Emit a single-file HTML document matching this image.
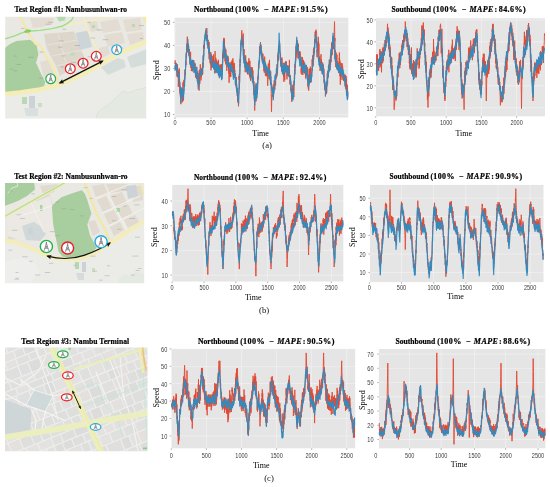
<!DOCTYPE html>
<html lang="en"><head><meta charset="utf-8"><title>Test regions speed prediction</title>
<style>
html,body{margin:0;padding:0;background:#fff;}
body{width:550px;height:487px;overflow:hidden;position:relative;}
svg{position:absolute;left:0;top:0;display:block;}
.tk{font-family:"Liberation Sans",sans-serif;font-size:6.8px;fill:#3a3a3a;}
.tt{font-family:"Liberation Serif",serif;font-weight:bold;font-size:9px;fill:#000;stroke:#000;stroke-width:0.22px;}
.tm{letter-spacing:0.45px;font-size:8.6px;}
.mt{font-family:"Liberation Serif",serif;font-weight:bold;}
.mi{font-family:"Liberation Serif",serif;font-weight:bold;font-style:italic;}
.al{font-family:"Liberation Serif",serif;font-size:8px;fill:#000;}
.cap{font-family:"Liberation Serif",serif;font-size:8.7px;fill:#111;}
</style></head>
<body>
<svg width="550" height="487" viewBox="0 0 550 487">
<defs>
<clipPath id="c1"><rect x="5.2" y="16.8" width="141" height="101.6"/></clipPath>
<clipPath id="c2"><rect x="5" y="183" width="139.2" height="100.2"/></clipPath>
<clipPath id="c3"><rect x="5" y="347.6" width="142.6" height="103.6"/></clipPath>
<filter id="bl" x="-5%" y="-5%" width="110%" height="110%"><feGaussianBlur stdDeviation="0.45"/></filter>
<g id="tower" fill="none" stroke="#7d7d7d" stroke-width="0.62" stroke-linecap="round" stroke-linejoin="round">
<path d="M0,-3.7 L-0.45,-1.3 L-2,3.5 M0,-3.7 L0.45,-1.3 L2,3.5 M-0.75,-0.2 L0.75,-0.2 M-1.25,1.5 L1.25,1.5 M-0.75,-0.2 L1.25,1.5 M0.75,-0.2 L-1.25,1.5 M0,-3.7 L0,-1.6"/>
</g>
<marker id="ah" viewBox="0 0 10 10" refX="8.5" refY="5" markerUnits="userSpaceOnUse" markerWidth="5.2" markerHeight="4.6" orient="auto-start-reverse"><path d="M0,0.8 L10,5 L0,9.2 L2.2,5 Z" fill="#111"/></marker>
<marker id="ah3" viewBox="0 0 10 10" refX="8.5" refY="5" markerUnits="userSpaceOnUse" markerWidth="4" markerHeight="3.4" orient="auto-start-reverse"><path d="M0,0.8 L10,5 L0,9.2 L2.2,5 Z" fill="#111"/></marker>
<marker id="ah1" viewBox="0 0 10 10" refX="7.6" refY="5" markerUnits="userSpaceOnUse" markerWidth="6" markerHeight="5" orient="auto-start-reverse"><path d="M0,0.6 L10,5 L0,9.4 L1.6,5 Z" fill="#111"/></marker>
</defs>
<text class="tt" x="70.8" y="12.2" text-anchor="middle" textLength="112.5" lengthAdjust="spacingAndGlyphs">Test Region #1: Nambusunhwan-ro</text>
<g clip-path="url(#c1)"><g filter="url(#bl)">
<rect x="0" y="12" width="152" height="112" fill="#EAE8E3"/>
<polygon points="3,94.2 20,92.5 40,89.5 58.5,85 72,79.5 84,73.8 96,66.8 107,59.8 122,52 140,44.5 150,40 150,122 0,122" fill="#EBECE8" />
<polygon points="96,122 98,112 106,106 114,100 118,96 123,91 128,93 136,90 150,86 150,122" fill="#E4E9E2" />
<polyline points="96,118 98,112 106,106 114,100 118,96 123,91 128,93 136,90 148,87" fill="none" stroke="#D6DFD3" stroke-width="0.7" stroke-linecap="round" stroke-linejoin="round" />
<polygon points="44,34 74,31.5 77,40 82,52 86,60 76,66 66,72 60,76 56,66 50,55 46,46" fill="#DDD6CA" />
<polyline points="47,45 78,40" fill="none" stroke="#E9E5DE" stroke-width="0.8" stroke-linecap="round" stroke-linejoin="round" />
<polyline points="52,56 82,50" fill="none" stroke="#E9E5DE" stroke-width="0.8" stroke-linecap="round" stroke-linejoin="round" />
<polyline points="57,66 86,58" fill="none" stroke="#E9E5DE" stroke-width="0.8" stroke-linecap="round" stroke-linejoin="round" />
<polyline points="58,34 68,70" fill="none" stroke="#E9E5DE" stroke-width="0.8" stroke-linecap="round" stroke-linejoin="round" />
<polygon points="30,18 54,18 52,24 42,27 33,28" fill="#E2DCD2" />
<polygon points="100,22 118,19 121,30 103,33" fill="#E2DCD2" />
<polygon points="104,35 122,32 125,43 108,47" fill="#E2DCD2" />
<polygon points="123,20 140,18 142,30 126,32" fill="#E2DCD2" />
<polygon points="127,34 143,32 144,40 130,45" fill="#E2DCD2" />
<polygon points="99,48 108,46 110,54 101,58" fill="#E2DCD2" />
<polygon points="40,62 48,60 54,74 50,80 44,78" fill="#E2DCD2" />
<polygon points="88,22 97,21 99,30 91,32" fill="#E2DCD2" />
<polygon points="75.5,33 88,30.5 92,47 80,50" fill="#CDD5D8" />
<polygon points="101,67 118,58 124,60 126,67 108,75" fill="#D5DDDB" />
<polygon points="127,57 147,49 147,64 131,68" fill="#D5DDDB" />
<polygon points="3,49.5 10,44 16.4,41 30,39.7 36.5,44.5 38.4,54.5 36,62.7 40.9,73.6 45.2,82 43.6,88 28,91.3 3,94" fill="#A8CE9F" />
<polygon points="56,16 66,16 64.5,20.5 59,21.5" fill="#B5D9AC" />
<polygon points="92,25 95,25 95,28 92,28" fill="#B5DDAC" />
<polygon points="132,24 135,24 135,27 132,27" fill="#B5DDAC" />
<polygon points="70,53 74,52 75,55 71,56" fill="#BDDCB5" />
<polygon points="22,97 27,97 27,104 22,104" fill="#B9D9B4" />
<polygon points="29,96 35,96 35,108 29,108" fill="#CBD3D6" />
<polygon points="24,108 38,108 38,116 26,116" fill="#D9DEDF" />
<polygon points="38,103 42,103 42,107 38,107" fill="#C5DFC0" />
<polyline points="66,25 83.6,22 100,18.6 112,16" fill="none" stroke="#F4EEBC" stroke-width="1.7" stroke-linecap="round" stroke-linejoin="round" />
<polyline points="83,16 88,31 94.3,44 96.7,47.5 100,60" fill="none" stroke="#F4EEBC" stroke-width="1.5" stroke-linecap="round" stroke-linejoin="round" />
<polyline points="19,15 27.5,31.2 35.5,44 40.2,45.5 46,56.6 53.3,66.8 57.6,80 58.5,85" fill="none" stroke="#F3EAA6" stroke-width="2.0" stroke-linecap="round" stroke-linejoin="round" />
<polyline points="3,94.2 20,92.5 40,89.5 58.5,85 72,79.5 84,73.8 96,66.8 107,59.8 122,52 140,44.5 150,40" fill="none" stroke="#F4EDB6" stroke-width="4.4" stroke-linecap="round" stroke-linejoin="round" />
<polygon points="143,16 147,16 147,23 144,22.5" fill="#F3EAA6" />
<polyline points="3,39.6 14,36.2 22,32.8 27.5,31.2 40,30.4 52,28.6 61.8,26.3 67,23.6 71.6,20.3 74,15" fill="none" stroke="#9BE084" stroke-width="1.4" stroke-linecap="round" stroke-linejoin="round" />
<ellipse cx="27.6" cy="31.2" rx="3.4" ry="1.4" fill="#7ED068" transform="rotate(-12 27.6 31.2)"/>
<circle cx="26.8" cy="29.6" r="0.9" fill="#E8B84B"/><circle cx="28.6" cy="32.8" r="0.8" fill="#E8B84B"/>
<rect x="39.4" y="51.6" width="4.1" height="1" fill="#8f8f8a" opacity="0.4"/>
<rect x="87.7" y="56.3" width="3.2" height="1" fill="#8f8f8a" opacity="0.4"/>
<rect x="9.7" y="68.6" width="3.8" height="1" fill="#8f8f8a" opacity="0.4"/>
<rect x="38.9" y="77.7" width="4.4" height="1" fill="#8f8f8a" opacity="0.4"/>
<rect x="118.4" y="47.6" width="4.9" height="1" fill="#8f8f8a" opacity="0.4"/>
<rect x="27.9" y="56.8" width="5.6" height="1" fill="#8f8f8a" opacity="0.4"/>
<rect x="77.1" y="63.0" width="5.0" height="1" fill="#8f8f8a" opacity="0.4"/>
<rect x="16.5" y="64.0" width="4.8" height="1" fill="#8f8f8a" opacity="0.4"/>
<rect x="47.8" y="21.8" width="5.6" height="1" fill="#8f8f8a" opacity="0.4"/>
<rect x="70.4" y="61.7" width="5.6" height="1" fill="#8f8f8a" opacity="0.4"/>
<rect x="60.1" y="66.5" width="4.3" height="1" fill="#8f8f8a" opacity="0.4"/>
<rect x="20.9" y="27.9" width="3.7" height="1" fill="#8f8f8a" opacity="0.4"/>
<rect x="90.7" y="37.5" width="4.5" height="1" fill="#8f8f8a" opacity="0.4"/>
<rect x="58.9" y="40.4" width="4.8" height="1" fill="#8f8f8a" opacity="0.4"/>
<rect x="96.6" y="29.5" width="5.6" height="1" fill="#8f8f8a" opacity="0.4"/>
<rect x="83.1" y="61.4" width="3.6" height="1" fill="#8f8f8a" opacity="0.4"/>
<rect x="45.6" y="23.7" width="5.6" height="1" fill="#8f8f8a" opacity="0.4"/>
<rect x="138.7" y="25.1" width="5.4" height="1" fill="#8f8f8a" opacity="0.4"/>
<rect x="62.2" y="28.7" width="3.9" height="1" fill="#8f8f8a" opacity="0.4"/>
<rect x="13.8" y="55.6" width="3.1" height="1" fill="#8f8f8a" opacity="0.4"/>
<rect x="102.8" y="39.2" width="5.6" height="1" fill="#8f8f8a" opacity="0.4"/>
<rect x="139.8" y="38.0" width="3.2" height="1" fill="#8f8f8a" opacity="0.4"/>
<rect x="87.2" y="21.8" width="3.6" height="1" fill="#8f8f8a" opacity="0.4"/>
<rect x="61.8" y="55.4" width="3.5" height="1" fill="#8f8f8a" opacity="0.4"/>
<rect x="13.6" y="70.3" width="3.9" height="1" fill="#8f8f8a" opacity="0.4"/>
<rect x="57.9" y="46.7" width="4.6" height="1" fill="#8f8f8a" opacity="0.4"/>
<rect x="93.0" y="54.5" width="4.7" height="1" fill="#8f8f8a" opacity="0.4"/>
<rect x="74.9" y="45.0" width="5.2" height="1" fill="#8f8f8a" opacity="0.4"/>
</g>
<line x1="59.8" y1="82.9" x2="102.6" y2="61.1" stroke="#111" stroke-width="1.3" marker-start="url(#ah1)" marker-end="url(#ah1)"/>
<ellipse cx="50.7" cy="78.8" rx="4.9" ry="4.9" fill="#fff" stroke="#22B14C" stroke-width="1.25"/><use href="#tower" transform="translate(50.7,78.89999999999999) scale(0.98,0.98)"/>
<ellipse cx="70.3" cy="68.7" rx="4.9" ry="4.9" fill="#fff" stroke="#ED1C24" stroke-width="1.25"/><use href="#tower" transform="translate(70.3,68.8) scale(0.98,0.98)"/>
<ellipse cx="83.1" cy="63.2" rx="4.9" ry="4.9" fill="#fff" stroke="#ED1C24" stroke-width="1.25"/><use href="#tower" transform="translate(83.1,63.300000000000004) scale(0.98,0.98)"/>
<ellipse cx="96.3" cy="56.3" rx="4.9" ry="4.9" fill="#fff" stroke="#ED1C24" stroke-width="1.25"/><use href="#tower" transform="translate(96.3,56.4) scale(0.98,0.98)"/>
<ellipse cx="116.7" cy="49.7" rx="4.9" ry="4.9" fill="#fff" stroke="#27A9E1" stroke-width="1.25"/><use href="#tower" transform="translate(116.7,49.800000000000004) scale(0.98,0.98)"/>
</g>
<text class="tt" x="70.9" y="178.8" text-anchor="middle" textLength="113.4" lengthAdjust="spacingAndGlyphs">Test Region #2: Nambusunhwan-ro</text>
<g clip-path="url(#c2)"><g filter="url(#bl)">
<rect x="0" y="178" width="150" height="110" fill="#EAE8E3"/>
<polygon points="2,239.6 14,242.2 27.3,246.6 46.4,255.6 58,258.6 68.2,259.7 80,258.5 90,255.2 100,250.2 109,244.2 128.2,231.4 146,220.6 150,290 0,290" fill="#EBECE8" />
<polygon points="118,290 119,278 124,274 130,276 136,272 146,274 146,290" fill="#E4E9E2" />
<polygon points="5,262 20,258 34,262 40,272 30,283 5,283" fill="#EEEFEC" />
<polygon points="92,186 104,184 108,194 96,197" fill="#E0DAD0" />
<polygon points="106,184 128,184 130,190 110,193" fill="#E0DAD0" />
<polygon points="97,200 106,196 112,208 103,212" fill="#E0DAD0" />
<polygon points="110,196 122,192 127,203 116,208" fill="#E0DAD0" />
<polygon points="104,214 114,210 119,220 109,225" fill="#E0DAD0" />
<polygon points="117,209 128,204 133,214 122,219" fill="#E0DAD0" />
<polygon points="110,227 120,222 124,230 114,236" fill="#E0DAD0" />
<polygon points="124,220 135,215 139,222 128,228" fill="#E0DAD0" />
<polygon points="131,186 142,186 143,200 133,202" fill="#E0DAD0" />
<polygon points="88,222 95,220 100,232 93,236" fill="#E0DAD0" />
<polygon points="40,186 58,184 54,192 44,196" fill="#E0DAD0" />
<polygon points="36,200 50,194 52,204 40,210" fill="#E0DAD0" />
<polygon points="8,222 20,218 24,226 10,232" fill="#E0DAD0" />
<polygon points="8,234 20,232 22,238 8,240" fill="#E0DAD0" />
<polygon points="42,212 52,210 53,226 46,232" fill="#E0DAD0" />
<polygon points="126,186 136,185 138,196 128,199" fill="#CBD3D6" />
<polygon points="8,214 30,204 50,196 52,206 54,226 56,240 44,244 20,240 8,236" fill="#ECE8E3" />
<polygon points="22,226 34,222 40,226 46,234 40,241 26,240" fill="#D0D8DA" />
<polygon points="28,228 32,227 33,234 29,235" fill="#CBD3D6" />
<polygon points="72.3,193.2 81.8,190.3 85,194 87.3,200 91.4,213.6 87.3,224.5 90,235.5 96.8,247.7 90,254 81.8,257.5 68,259.7 62,256 58.6,251.8 55.9,238.2 53.2,224.5 51.8,205.5 61.4,197.3" fill="#A8CE9F" />
<polygon points="3,181 34,181 35,189.5 27,196 18,201 10,204 3,206.5" fill="#A8CE9F" />
<polyline points="8,193 12,188 18,186 17,183" fill="none" stroke="#D9E8D3" stroke-width="1.0" stroke-linecap="round" stroke-linejoin="round" />
<polygon points="116,208 120,208 120,212 116,212" fill="#A9D59F" />
<polygon points="40,205 42.5,205 42.5,211 40,211" fill="#A9D59F" />
<polygon points="75,262 79,262 79,269 75,269" fill="#B5D9AE" />
<polygon points="82,262 86,262 86,272 82,272" fill="#CBD3D6" />
<polygon points="92,268 95,268 95,272 92,272" fill="#C5DFC0" />
<polygon points="76,273 84,273 84,280 78,280" fill="#D6DCDD" />
<polyline points="96,198 130,184" fill="none" stroke="#F6F4EF" stroke-width="0.9" stroke-linecap="round" stroke-linejoin="round" />
<polyline points="102,213 140,196" fill="none" stroke="#F6F4EF" stroke-width="0.9" stroke-linecap="round" stroke-linejoin="round" />
<polyline points="108,226 144,208" fill="none" stroke="#F6F4EF" stroke-width="0.9" stroke-linecap="round" stroke-linejoin="round" />
<polyline points="108,194 128,232" fill="none" stroke="#F6F4EF" stroke-width="0.9" stroke-linecap="round" stroke-linejoin="round" />
<polyline points="20,216 52,206" fill="none" stroke="#F6F4EF" stroke-width="0.9" stroke-linecap="round" stroke-linejoin="round" />
<polyline points="30,200 44,232" fill="none" stroke="#F6F4EF" stroke-width="0.9" stroke-linecap="round" stroke-linejoin="round" />
<polyline points="84,181 90.5,197.7 97.3,215.5 102.7,225 106,232 109.6,239.5" fill="none" stroke="#F3E89E" stroke-width="2.0" stroke-linecap="round" stroke-linejoin="round" />
<polyline points="139.5,184 141.5,189 145,196" fill="none" stroke="#F3E89E" stroke-width="1.6" stroke-linecap="round" stroke-linejoin="round" />
<polyline points="2,239.6 14,242.2 27.3,246.6 46.4,255.6 58,258.6 68.2,259.7 80,258.5 90,255.2 100,250.2 109,244.2 128.2,231.4 146,220.6" fill="none" stroke="#F4EDB8" stroke-width="3.8" stroke-linecap="round" stroke-linejoin="round" />
<polyline points="3,217.3 20,207.8 40,196.6 55,188.3 66,182" fill="none" stroke="#F4ECB2" stroke-width="2.6" stroke-linecap="round" stroke-linejoin="round" />
<polyline points="3,217.3 20,207.8 40,196.6 55,188.3 66,182" fill="none" stroke="#A9E092" stroke-width="1.1" stroke-linecap="round" stroke-linejoin="round" />
<rect x="90.2" y="255.7" width="5.4" height="0.9" fill="#9a9a96" opacity="0.45"/>
<rect x="132.4" y="255.6" width="5.8" height="0.9" fill="#9a9a96" opacity="0.45"/>
<rect x="11.8" y="229.8" width="5.8" height="0.9" fill="#9a9a96" opacity="0.45"/>
<rect x="93.7" y="270.7" width="3.3" height="0.9" fill="#9a9a96" opacity="0.45"/>
<rect x="69.9" y="209.2" width="4.6" height="0.9" fill="#9a9a96" opacity="0.45"/>
<rect x="83.8" y="187.2" width="3.7" height="0.9" fill="#9a9a96" opacity="0.45"/>
<rect x="44.9" y="272.1" width="5.3" height="0.9" fill="#9a9a96" opacity="0.45"/>
<rect x="29.1" y="260.9" width="3.4" height="0.9" fill="#9a9a96" opacity="0.45"/>
<rect x="89.5" y="197.9" width="3.0" height="0.9" fill="#9a9a96" opacity="0.45"/>
<rect x="123.0" y="205.7" width="3.6" height="0.9" fill="#9a9a96" opacity="0.45"/>
<rect x="137.7" y="268.0" width="3.9" height="0.9" fill="#9a9a96" opacity="0.45"/>
<rect x="134.9" y="236.7" width="5.0" height="0.9" fill="#9a9a96" opacity="0.45"/>
<rect x="35.0" y="274.5" width="5.1" height="0.9" fill="#9a9a96" opacity="0.45"/>
<rect x="135.6" y="270.0" width="3.9" height="0.9" fill="#9a9a96" opacity="0.45"/>
<rect x="55.7" y="201.6" width="3.4" height="0.9" fill="#9a9a96" opacity="0.45"/>
<rect x="16.6" y="214.3" width="4.8" height="0.9" fill="#9a9a96" opacity="0.45"/>
<rect x="8.4" y="249.7" width="4.0" height="0.9" fill="#9a9a96" opacity="0.45"/>
<rect x="48.9" y="262.9" width="4.4" height="0.9" fill="#9a9a96" opacity="0.45"/>
<rect x="49.7" y="231.2" width="5.1" height="0.9" fill="#9a9a96" opacity="0.45"/>
<rect x="15.5" y="277.7" width="3.1" height="0.9" fill="#9a9a96" opacity="0.45"/>
<rect x="107.0" y="265.4" width="3.1" height="0.9" fill="#9a9a96" opacity="0.45"/>
<rect x="112.0" y="220.4" width="4.7" height="0.9" fill="#9a9a96" opacity="0.45"/>
<rect x="9.2" y="190.4" width="3.5" height="0.9" fill="#9a9a96" opacity="0.45"/>
<rect x="134.1" y="204.5" width="5.3" height="0.9" fill="#9a9a96" opacity="0.45"/>
<rect x="130.7" y="274.6" width="4.0" height="0.9" fill="#9a9a96" opacity="0.45"/>
<rect x="54.8" y="235.3" width="5.3" height="0.9" fill="#9a9a96" opacity="0.45"/>
<rect x="22.3" y="256.3" width="5.4" height="0.9" fill="#9a9a96" opacity="0.45"/>
<rect x="121.5" y="189.4" width="5.8" height="0.9" fill="#9a9a96" opacity="0.45"/>
<rect x="20.0" y="218.0" width="4.8" height="0.9" fill="#9a9a96" opacity="0.45"/>
<rect x="129.2" y="218.0" width="5.8" height="0.9" fill="#9a9a96" opacity="0.45"/>
<rect x="80.0" y="215.4" width="4.0" height="0.9" fill="#9a9a96" opacity="0.45"/>
<rect x="31.4" y="193.4" width="3.4" height="0.9" fill="#9a9a96" opacity="0.45"/>
<rect x="99.0" y="279.7" width="3.5" height="0.9" fill="#9a9a96" opacity="0.45"/>
<rect x="14.4" y="278.7" width="4.6" height="0.9" fill="#9a9a96" opacity="0.45"/>
<rect x="61.6" y="208.3" width="4.8" height="0.9" fill="#9a9a96" opacity="0.45"/>
<rect x="117.1" y="228.8" width="4.3" height="0.9" fill="#9a9a96" opacity="0.45"/>
<rect x="15.4" y="272.1" width="3.1" height="0.9" fill="#9a9a96" opacity="0.45"/>
<rect x="73.2" y="264.8" width="3.4" height="0.9" fill="#9a9a96" opacity="0.45"/>
<rect x="104.6" y="275.3" width="4.9" height="0.9" fill="#9a9a96" opacity="0.45"/>
<rect x="112.0" y="196.0" width="4.3" height="0.9" fill="#9a9a96" opacity="0.45"/>
</g>
<path d="M47.4,256.1 C58,258.9 72,259.4 84,255.4 C94,252 104,246.8 110,243" fill="none" stroke="#111" stroke-width="1.2" marker-start="url(#ah1)" marker-end="url(#ah1)"/>
<ellipse cx="46.4" cy="246.5" rx="6.1" ry="6.1" fill="#fff" stroke="#22B14C" stroke-width="1.4"/><use href="#tower" transform="translate(46.4,246.6) scale(1.15,1.15)"/>
<ellipse cx="67.6" cy="248.0" rx="6.0" ry="6.0" fill="#fff" stroke="#ED1C24" stroke-width="1.4"/><use href="#tower" transform="translate(67.6,248.1) scale(1.15,1.15)"/>
<ellipse cx="101.1" cy="241.8" rx="6.1" ry="6.1" fill="#fff" stroke="#27A9E1" stroke-width="1.4"/><use href="#tower" transform="translate(101.1,241.9) scale(1.15,1.15)"/>
</g>
<text class="tt" x="75.2" y="343.8" text-anchor="middle" textLength="107.9" lengthAdjust="spacingAndGlyphs">Test Region #3: Nambu Terminal</text>
<g clip-path="url(#c3)"><g filter="url(#bl)">
<rect x="0" y="343" width="152" height="112" fill="#EEEEED"/>
<g transform="rotate(-22 76 400)">
<rect x="-40.0" y="300.0" width="11.4" height="8.2" fill="#DCDCDB"/>
<rect x="-27.5" y="300.0" width="10.5" height="8.2" fill="#E4E0DD"/>
<rect x="-15.9" y="300.0" width="8.4" height="8.2" fill="#E4E0DD"/>
<rect x="-6.4" y="300.0" width="10.7" height="8.2" fill="#E4E0DD"/>
<rect x="5.4" y="300.0" width="13.2" height="8.2" fill="#E0E0DF"/>
<rect x="19.8" y="300.0" width="10.5" height="8.2" fill="#DEDEDD"/>
<rect x="31.3" y="300.0" width="7.6" height="8.2" fill="#DFDFDF"/>
<rect x="40.1" y="300.0" width="12.0" height="8.2" fill="#E4E0DD"/>
<rect x="53.1" y="300.0" width="14.8" height="8.2" fill="#DCDCDB"/>
<rect x="69.0" y="300.0" width="12.1" height="8.2" fill="#E4E0DD"/>
<rect x="82.2" y="300.0" width="12.1" height="8.2" fill="#E4E0DD"/>
<rect x="95.4" y="300.0" width="7.0" height="8.2" fill="#E4E0DD"/>
<rect x="103.5" y="300.0" width="7.4" height="8.2" fill="#E0E0DF"/>
<rect x="112.1" y="300.0" width="8.4" height="8.2" fill="#DEDEDD"/>
<rect x="121.6" y="300.0" width="11.7" height="8.2" fill="#DCDCDB"/>
<rect x="134.4" y="300.0" width="9.5" height="8.2" fill="#E4E0DD"/>
<rect x="145.0" y="300.0" width="13.6" height="8.2" fill="#E4E0DD"/>
<rect x="159.7" y="300.0" width="8.8" height="8.2" fill="#E3E2E0"/>
<rect x="169.6" y="300.0" width="10.9" height="8.2" fill="#DFDFDF"/>
<rect x="181.6" y="300.0" width="7.6" height="8.2" fill="#DFDFDF"/>
<rect x="190.3" y="300.0" width="9.1" height="8.2" fill="#E4E0DD"/>
<rect x="-40.0" y="309.3" width="13.6" height="10.9" fill="#DFDFDF"/>
<rect x="-25.3" y="309.3" width="8.9" height="10.9" fill="#DEDEDD"/>
<rect x="-15.2" y="309.3" width="11.0" height="10.9" fill="#E0E0DF"/>
<rect x="-3.1" y="309.3" width="7.5" height="10.9" fill="#E0E0DF"/>
<rect x="5.4" y="309.3" width="10.1" height="10.9" fill="#E3E2E0"/>
<rect x="16.6" y="309.3" width="10.0" height="10.9" fill="#E0E0DF"/>
<rect x="27.7" y="309.3" width="13.7" height="10.9" fill="#E0E0DF"/>
<rect x="42.5" y="309.3" width="8.6" height="10.9" fill="#E0E0DF"/>
<rect x="52.2" y="309.3" width="10.7" height="10.9" fill="#DFDFDF"/>
<rect x="64.0" y="309.3" width="10.1" height="10.9" fill="#E0E0DF"/>
<rect x="75.1" y="309.3" width="11.4" height="10.9" fill="#DEDEDD"/>
<rect x="87.7" y="309.3" width="13.1" height="10.9" fill="#E3E2E0"/>
<rect x="101.9" y="309.3" width="9.6" height="10.9" fill="#E3E2E0"/>
<rect x="112.6" y="309.3" width="9.6" height="10.9" fill="#DCDCDB"/>
<rect x="123.3" y="309.3" width="13.0" height="10.9" fill="#E0E0DF"/>
<rect x="137.3" y="309.3" width="8.0" height="10.9" fill="#DFDFDF"/>
<rect x="146.4" y="309.3" width="7.7" height="10.9" fill="#E0E0DF"/>
<rect x="155.2" y="309.3" width="10.6" height="10.9" fill="#DCDCDB"/>
<rect x="166.9" y="309.3" width="8.3" height="10.9" fill="#E4E0DD"/>
<rect x="176.3" y="309.3" width="8.4" height="10.9" fill="#E4E0DD"/>
<rect x="185.9" y="309.3" width="8.4" height="10.9" fill="#DFDFDF"/>
<rect x="195.4" y="309.3" width="13.1" height="10.9" fill="#DCDCDB"/>
<rect x="-40.0" y="321.2" width="7.8" height="9.1" fill="#DCDCDB"/>
<rect x="-31.1" y="321.2" width="14.8" height="9.1" fill="#E0E0DF"/>
<rect x="-15.1" y="321.2" width="9.1" height="9.1" fill="#E4E0DD"/>
<rect x="-5.0" y="321.2" width="9.3" height="9.1" fill="#E0E0DF"/>
<rect x="5.4" y="321.2" width="8.6" height="9.1" fill="#DCDCDB"/>
<rect x="15.1" y="321.2" width="14.9" height="9.1" fill="#E4E0DD"/>
<rect x="31.1" y="321.2" width="12.0" height="9.1" fill="#E0E0DF"/>
<rect x="44.2" y="321.2" width="7.2" height="9.1" fill="#DEDEDD"/>
<rect x="52.6" y="321.2" width="8.6" height="9.1" fill="#E3E2E0"/>
<rect x="62.3" y="321.2" width="7.0" height="9.1" fill="#E4E0DD"/>
<rect x="70.4" y="321.2" width="9.5" height="9.1" fill="#E3E2E0"/>
<rect x="81.0" y="321.2" width="10.0" height="9.1" fill="#E0E0DF"/>
<rect x="92.1" y="321.2" width="7.6" height="9.1" fill="#E4E0DD"/>
<rect x="100.8" y="321.2" width="12.0" height="9.1" fill="#E0E0DF"/>
<rect x="113.9" y="321.2" width="11.7" height="9.1" fill="#E3E2E0"/>
<rect x="126.7" y="321.2" width="11.9" height="9.1" fill="#DEDEDD"/>
<rect x="139.7" y="321.2" width="14.6" height="9.1" fill="#DCDCDB"/>
<rect x="155.3" y="321.2" width="13.6" height="9.1" fill="#DEDEDD"/>
<rect x="170.0" y="321.2" width="13.8" height="9.1" fill="#DEDEDD"/>
<rect x="184.9" y="321.2" width="11.9" height="9.1" fill="#E3E2E0"/>
<rect x="198.0" y="321.2" width="14.2" height="9.1" fill="#E4E0DD"/>
<rect x="-40.0" y="331.5" width="8.4" height="7.1" fill="#DFDFDF"/>
<rect x="-30.5" y="331.5" width="11.9" height="7.1" fill="#E4E0DD"/>
<rect x="-17.4" y="331.5" width="8.5" height="7.1" fill="#DCDCDB"/>
<rect x="-7.9" y="331.5" width="14.0" height="7.1" fill="#E4E0DD"/>
<rect x="7.2" y="331.5" width="7.5" height="7.1" fill="#E0E0DF"/>
<rect x="15.8" y="331.5" width="7.7" height="7.1" fill="#E0E0DF"/>
<rect x="24.6" y="331.5" width="11.0" height="7.1" fill="#E3E2E0"/>
<rect x="36.7" y="331.5" width="8.8" height="7.1" fill="#DFDFDF"/>
<rect x="46.6" y="331.5" width="10.0" height="7.1" fill="#DCDCDB"/>
<rect x="57.8" y="331.5" width="13.5" height="7.1" fill="#E4E0DD"/>
<rect x="72.4" y="331.5" width="10.8" height="7.1" fill="#E4E0DD"/>
<rect x="84.3" y="331.5" width="8.3" height="7.1" fill="#DFDFDF"/>
<rect x="93.7" y="331.5" width="14.7" height="7.1" fill="#DEDEDD"/>
<rect x="109.5" y="331.5" width="8.7" height="7.1" fill="#E4E0DD"/>
<rect x="119.3" y="331.5" width="12.1" height="7.1" fill="#E4E0DD"/>
<rect x="132.6" y="331.5" width="11.8" height="7.1" fill="#E3E2E0"/>
<rect x="145.5" y="331.5" width="8.6" height="7.1" fill="#DEDEDD"/>
<rect x="155.2" y="331.5" width="12.9" height="7.1" fill="#E0E0DF"/>
<rect x="169.2" y="331.5" width="9.1" height="7.1" fill="#DCDCDB"/>
<rect x="179.3" y="331.5" width="8.9" height="7.1" fill="#E0E0DF"/>
<rect x="189.3" y="331.5" width="8.3" height="7.1" fill="#E3E2E0"/>
<rect x="198.7" y="331.5" width="11.1" height="7.1" fill="#DEDEDD"/>
<rect x="-40.0" y="339.7" width="8.0" height="6.4" fill="#DCDCDB"/>
<rect x="-30.9" y="339.7" width="14.7" height="6.4" fill="#DFDFDF"/>
<rect x="-15.0" y="339.7" width="12.8" height="6.4" fill="#E4E0DD"/>
<rect x="-1.2" y="339.7" width="11.6" height="6.4" fill="#DEDEDD"/>
<rect x="11.5" y="339.7" width="11.6" height="6.4" fill="#E0E0DF"/>
<rect x="24.2" y="339.7" width="10.7" height="6.4" fill="#E3E2E0"/>
<rect x="36.0" y="339.7" width="12.5" height="6.4" fill="#E0E0DF"/>
<rect x="49.6" y="339.7" width="7.1" height="6.4" fill="#DFDFDF"/>
<rect x="57.8" y="339.7" width="7.5" height="6.4" fill="#E0E0DF"/>
<rect x="66.4" y="339.7" width="12.7" height="6.4" fill="#E3E2E0"/>
<rect x="80.2" y="339.7" width="8.0" height="6.4" fill="#E0E0DF"/>
<rect x="89.3" y="339.7" width="7.5" height="6.4" fill="#E4E0DD"/>
<rect x="97.9" y="339.7" width="9.8" height="6.4" fill="#E0E0DF"/>
<rect x="108.9" y="339.7" width="14.1" height="6.4" fill="#DFDFDF"/>
<rect x="124.1" y="339.7" width="12.8" height="6.4" fill="#DEDEDD"/>
<rect x="138.0" y="339.7" width="13.2" height="6.4" fill="#E3E2E0"/>
<rect x="152.3" y="339.7" width="9.7" height="6.4" fill="#DFDFDF"/>
<rect x="163.1" y="339.7" width="10.7" height="6.4" fill="#E0E0DF"/>
<rect x="174.9" y="339.7" width="13.9" height="6.4" fill="#DCDCDB"/>
<rect x="189.9" y="339.7" width="14.5" height="6.4" fill="#E0E0DF"/>
<rect x="-40.0" y="347.2" width="11.5" height="10.2" fill="#E4E0DD"/>
<rect x="-27.4" y="347.2" width="12.2" height="10.2" fill="#DCDCDB"/>
<rect x="-14.1" y="347.2" width="11.6" height="10.2" fill="#E4E0DD"/>
<rect x="-1.5" y="347.2" width="7.5" height="10.2" fill="#E0E0DF"/>
<rect x="7.1" y="347.2" width="12.0" height="10.2" fill="#E3E2E0"/>
<rect x="20.2" y="347.2" width="13.9" height="10.2" fill="#DFDFDF"/>
<rect x="35.3" y="347.2" width="9.5" height="10.2" fill="#DFDFDF"/>
<rect x="45.9" y="347.2" width="12.5" height="10.2" fill="#DCDCDB"/>
<rect x="59.5" y="347.2" width="10.4" height="10.2" fill="#E4E0DD"/>
<rect x="71.0" y="347.2" width="7.6" height="10.2" fill="#E4E0DD"/>
<rect x="79.7" y="347.2" width="7.1" height="10.2" fill="#E4E0DD"/>
<rect x="87.9" y="347.2" width="7.6" height="10.2" fill="#E0E0DF"/>
<rect x="96.6" y="347.2" width="8.7" height="10.2" fill="#DFDFDF"/>
<rect x="106.4" y="347.2" width="7.8" height="10.2" fill="#E4E0DD"/>
<rect x="115.3" y="347.2" width="12.2" height="10.2" fill="#DCDCDB"/>
<rect x="128.6" y="347.2" width="8.9" height="10.2" fill="#E0E0DF"/>
<rect x="138.7" y="347.2" width="9.8" height="10.2" fill="#DEDEDD"/>
<rect x="149.6" y="347.2" width="12.3" height="10.2" fill="#DEDEDD"/>
<rect x="163.0" y="347.2" width="11.0" height="10.2" fill="#E3E2E0"/>
<rect x="175.2" y="347.2" width="12.2" height="10.2" fill="#DCDCDB"/>
<rect x="188.5" y="347.2" width="10.9" height="10.2" fill="#DEDEDD"/>
<rect x="-40.0" y="358.5" width="12.2" height="7.5" fill="#DEDEDD"/>
<rect x="-26.7" y="358.5" width="12.0" height="7.5" fill="#DEDEDD"/>
<rect x="-13.6" y="358.5" width="13.9" height="7.5" fill="#DCDCDB"/>
<rect x="1.4" y="358.5" width="8.7" height="7.5" fill="#E3E2E0"/>
<rect x="11.2" y="358.5" width="8.6" height="7.5" fill="#DEDEDD"/>
<rect x="20.9" y="358.5" width="10.9" height="7.5" fill="#E0E0DF"/>
<rect x="32.9" y="358.5" width="12.6" height="7.5" fill="#E3E2E0"/>
<rect x="46.5" y="358.5" width="13.5" height="7.5" fill="#E0E0DF"/>
<rect x="61.1" y="358.5" width="10.5" height="7.5" fill="#E3E2E0"/>
<rect x="72.7" y="358.5" width="14.3" height="7.5" fill="#DCDCDB"/>
<rect x="88.1" y="358.5" width="10.0" height="7.5" fill="#E4E0DD"/>
<rect x="99.2" y="358.5" width="10.9" height="7.5" fill="#E3E2E0"/>
<rect x="111.1" y="358.5" width="12.6" height="7.5" fill="#E4E0DD"/>
<rect x="124.9" y="358.5" width="10.5" height="7.5" fill="#E0E0DF"/>
<rect x="136.5" y="358.5" width="13.5" height="7.5" fill="#E3E2E0"/>
<rect x="151.1" y="358.5" width="13.9" height="7.5" fill="#E0E0DF"/>
<rect x="166.1" y="358.5" width="12.3" height="7.5" fill="#E3E2E0"/>
<rect x="179.5" y="358.5" width="11.5" height="7.5" fill="#E3E2E0"/>
<rect x="192.1" y="358.5" width="12.1" height="7.5" fill="#E4E0DD"/>
<rect x="-40.0" y="367.1" width="8.0" height="6.0" fill="#DCDCDB"/>
<rect x="-30.9" y="367.1" width="8.4" height="6.0" fill="#E3E2E0"/>
<rect x="-21.4" y="367.1" width="8.8" height="6.0" fill="#DEDEDD"/>
<rect x="-11.5" y="367.1" width="13.3" height="6.0" fill="#DFDFDF"/>
<rect x="2.9" y="367.1" width="7.8" height="6.0" fill="#E0E0DF"/>
<rect x="11.8" y="367.1" width="11.9" height="6.0" fill="#DFDFDF"/>
<rect x="24.8" y="367.1" width="12.0" height="6.0" fill="#E3E2E0"/>
<rect x="38.0" y="367.1" width="14.6" height="6.0" fill="#DFDFDF"/>
<rect x="53.6" y="367.1" width="8.5" height="6.0" fill="#DCDCDB"/>
<rect x="63.2" y="367.1" width="8.9" height="6.0" fill="#DFDFDF"/>
<rect x="73.3" y="367.1" width="7.0" height="6.0" fill="#DCDCDB"/>
<rect x="81.3" y="367.1" width="11.2" height="6.0" fill="#E0E0DF"/>
<rect x="93.6" y="367.1" width="8.3" height="6.0" fill="#E3E2E0"/>
<rect x="103.1" y="367.1" width="13.1" height="6.0" fill="#E4E0DD"/>
<rect x="117.3" y="367.1" width="12.5" height="6.0" fill="#E4E0DD"/>
<rect x="130.9" y="367.1" width="10.9" height="6.0" fill="#DEDEDD"/>
<rect x="142.9" y="367.1" width="10.0" height="6.0" fill="#DFDFDF"/>
<rect x="154.0" y="367.1" width="14.1" height="6.0" fill="#E0E0DF"/>
<rect x="169.3" y="367.1" width="10.2" height="6.0" fill="#DFDFDF"/>
<rect x="180.6" y="367.1" width="10.0" height="6.0" fill="#DCDCDB"/>
<rect x="191.7" y="367.1" width="10.5" height="6.0" fill="#DFDFDF"/>
<rect x="-40.0" y="374.2" width="7.0" height="10.3" fill="#E4E0DD"/>
<rect x="-31.9" y="374.2" width="11.5" height="10.3" fill="#E4E0DD"/>
<rect x="-19.4" y="374.2" width="13.3" height="10.3" fill="#E3E2E0"/>
<rect x="-5.0" y="374.2" width="10.6" height="10.3" fill="#DFDFDF"/>
<rect x="6.7" y="374.2" width="14.8" height="10.3" fill="#E0E0DF"/>
<rect x="22.5" y="374.2" width="12.7" height="10.3" fill="#DFDFDF"/>
<rect x="36.3" y="374.2" width="14.3" height="10.3" fill="#E0E0DF"/>
<rect x="51.7" y="374.2" width="8.6" height="10.3" fill="#DCDCDB"/>
<rect x="61.4" y="374.2" width="14.7" height="10.3" fill="#E3E2E0"/>
<rect x="77.3" y="374.2" width="11.2" height="10.3" fill="#E3E2E0"/>
<rect x="89.6" y="374.2" width="9.0" height="10.3" fill="#DFDFDF"/>
<rect x="99.7" y="374.2" width="13.7" height="10.3" fill="#E3E2E0"/>
<rect x="114.5" y="374.2" width="10.9" height="10.3" fill="#E0E0DF"/>
<rect x="126.5" y="374.2" width="10.4" height="10.3" fill="#E4E0DD"/>
<rect x="138.1" y="374.2" width="10.3" height="10.3" fill="#E3E2E0"/>
<rect x="149.4" y="374.2" width="10.8" height="10.3" fill="#E0E0DF"/>
<rect x="161.3" y="374.2" width="8.6" height="10.3" fill="#E0E0DF"/>
<rect x="171.1" y="374.2" width="10.3" height="10.3" fill="#E0E0DF"/>
<rect x="182.5" y="374.2" width="8.3" height="10.3" fill="#E3E2E0"/>
<rect x="191.9" y="374.2" width="12.4" height="10.3" fill="#DEDEDD"/>
<rect x="-40.0" y="385.7" width="14.9" height="8.3" fill="#DFDFDF"/>
<rect x="-24.0" y="385.7" width="11.0" height="8.3" fill="#DFDFDF"/>
<rect x="-11.9" y="385.7" width="12.4" height="8.3" fill="#DCDCDB"/>
<rect x="1.7" y="385.7" width="11.5" height="8.3" fill="#DFDFDF"/>
<rect x="14.3" y="385.7" width="7.6" height="8.3" fill="#DEDEDD"/>
<rect x="23.0" y="385.7" width="10.4" height="8.3" fill="#E4E0DD"/>
<rect x="34.5" y="385.7" width="9.2" height="8.3" fill="#DFDFDF"/>
<rect x="44.8" y="385.7" width="11.4" height="8.3" fill="#DEDEDD"/>
<rect x="57.3" y="385.7" width="11.1" height="8.3" fill="#E4E0DD"/>
<rect x="69.5" y="385.7" width="9.0" height="8.3" fill="#DFDFDF"/>
<rect x="79.5" y="385.7" width="9.9" height="8.3" fill="#E4E0DD"/>
<rect x="90.6" y="385.7" width="8.6" height="8.3" fill="#DEDEDD"/>
<rect x="100.3" y="385.7" width="14.6" height="8.3" fill="#E4E0DD"/>
<rect x="116.0" y="385.7" width="9.1" height="8.3" fill="#DCDCDB"/>
<rect x="126.2" y="385.7" width="8.5" height="8.3" fill="#E4E0DD"/>
<rect x="135.8" y="385.7" width="7.8" height="8.3" fill="#E0E0DF"/>
<rect x="144.7" y="385.7" width="11.7" height="8.3" fill="#E0E0DF"/>
<rect x="157.6" y="385.7" width="11.2" height="8.3" fill="#E0E0DF"/>
<rect x="169.9" y="385.7" width="11.0" height="8.3" fill="#DCDCDB"/>
<rect x="182.0" y="385.7" width="11.3" height="8.3" fill="#E4E0DD"/>
<rect x="194.3" y="385.7" width="7.9" height="8.3" fill="#E0E0DF"/>
<rect x="-40.0" y="395.0" width="7.4" height="9.4" fill="#E4E0DD"/>
<rect x="-31.5" y="395.0" width="10.6" height="9.4" fill="#DCDCDB"/>
<rect x="-19.8" y="395.0" width="9.1" height="9.4" fill="#DCDCDB"/>
<rect x="-9.6" y="395.0" width="10.8" height="9.4" fill="#E3E2E0"/>
<rect x="2.3" y="395.0" width="10.4" height="9.4" fill="#DCDCDB"/>
<rect x="13.8" y="395.0" width="11.1" height="9.4" fill="#E0E0DF"/>
<rect x="26.0" y="395.0" width="8.4" height="9.4" fill="#E4E0DD"/>
<rect x="35.5" y="395.0" width="7.1" height="9.4" fill="#E3E2E0"/>
<rect x="43.7" y="395.0" width="7.9" height="9.4" fill="#E0E0DF"/>
<rect x="52.8" y="395.0" width="7.2" height="9.4" fill="#DEDEDD"/>
<rect x="61.1" y="395.0" width="8.7" height="9.4" fill="#DFDFDF"/>
<rect x="70.9" y="395.0" width="9.2" height="9.4" fill="#DFDFDF"/>
<rect x="81.1" y="395.0" width="9.7" height="9.4" fill="#E4E0DD"/>
<rect x="92.0" y="395.0" width="10.9" height="9.4" fill="#DCDCDB"/>
<rect x="104.0" y="395.0" width="12.7" height="9.4" fill="#E0E0DF"/>
<rect x="117.8" y="395.0" width="13.7" height="9.4" fill="#E4E0DD"/>
<rect x="132.6" y="395.0" width="8.9" height="9.4" fill="#DEDEDD"/>
<rect x="142.6" y="395.0" width="12.5" height="9.4" fill="#DCDCDB"/>
<rect x="156.3" y="395.0" width="7.1" height="9.4" fill="#DFDFDF"/>
<rect x="164.4" y="395.0" width="10.2" height="9.4" fill="#E4E0DD"/>
<rect x="175.7" y="395.0" width="11.8" height="9.4" fill="#E4E0DD"/>
<rect x="188.7" y="395.0" width="8.5" height="9.4" fill="#DFDFDF"/>
<rect x="198.3" y="395.0" width="11.2" height="9.4" fill="#DEDEDD"/>
<rect x="-40.0" y="405.5" width="13.7" height="8.5" fill="#E4E0DD"/>
<rect x="-25.2" y="405.5" width="11.6" height="8.5" fill="#DEDEDD"/>
<rect x="-12.5" y="405.5" width="8.8" height="8.5" fill="#DFDFDF"/>
<rect x="-2.6" y="405.5" width="11.9" height="8.5" fill="#E3E2E0"/>
<rect x="10.4" y="405.5" width="14.1" height="8.5" fill="#E3E2E0"/>
<rect x="25.6" y="405.5" width="11.7" height="8.5" fill="#DEDEDD"/>
<rect x="38.4" y="405.5" width="8.6" height="8.5" fill="#DEDEDD"/>
<rect x="48.2" y="405.5" width="14.0" height="8.5" fill="#DEDEDD"/>
<rect x="63.3" y="405.5" width="14.0" height="8.5" fill="#DEDEDD"/>
<rect x="78.4" y="405.5" width="12.7" height="8.5" fill="#E3E2E0"/>
<rect x="92.2" y="405.5" width="10.0" height="8.5" fill="#DCDCDB"/>
<rect x="103.3" y="405.5" width="13.6" height="8.5" fill="#DCDCDB"/>
<rect x="118.0" y="405.5" width="11.2" height="8.5" fill="#DFDFDF"/>
<rect x="130.3" y="405.5" width="7.9" height="8.5" fill="#DCDCDB"/>
<rect x="139.3" y="405.5" width="11.9" height="8.5" fill="#E0E0DF"/>
<rect x="152.3" y="405.5" width="7.7" height="8.5" fill="#E4E0DD"/>
<rect x="161.1" y="405.5" width="12.4" height="8.5" fill="#E3E2E0"/>
<rect x="174.6" y="405.5" width="7.8" height="8.5" fill="#E4E0DD"/>
<rect x="183.5" y="405.5" width="12.0" height="8.5" fill="#E3E2E0"/>
<rect x="196.6" y="405.5" width="10.9" height="8.5" fill="#DFDFDF"/>
<rect x="-40.0" y="415.1" width="13.3" height="10.1" fill="#DCDCDB"/>
<rect x="-25.6" y="415.1" width="7.7" height="10.1" fill="#E0E0DF"/>
<rect x="-16.7" y="415.1" width="13.0" height="10.1" fill="#E4E0DD"/>
<rect x="-2.6" y="415.1" width="11.0" height="10.1" fill="#E4E0DD"/>
<rect x="9.5" y="415.1" width="10.8" height="10.1" fill="#DEDEDD"/>
<rect x="21.3" y="415.1" width="8.4" height="10.1" fill="#DEDEDD"/>
<rect x="30.8" y="415.1" width="8.3" height="10.1" fill="#DEDEDD"/>
<rect x="40.2" y="415.1" width="14.8" height="10.1" fill="#DFDFDF"/>
<rect x="56.1" y="415.1" width="7.7" height="10.1" fill="#E0E0DF"/>
<rect x="64.9" y="415.1" width="8.0" height="10.1" fill="#DFDFDF"/>
<rect x="74.0" y="415.1" width="10.6" height="10.1" fill="#E0E0DF"/>
<rect x="85.6" y="415.1" width="9.5" height="10.1" fill="#DCDCDB"/>
<rect x="96.3" y="415.1" width="10.3" height="10.1" fill="#E3E2E0"/>
<rect x="107.7" y="415.1" width="10.3" height="10.1" fill="#E4E0DD"/>
<rect x="119.1" y="415.1" width="9.9" height="10.1" fill="#DFDFDF"/>
<rect x="130.1" y="415.1" width="12.5" height="10.1" fill="#DEDEDD"/>
<rect x="143.7" y="415.1" width="8.4" height="10.1" fill="#DCDCDB"/>
<rect x="153.2" y="415.1" width="9.8" height="10.1" fill="#E3E2E0"/>
<rect x="164.0" y="415.1" width="10.1" height="10.1" fill="#DEDEDD"/>
<rect x="175.3" y="415.1" width="11.7" height="10.1" fill="#E0E0DF"/>
<rect x="188.1" y="415.1" width="11.0" height="10.1" fill="#E0E0DF"/>
<rect x="-40.0" y="426.3" width="7.6" height="7.5" fill="#DFDFDF"/>
<rect x="-31.3" y="426.3" width="13.9" height="7.5" fill="#DFDFDF"/>
<rect x="-16.3" y="426.3" width="14.4" height="7.5" fill="#E4E0DD"/>
<rect x="-0.8" y="426.3" width="11.7" height="7.5" fill="#E4E0DD"/>
<rect x="12.0" y="426.3" width="11.6" height="7.5" fill="#E3E2E0"/>
<rect x="24.7" y="426.3" width="13.3" height="7.5" fill="#E3E2E0"/>
<rect x="39.1" y="426.3" width="9.1" height="7.5" fill="#E0E0DF"/>
<rect x="49.3" y="426.3" width="12.9" height="7.5" fill="#DEDEDD"/>
<rect x="63.3" y="426.3" width="13.4" height="7.5" fill="#DCDCDB"/>
<rect x="77.8" y="426.3" width="8.0" height="7.5" fill="#E3E2E0"/>
<rect x="86.9" y="426.3" width="13.9" height="7.5" fill="#DFDFDF"/>
<rect x="101.9" y="426.3" width="9.9" height="7.5" fill="#DCDCDB"/>
<rect x="112.9" y="426.3" width="13.0" height="7.5" fill="#DCDCDB"/>
<rect x="127.0" y="426.3" width="8.6" height="7.5" fill="#DEDEDD"/>
<rect x="136.7" y="426.3" width="7.5" height="7.5" fill="#E3E2E0"/>
<rect x="145.2" y="426.3" width="9.3" height="7.5" fill="#E0E0DF"/>
<rect x="155.6" y="426.3" width="7.0" height="7.5" fill="#E3E2E0"/>
<rect x="163.7" y="426.3" width="14.8" height="7.5" fill="#E4E0DD"/>
<rect x="179.6" y="426.3" width="7.3" height="7.5" fill="#E3E2E0"/>
<rect x="188.0" y="426.3" width="14.5" height="7.5" fill="#DFDFDF"/>
<rect x="-40.0" y="434.9" width="8.6" height="7.4" fill="#DCDCDB"/>
<rect x="-30.3" y="434.9" width="11.5" height="7.4" fill="#E4E0DD"/>
<rect x="-17.7" y="434.9" width="7.5" height="7.4" fill="#E4E0DD"/>
<rect x="-9.1" y="434.9" width="14.9" height="7.4" fill="#DFDFDF"/>
<rect x="6.9" y="434.9" width="8.6" height="7.4" fill="#E0E0DF"/>
<rect x="16.6" y="434.9" width="13.0" height="7.4" fill="#E4E0DD"/>
<rect x="30.7" y="434.9" width="7.1" height="7.4" fill="#E4E0DD"/>
<rect x="38.9" y="434.9" width="7.8" height="7.4" fill="#DEDEDD"/>
<rect x="47.7" y="434.9" width="9.0" height="7.4" fill="#DCDCDB"/>
<rect x="57.8" y="434.9" width="10.9" height="7.4" fill="#DEDEDD"/>
<rect x="69.8" y="434.9" width="12.1" height="7.4" fill="#E0E0DF"/>
<rect x="83.0" y="434.9" width="7.7" height="7.4" fill="#E3E2E0"/>
<rect x="91.8" y="434.9" width="9.1" height="7.4" fill="#E3E2E0"/>
<rect x="102.0" y="434.9" width="11.3" height="7.4" fill="#E4E0DD"/>
<rect x="114.4" y="434.9" width="10.2" height="7.4" fill="#E4E0DD"/>
<rect x="125.7" y="434.9" width="11.4" height="7.4" fill="#E0E0DF"/>
<rect x="138.3" y="434.9" width="12.0" height="7.4" fill="#DFDFDF"/>
<rect x="151.4" y="434.9" width="7.5" height="7.4" fill="#E4E0DD"/>
<rect x="160.0" y="434.9" width="12.2" height="7.4" fill="#E0E0DF"/>
<rect x="173.3" y="434.9" width="10.0" height="7.4" fill="#DEDEDD"/>
<rect x="184.4" y="434.9" width="10.0" height="7.4" fill="#DEDEDD"/>
<rect x="195.5" y="434.9" width="13.7" height="7.4" fill="#E4E0DD"/>
<rect x="-40.0" y="443.4" width="7.4" height="9.0" fill="#DCDCDB"/>
<rect x="-31.5" y="443.4" width="10.3" height="9.0" fill="#E4E0DD"/>
<rect x="-20.2" y="443.4" width="10.1" height="9.0" fill="#E3E2E0"/>
<rect x="-9.0" y="443.4" width="9.8" height="9.0" fill="#E3E2E0"/>
<rect x="1.9" y="443.4" width="10.8" height="9.0" fill="#E3E2E0"/>
<rect x="13.8" y="443.4" width="11.4" height="9.0" fill="#E3E2E0"/>
<rect x="26.3" y="443.4" width="12.2" height="9.0" fill="#DFDFDF"/>
<rect x="39.6" y="443.4" width="9.3" height="9.0" fill="#E0E0DF"/>
<rect x="50.0" y="443.4" width="13.1" height="9.0" fill="#E4E0DD"/>
<rect x="64.2" y="443.4" width="7.2" height="9.0" fill="#DEDEDD"/>
<rect x="72.5" y="443.4" width="10.2" height="9.0" fill="#DFDFDF"/>
<rect x="83.8" y="443.4" width="10.0" height="9.0" fill="#E3E2E0"/>
<rect x="94.9" y="443.4" width="12.9" height="9.0" fill="#E0E0DF"/>
<rect x="108.9" y="443.4" width="11.6" height="9.0" fill="#DFDFDF"/>
<rect x="121.5" y="443.4" width="14.5" height="9.0" fill="#E0E0DF"/>
<rect x="137.1" y="443.4" width="13.3" height="9.0" fill="#DEDEDD"/>
<rect x="151.5" y="443.4" width="10.3" height="9.0" fill="#DCDCDB"/>
<rect x="162.9" y="443.4" width="8.9" height="9.0" fill="#DEDEDD"/>
<rect x="172.9" y="443.4" width="7.3" height="9.0" fill="#E0E0DF"/>
<rect x="181.3" y="443.4" width="14.4" height="9.0" fill="#DFDFDF"/>
<rect x="196.8" y="443.4" width="14.2" height="9.0" fill="#DEDEDD"/>
<rect x="-40.0" y="453.4" width="13.4" height="10.8" fill="#E4E0DD"/>
<rect x="-25.5" y="453.4" width="12.6" height="10.8" fill="#E0E0DF"/>
<rect x="-11.8" y="453.4" width="11.9" height="10.8" fill="#DCDCDB"/>
<rect x="1.2" y="453.4" width="7.8" height="10.8" fill="#E0E0DF"/>
<rect x="10.1" y="453.4" width="9.8" height="10.8" fill="#DEDEDD"/>
<rect x="21.0" y="453.4" width="7.9" height="10.8" fill="#DCDCDB"/>
<rect x="30.0" y="453.4" width="8.0" height="10.8" fill="#DCDCDB"/>
<rect x="39.1" y="453.4" width="10.5" height="10.8" fill="#E3E2E0"/>
<rect x="50.7" y="453.4" width="12.0" height="10.8" fill="#DFDFDF"/>
<rect x="63.9" y="453.4" width="10.3" height="10.8" fill="#DFDFDF"/>
<rect x="75.2" y="453.4" width="11.1" height="10.8" fill="#DEDEDD"/>
<rect x="87.5" y="453.4" width="14.5" height="10.8" fill="#DFDFDF"/>
<rect x="103.1" y="453.4" width="7.9" height="10.8" fill="#DCDCDB"/>
<rect x="112.1" y="453.4" width="7.8" height="10.8" fill="#E3E2E0"/>
<rect x="121.0" y="453.4" width="13.2" height="10.8" fill="#E4E0DD"/>
<rect x="135.3" y="453.4" width="13.7" height="10.8" fill="#E3E2E0"/>
<rect x="150.1" y="453.4" width="9.1" height="10.8" fill="#DFDFDF"/>
<rect x="160.2" y="453.4" width="12.7" height="10.8" fill="#DFDFDF"/>
<rect x="174.0" y="453.4" width="11.6" height="10.8" fill="#DFDFDF"/>
<rect x="186.8" y="453.4" width="9.1" height="10.8" fill="#DEDEDD"/>
<rect x="197.0" y="453.4" width="8.4" height="10.8" fill="#DEDEDD"/>
<rect x="-40.0" y="465.3" width="12.1" height="8.4" fill="#DEDEDD"/>
<rect x="-26.8" y="465.3" width="13.9" height="8.4" fill="#E0E0DF"/>
<rect x="-11.7" y="465.3" width="11.9" height="8.4" fill="#E0E0DF"/>
<rect x="1.3" y="465.3" width="9.1" height="8.4" fill="#DCDCDB"/>
<rect x="11.4" y="465.3" width="7.1" height="8.4" fill="#E0E0DF"/>
<rect x="19.7" y="465.3" width="7.7" height="8.4" fill="#E4E0DD"/>
<rect x="28.5" y="465.3" width="9.1" height="8.4" fill="#E0E0DF"/>
<rect x="38.7" y="465.3" width="14.2" height="8.4" fill="#DEDEDD"/>
<rect x="54.0" y="465.3" width="11.3" height="8.4" fill="#DFDFDF"/>
<rect x="66.4" y="465.3" width="14.8" height="8.4" fill="#DCDCDB"/>
<rect x="82.3" y="465.3" width="10.7" height="8.4" fill="#DEDEDD"/>
<rect x="94.1" y="465.3" width="9.6" height="8.4" fill="#DCDCDB"/>
<rect x="104.8" y="465.3" width="12.9" height="8.4" fill="#E0E0DF"/>
<rect x="118.8" y="465.3" width="13.3" height="8.4" fill="#DCDCDB"/>
<rect x="133.2" y="465.3" width="13.4" height="8.4" fill="#E4E0DD"/>
<rect x="147.7" y="465.3" width="13.6" height="8.4" fill="#DEDEDD"/>
<rect x="162.4" y="465.3" width="10.5" height="8.4" fill="#DFDFDF"/>
<rect x="173.9" y="465.3" width="9.0" height="8.4" fill="#DEDEDD"/>
<rect x="184.0" y="465.3" width="9.9" height="8.4" fill="#DFDFDF"/>
<rect x="194.9" y="465.3" width="13.6" height="8.4" fill="#E4E0DD"/>
<rect x="-40.0" y="474.8" width="11.3" height="7.5" fill="#DFDFDF"/>
<rect x="-27.6" y="474.8" width="13.5" height="7.5" fill="#DEDEDD"/>
<rect x="-13.0" y="474.8" width="10.3" height="7.5" fill="#E3E2E0"/>
<rect x="-1.6" y="474.8" width="11.5" height="7.5" fill="#DCDCDB"/>
<rect x="11.1" y="474.8" width="13.9" height="7.5" fill="#E0E0DF"/>
<rect x="26.1" y="474.8" width="11.2" height="7.5" fill="#DCDCDB"/>
<rect x="38.4" y="474.8" width="11.4" height="7.5" fill="#DCDCDB"/>
<rect x="50.9" y="474.8" width="13.4" height="7.5" fill="#DCDCDB"/>
<rect x="65.5" y="474.8" width="9.3" height="7.5" fill="#E0E0DF"/>
<rect x="75.8" y="474.8" width="7.5" height="7.5" fill="#DEDEDD"/>
<rect x="84.5" y="474.8" width="14.2" height="7.5" fill="#E4E0DD"/>
<rect x="99.7" y="474.8" width="7.6" height="7.5" fill="#E3E2E0"/>
<rect x="108.4" y="474.8" width="10.9" height="7.5" fill="#DFDFDF"/>
<rect x="120.3" y="474.8" width="9.5" height="7.5" fill="#DEDEDD"/>
<rect x="131.0" y="474.8" width="8.7" height="7.5" fill="#DFDFDF"/>
<rect x="140.7" y="474.8" width="12.7" height="7.5" fill="#E3E2E0"/>
<rect x="154.5" y="474.8" width="14.2" height="7.5" fill="#E3E2E0"/>
<rect x="169.8" y="474.8" width="12.6" height="7.5" fill="#E4E0DD"/>
<rect x="183.5" y="474.8" width="11.7" height="7.5" fill="#DFDFDF"/>
<rect x="196.2" y="474.8" width="14.2" height="7.5" fill="#DCDCDB"/>
<rect x="-40.0" y="483.5" width="14.8" height="8.6" fill="#DCDCDB"/>
<rect x="-24.1" y="483.5" width="9.4" height="8.6" fill="#DCDCDB"/>
<rect x="-13.5" y="483.5" width="14.6" height="8.6" fill="#DFDFDF"/>
<rect x="2.2" y="483.5" width="14.1" height="8.6" fill="#DEDEDD"/>
<rect x="17.4" y="483.5" width="7.6" height="8.6" fill="#E3E2E0"/>
<rect x="26.1" y="483.5" width="7.1" height="8.6" fill="#DFDFDF"/>
<rect x="34.2" y="483.5" width="10.1" height="8.6" fill="#DCDCDB"/>
<rect x="45.4" y="483.5" width="13.3" height="8.6" fill="#DFDFDF"/>
<rect x="59.8" y="483.5" width="11.4" height="8.6" fill="#DCDCDB"/>
<rect x="72.3" y="483.5" width="11.2" height="8.6" fill="#E4E0DD"/>
<rect x="84.6" y="483.5" width="11.4" height="8.6" fill="#DEDEDD"/>
<rect x="97.1" y="483.5" width="7.6" height="8.6" fill="#DCDCDB"/>
<rect x="105.8" y="483.5" width="13.9" height="8.6" fill="#E3E2E0"/>
<rect x="120.9" y="483.5" width="13.4" height="8.6" fill="#DEDEDD"/>
<rect x="135.4" y="483.5" width="11.0" height="8.6" fill="#E4E0DD"/>
<rect x="147.5" y="483.5" width="8.2" height="8.6" fill="#E3E2E0"/>
<rect x="156.8" y="483.5" width="14.6" height="8.6" fill="#DFDFDF"/>
<rect x="172.5" y="483.5" width="13.6" height="8.6" fill="#DCDCDB"/>
<rect x="187.2" y="483.5" width="7.4" height="8.6" fill="#E4E0DD"/>
<rect x="195.7" y="483.5" width="9.3" height="8.6" fill="#E4E0DD"/>
<rect x="-40.0" y="493.1" width="7.6" height="6.3" fill="#DFDFDF"/>
<rect x="-31.3" y="493.1" width="7.7" height="6.3" fill="#E3E2E0"/>
<rect x="-22.5" y="493.1" width="7.6" height="6.3" fill="#DFDFDF"/>
<rect x="-13.8" y="493.1" width="12.1" height="6.3" fill="#E0E0DF"/>
<rect x="-0.6" y="493.1" width="12.9" height="6.3" fill="#DFDFDF"/>
<rect x="13.4" y="493.1" width="10.3" height="6.3" fill="#DFDFDF"/>
<rect x="24.7" y="493.1" width="8.7" height="6.3" fill="#E4E0DD"/>
<rect x="34.5" y="493.1" width="9.6" height="6.3" fill="#DCDCDB"/>
<rect x="45.2" y="493.1" width="10.1" height="6.3" fill="#E3E2E0"/>
<rect x="56.4" y="493.1" width="13.4" height="6.3" fill="#E3E2E0"/>
<rect x="70.8" y="493.1" width="12.3" height="6.3" fill="#DCDCDB"/>
<rect x="84.2" y="493.1" width="10.8" height="6.3" fill="#DFDFDF"/>
<rect x="96.1" y="493.1" width="7.5" height="6.3" fill="#E4E0DD"/>
<rect x="104.7" y="493.1" width="14.2" height="6.3" fill="#DCDCDB"/>
<rect x="120.0" y="493.1" width="13.0" height="6.3" fill="#DFDFDF"/>
<rect x="134.1" y="493.1" width="9.7" height="6.3" fill="#E0E0DF"/>
<rect x="144.9" y="493.1" width="13.3" height="6.3" fill="#E0E0DF"/>
<rect x="159.3" y="493.1" width="14.0" height="6.3" fill="#E4E0DD"/>
<rect x="174.4" y="493.1" width="12.0" height="6.3" fill="#E4E0DD"/>
<rect x="187.5" y="493.1" width="9.8" height="6.3" fill="#E0E0DF"/>
<rect x="198.4" y="493.1" width="13.3" height="6.3" fill="#DCDCDB"/>
</g>
<polyline points="5,378 20,385 38,372 46,356" fill="none" stroke="#F4F3F1" stroke-width="1.1" stroke-linecap="round" stroke-linejoin="round" />
<polyline points="36,348 44,372 52,394 58,420" fill="none" stroke="#F4F3F1" stroke-width="1.1" stroke-linecap="round" stroke-linejoin="round" />
<polyline points="110,360 122,392 132,420 138,451" fill="none" stroke="#F4F3F1" stroke-width="1.1" stroke-linecap="round" stroke-linejoin="round" />
<polyline points="96,372 108,402" fill="none" stroke="#F4F3F1" stroke-width="1.1" stroke-linecap="round" stroke-linejoin="round" />
<polyline points="5,408 30,414" fill="none" stroke="#F4F3F1" stroke-width="1.1" stroke-linecap="round" stroke-linejoin="round" />
<polyline points="120,356 124,400" fill="none" stroke="#F4F3F1" stroke-width="1.1" stroke-linecap="round" stroke-linejoin="round" />
<polygon points="3,399 31.5,409.6 30.5,429.5 20.5,432 3,435" fill="#CED6D7" />
<polygon points="34,390.1 53,396 45,411.8 26,405.3" fill="#D0D9D9" />
<polyline points="34,390.1 53,396 45,411.8 26,405.3 34,390.1" fill="none" stroke="#F1F3F2" stroke-width="0.9" stroke-linecap="round" stroke-linejoin="round" />
<polyline points="3,392.8 26,405.3 45,411.8 65,420.6" fill="none" stroke="#F4F4F3" stroke-width="1.2" stroke-linecap="round" stroke-linejoin="round" />
<polyline points="34,390.1 21,380" fill="none" stroke="#F4F4F3" stroke-width="1.2" stroke-linecap="round" stroke-linejoin="round" />
<polyline points="53,396 66,393.5" fill="none" stroke="#F4F4F3" stroke-width="1.2" stroke-linecap="round" stroke-linejoin="round" />
<polyline points="45,411.8 42,429" fill="none" stroke="#F4F4F3" stroke-width="1.2" stroke-linecap="round" stroke-linejoin="round" />
<polyline points="31.5,409.6 36,420 35,432" fill="none" stroke="#F4F4F3" stroke-width="1.2" stroke-linecap="round" stroke-linejoin="round" />
<polyline points="76.9,389.4 96.7,383.3 102.8,399.7 83,405.8" fill="none" stroke="#BDE7DA" stroke-width="0.8" stroke-linecap="round" stroke-linejoin="round" />
<polyline points="102.8,399.7 120,394 148,382" fill="none" stroke="#BDE7DA" stroke-width="0.8" stroke-linecap="round" stroke-linejoin="round" />
<polyline points="104,404 118,420 122,436" fill="none" stroke="#BDE7DA" stroke-width="0.8" stroke-linecap="round" stroke-linejoin="round" />
<polyline points="100,348 104,358 108,366" fill="none" stroke="#BDE7DA" stroke-width="0.8" stroke-linecap="round" stroke-linejoin="round" />
<polyline points="143,372 146,420 147.5,450" fill="none" stroke="#BDE7DA" stroke-width="0.8" stroke-linecap="round" stroke-linejoin="round" />
<polyline points="62,368 56,372" fill="none" stroke="#BDE7DA" stroke-width="0.8" stroke-linecap="round" stroke-linejoin="round" />
<polyline points="75,368.8 90,364.7 110,359 130,353.2 139,350.4 147,347.6" fill="none" stroke="#E8EEBC" stroke-width="2.4" stroke-linecap="round" stroke-linejoin="round" />
<polyline points="3,437.6 30,433.5 60,428.5 88,423.6 110,419.5 130,416 149,412.6" fill="none" stroke="#EBEEBE" stroke-width="6.0" stroke-linecap="round" stroke-linejoin="round" />
<polyline points="50.5,345 57,358 63.5,372 72,390 81.5,410 90,428 97,443 102,454" fill="none" stroke="#EBEEBE" stroke-width="6.0" stroke-linecap="round" stroke-linejoin="round" />
<polyline points="51.8,345 58.3,358 64.8,372 73.3,390 82.8,410 91.3,428 98.3,443 103.3,454" fill="none" stroke="#F4E58C" stroke-width="0.7" stroke-linecap="round" stroke-linejoin="round" />
<polyline points="142.5,345 143.5,356 146,370" fill="none" stroke="#F0C46C" stroke-width="1.6" stroke-linecap="round" stroke-linejoin="round" />
<polyline points="139.5,349 140.5,358 143,372" fill="none" stroke="#EEF0A8" stroke-width="2.0" stroke-linecap="round" stroke-linejoin="round" />
<circle cx="69.5" cy="348.6" r="1.6" fill="#A5D49A"/>
<rect x="143" y="447.5" width="4" height="1.6" fill="#8BC98A"/>
</g>
<line x1="72.5" y1="390.9" x2="80.6" y2="408.6" stroke="#111" stroke-width="0.95" marker-start="url(#ah3)" marker-end="url(#ah3)"/>
<ellipse cx="62.8" cy="354.3" rx="5.3" ry="3.4" fill="#fff" stroke="#22B14C" stroke-width="1.25"/><use href="#tower" transform="translate(62.8,354.40000000000003) scale(0.9,0.62)"/>
<ellipse cx="53.9" cy="365" rx="5.3" ry="3.4" fill="#fff" stroke="#22B14C" stroke-width="1.25"/><use href="#tower" transform="translate(53.9,365.1) scale(0.9,0.62)"/>
<ellipse cx="67.9" cy="375.4" rx="5.3" ry="3.5" fill="#fff" stroke="#ED1C24" stroke-width="1.25"/><use href="#tower" transform="translate(67.9,375.5) scale(0.9,0.62)"/>
<ellipse cx="66.8" cy="397.3" rx="5.3" ry="3.5" fill="#fff" stroke="#ED1C24" stroke-width="1.25"/><use href="#tower" transform="translate(66.8,397.40000000000003) scale(0.9,0.62)"/>
<ellipse cx="95.6" cy="427" rx="5.3" ry="3.3" fill="#fff" stroke="#27A9E1" stroke-width="1.25"/><use href="#tower" transform="translate(95.6,427.1) scale(0.9,0.62)"/>
</g>
<g id="plot1a"><rect x="174.5" y="17.7" width="173.8" height="99.8" fill="#E5E5E5"/>
<line x1="174.5" x2="348.3" y1="22.4" y2="22.4" stroke="#fff" stroke-width="0.5" opacity="0.7"/>
<line x1="174.5" x2="348.3" y1="45.4" y2="45.4" stroke="#fff" stroke-width="0.5" opacity="0.7"/>
<line x1="174.5" x2="348.3" y1="68.4" y2="68.4" stroke="#fff" stroke-width="0.5" opacity="0.7"/>
<line x1="174.5" x2="348.3" y1="91.4" y2="91.4" stroke="#fff" stroke-width="0.5" opacity="0.7"/>
<line x1="174.5" x2="348.3" y1="114.5" y2="114.5" stroke="#fff" stroke-width="0.5" opacity="0.7"/>
<line x1="175" x2="175" y1="17.7" y2="117.5" stroke="#fff" stroke-width="0.5" opacity="0.7"/>
<line x1="211" x2="211" y1="17.7" y2="117.5" stroke="#fff" stroke-width="0.5" opacity="0.7"/>
<line x1="247.1" x2="247.1" y1="17.7" y2="117.5" stroke="#fff" stroke-width="0.5" opacity="0.7"/>
<line x1="283.3" x2="283.3" y1="17.7" y2="117.5" stroke="#fff" stroke-width="0.5" opacity="0.7"/>
<line x1="319.5" x2="319.5" y1="17.7" y2="117.5" stroke="#fff" stroke-width="0.5" opacity="0.7"/>
<polyline points="174.9,63.0 175.0,63.9 175.1,63.6 175.2,60.4 175.3,61.6 175.5,68.9 175.6,66.9 175.7,66.0 175.8,64.1 175.9,63.4 176.0,68.1 176.1,67.9 176.2,63.3 176.3,67.0 176.4,63.6 176.6,69.3 176.7,66.8 176.8,73.5 176.9,76.5 177.0,65.4 177.1,72.5 177.2,69.4 177.3,70.5 177.4,64.2 177.5,66.8 177.7,72.4 177.8,73.4 177.9,77.3 178.0,73.6 178.1,74.9 178.2,76.3 178.3,86.8 178.4,84.0 178.5,83.4 178.6,79.9 178.8,85.3 178.9,75.7 179.0,69.9 179.1,83.2 179.2,68.3 179.3,80.6 179.4,84.9 179.5,88.0 179.6,83.0 179.7,85.6 179.9,89.9 180.0,92.5 180.1,86.0 180.2,94.4 180.3,88.9 180.4,97.0 180.5,96.8 180.6,99.4 180.7,103.1 180.8,104.2 181.0,102.9 181.1,99.2 181.2,98.6 181.3,92.9 181.4,95.6 181.5,92.3 181.6,95.1 181.7,98.1 181.8,92.2 181.9,98.6 182.1,95.4 182.2,102.4 182.3,93.9 182.4,97.8 182.5,93.8 182.6,96.1 182.7,101.3 182.8,94.5 182.9,82.4 183.0,92.0 183.2,89.2 183.3,89.4 183.4,100.6 183.5,90.1 183.6,89.9 183.7,91.4 183.8,83.0 183.9,79.8 184.0,85.9 184.1,81.2 184.3,81.3 184.4,84.9 184.5,77.3 184.6,81.9 184.7,76.5 184.8,77.6 184.9,75.3 185.0,69.5 185.1,74.3 185.2,75.4 185.4,74.6 185.5,68.1 185.6,66.8 185.7,65.7 185.8,61.5 185.9,63.1 186.0,65.1 186.1,61.3 186.2,53.8 186.3,53.9 186.5,57.8 186.6,47.6 186.7,50.1 186.8,47.7 186.9,45.8 187.0,43.4 187.1,50.7 187.2,40.6 187.3,36.7 187.4,51.8 187.6,38.8 187.7,43.6 187.8,48.0 187.9,48.3 188.0,45.4 188.1,52.5 188.2,49.3 188.3,43.6 188.4,51.5 188.5,44.4 188.7,54.5 188.8,49.9 188.9,50.4 189.0,55.9 189.1,55.3 189.2,54.9 189.3,56.4 189.4,55.0 189.5,49.1 189.6,56.7 189.8,51.5 189.9,56.3 190.0,59.5 190.1,61.4 190.2,64.2 190.3,60.2 190.4,63.0 190.5,56.6 190.6,52.0 190.7,55.7 190.9,67.9 191.0,62.8 191.1,63.4 191.2,62.7 191.3,70.7 191.4,71.1 191.5,65.8 191.6,62.0 191.7,65.2 191.8,62.3 192.0,66.3 192.1,66.7 192.2,62.1 192.3,61.8 192.4,70.9 192.5,61.4 192.6,69.0 192.7,66.2 192.8,67.0 192.9,61.8 193.1,61.6 193.2,69.8 193.3,68.7 193.4,67.4 193.5,60.1 193.6,65.8 193.7,62.7 193.8,60.2 193.9,63.2 194.0,72.8 194.2,63.2 194.3,69.1 194.4,69.8 194.5,66.9 194.6,68.6 194.7,66.0 194.8,67.7 194.9,70.8 195.0,66.5 195.1,66.2 195.3,63.5 195.4,72.8 195.5,70.5 195.6,77.5 195.7,71.4 195.8,74.4 195.9,70.7 196.0,71.3 196.1,69.1 196.2,75.9 196.4,78.5 196.5,70.4 196.6,79.0 196.7,66.9 196.8,74.0 196.9,75.9 197.0,72.3 197.1,74.7 197.2,76.6 197.3,71.6 197.5,74.2 197.6,72.5 197.7,76.6 197.8,80.8 197.9,76.3 198.0,78.4 198.1,73.0 198.2,84.2 198.3,77.9 198.4,86.7 198.6,80.6 198.7,76.6 198.8,85.8 198.9,82.2 199.0,81.4 199.1,90.6 199.2,70.4 199.3,76.9 199.4,82.9 199.5,83.0 199.7,74.8 199.8,83.7 199.9,79.9 200.0,69.4 200.1,72.5 200.2,68.8 200.3,64.3 200.4,73.0 200.5,73.5 200.6,75.5 200.8,73.9 200.9,78.1 201.0,80.4 201.1,73.2 201.2,73.7 201.3,73.0 201.4,77.4 201.5,76.6 201.6,75.4 201.7,67.8 201.9,72.4 202.0,75.0 202.1,72.2 202.2,74.6 202.3,73.0 202.4,72.9 202.5,68.9 202.6,71.2 202.7,74.2 202.8,64.6 203.0,62.1 203.1,68.1 203.2,55.5 203.3,58.5 203.4,54.5 203.5,54.9 203.6,56.3 203.7,45.1 203.8,45.4 203.9,48.1 204.1,48.3 204.2,44.9 204.3,48.8 204.4,44.4 204.5,41.5 204.6,40.6 204.7,41.1 204.8,41.5 204.9,39.8 205.0,37.2 205.2,34.9 205.3,36.8 205.4,33.9 205.5,36.1 205.6,34.1 205.7,31.5 205.8,32.9 205.9,30.3 206.0,33.3 206.1,34.4 206.3,33.6 206.4,39.7 206.5,41.1 206.6,31.0 206.7,35.5 206.8,28.1 206.9,41.0 207.0,37.2 207.1,35.2 207.2,35.9 207.4,35.1 207.5,43.7 207.6,43.8 207.7,43.0 207.8,42.2 207.9,45.4 208.0,41.4 208.1,48.8 208.2,39.9 208.3,46.2 208.5,45.5 208.6,42.0 208.7,42.9 208.8,42.0 208.9,53.7 209.0,42.4 209.1,59.2 209.2,50.6 209.3,54.0 209.4,55.5 209.6,56.7 209.7,54.8 209.8,54.1 209.9,54.1 210.0,59.4 210.1,62.9 210.2,59.0 210.3,58.1 210.4,64.4 210.5,59.1 210.7,59.3 210.8,52.0 210.9,61.6 211.0,70.3 211.1,54.0 211.2,58.0 211.3,60.5 211.4,55.6 211.5,65.9 211.6,59.6 211.8,67.9 211.9,63.3 212.0,61.5 212.1,62.2 212.2,55.8 212.3,65.2 212.4,63.8 212.5,61.3 212.6,62.5 212.7,61.4 212.9,59.7 213.0,65.5 213.1,63.6 213.2,65.6 213.3,56.4 213.4,63.0 213.5,58.2 213.6,55.6 213.7,54.3 213.8,61.4 214.0,63.3 214.1,65.5 214.2,64.5 214.3,61.1 214.4,65.2 214.5,73.3 214.6,69.0 214.7,63.9 214.8,68.2 214.9,64.7 215.1,51.1 215.2,63.7 215.3,63.4 215.4,66.8 215.5,64.1 215.6,63.7 215.7,60.8 215.8,57.8 215.9,63.7 216.0,62.8 216.2,64.2 216.3,62.7 216.4,59.7 216.5,68.3 216.6,65.1 216.7,66.2 216.8,69.1 216.9,68.2 217.0,73.1 217.1,63.0 217.3,68.7 217.4,63.7 217.5,69.1 217.6,61.5 217.7,68.2 217.8,62.0 217.9,70.1 218.0,64.9 218.1,70.5 218.2,69.5 218.4,59.8 218.5,71.0 218.6,70.8 218.7,66.2 218.8,65.6 218.9,66.5 219.0,69.2 219.1,72.2 219.2,68.7 219.3,78.2 219.5,75.0 219.6,70.6 219.7,64.8 219.8,69.9 219.9,70.5 220.0,74.3 220.1,64.7 220.2,66.9 220.3,76.3 220.4,68.2 220.6,69.3 220.7,74.7 220.8,73.9 220.9,66.7 221.0,70.4 221.1,64.3 221.2,64.0 221.3,66.9 221.4,71.1 221.5,66.0 221.7,67.9 221.8,66.7 221.9,65.9 222.0,68.0 222.1,66.7 222.2,65.9 222.3,63.8 222.4,65.4 222.5,63.1 222.6,54.0 222.8,58.9 222.9,59.0 223.0,54.8 223.1,55.1 223.2,52.9 223.3,49.3 223.4,57.8 223.5,45.5 223.6,50.7 223.7,45.1 223.9,37.9 224.0,46.8 224.1,38.4 224.2,43.8 224.3,40.8 224.4,39.9 224.5,47.6 224.6,45.7 224.7,57.1 224.8,51.1 225.0,47.5 225.1,61.1 225.2,52.0 225.3,61.8 225.4,51.7 225.5,58.6 225.6,64.4 225.7,60.3 225.8,54.6 225.9,49.4 226.1,57.8 226.2,56.2 226.3,63.1 226.4,60.4 226.5,57.5 226.6,62.6 226.7,61.6 226.8,70.8 226.9,61.1 227.0,62.8 227.2,55.5 227.3,66.9 227.4,63.4 227.5,65.5 227.6,60.1 227.7,62.3 227.8,59.5 227.9,59.6 228.0,56.1 228.1,65.0 228.3,58.0 228.4,62.5 228.5,71.1 228.6,66.9 228.7,65.0 228.8,63.9 228.9,73.6 229.0,68.7 229.1,82.8 229.2,73.7 229.4,71.3 229.5,76.6 229.6,75.8 229.7,69.0 229.8,77.2 229.9,70.9 230.0,69.6 230.1,74.7 230.2,62.2 230.3,76.4 230.5,68.7 230.6,65.4 230.7,70.8 230.8,76.9 230.9,70.8 231.0,69.4 231.1,72.0 231.2,64.9 231.3,65.8 231.4,67.1 231.6,61.5 231.7,70.8 231.8,65.5 231.9,68.5 232.0,68.9 232.1,67.2 232.2,59.9 232.3,67.9 232.4,67.8 232.5,67.3 232.7,60.9 232.8,67.4 232.9,58.3 233.0,69.4 233.1,65.6 233.2,68.8 233.3,65.7 233.4,78.0 233.5,69.4 233.6,65.3 233.8,72.2 233.9,64.2 234.0,62.8 234.1,74.2 234.2,63.4 234.3,65.5 234.4,73.6 234.5,66.8 234.6,67.8 234.7,71.6 234.9,70.5 235.0,72.0 235.1,76.2 235.2,73.7 235.3,77.6 235.4,77.9 235.5,85.7 235.6,77.1 235.7,82.5 235.8,84.2 236.0,77.2 236.1,83.1 236.2,84.9 236.3,77.3 236.4,88.6 236.5,82.3 236.6,83.0 236.7,83.9 236.8,86.3 236.9,90.8 237.1,88.9 237.2,95.8 237.3,90.7 237.4,88.9 237.5,97.2 237.6,101.0 237.7,92.7 237.8,96.8 237.9,101.0 238.0,102.8 238.2,99.2 238.3,98.1 238.4,103.6 238.5,106.4 238.6,103.4 238.7,96.4 238.8,93.8 238.9,86.9 239.0,76.0 239.1,79.8 239.3,74.0 239.4,74.2 239.5,82.5 239.6,73.1 239.7,74.3 239.8,72.2 239.9,64.6 240.0,65.7 240.1,59.1 240.2,62.2 240.4,60.9 240.5,62.4 240.6,58.7 240.7,57.5 240.8,50.6 240.9,48.7 241.0,43.6 241.1,40.7 241.2,45.2 241.3,40.0 241.5,36.5 241.6,34.8 241.7,31.7 241.8,30.3 241.9,32.0 242.0,35.2 242.1,34.8 242.2,36.1 242.3,36.6 242.4,36.0 242.6,44.6 242.7,39.3 242.8,41.6 242.9,44.6 243.0,42.1 243.1,43.3 243.2,33.5 243.3,44.1 243.4,43.4 243.5,52.3 243.7,53.2 243.8,52.8 243.9,54.5 244.0,50.6 244.1,51.0 244.2,49.3 244.3,53.3 244.4,60.4 244.5,64.2 244.6,57.8 244.8,60.8 244.9,56.5 245.0,57.2 245.1,67.6 245.2,72.2 245.3,63.7 245.4,67.1 245.5,63.2 245.6,69.3 245.7,55.3 245.9,66.2 246.0,63.2 246.1,65.0 246.2,66.8 246.3,61.0 246.4,63.4 246.5,63.1 246.6,66.0 246.7,63.1 246.8,64.3 247.0,66.7 247.1,64.0 247.2,62.4 247.3,65.8 247.4,68.3 247.5,74.1 247.6,69.9 247.7,62.7 247.8,68.8 247.9,69.3 248.1,74.6 248.2,69.4 248.3,66.7 248.4,63.8 248.5,68.6 248.6,65.8 248.7,61.8 248.8,69.2 248.9,58.2 249.0,64.0 249.2,62.5 249.3,63.5 249.4,61.3 249.5,76.7 249.6,67.2 249.7,67.0 249.8,75.3 249.9,60.7 250.0,70.4 250.1,75.6 250.3,79.0 250.4,74.1 250.5,80.7 250.6,71.3 250.7,71.2 250.8,66.9 250.9,71.2 251.0,70.8 251.1,71.7 251.2,76.4 251.4,75.2 251.5,73.1 251.6,74.7 251.7,67.0 251.8,73.5 251.9,76.8 252.0,68.8 252.1,72.9 252.2,71.2 252.3,71.1 252.5,67.6 252.6,70.1 252.7,76.5 252.8,73.3 252.9,70.7 253.0,83.2 253.1,79.5 253.2,77.5 253.3,83.1 253.4,85.4 253.6,81.5 253.7,84.8 253.8,95.1 253.9,85.7 254.0,81.5 254.1,83.7 254.2,87.7 254.3,92.5 254.4,93.5 254.5,93.1 254.7,110.5 254.8,93.4 254.9,92.3 255.0,95.7 255.1,95.5 255.2,95.7 255.3,92.1 255.4,92.7 255.5,94.4 255.6,85.1 255.8,101.6 255.9,88.7 256.0,101.0 256.1,94.2 256.2,91.2 256.3,89.6 256.4,86.3 256.5,91.0 256.6,90.0 256.7,86.6 256.9,85.6 257.0,83.6 257.1,88.6 257.2,82.9 257.3,94.0 257.4,86.5 257.5,86.0 257.6,89.2 257.7,84.6 257.8,77.8 258.0,76.4 258.1,78.3 258.2,79.4 258.3,77.9 258.4,70.3 258.5,67.9 258.6,65.5 258.7,69.4 258.8,66.9 258.9,67.8 259.1,66.0 259.2,61.8 259.3,57.9 259.4,58.3 259.5,49.2 259.6,57.0 259.7,46.5 259.8,52.0 259.9,52.2 260.0,53.8 260.2,46.6 260.3,47.5 260.4,46.8 260.5,42.1 260.6,51.1 260.7,47.1 260.8,46.5 260.9,49.9 261.0,44.7 261.1,50.5 261.3,56.0 261.4,56.2 261.5,56.7 261.6,50.9 261.7,51.8 261.8,54.4 261.9,55.8 262.0,59.4 262.1,55.0 262.2,54.2 262.4,62.1 262.5,54.3 262.6,55.1 262.7,53.4 262.8,61.3 262.9,54.4 263.0,62.0 263.1,63.0 263.2,58.5 263.3,59.5 263.5,65.0 263.6,62.9 263.7,65.3 263.8,62.4 263.9,58.9 264.0,71.1 264.1,63.8 264.2,66.2 264.3,72.6 264.4,60.5 264.6,64.1 264.7,56.6 264.8,64.6 264.9,63.3 265.0,69.7 265.1,66.9 265.2,65.7 265.3,65.5 265.4,75.8 265.5,67.3 265.7,68.0 265.8,74.1 265.9,71.6 266.0,72.2 266.1,76.2 266.2,74.2 266.3,71.2 266.4,72.4 266.5,69.8 266.6,72.7 266.8,67.1 266.9,76.4 267.0,74.4 267.1,75.7 267.2,74.6 267.3,75.2 267.4,72.9 267.5,73.5 267.6,73.8 267.7,85.8 267.9,77.3 268.0,72.2 268.1,70.3 268.2,73.4 268.3,63.6 268.4,72.1 268.5,71.7 268.6,68.6 268.7,67.0 268.8,72.2 269.0,75.1 269.1,79.0 269.2,67.1 269.3,61.3 269.4,66.0 269.5,59.8 269.6,65.0 269.7,72.8 269.8,79.4 269.9,79.0 270.1,74.4 270.2,80.6 270.3,74.3 270.4,71.4 270.5,79.4 270.6,77.4 270.7,71.5 270.8,76.4 270.9,77.0 271.0,83.5 271.2,93.4 271.3,99.0 271.4,107.8 271.5,111.8 271.6,107.5 271.7,101.4 271.8,95.3 271.9,95.5 272.0,94.7 272.1,93.6 272.3,90.6 272.4,96.3 272.5,97.0 272.6,87.5 272.7,90.7 272.8,91.1 272.9,96.7 273.0,90.4 273.1,89.3 273.2,84.6 273.4,90.9 273.5,99.2 273.6,93.3 273.7,93.0 273.8,89.4 273.9,86.7 274.0,85.8 274.1,86.5 274.2,80.4 274.3,85.0 274.5,82.9 274.6,88.3 274.7,87.7 274.8,89.7 274.9,88.6 275.0,83.4 275.1,81.3 275.2,85.8 275.3,84.8 275.4,80.7 275.6,85.1 275.7,80.8 275.8,75.2 275.9,79.3 276.0,74.9 276.1,77.5 276.2,76.1 276.3,76.2 276.4,75.0 276.5,72.4 276.7,74.9 276.8,73.0 276.9,68.1 277.0,76.3 277.1,64.4 277.2,71.1 277.3,64.0 277.4,70.3 277.5,74.0 277.6,68.3 277.8,58.1 277.9,58.2 278.0,55.1 278.1,61.1 278.2,52.6 278.3,60.6 278.4,53.9 278.5,46.0 278.6,48.8 278.7,51.5 278.9,53.1 279.0,51.7 279.1,47.5 279.2,48.5 279.3,44.1 279.4,51.6 279.5,48.2 279.6,47.4 279.7,43.3 279.8,46.3 280.0,51.6 280.1,52.8 280.2,52.9 280.3,55.2 280.4,58.3 280.5,53.5 280.6,56.2 280.7,64.5 280.8,62.0 280.9,58.1 281.1,66.9 281.2,62.0 281.3,60.6 281.4,62.0 281.5,71.4 281.6,62.3 281.7,58.8 281.8,64.3 281.9,57.4 282.0,65.8 282.2,71.5 282.3,66.2 282.4,67.9 282.5,65.4 282.6,65.0 282.7,66.4 282.8,65.2 282.9,68.3 283.0,64.3 283.1,62.8 283.3,71.7 283.4,72.1 283.5,76.7 283.6,72.0 283.7,73.1 283.8,67.8 283.9,81.9 284.0,75.1 284.1,75.3 284.2,75.9 284.4,76.4 284.5,74.0 284.6,67.0 284.7,78.7 284.8,80.4 284.9,70.3 285.0,71.2 285.1,66.9 285.2,71.6 285.3,65.8 285.5,61.8 285.6,65.5 285.7,66.3 285.8,69.2 285.9,61.5 286.0,65.6 286.1,71.6 286.2,61.4 286.3,70.5 286.4,70.2 286.6,71.9 286.7,66.2 286.8,75.8 286.9,77.8 287.0,79.3 287.1,73.7 287.2,74.7 287.3,70.8 287.4,70.4 287.5,75.7 287.7,69.4 287.8,65.0 287.9,71.6 288.0,70.5 288.1,71.7 288.2,69.1 288.3,75.8 288.4,70.8 288.5,74.5 288.6,76.5 288.8,69.9 288.9,70.6 289.0,72.6 289.1,71.4 289.2,68.0 289.3,72.4 289.4,59.9 289.5,69.8 289.6,76.7 289.7,75.1 289.9,76.2 290.0,84.6 290.1,79.7 290.2,80.7 290.3,82.4 290.4,75.4 290.5,80.0 290.6,85.1 290.7,88.7 290.8,90.6 291.0,88.2 291.1,88.9 291.2,91.0 291.3,93.1 291.4,89.5 291.5,93.3 291.6,97.3 291.7,96.9 291.8,101.9 291.9,96.8 292.1,91.2 292.2,94.2 292.3,98.9 292.4,96.8 292.5,88.4 292.6,91.1 292.7,89.7 292.8,85.1 292.9,87.6 293.0,88.3 293.2,88.3 293.3,84.2 293.4,90.9 293.5,94.2 293.6,97.6 293.7,87.1 293.8,97.0 293.9,87.9 294.0,80.7 294.1,83.2 294.3,83.5 294.4,79.1 294.5,70.8 294.6,78.9 294.7,69.4 294.8,74.5 294.9,64.2 295.0,67.7 295.1,68.2 295.2,66.8 295.4,58.7 295.5,59.0 295.6,57.3 295.7,60.7 295.8,60.0 295.9,56.7 296.0,46.4 296.1,57.3 296.2,53.4 296.3,44.9 296.5,46.0 296.6,53.9 296.7,50.6 296.8,48.1 296.9,44.6 297.0,41.9 297.1,40.1 297.2,41.8 297.3,46.6 297.4,46.7 297.6,42.6 297.7,44.3 297.8,44.6 297.9,58.4 298.0,44.2 298.1,49.2 298.2,54.1 298.3,43.7 298.4,55.2 298.5,58.0 298.7,50.9 298.8,54.9 298.9,56.3 299.0,53.9 299.1,54.7 299.2,54.6 299.3,52.5 299.4,58.3 299.5,51.2 299.6,52.9 299.8,54.9 299.9,53.2 300.0,57.5 300.1,51.6 300.2,53.9 300.3,61.5 300.4,59.1 300.5,65.1 300.6,64.3 300.7,60.1 300.9,57.8 301.0,66.3 301.1,67.4 301.2,73.8 301.3,67.9 301.4,71.6 301.5,69.9 301.6,63.8 301.7,67.3 301.8,66.6 302.0,74.8 302.1,64.1 302.2,57.2 302.3,62.9 302.4,69.0 302.5,57.3 302.6,65.2 302.7,69.5 302.8,73.1 302.9,74.9 303.1,63.3 303.2,63.0 303.3,69.6 303.4,68.4 303.5,59.9 303.6,65.8 303.7,65.8 303.8,67.9 303.9,61.8 304.0,61.5 304.2,68.9 304.3,64.9 304.4,67.4 304.5,64.2 304.6,73.3 304.7,66.4 304.8,73.4 304.9,71.3 305.0,68.1 305.1,64.5 305.3,73.0 305.4,72.9 305.5,76.7 305.6,78.5 305.7,69.3 305.8,77.8 305.9,67.7 306.0,69.7 306.1,65.3 306.2,70.4 306.4,69.7 306.5,66.2 306.6,70.1 306.7,66.5 306.8,68.1 306.9,69.9 307.0,71.9 307.1,75.9 307.2,69.3 307.3,74.0 307.5,67.4 307.6,68.1 307.7,76.7 307.8,69.0 307.9,86.5 308.0,77.3 308.1,75.4 308.2,79.1 308.3,88.7 308.4,78.3 308.6,82.0 308.7,90.6 308.8,77.2 308.9,74.4 309.0,77.6 309.1,79.8 309.2,76.8 309.3,77.5 309.4,68.7 309.5,81.7 309.7,70.8 309.8,68.5 309.9,74.2 310.0,83.0 310.1,71.3 310.2,76.9 310.3,74.5 310.4,66.7 310.5,73.4 310.6,73.8 310.8,75.9 310.9,74.7 311.0,77.7 311.1,72.3 311.2,82.3 311.3,80.0 311.4,77.2 311.5,74.1 311.6,73.1 311.7,71.0 311.9,69.3 312.0,68.0 312.1,70.8 312.2,59.2 312.3,66.8 312.4,59.8 312.5,66.4 312.6,66.9 312.7,55.5 312.8,56.5 313.0,56.6 313.1,66.1 313.2,55.0 313.3,58.5 313.4,50.3 313.5,51.7 313.6,53.0 313.7,59.4 313.8,50.3 313.9,47.6 314.1,49.8 314.2,48.2 314.3,52.9 314.4,48.4 314.5,41.4 314.6,43.8 314.7,39.2 314.8,41.9 314.9,40.5 315.0,35.2 315.2,31.6 315.3,36.5 315.4,32.8 315.5,32.0 315.6,31.4 315.7,32.9 315.8,31.6 315.9,32.6 316.0,29.7 316.1,31.0 316.3,32.3 316.4,33.4 316.5,32.5 316.6,33.2 316.7,42.8 316.8,41.2 316.9,48.6 317.0,57.1 317.1,49.3 317.2,52.3 317.4,48.1 317.5,46.9 317.6,43.2 317.7,48.1 317.8,49.8 317.9,46.4 318.0,47.4 318.1,42.5 318.2,49.2 318.3,36.8 318.5,45.5 318.6,41.3 318.7,56.3 318.8,52.5 318.9,43.6 319.0,58.1 319.1,58.6 319.2,57.0 319.3,62.0 319.4,65.7 319.6,64.9 319.7,61.2 319.8,56.2 319.9,63.3 320.0,61.8 320.1,71.0 320.2,62.8 320.3,64.5 320.4,61.5 320.5,66.8 320.7,69.2 320.8,65.7 320.9,65.2 321.0,54.2 321.1,62.1 321.2,62.5 321.3,63.1 321.4,59.0 321.5,63.6 321.6,65.4 321.8,68.5 321.9,67.3 322.0,68.5 322.1,71.9 322.2,62.4 322.3,62.1 322.4,69.2 322.5,67.3 322.6,67.0 322.7,68.8 322.9,74.7 323.0,67.4 323.1,66.8 323.2,64.6 323.3,66.2 323.4,71.3 323.5,66.2 323.6,70.4 323.7,77.2 323.8,68.6 324.0,69.2 324.1,74.9 324.2,83.0 324.3,79.1 324.4,83.6 324.5,83.0 324.6,83.1 324.7,90.2 324.8,83.7 324.9,82.4 325.1,83.8 325.2,88.5 325.3,84.9 325.4,96.5 325.5,94.1 325.6,90.3 325.7,91.4 325.8,85.8 325.9,92.8 326.0,93.1 326.2,88.1 326.3,93.7 326.4,85.9 326.5,93.5 326.6,83.5 326.7,92.8 326.8,89.7 326.9,83.3 327.0,83.3 327.1,80.1 327.3,73.2 327.4,81.5 327.5,71.3 327.6,84.3 327.7,77.4 327.8,77.9 327.9,76.7 328.0,75.7 328.1,75.7 328.2,73.0 328.4,66.0 328.5,65.5 328.6,65.1 328.7,67.2 328.8,68.8 328.9,67.6 329.0,64.1 329.1,61.3 329.2,60.7 329.3,59.5 329.5,62.7 329.6,67.1 329.7,67.9 329.8,64.1 329.9,69.9 330.0,62.2 330.1,60.8 330.2,63.8 330.3,64.0 330.4,62.5 330.6,64.7 330.7,58.9 330.8,58.3 330.9,51.5 331.0,52.9 331.1,62.1 331.2,50.3 331.3,51.3 331.4,51.4 331.5,42.5 331.7,55.6 331.8,54.2 331.9,47.0 332.0,51.0 332.1,55.0 332.2,45.0 332.3,48.0 332.4,42.8 332.5,48.4 332.6,36.9 332.8,41.2 332.9,39.1 333.0,40.1 333.1,49.2 333.2,48.4 333.3,42.3 333.4,45.3 333.5,41.2 333.6,41.6 333.7,48.8 333.9,46.8 334.0,46.1 334.1,37.9 334.2,32.4 334.3,29.5 334.4,25.5 334.5,21.6 334.6,25.6 334.7,30.5 334.8,41.4 335.0,38.1 335.1,57.0 335.2,59.1 335.3,61.6 335.4,50.5 335.5,59.4 335.6,60.7 335.7,66.8 335.8,67.2 335.9,63.0 336.1,64.3 336.2,52.6 336.3,57.1 336.4,59.4 336.5,59.8 336.6,68.5 336.7,58.8 336.8,57.4 336.9,56.9 337.0,54.7 337.2,63.1 337.3,64.3 337.4,63.2 337.5,67.2 337.6,66.4 337.7,64.5 337.8,61.1 337.9,63.5 338.0,68.7 338.1,68.2 338.3,69.3 338.4,62.9 338.5,67.8 338.6,72.7 338.7,64.1 338.8,72.9 338.9,69.3 339.0,61.5 339.1,58.4 339.2,59.3 339.4,52.5 339.5,56.5 339.6,63.4 339.7,59.3 339.8,65.0 339.9,76.2 340.0,61.6 340.1,61.9 340.2,70.9 340.3,84.6 340.5,71.5 340.6,77.3 340.7,68.1 340.8,76.0 340.9,72.6 341.0,68.1 341.1,68.6 341.2,67.8 341.3,63.1 341.4,69.6 341.6,68.9 341.7,69.8 341.8,66.7 341.9,70.0 342.0,79.8 342.1,74.7 342.2,63.3 342.3,67.2 342.4,68.4 342.5,67.2 342.7,66.6 342.8,68.2 342.9,68.3 343.0,70.3 343.1,71.9 343.2,77.9 343.3,75.9 343.4,80.3 343.5,73.5 343.6,80.1 343.8,81.1 343.9,74.5 344.0,76.7 344.1,77.3 344.2,76.7 344.3,76.8 344.4,79.8 344.5,75.8 344.6,80.0 344.7,79.2 344.9,75.3 345.0,86.4 345.1,81.2 345.2,79.9 345.3,74.8 345.4,81.3 345.5,76.3 345.6,82.1 345.7,84.0 345.8,88.8 346.0,85.8 346.1,76.0 346.2,86.9 346.3,78.5 346.4,90.4 346.5,88.9 346.6,85.2 346.7,90.4 346.8,91.3 346.9,95.6 347.1,89.5 347.2,89.4 347.3,85.5 347.4,84.7 347.5,90.8 347.6,89.3 347.7,97.6 347.8,92.5" fill="none" stroke="#E24A33" stroke-width="0.9" stroke-linejoin="round"/>
<polyline points="174.9,65.5 175.0,68.9 175.1,70.3 175.2,69.3 175.3,65.5 175.5,69.1 175.6,66.7 175.7,67.0 175.8,67.4 175.9,67.5 176.0,69.7 176.1,63.4 176.2,65.5 176.3,69.8 176.4,64.5 176.6,68.8 176.7,66.8 176.8,68.7 176.9,69.8 177.0,66.0 177.1,67.5 177.2,67.4 177.3,69.9 177.4,69.5 177.5,74.6 177.7,70.4 177.8,76.3 177.9,71.1 178.0,74.5 178.1,73.8 178.2,74.7 178.3,72.3 178.4,75.3 178.5,76.1 178.6,75.5 178.8,77.0 178.9,73.4 179.0,75.7 179.1,75.2 179.2,74.2 179.3,80.0 179.4,77.8 179.5,79.1 179.6,84.4 179.7,81.3 179.9,82.3 180.0,85.8 180.1,87.5 180.2,91.0 180.3,88.2 180.4,96.2 180.5,94.1 180.6,93.5 180.7,96.8 180.8,102.7 181.0,100.3 181.1,100.1 181.2,94.0 181.3,94.4 181.4,91.7 181.5,88.4 181.6,90.8 181.7,94.3 181.8,93.6 181.9,87.6 182.1,93.1 182.2,89.4 182.3,91.5 182.4,93.6 182.5,92.4 182.6,91.2 182.7,94.8 182.8,93.7 182.9,92.1 183.0,96.5 183.2,94.6 183.3,97.0 183.4,94.5 183.5,99.1 183.6,93.1 183.7,93.2 183.8,89.6 183.9,94.0 184.0,90.9 184.1,90.9 184.3,84.4 184.4,86.7 184.5,85.1 184.6,86.0 184.7,77.9 184.8,79.8 184.9,79.8 185.0,72.5 185.1,74.0 185.2,70.1 185.4,69.6 185.5,69.0 185.6,69.2 185.7,64.2 185.8,60.0 185.9,60.4 186.0,56.7 186.1,56.8 186.2,52.7 186.3,55.2 186.5,52.2 186.6,52.5 186.7,53.1 186.8,49.8 186.9,49.3 187.0,50.5 187.1,47.5 187.2,46.9 187.3,45.5 187.4,44.7 187.6,46.9 187.7,48.1 187.8,39.6 187.9,46.6 188.0,45.5 188.1,48.3 188.2,46.6 188.3,46.3 188.4,48.3 188.5,47.4 188.7,46.0 188.8,49.7 188.9,52.1 189.0,51.2 189.1,53.3 189.2,49.9 189.3,56.3 189.4,55.7 189.5,57.5 189.6,59.2 189.8,56.9 189.9,64.3 190.0,61.8 190.1,62.3 190.2,59.9 190.3,57.8 190.4,61.5 190.5,60.0 190.6,62.8 190.7,62.4 190.9,64.9 191.0,63.4 191.1,63.5 191.2,66.4 191.3,62.7 191.4,61.2 191.5,61.7 191.6,65.8 191.7,63.4 191.8,62.3 192.0,59.9 192.1,61.6 192.2,66.3 192.3,67.9 192.4,68.4 192.5,63.6 192.6,66.2 192.7,67.8 192.8,60.7 192.9,71.2 193.1,63.1 193.2,62.2 193.3,67.3 193.4,67.1 193.5,69.0 193.6,68.3 193.7,66.5 193.8,65.7 193.9,64.8 194.0,68.6 194.2,62.8 194.3,66.6 194.4,68.7 194.5,65.6 194.6,71.5 194.7,72.3 194.8,69.7 194.9,69.4 195.0,72.1 195.1,72.2 195.3,70.5 195.4,75.1 195.5,73.3 195.6,71.7 195.7,73.7 195.8,73.8 195.9,67.6 196.0,75.7 196.1,68.0 196.2,71.6 196.4,68.6 196.5,73.3 196.6,73.8 196.7,73.9 196.8,67.4 196.9,76.5 197.0,75.6 197.1,71.8 197.2,80.9 197.3,78.1 197.5,76.6 197.6,81.0 197.7,80.0 197.8,83.1 197.9,83.7 198.0,83.4 198.1,83.9 198.2,89.1 198.3,86.8 198.4,84.1 198.6,83.2 198.7,82.1 198.8,85.9 198.9,81.2 199.0,79.3 199.1,81.3 199.2,76.1 199.3,74.2 199.4,75.7 199.5,75.3 199.7,74.4 199.8,73.4 199.9,74.9 200.0,73.1 200.1,71.8 200.2,75.3 200.3,72.0 200.4,71.5 200.5,73.2 200.6,73.1 200.8,70.5 200.9,70.8 201.0,69.1 201.1,69.3 201.2,72.5 201.3,70.6 201.4,69.7 201.5,70.3 201.6,75.2 201.7,71.1 201.9,72.8 202.0,71.3 202.1,69.7 202.2,72.5 202.3,71.4 202.4,72.3 202.5,71.1 202.6,66.4 202.7,66.6 202.8,65.4 203.0,63.7 203.1,59.3 203.2,57.9 203.3,60.8 203.4,60.6 203.5,55.3 203.6,60.4 203.7,57.0 203.8,52.6 203.9,55.9 204.1,44.8 204.2,43.4 204.3,40.4 204.4,44.4 204.5,39.5 204.6,40.3 204.7,38.3 204.8,36.6 204.9,38.4 205.0,35.2 205.2,38.7 205.3,33.0 205.4,32.4 205.5,35.3 205.6,31.5 205.7,36.2 205.8,34.6 205.9,28.8 206.0,33.3 206.1,34.4 206.3,39.1 206.4,34.2 206.5,34.9 206.6,36.5 206.7,35.8 206.8,35.3 206.9,38.6 207.0,36.8 207.1,37.4 207.2,44.4 207.4,41.9 207.5,38.9 207.6,39.8 207.7,42.6 207.8,41.4 207.9,41.3 208.0,47.7 208.1,44.7 208.2,44.0 208.3,47.2 208.5,46.7 208.6,47.6 208.7,51.7 208.8,48.7 208.9,47.8 209.0,47.2 209.1,52.6 209.2,50.6 209.3,51.3 209.4,48.2 209.6,51.7 209.7,54.3 209.8,55.4 209.9,55.5 210.0,55.4 210.1,59.6 210.2,58.4 210.3,54.2 210.4,56.4 210.5,58.5 210.7,59.5 210.8,55.8 210.9,55.1 211.0,59.4 211.1,59.7 211.2,59.6 211.3,60.3 211.4,59.7 211.5,57.9 211.6,63.3 211.8,64.2 211.9,66.1 212.0,63.2 212.1,63.5 212.2,63.7 212.3,64.6 212.4,61.1 212.5,64.9 212.6,64.6 212.7,67.1 212.9,67.2 213.0,66.2 213.1,66.1 213.2,63.5 213.3,67.5 213.4,66.5 213.5,66.0 213.6,68.7 213.7,68.5 213.8,64.7 214.0,68.8 214.1,66.7 214.2,64.8 214.3,62.2 214.4,62.9 214.5,67.1 214.6,61.0 214.7,68.8 214.8,67.0 214.9,66.5 215.1,70.9 215.2,67.3 215.3,63.3 215.4,64.3 215.5,64.5 215.6,64.6 215.7,72.7 215.8,67.1 215.9,66.5 216.0,69.0 216.2,70.0 216.3,66.9 216.4,65.8 216.5,63.8 216.6,70.0 216.7,68.3 216.8,71.3 216.9,68.9 217.0,65.2 217.1,67.4 217.3,72.6 217.4,68.2 217.5,69.4 217.6,64.0 217.7,67.3 217.8,72.6 217.9,65.7 218.0,72.7 218.1,69.1 218.2,69.9 218.4,75.2 218.5,69.6 218.6,74.0 218.7,69.7 218.8,71.8 218.9,73.8 219.0,74.1 219.1,70.3 219.2,65.9 219.3,76.2 219.5,71.6 219.6,77.3 219.7,72.7 219.8,72.5 219.9,72.5 220.0,71.6 220.1,76.2 220.2,67.4 220.3,68.9 220.4,69.5 220.6,70.9 220.7,70.6 220.8,72.0 220.9,74.5 221.0,69.9 221.1,71.0 221.2,72.8 221.3,75.7 221.4,70.9 221.5,79.7 221.7,75.5 221.8,75.3 221.9,78.1 222.0,77.6 222.1,78.3 222.2,78.9 222.3,77.0 222.4,73.1 222.5,67.3 222.6,64.2 222.8,61.7 222.9,52.3 223.0,53.3 223.1,51.9 223.2,49.5 223.3,43.8 223.4,41.1 223.5,42.3 223.6,46.7 223.7,48.3 223.9,43.7 224.0,42.9 224.1,47.4 224.2,49.0 224.3,49.8 224.4,49.5 224.5,55.6 224.6,50.5 224.7,57.1 224.8,49.1 225.0,55.0 225.1,54.6 225.2,56.1 225.3,53.8 225.4,55.5 225.5,55.0 225.6,58.2 225.7,57.4 225.8,58.0 225.9,55.4 226.1,56.5 226.2,54.0 226.3,58.7 226.4,56.2 226.5,61.9 226.6,60.3 226.7,63.2 226.8,61.5 226.9,62.2 227.0,62.6 227.2,60.3 227.3,64.8 227.4,59.5 227.5,63.6 227.6,57.4 227.7,61.5 227.8,65.6 227.9,65.4 228.0,61.2 228.1,66.0 228.3,67.3 228.4,67.7 228.5,65.0 228.6,64.5 228.7,66.2 228.8,66.4 228.9,67.1 229.0,65.8 229.1,64.2 229.2,67.2 229.4,63.0 229.5,64.7 229.6,65.3 229.7,66.7 229.8,67.0 229.9,70.6 230.0,67.6 230.1,69.3 230.2,65.9 230.3,64.2 230.5,65.4 230.6,65.1 230.7,70.7 230.8,69.3 230.9,69.1 231.0,67.0 231.1,64.6 231.2,67.2 231.3,66.4 231.4,66.6 231.6,68.9 231.7,71.6 231.8,71.2 231.9,67.2 232.0,68.1 232.1,68.5 232.2,66.4 232.3,71.1 232.4,70.3 232.5,71.2 232.7,73.1 232.8,70.5 232.9,70.9 233.0,75.3 233.1,75.2 233.2,73.3 233.3,70.9 233.4,79.2 233.5,74.9 233.6,76.8 233.8,73.3 233.9,76.8 234.0,76.2 234.1,74.9 234.2,76.9 234.3,70.7 234.4,77.3 234.5,73.2 234.6,73.1 234.7,73.8 234.9,75.4 235.0,76.4 235.1,75.9 235.2,78.5 235.3,84.0 235.4,80.0 235.5,78.4 235.6,82.1 235.7,82.4 235.8,79.6 236.0,84.5 236.1,79.1 236.2,83.5 236.3,87.8 236.4,81.5 236.5,84.8 236.6,85.9 236.7,91.6 236.8,87.6 236.9,89.9 237.1,92.3 237.2,92.9 237.3,93.0 237.4,90.6 237.5,88.4 237.6,94.8 237.7,93.9 237.8,96.7 237.9,94.2 238.0,97.1 238.2,100.9 238.3,96.1 238.4,100.4 238.5,100.0 238.6,103.8 238.7,98.7 238.8,94.7 238.9,92.0 239.0,93.5 239.1,91.2 239.3,87.7 239.4,88.4 239.5,81.9 239.6,83.0 239.7,81.1 239.8,72.2 239.9,71.5 240.0,69.0 240.1,58.7 240.2,57.1 240.4,52.7 240.5,53.3 240.6,53.3 240.7,43.6 240.8,46.3 240.9,50.5 241.0,43.6 241.1,44.0 241.2,41.8 241.3,39.8 241.5,41.5 241.6,39.4 241.7,37.6 241.8,36.7 241.9,40.8 242.0,39.8 242.1,39.0 242.2,39.5 242.3,42.5 242.4,44.6 242.6,41.4 242.7,47.3 242.8,43.9 242.9,44.1 243.0,49.4 243.1,52.3 243.2,55.6 243.3,52.3 243.4,54.9 243.5,59.9 243.7,58.3 243.8,62.9 243.9,61.6 244.0,57.4 244.1,58.7 244.2,62.0 244.3,55.6 244.4,62.3 244.5,61.1 244.6,59.2 244.8,67.2 244.9,60.5 245.0,60.6 245.1,62.8 245.2,63.0 245.3,65.5 245.4,65.4 245.5,59.6 245.6,68.0 245.7,67.4 245.9,68.9 246.0,68.3 246.1,63.9 246.2,69.9 246.3,68.0 246.4,66.8 246.5,69.1 246.6,71.4 246.7,67.5 246.8,67.1 247.0,71.3 247.1,72.8 247.2,68.2 247.3,69.8 247.4,69.4 247.5,71.2 247.6,68.2 247.7,63.7 247.8,65.5 247.9,69.8 248.1,70.1 248.2,70.6 248.3,66.6 248.4,65.2 248.5,68.6 248.6,67.2 248.7,67.1 248.8,65.9 248.9,68.8 249.0,67.0 249.2,68.5 249.3,74.0 249.4,70.0 249.5,72.3 249.6,70.2 249.7,70.8 249.8,69.4 249.9,73.5 250.0,69.3 250.1,70.4 250.3,70.2 250.4,68.3 250.5,72.7 250.6,69.0 250.7,69.1 250.8,74.1 250.9,75.7 251.0,71.9 251.1,76.0 251.2,75.9 251.4,72.7 251.5,71.7 251.6,77.4 251.7,76.0 251.8,78.5 251.9,73.7 252.0,79.7 252.1,78.5 252.2,78.7 252.3,81.8 252.5,77.5 252.6,77.6 252.7,77.0 252.8,76.0 252.9,79.2 253.0,76.2 253.1,78.4 253.2,77.4 253.3,83.4 253.4,83.9 253.6,88.6 253.7,86.2 253.8,88.2 253.9,89.9 254.0,90.5 254.1,98.6 254.2,89.8 254.3,99.5 254.4,100.5 254.5,98.5 254.7,101.6 254.8,105.1 254.9,100.9 255.0,95.3 255.1,96.8 255.2,99.1 255.3,92.1 255.4,95.0 255.5,88.8 255.6,89.6 255.8,86.5 255.9,83.6 256.0,85.9 256.1,84.2 256.2,91.7 256.3,85.9 256.4,92.5 256.5,91.1 256.6,95.0 256.7,98.4 256.9,97.7 257.0,97.6 257.1,96.1 257.2,94.1 257.3,92.6 257.4,88.4 257.5,89.9 257.6,82.4 257.7,80.9 257.8,83.7 258.0,78.7 258.1,78.1 258.2,75.6 258.3,73.5 258.4,74.9 258.5,68.6 258.6,63.7 258.7,65.6 258.8,64.8 258.9,61.9 259.1,60.4 259.2,63.5 259.3,60.8 259.4,62.9 259.5,59.3 259.6,55.4 259.7,55.7 259.8,53.7 259.9,51.5 260.0,51.2 260.2,44.0 260.3,46.7 260.4,50.1 260.5,44.0 260.6,48.9 260.7,48.3 260.8,45.9 260.9,48.4 261.0,53.3 261.1,49.6 261.3,52.4 261.4,54.0 261.5,51.5 261.6,57.6 261.7,57.5 261.8,57.8 261.9,57.5 262.0,56.5 262.1,57.1 262.2,60.9 262.4,55.3 262.5,62.9 262.6,62.6 262.7,62.7 262.8,61.8 262.9,59.8 263.0,59.6 263.1,62.2 263.2,63.6 263.3,64.9 263.5,63.1 263.6,63.9 263.7,60.6 263.8,64.4 263.9,65.2 264.0,67.8 264.1,66.2 264.2,64.0 264.3,62.2 264.4,67.6 264.6,62.3 264.7,65.5 264.8,66.5 264.9,66.2 265.0,61.7 265.1,62.6 265.2,67.2 265.3,67.7 265.4,73.1 265.5,64.7 265.7,63.7 265.8,65.6 265.9,66.4 266.0,68.3 266.1,69.5 266.2,69.3 266.3,68.5 266.4,66.9 266.5,69.4 266.6,66.0 266.8,70.1 266.9,66.8 267.0,67.8 267.1,71.8 267.2,71.9 267.3,73.4 267.4,68.7 267.5,73.3 267.6,73.9 267.7,71.7 267.9,68.6 268.0,70.5 268.1,72.0 268.2,70.9 268.3,70.2 268.4,71.8 268.5,74.7 268.6,74.5 268.7,69.9 268.8,68.7 269.0,76.4 269.1,76.1 269.2,73.1 269.3,70.8 269.4,77.6 269.5,73.1 269.6,72.3 269.7,73.0 269.8,73.6 269.9,70.4 270.1,72.5 270.2,76.3 270.3,77.8 270.4,75.0 270.5,84.4 270.6,82.3 270.7,81.4 270.8,82.9 270.9,76.5 271.0,82.1 271.2,82.2 271.3,83.3 271.4,83.7 271.5,86.8 271.6,89.0 271.7,89.0 271.8,87.1 271.9,90.8 272.0,89.1 272.1,90.6 272.3,91.6 272.4,90.9 272.5,92.1 272.6,92.9 272.7,93.6 272.8,88.1 272.9,94.6 273.0,93.6 273.1,99.9 273.2,97.6 273.4,94.2 273.5,95.5 273.6,94.5 273.7,94.0 273.8,87.4 273.9,91.7 274.0,88.7 274.1,92.5 274.2,89.4 274.3,85.6 274.5,84.3 274.6,83.2 274.7,81.1 274.8,77.8 274.9,76.1 275.0,80.7 275.1,75.2 275.2,78.7 275.3,79.4 275.4,79.3 275.6,76.7 275.7,78.2 275.8,76.0 275.9,73.9 276.0,77.6 276.1,75.6 276.2,75.8 276.3,72.3 276.4,68.3 276.5,70.7 276.7,69.5 276.8,72.9 276.9,69.0 277.0,72.9 277.1,70.2 277.2,69.5 277.3,69.2 277.4,68.4 277.5,65.2 277.6,68.5 277.8,58.7 277.9,58.7 278.0,58.0 278.1,59.3 278.2,53.3 278.3,57.3 278.4,48.9 278.5,54.9 278.6,48.5 278.7,46.6 278.9,42.7 279.0,39.8 279.1,33.0 279.2,33.7 279.3,39.7 279.4,40.8 279.5,41.7 279.6,43.6 279.7,45.2 279.8,48.3 280.0,53.0 280.1,51.7 280.2,55.4 280.3,59.4 280.4,57.6 280.5,61.0 280.6,60.4 280.7,62.8 280.8,62.3 280.9,65.8 281.1,62.4 281.2,61.3 281.3,65.7 281.4,65.0 281.5,69.3 281.6,67.2 281.7,66.1 281.8,65.2 281.9,67.9 282.0,66.6 282.2,67.2 282.3,66.4 282.4,73.8 282.5,65.0 282.6,67.2 282.7,69.1 282.8,70.3 282.9,68.7 283.0,69.5 283.1,69.0 283.3,74.4 283.4,69.0 283.5,70.5 283.6,66.9 283.7,69.2 283.8,64.4 283.9,68.3 284.0,63.1 284.1,64.2 284.2,64.7 284.4,66.4 284.5,64.9 284.6,63.4 284.7,65.5 284.8,70.6 284.9,72.8 285.0,72.7 285.1,70.1 285.2,70.2 285.3,68.9 285.5,67.5 285.6,68.1 285.7,69.5 285.8,70.6 285.9,68.9 286.0,65.9 286.1,67.6 286.2,63.4 286.3,71.0 286.4,69.4 286.6,72.0 286.7,72.3 286.8,69.7 286.9,71.5 287.0,70.0 287.1,66.8 287.2,71.4 287.3,71.3 287.4,71.0 287.5,74.5 287.7,68.6 287.8,67.2 287.9,71.9 288.0,72.1 288.1,70.6 288.2,67.5 288.3,68.9 288.4,67.5 288.5,67.5 288.6,66.4 288.8,72.0 288.9,68.7 289.0,68.3 289.1,73.2 289.2,72.0 289.3,72.9 289.4,76.9 289.5,75.5 289.6,76.0 289.7,76.7 289.9,76.6 290.0,78.0 290.1,77.9 290.2,75.8 290.3,76.6 290.4,83.1 290.5,79.1 290.6,79.1 290.7,80.9 290.8,81.0 291.0,81.9 291.1,83.0 291.2,84.5 291.3,86.4 291.4,92.9 291.5,90.4 291.6,93.1 291.7,94.4 291.8,91.2 291.9,98.6 292.1,97.2 292.2,92.2 292.3,99.6 292.4,98.5 292.5,98.6 292.6,98.2 292.7,98.4 292.8,99.2 292.9,96.6 293.0,100.0 293.2,97.9 293.3,97.4 293.4,93.8 293.5,91.0 293.6,88.9 293.7,87.3 293.8,87.2 293.9,85.8 294.0,83.7 294.1,81.8 294.3,84.8 294.4,77.7 294.5,75.6 294.6,73.3 294.7,74.0 294.8,73.0 294.9,69.3 295.0,69.8 295.1,68.2 295.2,62.7 295.4,62.2 295.5,61.3 295.6,63.0 295.7,58.0 295.8,54.4 295.9,53.6 296.0,52.0 296.1,49.6 296.2,47.6 296.3,44.3 296.5,42.3 296.6,40.1 296.7,38.1 296.8,37.2 296.9,40.6 297.0,43.1 297.1,42.1 297.2,43.5 297.3,47.1 297.4,50.1 297.6,50.4 297.7,47.7 297.8,48.3 297.9,49.7 298.0,50.0 298.1,51.0 298.2,46.5 298.3,53.8 298.4,53.1 298.5,50.7 298.7,53.8 298.8,52.6 298.9,55.2 299.0,59.3 299.1,54.6 299.2,57.4 299.3,58.3 299.4,60.2 299.5,61.9 299.6,61.1 299.8,65.9 299.9,60.5 300.0,64.6 300.1,62.5 300.2,65.5 300.3,63.1 300.4,62.4 300.5,62.3 300.6,61.7 300.7,60.0 300.9,60.3 301.0,56.8 301.1,61.0 301.2,60.6 301.3,62.4 301.4,61.3 301.5,66.0 301.6,64.2 301.7,65.3 301.8,67.7 302.0,63.7 302.1,66.1 302.2,63.4 302.3,64.6 302.4,65.2 302.5,70.5 302.6,66.0 302.7,69.6 302.8,69.1 302.9,71.7 303.1,68.6 303.2,65.1 303.3,65.9 303.4,72.3 303.5,70.6 303.6,72.0 303.7,72.0 303.8,69.3 303.9,68.4 304.0,71.0 304.2,66.4 304.3,68.0 304.4,67.9 304.5,69.8 304.6,63.6 304.7,63.1 304.8,69.5 304.9,68.5 305.0,67.6 305.1,67.6 305.3,69.6 305.4,66.7 305.5,68.6 305.6,73.3 305.7,73.5 305.8,75.1 305.9,72.7 306.0,74.5 306.1,69.2 306.2,68.8 306.4,65.4 306.5,69.5 306.6,69.3 306.7,74.6 306.8,74.4 306.9,70.0 307.0,70.0 307.1,77.4 307.2,79.3 307.3,73.5 307.5,76.9 307.6,79.2 307.7,77.3 307.8,82.1 307.9,80.6 308.0,80.9 308.1,80.5 308.2,78.9 308.3,83.4 308.4,83.4 308.6,87.3 308.7,81.0 308.8,83.0 308.9,83.8 309.0,84.7 309.1,81.5 309.2,84.9 309.3,81.7 309.4,81.8 309.5,81.1 309.7,82.4 309.8,75.1 309.9,76.8 310.0,78.7 310.1,76.4 310.2,77.6 310.3,73.7 310.4,82.3 310.5,78.7 310.6,79.3 310.8,76.2 310.9,80.5 311.0,80.1 311.1,77.5 311.2,78.7 311.3,75.1 311.4,77.9 311.5,76.2 311.6,77.4 311.7,74.8 311.9,76.8 312.0,72.5 312.1,71.3 312.2,69.5 312.3,68.9 312.4,66.1 312.5,66.7 312.6,64.9 312.7,66.8 312.8,64.2 313.0,63.7 313.1,60.8 313.2,62.2 313.3,59.4 313.4,58.6 313.5,55.6 313.6,56.5 313.7,54.0 313.8,52.3 313.9,51.6 314.1,54.9 314.2,50.1 314.3,53.1 314.4,47.1 314.5,47.6 314.6,44.6 314.7,45.9 314.8,48.0 314.9,47.0 315.0,40.9 315.2,42.8 315.3,41.2 315.4,37.9 315.5,36.3 315.6,34.6 315.7,36.1 315.8,34.1 315.9,37.3 316.0,39.0 316.1,37.8 316.3,37.5 316.4,42.7 316.5,40.5 316.6,38.9 316.7,42.7 316.8,44.4 316.9,43.2 317.0,46.3 317.1,46.5 317.2,47.5 317.4,46.6 317.5,46.8 317.6,50.9 317.7,50.5 317.8,52.8 317.9,55.0 318.0,55.8 318.1,57.1 318.2,57.7 318.3,58.7 318.5,58.0 318.6,61.4 318.7,60.4 318.8,58.6 318.9,61.7 319.0,64.8 319.1,59.4 319.2,62.4 319.3,64.4 319.4,59.4 319.6,62.2 319.7,61.5 319.8,61.8 319.9,66.4 320.0,65.0 320.1,62.6 320.2,61.2 320.3,64.9 320.4,64.1 320.5,67.3 320.7,64.4 320.8,66.5 320.9,69.2 321.0,68.9 321.1,66.3 321.2,66.3 321.3,64.7 321.4,69.9 321.5,66.6 321.6,67.4 321.8,66.4 321.9,68.8 322.0,73.5 322.1,68.9 322.2,68.8 322.3,67.5 322.4,68.9 322.5,68.7 322.6,73.2 322.7,69.9 322.9,66.8 323.0,63.8 323.1,69.4 323.2,69.0 323.3,67.7 323.4,71.9 323.5,71.5 323.6,75.7 323.7,76.3 323.8,75.0 324.0,78.2 324.1,81.7 324.2,79.8 324.3,79.0 324.4,79.4 324.5,85.4 324.6,84.1 324.7,80.3 324.8,85.2 324.9,87.5 325.1,88.1 325.2,86.7 325.3,88.7 325.4,87.3 325.5,91.1 325.6,92.5 325.7,94.4 325.8,92.1 325.9,90.0 326.0,93.6 326.2,90.8 326.3,85.7 326.4,82.5 326.5,81.8 326.6,85.3 326.7,85.4 326.8,83.9 326.9,84.5 327.0,86.2 327.1,83.3 327.3,80.8 327.4,80.2 327.5,75.4 327.6,78.2 327.7,75.8 327.8,78.1 327.9,72.4 328.0,74.1 328.1,70.5 328.2,72.9 328.4,76.8 328.5,71.3 328.6,71.3 328.7,69.4 328.8,71.4 328.9,67.8 329.0,67.4 329.1,64.3 329.2,71.9 329.3,64.5 329.5,64.1 329.6,62.3 329.7,64.2 329.8,63.8 329.9,60.3 330.0,70.1 330.1,62.7 330.2,62.2 330.3,63.2 330.4,55.9 330.6,58.0 330.7,54.7 330.8,55.1 330.9,55.4 331.0,49.1 331.1,52.2 331.2,53.5 331.3,50.1 331.4,52.7 331.5,50.6 331.7,52.7 331.8,47.8 331.9,48.9 332.0,47.9 332.1,46.1 332.2,49.4 332.3,44.2 332.4,42.1 332.5,42.8 332.6,44.4 332.8,35.8 332.9,39.2 333.0,33.2 333.1,34.1 333.2,38.0 333.3,40.1 333.4,35.5 333.5,40.5 333.6,40.8 333.7,45.8 333.9,38.5 334.0,43.9 334.1,42.9 334.2,43.9 334.3,47.8 334.4,47.5 334.5,51.0 334.6,50.5 334.7,49.7 334.8,58.6 335.0,54.1 335.1,51.8 335.2,55.6 335.3,57.2 335.4,56.8 335.5,57.5 335.6,61.6 335.7,58.9 335.8,59.6 335.9,59.5 336.1,60.0 336.2,59.7 336.3,62.6 336.4,65.9 336.5,63.0 336.6,63.2 336.7,62.5 336.8,63.4 336.9,61.3 337.0,69.2 337.2,65.4 337.3,64.1 337.4,67.4 337.5,67.2 337.6,70.0 337.7,68.6 337.8,65.8 337.9,67.7 338.0,66.6 338.1,67.2 338.3,64.5 338.4,71.3 338.5,69.6 338.6,69.1 338.7,70.3 338.8,71.1 338.9,68.2 339.0,69.8 339.1,72.8 339.2,72.9 339.4,66.4 339.5,69.2 339.6,68.3 339.7,64.8 339.8,68.8 339.9,72.1 340.0,72.5 340.1,71.9 340.2,69.5 340.3,72.2 340.5,70.5 340.6,73.4 340.7,72.3 340.8,67.8 340.9,72.0 341.0,67.8 341.1,69.4 341.2,71.3 341.3,70.5 341.4,69.6 341.6,70.6 341.7,76.1 341.8,70.8 341.9,72.6 342.0,69.5 342.1,72.3 342.2,70.6 342.3,72.8 342.4,68.8 342.5,72.9 342.7,71.7 342.8,71.9 342.9,73.2 343.0,75.3 343.1,71.3 343.2,70.3 343.3,74.8 343.4,76.5 343.5,72.4 343.6,78.0 343.8,73.6 343.9,76.2 344.0,76.6 344.1,77.1 344.2,79.8 344.3,74.8 344.4,75.8 344.5,77.8 344.6,80.0 344.7,77.6 344.9,82.5 345.0,78.7 345.1,79.9 345.2,80.6 345.3,84.0 345.4,85.3 345.5,77.9 345.6,84.8 345.7,82.4 345.8,87.8 346.0,88.7 346.1,88.1 346.2,88.5 346.3,89.4 346.4,92.3 346.5,89.3 346.6,95.0 346.7,94.2 346.8,90.7 346.9,90.9 347.1,98.4 347.2,95.5 347.3,94.8 347.4,99.7 347.5,98.8 347.6,99.1 347.7,94.2 347.8,91.6" fill="none" stroke="#348ABD" stroke-width="1.15" stroke-linejoin="round"/>
<line x1="172.9" x2="174.5" y1="22.4" y2="22.4" stroke="#666" stroke-width="0.5"/>
<text class="tk" transform="translate(170.3,25.2) scale(0.82,1)" text-anchor="end">50</text>
<line x1="172.9" x2="174.5" y1="45.4" y2="45.4" stroke="#666" stroke-width="0.5"/>
<text class="tk" transform="translate(170.3,48.2) scale(0.82,1)" text-anchor="end">40</text>
<line x1="172.9" x2="174.5" y1="68.4" y2="68.4" stroke="#666" stroke-width="0.5"/>
<text class="tk" transform="translate(170.3,71.2) scale(0.82,1)" text-anchor="end">30</text>
<line x1="172.9" x2="174.5" y1="91.4" y2="91.4" stroke="#666" stroke-width="0.5"/>
<text class="tk" transform="translate(170.3,94.2) scale(0.82,1)" text-anchor="end">20</text>
<line x1="172.9" x2="174.5" y1="114.5" y2="114.5" stroke="#666" stroke-width="0.5"/>
<text class="tk" transform="translate(170.3,117.3) scale(0.82,1)" text-anchor="end">10</text>
<line x1="175" x2="175" y1="117.5" y2="119.1" stroke="#666" stroke-width="0.5"/>
<text class="tk" transform="translate(175.0,125.1) scale(0.82,1)" text-anchor="middle">0</text>
<line x1="211" x2="211" y1="117.5" y2="119.1" stroke="#666" stroke-width="0.5"/>
<text class="tk" transform="translate(211.0,125.1) scale(0.82,1)" text-anchor="middle">500</text>
<line x1="247.1" x2="247.1" y1="117.5" y2="119.1" stroke="#666" stroke-width="0.5"/>
<text class="tk" transform="translate(247.1,125.1) scale(0.82,1)" text-anchor="middle">1000</text>
<line x1="283.3" x2="283.3" y1="117.5" y2="119.1" stroke="#666" stroke-width="0.5"/>
<text class="tk" transform="translate(283.3,125.1) scale(0.82,1)" text-anchor="middle">1500</text>
<line x1="319.5" x2="319.5" y1="117.5" y2="119.1" stroke="#666" stroke-width="0.5"/>
<text class="tk" transform="translate(319.5,125.1) scale(0.82,1)" text-anchor="middle">2000</text>
<text class="tt" x="194.0" y="11.6" textLength="43.8" lengthAdjust="spacingAndGlyphs">Northbound (</text>
<text class="tt tm" x="238.0" y="11.6" textLength="90.0" lengthAdjust="spacingAndGlyphs">100%<tspan dx="4.8">−</tspan><tspan dx="2.6" class="mi">MAPE</tspan><tspan dx="0.6">:</tspan><tspan dx="1.3">91.5%)</tspan></text>
<text class="al" transform="translate(159.3,70.1) rotate(-90)" text-anchor="middle">Speed</text>
<text class="al" x="260.6" y="135.8" text-anchor="middle">Time</text></g>
<g id="plot1b"><rect x="376.0" y="18.2" width="169.0" height="98.1" fill="#E5E5E5"/>
<line x1="376.0" x2="545.0" y1="19.9" y2="19.9" stroke="#fff" stroke-width="0.5" opacity="0.7"/>
<line x1="376.0" x2="545.0" y1="41.8" y2="41.8" stroke="#fff" stroke-width="0.5" opacity="0.7"/>
<line x1="376.0" x2="545.0" y1="63.8" y2="63.8" stroke="#fff" stroke-width="0.5" opacity="0.7"/>
<line x1="376.0" x2="545.0" y1="85.8" y2="85.8" stroke="#fff" stroke-width="0.5" opacity="0.7"/>
<line x1="376.0" x2="545.0" y1="107.8" y2="107.8" stroke="#fff" stroke-width="0.5" opacity="0.7"/>
<line x1="375.7" x2="375.7" y1="18.2" y2="116.3" stroke="#fff" stroke-width="0.5" opacity="0.7"/>
<line x1="411" x2="411" y1="18.2" y2="116.3" stroke="#fff" stroke-width="0.5" opacity="0.7"/>
<line x1="446.2" x2="446.2" y1="18.2" y2="116.3" stroke="#fff" stroke-width="0.5" opacity="0.7"/>
<line x1="481.4" x2="481.4" y1="18.2" y2="116.3" stroke="#fff" stroke-width="0.5" opacity="0.7"/>
<line x1="516.6" x2="516.6" y1="18.2" y2="116.3" stroke="#fff" stroke-width="0.5" opacity="0.7"/>
<polyline points="376.4,71.2 376.5,67.0 376.6,54.3 376.7,59.0 376.8,68.7 377.0,67.7 377.1,60.2 377.2,56.3 377.3,68.2 377.4,67.4 377.5,54.6 377.6,60.4 377.7,64.4 377.8,66.0 377.9,61.9 378.1,62.5 378.2,70.6 378.3,66.8 378.4,66.0 378.5,63.9 378.6,70.9 378.7,65.6 378.8,67.8 378.9,67.7 379.0,66.7 379.2,67.3 379.3,65.2 379.4,60.0 379.5,60.0 379.6,64.9 379.7,59.0 379.8,57.6 379.9,49.0 380.0,55.4 380.1,51.4 380.3,59.5 380.4,56.0 380.5,56.0 380.6,64.9 380.7,60.0 380.8,56.7 380.9,67.3 381.0,61.7 381.1,51.3 381.2,66.0 381.4,60.7 381.5,72.3 381.6,68.1 381.7,55.8 381.8,62.7 381.9,53.4 382.0,60.0 382.1,53.8 382.2,57.8 382.3,58.4 382.5,63.0 382.6,55.6 382.7,63.3 382.8,47.5 382.9,51.5 383.0,57.6 383.1,57.1 383.2,48.7 383.3,61.1 383.4,54.9 383.6,49.6 383.7,49.3 383.8,53.6 383.9,52.1 384.0,46.8 384.1,49.7 384.2,52.7 384.3,43.8 384.4,48.7 384.5,46.4 384.7,47.1 384.8,49.7 384.9,40.1 385.0,41.1 385.1,44.6 385.2,49.2 385.3,50.6 385.4,45.5 385.5,43.9 385.6,43.3 385.8,40.9 385.9,47.5 386.0,45.7 386.1,45.1 386.2,42.1 386.3,44.0 386.4,38.2 386.5,40.4 386.6,37.6 386.7,41.8 386.9,43.0 387.0,33.5 387.1,32.2 387.2,35.9 387.3,29.0 387.4,26.8 387.5,23.8 387.6,26.1 387.7,29.2 387.8,36.2 388.0,38.6 388.1,27.7 388.2,41.6 388.3,35.3 388.4,31.8 388.5,43.7 388.6,35.6 388.7,49.1 388.8,33.6 388.9,40.4 389.1,48.4 389.2,45.4 389.3,51.5 389.4,47.3 389.5,53.2 389.6,56.9 389.7,44.4 389.8,44.8 389.9,52.7 390.0,48.0 390.2,47.2 390.3,56.3 390.4,52.0 390.5,54.6 390.6,57.1 390.7,59.1 390.8,56.8 390.9,63.1 391.0,59.2 391.1,68.7 391.3,60.3 391.4,56.9 391.5,62.8 391.6,63.0 391.7,64.0 391.8,57.9 391.9,72.0 392.0,72.1 392.1,65.2 392.2,71.4 392.4,73.1 392.5,74.3 392.6,90.0 392.7,82.5 392.8,81.6 392.9,81.7 393.0,75.9 393.1,80.0 393.2,81.7 393.3,86.4 393.5,86.4 393.6,90.0 393.7,89.1 393.8,91.6 393.9,91.3 394.0,104.4 394.1,108.4 394.2,109.7 394.3,107.5 394.4,103.5 394.6,104.5 394.7,102.0 394.8,96.2 394.9,95.1 395.0,93.7 395.1,94.4 395.2,92.5 395.3,93.5 395.4,92.2 395.5,95.3 395.7,96.6 395.8,99.8 395.9,100.6 396.0,100.6 396.1,97.9 396.2,99.2 396.3,98.4 396.4,94.1 396.5,94.3 396.6,87.6 396.8,96.3 396.9,82.2 397.0,83.0 397.1,85.9 397.2,84.2 397.3,82.6 397.4,73.9 397.5,76.3 397.6,71.5 397.7,72.5 397.9,73.0 398.0,77.2 398.1,77.2 398.2,74.8 398.3,70.2 398.4,69.7 398.5,61.7 398.6,68.5 398.7,66.1 398.8,59.4 399.0,60.3 399.1,58.7 399.2,53.2 399.3,60.9 399.4,56.7 399.5,53.6 399.6,56.4 399.7,64.0 399.8,68.1 399.9,55.0 400.1,53.5 400.2,51.9 400.3,62.6 400.4,65.1 400.5,61.2 400.6,57.3 400.7,54.3 400.8,56.2 400.9,54.3 401.0,54.1 401.2,53.9 401.3,54.3 401.4,55.0 401.5,52.4 401.6,47.9 401.7,46.4 401.8,46.6 401.9,44.9 402.0,45.7 402.1,52.7 402.3,43.1 402.4,51.4 402.5,40.4 402.6,45.9 402.7,40.1 402.8,43.4 402.9,44.8 403.0,44.6 403.1,46.6 403.2,47.6 403.4,41.4 403.5,41.4 403.6,44.4 403.7,36.7 403.8,34.9 403.9,40.4 404.0,39.9 404.1,40.7 404.2,33.4 404.3,37.4 404.5,32.1 404.6,39.1 404.7,41.7 404.8,30.2 404.9,37.7 405.0,34.0 405.1,31.1 405.2,23.9 405.3,21.6 405.4,23.0 405.6,28.5 405.7,29.7 405.8,36.5 405.9,38.7 406.0,34.1 406.1,32.9 406.2,38.9 406.3,40.5 406.4,37.7 406.5,33.1 406.7,37.9 406.8,40.7 406.9,34.6 407.0,47.0 407.1,34.6 407.2,34.6 407.3,34.0 407.4,33.1 407.5,42.5 407.6,45.5 407.8,37.9 407.9,42.5 408.0,45.8 408.1,49.9 408.2,44.6 408.3,47.2 408.4,54.9 408.5,46.6 408.6,52.1 408.7,53.1 408.9,47.0 409.0,54.6 409.1,45.1 409.2,55.1 409.3,63.3 409.4,62.1 409.5,63.7 409.6,55.9 409.7,62.1 409.8,68.5 410.0,60.8 410.1,62.3 410.2,60.1 410.3,69.5 410.4,59.8 410.5,67.7 410.6,57.9 410.7,66.2 410.8,54.0 410.9,64.9 411.1,56.8 411.2,70.2 411.3,58.0 411.4,47.5 411.5,59.8 411.6,59.2 411.7,74.1 411.8,68.7 411.9,67.1 412.0,64.3 412.2,69.1 412.3,63.5 412.4,68.1 412.5,67.3 412.6,73.7 412.7,70.0 412.8,69.2 412.9,69.2 413.0,75.1 413.1,68.9 413.3,73.8 413.4,72.4 413.5,60.0 413.6,73.3 413.7,71.0 413.8,66.8 413.9,71.4 414.0,66.1 414.1,69.6 414.2,71.4 414.4,67.7 414.5,61.4 414.6,66.9 414.7,69.2 414.8,75.3 414.9,70.6 415.0,72.0 415.1,65.2 415.2,69.5 415.3,62.5 415.5,73.2 415.6,70.8 415.7,72.0 415.8,68.2 415.9,77.2 416.0,63.3 416.1,77.4 416.2,71.6 416.3,72.8 416.4,75.8 416.6,63.4 416.7,67.9 416.8,59.9 416.9,60.5 417.0,59.7 417.1,64.9 417.2,48.4 417.3,54.5 417.4,55.9 417.5,54.0 417.7,58.5 417.8,54.6 417.9,57.7 418.0,53.4 418.1,51.4 418.2,54.7 418.3,59.3 418.4,55.7 418.5,59.0 418.6,56.0 418.8,55.3 418.9,58.5 419.0,68.7 419.1,62.7 419.2,64.5 419.3,56.4 419.4,52.5 419.5,66.4 419.6,56.2 419.7,57.1 419.9,58.2 420.0,54.1 420.1,49.3 420.2,52.5 420.3,53.6 420.4,51.0 420.5,55.0 420.6,47.9 420.7,46.2 420.8,49.6 421.0,45.4 421.1,46.5 421.2,50.9 421.3,37.9 421.4,44.0 421.5,44.7 421.6,42.8 421.7,36.8 421.8,25.5 421.9,36.6 422.1,37.2 422.2,36.6 422.3,44.8 422.4,38.6 422.5,31.5 422.6,28.8 422.7,30.2 422.8,29.2 422.9,25.5 423.0,30.8 423.2,27.9 423.3,22.5 423.4,32.5 423.5,30.4 423.6,33.0 423.7,33.7 423.8,30.5 423.9,32.5 424.0,34.6 424.1,35.8 424.3,29.5 424.4,42.5 424.5,40.9 424.6,44.1 424.7,45.9 424.8,43.2 424.9,48.4 425.0,51.0 425.1,53.2 425.2,52.1 425.4,65.5 425.5,57.8 425.6,63.1 425.7,55.0 425.8,65.4 425.9,64.4 426.0,72.7 426.1,66.4 426.2,64.4 426.3,61.7 426.5,77.2 426.6,83.7 426.7,81.0 426.8,80.1 426.9,82.0 427.0,86.7 427.1,85.7 427.2,85.7 427.3,91.5 427.4,99.7 427.6,89.4 427.7,96.5 427.8,101.7 427.9,104.6 428.0,107.5 428.1,103.2 428.2,99.3 428.3,98.9 428.4,92.1 428.5,78.4 428.7,96.5 428.8,95.8 428.9,96.0 429.0,85.2 429.1,77.2 429.2,87.0 429.3,83.8 429.4,71.8 429.5,76.7 429.6,75.1 429.8,74.3 429.9,78.2 430.0,69.2 430.1,76.8 430.2,75.0 430.3,74.8 430.4,73.7 430.5,72.5 430.6,76.4 430.7,73.0 430.9,67.1 431.0,77.7 431.1,71.4 431.2,70.9 431.3,71.6 431.4,58.7 431.5,73.2 431.6,66.2 431.7,58.3 431.8,57.0 432.0,63.0 432.1,63.6 432.2,61.2 432.3,62.5 432.4,61.9 432.5,52.2 432.6,54.9 432.7,55.0 432.8,60.6 432.9,58.5 433.1,64.0 433.2,57.6 433.3,51.1 433.4,53.1 433.5,39.1 433.6,52.0 433.7,47.3 433.8,58.6 433.9,63.5 434.0,53.0 434.2,51.1 434.3,59.7 434.4,55.7 434.5,55.6 434.6,58.2 434.7,58.0 434.8,58.6 434.9,62.8 435.0,61.3 435.1,56.5 435.3,59.1 435.4,58.5 435.5,59.3 435.6,55.7 435.7,60.2 435.8,57.5 435.9,60.8 436.0,59.4 436.1,52.0 436.2,53.8 436.4,55.3 436.5,48.4 436.6,53.3 436.7,46.7 436.8,50.6 436.9,56.4 437.0,51.7 437.1,49.6 437.2,53.4 437.3,51.4 437.5,53.6 437.6,45.6 437.7,47.9 437.8,46.5 437.9,56.0 438.0,44.9 438.1,49.2 438.2,37.8 438.3,39.5 438.4,36.9 438.6,45.4 438.7,41.4 438.8,39.8 438.9,38.7 439.0,30.2 439.1,33.1 439.2,36.9 439.3,29.7 439.4,41.0 439.5,36.8 439.7,40.3 439.8,33.8 439.9,35.3 440.0,39.7 440.1,31.2 440.2,26.1 440.3,26.6 440.4,24.9 440.5,23.8 440.6,24.5 440.8,27.2 440.9,32.2 441.0,32.2 441.1,36.8 441.2,53.4 441.3,39.6 441.4,43.7 441.5,49.4 441.6,45.9 441.7,52.6 441.9,28.9 442.0,49.4 442.1,52.7 442.2,57.0 442.3,57.4 442.4,48.5 442.5,61.1 442.6,63.4 442.7,59.4 442.8,75.6 443.0,78.1 443.1,65.7 443.2,71.3 443.3,72.0 443.4,84.4 443.5,84.6 443.6,82.8 443.7,86.9 443.8,86.3 443.9,93.1 444.1,82.4 444.2,83.3 444.3,85.2 444.4,87.5 444.5,92.5 444.6,99.1 444.7,97.2 444.8,100.3 444.9,101.0 445.0,100.1 445.2,99.5 445.3,99.1 445.4,93.9 445.5,84.0 445.6,82.6 445.7,76.4 445.8,87.0 445.9,78.2 446.0,80.8 446.1,72.3 446.3,66.9 446.4,68.8 446.5,62.8 446.6,68.6 446.7,63.2 446.8,69.8 446.9,66.8 447.0,62.2 447.1,60.6 447.2,65.1 447.4,60.7 447.5,69.6 447.6,59.3 447.7,63.8 447.8,60.7 447.9,69.2 448.0,63.6 448.1,65.6 448.2,54.7 448.3,65.1 448.5,59.2 448.6,59.7 448.7,61.0 448.8,49.8 448.9,72.3 449.0,66.1 449.1,58.0 449.2,55.9 449.3,58.6 449.4,58.2 449.6,65.1 449.7,64.0 449.8,59.6 449.9,55.7 450.0,53.4 450.1,55.9 450.2,53.5 450.3,54.7 450.4,58.7 450.5,57.3 450.7,51.8 450.8,52.3 450.9,59.8 451.0,57.8 451.1,53.3 451.2,63.2 451.3,53.6 451.4,50.2 451.5,53.9 451.6,56.8 451.8,51.3 451.9,52.5 452.0,46.6 452.1,55.1 452.2,44.6 452.3,49.7 452.4,39.6 452.5,52.8 452.6,53.5 452.7,48.9 452.9,48.3 453.0,59.2 453.1,51.2 453.2,55.0 453.3,49.7 453.4,56.5 453.5,58.3 453.6,59.1 453.7,51.8 453.8,54.7 454.0,48.1 454.1,58.4 454.2,57.3 454.3,55.7 454.4,48.7 454.5,54.2 454.6,49.8 454.7,46.8 454.8,57.8 454.9,54.8 455.1,51.1 455.2,46.4 455.3,61.0 455.4,57.8 455.5,52.6 455.6,51.0 455.7,48.9 455.8,48.3 455.9,43.4 456.0,44.6 456.2,38.7 456.3,49.9 456.4,45.3 456.5,36.5 456.6,31.1 456.7,38.1 456.8,36.2 456.9,39.8 457.0,34.2 457.1,26.3 457.3,29.9 457.4,39.4 457.5,30.6 457.6,33.5 457.7,34.6 457.8,29.3 457.9,31.5 458.0,42.4 458.1,37.8 458.2,36.9 458.4,41.9 458.5,42.5 458.6,41.2 458.7,38.7 458.8,42.1 458.9,43.8 459.0,49.9 459.1,39.4 459.2,44.0 459.3,35.1 459.5,30.8 459.6,46.3 459.7,36.7 459.8,44.9 459.9,43.4 460.0,47.7 460.1,49.4 460.2,51.5 460.3,52.2 460.4,65.8 460.6,64.9 460.7,63.8 460.8,74.5 460.9,77.1 461.0,72.4 461.1,62.2 461.2,78.8 461.3,79.0 461.4,89.6 461.5,88.0 461.7,94.3 461.8,81.8 461.9,79.3 462.0,95.4 462.1,98.5 462.2,97.6 462.3,96.7 462.4,82.9 462.5,93.8 462.6,83.7 462.8,92.9 462.9,93.9 463.0,86.6 463.1,89.3 463.2,87.8 463.3,84.8 463.4,87.4 463.5,89.0 463.6,91.9 463.7,98.3 463.9,103.0 464.0,106.9 464.1,109.7 464.2,105.5 464.3,99.7 464.4,92.2 464.5,91.5 464.6,76.1 464.7,70.8 464.8,80.3 465.0,84.8 465.1,77.1 465.2,73.7 465.3,67.7 465.4,79.0 465.5,68.8 465.6,73.9 465.7,71.9 465.8,68.2 465.9,61.9 466.1,64.9 466.2,62.5 466.3,67.5 466.4,71.1 466.5,70.9 466.6,64.9 466.7,63.1 466.8,71.1 466.9,61.6 467.0,60.3 467.2,61.1 467.3,63.1 467.4,67.1 467.5,67.7 467.6,66.9 467.7,64.8 467.8,62.9 467.9,63.1 468.0,64.9 468.1,65.3 468.3,56.6 468.4,54.5 468.5,59.5 468.6,47.7 468.7,57.1 468.8,56.4 468.9,50.9 469.0,61.9 469.1,50.0 469.2,56.4 469.4,48.5 469.5,55.2 469.6,53.8 469.7,48.6 469.8,52.5 469.9,49.7 470.0,46.5 470.1,47.3 470.2,52.6 470.3,49.6 470.5,49.6 470.6,53.0 470.7,40.5 470.8,45.8 470.9,53.9 471.0,52.3 471.1,51.0 471.2,49.6 471.3,54.0 471.4,50.1 471.6,52.1 471.7,50.2 471.8,54.5 471.9,51.1 472.0,51.2 472.1,55.6 472.2,53.1 472.3,50.3 472.4,60.2 472.5,47.5 472.7,48.0 472.8,47.2 472.9,44.0 473.0,45.0 473.1,45.0 473.2,46.1 473.3,38.8 473.4,50.2 473.5,50.2 473.6,41.6 473.8,44.5 473.9,48.0 474.0,43.0 474.1,41.1 474.2,51.9 474.3,41.7 474.4,53.2 474.5,38.3 474.6,46.3 474.7,38.3 474.9,39.6 475.0,41.5 475.1,46.3 475.2,39.5 475.3,40.1 475.4,42.4 475.5,36.1 475.6,37.2 475.7,46.0 475.8,35.2 476.0,31.7 476.1,39.0 476.2,30.1 476.3,36.0 476.4,36.0 476.5,32.9 476.6,30.1 476.7,36.2 476.8,29.2 476.9,42.8 477.1,35.8 477.2,46.5 477.3,44.4 477.4,50.6 477.5,45.0 477.6,52.8 477.7,51.0 477.8,52.2 477.9,53.5 478.0,59.3 478.2,63.6 478.3,65.0 478.4,67.1 478.5,62.2 478.6,75.6 478.7,73.9 478.8,80.2 478.9,73.4 479.0,74.2 479.1,84.7 479.3,72.4 479.4,82.7 479.5,79.8 479.6,79.5 479.7,85.2 479.8,83.7 479.9,89.8 480.0,80.4 480.1,85.5 480.2,79.3 480.4,85.1 480.5,86.5 480.6,92.6 480.7,85.4 480.8,89.3 480.9,84.2 481.0,86.5 481.1,84.2 481.2,84.6 481.3,94.6 481.5,86.0 481.6,88.0 481.7,81.1 481.8,85.2 481.9,71.2 482.0,71.4 482.1,71.3 482.2,72.9 482.3,67.5 482.4,67.8 482.6,62.6 482.7,59.9 482.8,63.6 482.9,64.1 483.0,58.9 483.1,57.5 483.2,70.5 483.3,53.8 483.4,58.7 483.5,58.2 483.7,66.1 483.8,59.5 483.9,64.0 484.0,61.3 484.1,69.3 484.2,53.7 484.3,66.9 484.4,67.7 484.5,66.0 484.6,65.7 484.8,65.0 484.9,70.1 485.0,68.0 485.1,67.7 485.2,61.7 485.3,67.9 485.4,61.2 485.5,67.3 485.6,64.3 485.7,70.0 485.9,75.5 486.0,80.9 486.1,91.8 486.2,95.7 486.3,101.0 486.4,96.2 486.5,87.8 486.6,84.8 486.7,82.1 486.8,68.9 487.0,75.5 487.1,69.3 487.2,77.4 487.3,71.9 487.4,63.8 487.5,71.3 487.6,63.1 487.7,60.3 487.8,70.1 487.9,71.6 488.1,70.2 488.2,71.2 488.3,68.7 488.4,64.7 488.5,74.1 488.6,67.7 488.7,73.9 488.8,71.6 488.9,60.5 489.0,70.4 489.2,61.3 489.3,67.9 489.4,58.1 489.5,56.2 489.6,53.9 489.7,59.0 489.8,45.9 489.9,58.2 490.0,46.9 490.1,47.4 490.3,41.9 490.4,49.4 490.5,55.9 490.6,47.9 490.7,50.5 490.8,44.3 490.9,39.0 491.0,50.8 491.1,48.1 491.2,43.0 491.4,45.2 491.5,51.8 491.6,37.8 491.7,45.5 491.8,46.6 491.9,39.4 492.0,38.4 492.1,41.1 492.2,29.3 492.3,31.9 492.5,24.6 492.6,28.1 492.7,25.3 492.8,23.8 492.9,25.6 493.0,27.0 493.1,24.3 493.2,29.9 493.3,39.5 493.4,33.5 493.6,30.4 493.7,38.3 493.8,40.9 493.9,34.6 494.0,38.5 494.1,35.2 494.2,36.3 494.3,35.0 494.4,37.6 494.5,39.5 494.7,40.2 494.8,42.5 494.9,49.7 495.0,54.1 495.1,38.8 495.2,39.8 495.3,44.9 495.4,55.0 495.5,43.0 495.6,47.8 495.8,63.7 495.9,59.0 496.0,62.8 496.1,54.9 496.2,68.1 496.3,64.7 496.4,66.1 496.5,68.7 496.6,68.9 496.7,69.4 496.9,58.5 497.0,66.3 497.1,61.9 497.2,64.4 497.3,71.7 497.4,70.3 497.5,67.3 497.6,77.4 497.7,72.7 497.8,67.0 498.0,81.1 498.1,81.1 498.2,84.1 498.3,84.3 498.4,77.7 498.5,78.9 498.6,76.8 498.7,75.1 498.8,85.0 498.9,82.8 499.1,80.6 499.2,78.6 499.3,78.9 499.4,78.1 499.5,84.9 499.6,87.1 499.7,83.7 499.8,82.0 499.9,92.6 500.0,94.0 500.2,96.4 500.3,102.5 500.4,105.3 500.5,101.7 500.6,98.4 500.7,95.3 500.8,99.3 500.9,91.6 501.0,92.0 501.1,94.0 501.3,97.0 501.4,97.2 501.5,101.7 501.6,100.5 501.7,102.2 501.8,97.9 501.9,96.3 502.0,100.6 502.1,102.2 502.2,94.6 502.4,94.0 502.5,94.8 502.6,95.4 502.7,85.9 502.8,91.9 502.9,87.8 503.0,95.5 503.1,99.3 503.2,92.6 503.3,85.9 503.5,93.3 503.6,84.6 503.7,82.3 503.8,77.7 503.9,93.9 504.0,87.5 504.1,85.3 504.2,81.1 504.3,78.3 504.4,77.0 504.6,77.9 504.7,83.8 504.8,71.8 504.9,78.6 505.0,70.5 505.1,66.4 505.2,71.2 505.3,68.6 505.4,61.2 505.5,76.7 505.7,75.9 505.8,64.3 505.9,63.8 506.0,62.8 506.1,71.8 506.2,63.4 506.3,61.4 506.4,63.3 506.5,57.9 506.6,56.1 506.8,56.0 506.9,65.9 507.0,70.0 507.1,61.0 507.2,54.7 507.3,53.5 507.4,58.8 507.5,60.7 507.6,60.4 507.7,51.5 507.9,52.9 508.0,51.0 508.1,50.3 508.2,50.3 508.3,45.8 508.4,51.7 508.5,47.3 508.6,45.6 508.7,40.2 508.8,41.2 509.0,50.9 509.1,32.2 509.2,37.7 509.3,34.5 509.4,42.7 509.5,44.9 509.6,33.9 509.7,40.3 509.8,27.5 509.9,34.1 510.1,27.6 510.2,29.6 510.3,24.6 510.4,29.1 510.5,26.0 510.6,24.9 510.7,26.0 510.8,26.2 510.9,22.9 511.0,28.1 511.2,29.9 511.3,25.5 511.4,25.9 511.5,27.4 511.6,29.1 511.7,24.9 511.8,33.9 511.9,36.4 512.0,28.7 512.1,39.9 512.3,38.0 512.4,41.4 512.5,39.0 512.6,38.0 512.7,44.8 512.8,46.3 512.9,32.8 513.0,39.3 513.1,36.2 513.2,43.9 513.4,38.5 513.5,38.4 513.6,57.0 513.7,57.2 513.8,59.9 513.9,47.5 514.0,45.7 514.1,50.3 514.2,45.9 514.3,54.1 514.5,52.8 514.6,52.4 514.7,40.6 514.8,57.4 514.9,52.0 515.0,59.8 515.1,55.2 515.2,51.1 515.3,63.7 515.4,61.3 515.6,61.0 515.7,57.6 515.8,65.0 515.9,58.0 516.0,65.2 516.1,59.4 516.2,67.5 516.3,72.3 516.4,65.6 516.5,65.1 516.7,67.7 516.8,75.6 516.9,70.5 517.0,66.4 517.1,67.9 517.2,66.9 517.3,72.4 517.4,70.0 517.5,76.2 517.6,68.5 517.8,67.5 517.9,82.8 518.0,81.4 518.1,76.2 518.2,77.0 518.3,84.7 518.4,76.5 518.5,83.3 518.6,80.8 518.7,84.1 518.9,70.6 519.0,82.2 519.1,71.6 519.2,73.9 519.3,71.2 519.4,72.0 519.5,70.0 519.6,69.0 519.7,61.3 519.8,69.4 520.0,64.7 520.1,68.4 520.2,63.1 520.3,61.5 520.4,62.7 520.5,64.7 520.6,59.9 520.7,65.5 520.8,73.7 520.9,75.4 521.1,78.0 521.2,89.9 521.3,92.7 521.4,103.2 521.5,108.6 521.6,103.8 521.7,94.7 521.8,87.1 521.9,73.9 522.0,72.3 522.2,79.2 522.3,67.4 522.4,72.7 522.5,64.0 522.6,67.7 522.7,65.3 522.8,60.5 522.9,69.4 523.0,56.9 523.1,66.4 523.3,52.2 523.4,50.9 523.5,51.1 523.6,47.8 523.7,47.8 523.8,51.2 523.9,45.7 524.0,44.1 524.1,42.3 524.2,42.5 524.4,31.8 524.5,44.4 524.6,35.0 524.7,38.2 524.8,44.9 524.9,38.5 525.0,45.7 525.1,43.8 525.2,42.0 525.3,41.1 525.5,54.8 525.6,40.2 525.7,46.8 525.8,44.5 525.9,46.8 526.0,45.9 526.1,36.0 526.2,42.8 526.3,43.6 526.4,48.8 526.6,30.1 526.7,36.8 526.8,32.4 526.9,34.9 527.0,37.3 527.1,44.8 527.2,39.1 527.3,40.7 527.4,32.2 527.5,35.7 527.7,30.6 527.8,36.9 527.9,34.2 528.0,28.4 528.1,26.3 528.2,24.9 528.3,25.1 528.4,26.2 528.5,28.8 528.6,23.0 528.8,29.9 528.9,32.4 529.0,28.8 529.1,41.5 529.2,30.2 529.3,27.5 529.4,32.8 529.5,33.8 529.6,33.4 529.7,41.0 529.9,41.0 530.0,34.9 530.1,45.1 530.2,39.0 530.3,40.7 530.4,43.6 530.5,52.3 530.6,48.2 530.7,62.5 530.8,54.8 531.0,71.7 531.1,59.7 531.2,65.8 531.3,69.3 531.4,71.3 531.5,64.4 531.6,63.1 531.7,69.4 531.8,73.7 531.9,72.9 532.1,77.2 532.2,80.7 532.3,82.2 532.4,83.4 532.5,76.7 532.6,86.2 532.7,87.3 532.8,92.8 532.9,98.7 533.0,101.0 533.2,97.5 533.3,91.9 533.4,86.8 533.5,80.5 533.6,84.0 533.7,84.4 533.8,73.9 533.9,81.1 534.0,77.1 534.1,74.4 534.3,77.5 534.4,77.9 534.5,62.6 534.6,78.6 534.7,70.6 534.8,64.9 534.9,75.7 535.0,68.5 535.1,69.0 535.2,66.1 535.4,66.8 535.5,63.1 535.6,65.2 535.7,66.2 535.8,70.5 535.9,68.1 536.0,69.1 536.1,65.2 536.2,66.5 536.3,67.6 536.5,72.9 536.6,62.3 536.7,70.4 536.8,77.9 536.9,77.3 537.0,75.0 537.1,68.8 537.2,72.7 537.3,66.5 537.4,62.1 537.6,70.4 537.7,65.5 537.8,64.8 537.9,65.9 538.0,70.6 538.1,72.5 538.2,69.0 538.3,73.5 538.4,65.5 538.5,62.8 538.7,65.2 538.8,71.7 538.9,73.8 539.0,64.8 539.1,61.0 539.2,64.5 539.3,58.2 539.4,67.1 539.5,64.1 539.6,62.2 539.8,58.4 539.9,67.4 540.0,60.7 540.1,58.9 540.2,68.7 540.3,63.2 540.4,70.3 540.5,62.8 540.6,51.0 540.7,58.9 540.9,55.1 541.0,57.0 541.1,55.3 541.2,54.9 541.3,65.1 541.4,58.1 541.5,58.9 541.6,53.7 541.7,52.1 541.8,56.0 542.0,52.9 542.1,54.1 542.2,52.1 542.3,46.5 542.4,50.9 542.5,46.1 542.6,52.8 542.7,55.1 542.8,57.3 542.9,52.5 543.1,51.0 543.2,53.2 543.3,50.3 543.4,62.9 543.5,46.4 543.6,48.4 543.7,51.3 543.8,47.7 543.9,48.3 544.0,45.7 544.2,44.3 544.3,41.7 544.4,36.2 544.5,33.6 544.6,36.0" fill="none" stroke="#E24A33" stroke-width="0.9" stroke-linejoin="round"/>
<polyline points="376.4,72.6 376.5,69.5 376.6,74.9 376.7,74.5 376.8,71.7 377.0,73.3 377.1,75.0 377.2,72.6 377.3,70.6 377.4,69.1 377.5,64.3 377.6,67.6 377.7,61.3 377.8,63.2 377.9,62.6 378.1,59.6 378.2,63.0 378.3,67.1 378.4,62.8 378.5,60.2 378.6,62.3 378.7,63.6 378.8,62.3 378.9,62.0 379.0,58.8 379.2,62.5 379.3,62.5 379.4,65.0 379.5,65.0 379.6,62.6 379.7,57.4 379.8,57.2 379.9,57.4 380.0,59.4 380.1,56.9 380.3,61.8 380.4,58.8 380.5,59.3 380.6,59.5 380.7,60.0 380.8,55.2 380.9,63.6 381.0,61.2 381.1,60.2 381.2,56.0 381.4,52.3 381.5,53.1 381.6,52.4 381.7,58.4 381.8,59.0 381.9,60.1 382.0,61.3 382.1,58.2 382.2,58.7 382.3,57.2 382.5,57.2 382.6,54.6 382.7,57.9 382.8,56.7 382.9,55.0 383.0,53.5 383.1,55.7 383.2,56.6 383.3,53.9 383.4,53.8 383.6,51.4 383.7,52.3 383.8,52.6 383.9,52.2 384.0,51.3 384.1,53.5 384.2,55.3 384.3,50.1 384.4,55.0 384.5,50.6 384.7,49.9 384.8,45.3 384.9,44.9 385.0,51.0 385.1,45.7 385.2,48.5 385.3,46.0 385.4,46.2 385.5,48.0 385.6,44.7 385.8,36.7 385.9,39.5 386.0,44.5 386.1,45.5 386.2,40.4 386.3,37.6 386.4,35.0 386.5,38.1 386.6,32.5 386.7,33.5 386.9,36.7 387.0,36.2 387.1,35.2 387.2,37.4 387.3,31.8 387.4,31.1 387.5,32.4 387.6,34.0 387.7,32.3 387.8,36.7 388.0,31.4 388.1,36.6 388.2,35.9 388.3,39.9 388.4,39.4 388.5,39.5 388.6,44.0 388.7,40.1 388.8,45.2 388.9,39.6 389.1,40.7 389.2,44.5 389.3,37.2 389.4,39.8 389.5,45.4 389.6,48.6 389.7,50.4 389.8,50.1 389.9,49.2 390.0,55.9 390.2,57.0 390.3,55.0 390.4,58.7 390.5,62.9 390.6,60.3 390.7,58.6 390.8,61.5 390.9,63.1 391.0,65.4 391.1,68.0 391.3,65.7 391.4,67.6 391.5,72.8 391.6,72.4 391.7,74.9 391.8,69.1 391.9,71.5 392.0,77.3 392.1,74.5 392.2,79.1 392.4,78.0 392.5,78.2 392.6,83.6 392.7,81.1 392.8,79.9 392.9,81.6 393.0,82.4 393.1,78.6 393.2,80.7 393.3,80.9 393.5,80.4 393.6,87.5 393.7,89.5 393.8,90.0 393.9,85.4 394.0,90.9 394.1,93.5 394.2,90.9 394.3,94.9 394.4,91.1 394.6,91.6 394.7,92.7 394.8,92.3 394.9,92.7 395.0,96.6 395.1,91.7 395.2,92.8 395.3,92.8 395.4,98.2 395.5,90.9 395.7,93.9 395.8,97.5 395.9,91.6 396.0,92.6 396.1,93.6 396.2,91.2 396.3,96.8 396.4,91.3 396.5,93.0 396.6,89.9 396.8,85.4 396.9,85.9 397.0,80.4 397.1,81.7 397.2,73.8 397.3,73.7 397.4,75.8 397.5,66.3 397.6,71.6 397.7,68.6 397.9,67.1 398.0,65.2 398.1,69.8 398.2,62.0 398.3,68.1 398.4,67.4 398.5,65.8 398.6,66.4 398.7,68.9 398.8,65.8 399.0,62.5 399.1,64.6 399.2,61.1 399.3,61.2 399.4,61.7 399.5,62.5 399.6,63.4 399.7,59.8 399.8,58.8 399.9,60.4 400.1,58.9 400.2,54.9 400.3,57.2 400.4,55.8 400.5,60.2 400.6,61.5 400.7,59.1 400.8,56.6 400.9,59.9 401.0,54.0 401.2,55.3 401.3,52.2 401.4,51.2 401.5,49.8 401.6,52.7 401.7,51.4 401.8,53.3 401.9,50.0 402.0,54.8 402.1,51.1 402.3,55.0 402.4,54.6 402.5,50.3 402.6,49.3 402.7,50.0 402.8,49.7 402.9,46.4 403.0,50.1 403.1,45.7 403.2,42.8 403.4,48.2 403.5,47.3 403.6,48.0 403.7,46.0 403.8,43.7 403.9,41.9 404.0,41.5 404.1,38.7 404.2,35.3 404.3,35.4 404.5,35.8 404.6,30.1 404.7,34.0 404.8,32.5 404.9,34.0 405.0,30.8 405.1,33.0 405.2,31.5 405.3,34.5 405.4,31.9 405.6,32.0 405.7,31.7 405.8,27.0 405.9,28.6 406.0,33.6 406.1,31.9 406.2,31.9 406.3,32.8 406.4,29.7 406.5,30.2 406.7,31.6 406.8,30.5 406.9,38.3 407.0,36.2 407.1,35.8 407.2,36.5 407.3,37.1 407.4,35.0 407.5,41.5 407.6,45.9 407.8,43.7 407.9,41.9 408.0,42.3 408.1,44.8 408.2,45.8 408.3,44.7 408.4,47.2 408.5,44.8 408.6,49.9 408.7,48.5 408.9,46.8 409.0,48.9 409.1,51.1 409.2,53.3 409.3,51.8 409.4,53.1 409.5,57.7 409.6,49.6 409.7,50.6 409.8,55.9 410.0,54.6 410.1,58.3 410.2,55.1 410.3,60.8 410.4,63.2 410.5,64.1 410.6,59.3 410.7,60.6 410.8,63.5 410.9,66.9 411.1,60.3 411.2,60.6 411.3,65.5 411.4,63.5 411.5,62.8 411.6,68.4 411.7,62.7 411.8,64.7 411.9,70.2 412.0,67.7 412.2,72.3 412.3,68.0 412.4,72.1 412.5,71.5 412.6,75.9 412.7,72.6 412.8,71.6 412.9,71.5 413.0,75.1 413.1,71.7 413.3,74.1 413.4,79.4 413.5,76.9 413.6,76.4 413.7,74.1 413.8,76.9 413.9,72.6 414.0,73.3 414.1,73.6 414.2,78.3 414.4,75.1 414.5,71.7 414.6,72.3 414.7,73.9 414.8,74.7 414.9,66.5 415.0,71.4 415.1,69.3 415.2,64.4 415.3,65.0 415.5,66.3 415.6,63.0 415.7,63.7 415.8,61.0 415.9,59.5 416.0,69.1 416.1,64.1 416.2,64.6 416.3,64.5 416.4,66.2 416.6,64.4 416.7,58.7 416.8,60.1 416.9,59.6 417.0,60.8 417.1,56.6 417.2,58.4 417.3,58.1 417.4,60.4 417.5,51.6 417.7,58.0 417.8,57.7 417.9,58.0 418.0,56.7 418.1,54.9 418.2,57.4 418.3,56.3 418.4,53.7 418.5,52.5 418.6,57.0 418.8,53.5 418.9,57.5 419.0,58.2 419.1,55.6 419.2,55.3 419.3,54.0 419.4,55.4 419.5,54.4 419.6,51.0 419.7,51.7 419.9,49.7 420.0,48.4 420.1,51.5 420.2,50.7 420.3,49.6 420.4,48.1 420.5,53.8 420.6,49.0 420.7,48.9 420.8,49.1 421.0,49.6 421.1,43.1 421.2,47.5 421.3,45.6 421.4,42.1 421.5,41.2 421.6,42.1 421.7,46.3 421.8,41.8 421.9,43.5 422.1,42.0 422.2,37.0 422.3,38.5 422.4,39.9 422.5,36.1 422.6,39.9 422.7,34.2 422.8,33.3 422.9,34.8 423.0,36.5 423.2,33.6 423.3,35.3 423.4,28.9 423.5,32.7 423.6,38.9 423.7,32.0 423.8,39.6 423.9,38.6 424.0,41.6 424.1,44.4 424.3,44.4 424.4,50.6 424.5,50.8 424.6,54.3 424.7,53.9 424.8,53.2 424.9,57.3 425.0,54.9 425.1,57.0 425.2,64.7 425.4,64.9 425.5,64.1 425.6,67.8 425.7,65.8 425.8,70.2 425.9,67.9 426.0,70.1 426.1,73.8 426.2,78.1 426.3,74.9 426.5,80.5 426.6,79.9 426.7,76.5 426.8,77.8 426.9,81.3 427.0,86.2 427.1,85.8 427.2,90.3 427.3,88.6 427.4,91.5 427.6,89.5 427.7,88.0 427.8,94.0 427.9,91.4 428.0,90.2 428.1,90.6 428.2,88.9 428.3,89.5 428.4,89.5 428.5,88.4 428.7,89.9 428.8,80.9 428.9,83.8 429.0,88.7 429.1,81.3 429.2,78.8 429.3,77.8 429.4,76.7 429.5,76.9 429.6,79.9 429.8,71.8 429.9,72.0 430.0,75.7 430.1,71.6 430.2,72.5 430.3,69.0 430.4,70.4 430.5,65.8 430.6,69.6 430.7,66.2 430.9,64.7 431.0,64.6 431.1,67.3 431.2,65.5 431.3,64.7 431.4,66.4 431.5,62.4 431.6,67.1 431.7,67.8 431.8,67.1 432.0,64.5 432.1,65.0 432.2,59.6 432.3,61.2 432.4,61.6 432.5,62.3 432.6,64.0 432.7,60.7 432.8,60.0 432.9,63.9 433.1,61.2 433.2,59.3 433.3,57.3 433.4,57.6 433.5,60.3 433.6,61.2 433.7,56.9 433.8,61.0 433.9,61.5 434.0,60.1 434.2,61.1 434.3,64.6 434.4,59.6 434.5,58.0 434.6,59.5 434.7,57.6 434.8,58.1 434.9,59.0 435.0,59.1 435.1,57.5 435.3,59.7 435.4,57.2 435.5,59.4 435.6,56.1 435.7,57.2 435.8,55.1 435.9,54.6 436.0,53.5 436.1,53.3 436.2,53.0 436.4,54.9 436.5,52.5 436.6,52.7 436.7,48.6 436.8,50.8 436.9,54.0 437.0,51.0 437.1,46.3 437.2,49.7 437.3,49.4 437.5,46.5 437.6,43.4 437.7,44.8 437.8,42.7 437.9,47.1 438.0,46.4 438.1,44.0 438.2,43.8 438.3,36.4 438.4,41.2 438.6,41.7 438.7,39.8 438.8,38.3 438.9,36.7 439.0,39.5 439.1,37.3 439.2,39.4 439.3,36.6 439.4,35.2 439.5,33.7 439.7,32.8 439.8,34.0 439.9,35.0 440.0,35.0 440.1,31.4 440.2,29.8 440.3,34.5 440.4,32.7 440.5,32.0 440.6,29.7 440.8,33.9 440.9,34.9 441.0,33.5 441.1,35.7 441.2,33.9 441.3,37.9 441.4,34.2 441.5,38.5 441.6,46.0 441.7,43.8 441.9,47.7 442.0,47.9 442.1,49.6 442.2,52.7 442.3,54.9 442.4,61.2 442.5,61.0 442.6,65.3 442.7,74.4 442.8,70.7 443.0,70.5 443.1,75.4 443.2,76.7 443.3,75.7 443.4,74.8 443.5,77.9 443.6,79.3 443.7,81.2 443.8,83.5 443.9,85.3 444.1,83.8 444.2,89.5 444.3,90.8 444.4,88.3 444.5,93.3 444.6,93.7 444.7,96.2 444.8,94.0 444.9,95.9 445.0,93.2 445.2,89.6 445.3,90.9 445.4,86.2 445.5,86.3 445.6,80.4 445.7,77.0 445.8,75.2 445.9,70.5 446.0,71.0 446.1,74.0 446.3,76.0 446.4,73.4 446.5,72.8 446.6,72.8 446.7,74.6 446.8,70.3 446.9,71.2 447.0,69.1 447.1,61.8 447.2,67.8 447.4,66.7 447.5,66.7 447.6,63.2 447.7,61.7 447.8,61.7 447.9,63.9 448.0,63.2 448.1,64.9 448.2,59.8 448.3,64.8 448.5,66.5 448.6,60.3 448.7,62.0 448.8,58.1 448.9,54.5 449.0,57.6 449.1,60.5 449.2,60.3 449.3,59.5 449.4,61.9 449.6,61.8 449.7,64.6 449.8,56.9 449.9,57.6 450.0,57.9 450.1,58.5 450.2,57.9 450.3,63.6 450.4,57.0 450.5,59.4 450.7,54.2 450.8,55.6 450.9,58.9 451.0,58.7 451.1,53.3 451.2,61.9 451.3,57.7 451.4,54.6 451.5,57.8 451.6,54.6 451.8,53.4 451.9,56.8 452.0,58.0 452.1,58.0 452.2,52.0 452.3,53.8 452.4,54.4 452.5,57.1 452.6,57.5 452.7,53.1 452.9,50.7 453.0,55.7 453.1,53.2 453.2,55.4 453.3,57.3 453.4,56.7 453.5,52.7 453.6,52.1 453.7,50.6 453.8,54.5 454.0,55.5 454.1,50.7 454.2,51.4 454.3,51.0 454.4,51.2 454.5,49.3 454.6,50.0 454.7,54.9 454.8,53.4 454.9,50.7 455.1,52.3 455.2,47.1 455.3,49.5 455.4,45.1 455.5,44.6 455.6,47.7 455.7,42.5 455.8,43.5 455.9,41.3 456.0,41.1 456.2,43.7 456.3,43.5 456.4,38.6 456.5,46.7 456.6,43.8 456.7,37.3 456.8,39.9 456.9,39.0 457.0,36.2 457.1,33.9 457.3,37.0 457.4,35.9 457.5,40.0 457.6,37.1 457.7,33.8 457.8,33.4 457.9,34.9 458.0,36.9 458.1,31.8 458.2,34.8 458.4,37.7 458.5,31.4 458.6,38.1 458.7,35.2 458.8,36.8 458.9,37.3 459.0,39.7 459.1,39.9 459.2,39.7 459.3,45.8 459.5,35.2 459.6,40.0 459.7,38.3 459.8,41.0 459.9,40.0 460.0,41.7 460.1,42.7 460.2,44.5 460.3,52.1 460.4,50.7 460.6,58.0 460.7,62.7 460.8,70.8 460.9,68.8 461.0,73.8 461.1,80.5 461.2,81.1 461.3,79.6 461.4,86.6 461.5,86.2 461.7,85.3 461.8,86.5 461.9,88.0 462.0,87.7 462.1,90.4 462.2,90.4 462.3,89.4 462.4,88.8 462.5,96.4 462.6,91.9 462.8,97.2 462.9,93.6 463.0,86.2 463.1,93.7 463.2,89.2 463.3,85.4 463.4,89.7 463.5,88.3 463.6,89.9 463.7,92.8 463.9,92.3 464.0,88.8 464.1,87.8 464.2,86.8 464.3,85.0 464.4,83.0 464.5,84.4 464.6,83.9 464.7,80.3 464.8,81.0 465.0,81.2 465.1,77.3 465.2,81.5 465.3,80.6 465.4,77.4 465.5,73.8 465.6,70.8 465.7,68.6 465.8,75.3 465.9,74.0 466.1,71.0 466.2,67.7 466.3,69.0 466.4,70.5 466.5,68.6 466.6,65.4 466.7,74.3 466.8,67.1 466.9,62.1 467.0,65.7 467.2,65.6 467.3,66.6 467.4,65.4 467.5,61.6 467.6,64.7 467.7,62.7 467.8,64.1 467.9,63.9 468.0,65.7 468.1,64.2 468.3,62.2 468.4,68.6 468.5,61.8 468.6,60.9 468.7,61.9 468.8,62.1 468.9,63.0 469.0,56.7 469.1,58.1 469.2,59.8 469.4,58.1 469.5,57.7 469.6,53.6 469.7,53.1 469.8,54.3 469.9,56.0 470.0,58.2 470.1,59.8 470.2,53.2 470.3,56.8 470.5,56.9 470.6,55.6 470.7,55.2 470.8,54.0 470.9,55.1 471.0,50.2 471.1,57.7 471.2,54.4 471.3,57.1 471.4,51.3 471.6,48.7 471.7,56.0 471.8,46.1 471.9,47.8 472.0,51.7 472.1,53.9 472.2,48.8 472.3,50.0 472.4,51.2 472.5,53.3 472.7,49.9 472.8,53.8 472.9,54.9 473.0,51.7 473.1,51.5 473.2,56.2 473.3,49.9 473.4,48.3 473.5,51.3 473.6,50.5 473.8,45.5 473.9,44.5 474.0,49.7 474.1,48.5 474.2,48.3 474.3,47.6 474.4,41.5 474.5,40.0 474.6,46.1 474.7,45.8 474.9,42.8 475.0,43.9 475.1,39.1 475.2,38.7 475.3,40.6 475.4,41.5 475.5,41.0 475.6,39.1 475.7,41.0 475.8,41.3 476.0,40.3 476.1,37.0 476.2,41.0 476.3,33.2 476.4,35.8 476.5,38.9 476.6,39.0 476.7,37.0 476.8,34.2 476.9,33.6 477.1,36.9 477.2,40.2 477.3,43.0 477.4,43.5 477.5,47.1 477.6,50.8 477.7,51.9 477.8,57.3 477.9,59.0 478.0,61.6 478.2,59.3 478.3,61.1 478.4,59.1 478.5,64.4 478.6,64.1 478.7,68.3 478.8,71.3 478.9,71.9 479.0,77.7 479.1,74.5 479.3,76.4 479.4,76.8 479.5,79.2 479.6,85.1 479.7,80.5 479.8,88.1 479.9,88.2 480.0,87.8 480.1,87.1 480.2,89.9 480.4,89.1 480.5,94.1 480.6,90.9 480.7,92.2 480.8,95.5 480.9,89.9 481.0,97.7 481.1,91.7 481.2,92.8 481.3,90.2 481.5,82.6 481.6,84.7 481.7,83.5 481.8,78.4 481.9,76.6 482.0,74.1 482.1,75.7 482.2,69.3 482.3,67.7 482.4,69.5 482.6,69.8 482.7,68.0 482.8,71.5 482.9,70.6 483.0,63.4 483.1,69.2 483.2,66.4 483.3,67.0 483.4,66.5 483.5,61.5 483.7,62.5 483.8,67.0 483.9,65.1 484.0,72.1 484.1,64.7 484.2,68.1 484.3,64.9 484.4,72.3 484.5,71.3 484.6,65.2 484.8,69.6 484.9,71.2 485.0,75.2 485.1,66.0 485.2,70.9 485.3,75.0 485.4,72.8 485.5,71.5 485.6,69.9 485.7,72.7 485.9,72.1 486.0,69.5 486.1,72.7 486.2,69.6 486.3,71.1 486.4,71.5 486.5,71.8 486.6,69.4 486.7,66.2 486.8,66.8 487.0,65.4 487.1,68.5 487.2,64.5 487.3,69.6 487.4,65.5 487.5,67.7 487.6,64.7 487.7,66.6 487.8,62.5 487.9,68.1 488.1,64.6 488.2,64.9 488.3,63.8 488.4,59.1 488.5,63.5 488.6,57.7 488.7,59.8 488.8,59.6 488.9,60.2 489.0,56.5 489.2,55.5 489.3,56.4 489.4,53.6 489.5,53.5 489.6,52.5 489.7,55.3 489.8,53.6 489.9,51.6 490.0,52.5 490.1,53.5 490.3,50.8 490.4,49.8 490.5,49.6 490.6,51.6 490.7,45.9 490.8,48.7 490.9,48.9 491.0,44.6 491.1,44.3 491.2,41.1 491.4,42.1 491.5,42.0 491.6,44.2 491.7,42.3 491.8,40.0 491.9,40.7 492.0,38.3 492.1,42.5 492.2,35.0 492.3,39.1 492.5,31.3 492.6,32.0 492.7,36.8 492.8,31.7 492.9,36.2 493.0,33.1 493.1,34.7 493.2,27.7 493.3,33.0 493.4,32.9 493.6,38.0 493.7,35.0 493.8,36.7 493.9,36.8 494.0,35.0 494.1,40.8 494.2,39.6 494.3,43.1 494.4,41.5 494.5,43.4 494.7,43.1 494.8,44.7 494.9,47.3 495.0,46.2 495.1,49.9 495.2,46.9 495.3,49.4 495.4,55.1 495.5,51.1 495.6,49.9 495.8,57.7 495.9,56.0 496.0,53.7 496.1,53.7 496.2,58.2 496.3,55.2 496.4,55.1 496.5,60.6 496.6,61.1 496.7,62.6 496.9,61.2 497.0,65.2 497.1,63.0 497.2,65.5 497.3,68.1 497.4,69.1 497.5,71.9 497.6,72.4 497.7,70.1 497.8,72.4 498.0,75.9 498.1,77.3 498.2,76.0 498.3,74.5 498.4,76.7 498.5,79.6 498.6,80.4 498.7,76.7 498.8,77.1 498.9,79.1 499.1,78.4 499.2,82.1 499.3,81.9 499.4,84.9 499.5,86.7 499.6,89.5 499.7,89.8 499.8,88.4 499.9,86.8 500.0,90.0 500.2,86.8 500.3,86.1 500.4,88.8 500.5,86.2 500.6,93.9 500.7,92.3 500.8,93.8 500.9,91.4 501.0,93.5 501.1,93.7 501.3,94.0 501.4,95.7 501.5,96.6 501.6,94.7 501.7,96.5 501.8,100.0 501.9,96.6 502.0,92.6 502.1,93.8 502.2,95.8 502.4,96.3 502.5,98.3 502.6,95.7 502.7,99.5 502.8,95.8 502.9,96.5 503.0,92.7 503.1,88.3 503.2,92.8 503.3,93.3 503.5,92.9 503.6,91.2 503.7,91.4 503.8,87.6 503.9,84.8 504.0,87.3 504.1,87.4 504.2,85.6 504.3,85.8 504.4,83.8 504.6,81.3 504.7,80.3 504.8,79.1 504.9,76.3 505.0,70.5 505.1,74.1 505.2,74.8 505.3,71.9 505.4,72.9 505.5,66.8 505.7,58.0 505.8,62.2 505.9,57.2 506.0,57.6 506.1,56.4 506.2,55.5 506.3,58.1 506.4,57.6 506.5,51.5 506.6,55.0 506.8,53.3 506.9,58.1 507.0,58.0 507.1,53.8 507.2,56.3 507.3,55.6 507.4,54.3 507.5,54.7 507.6,50.9 507.7,50.4 507.9,49.0 508.0,49.5 508.1,48.0 508.2,43.2 508.3,47.0 508.4,48.1 508.5,42.0 508.6,43.2 508.7,37.2 508.8,42.4 509.0,41.7 509.1,41.5 509.2,41.1 509.3,36.0 509.4,34.5 509.5,35.4 509.6,32.5 509.7,35.0 509.8,29.5 509.9,32.5 510.1,30.3 510.2,26.9 510.3,30.6 510.4,28.0 510.5,28.4 510.6,28.3 510.7,22.6 510.8,30.0 510.9,29.3 511.0,30.5 511.2,28.6 511.3,32.4 511.4,30.9 511.5,28.0 511.6,31.9 511.7,33.6 511.8,31.3 511.9,32.3 512.0,34.0 512.1,36.1 512.3,35.0 512.4,34.3 512.5,37.5 512.6,37.5 512.7,38.3 512.8,41.5 512.9,38.8 513.0,37.7 513.1,41.9 513.2,39.3 513.4,44.4 513.5,42.4 513.6,45.4 513.7,44.7 513.8,45.0 513.9,42.6 514.0,48.4 514.1,52.9 514.2,49.5 514.3,53.1 514.5,54.6 514.6,48.8 514.7,51.4 514.8,53.2 514.9,57.4 515.0,59.6 515.1,56.5 515.2,61.5 515.3,61.9 515.4,60.4 515.6,66.0 515.7,67.4 515.8,62.8 515.9,66.9 516.0,64.9 516.1,68.5 516.2,68.5 516.3,65.3 516.4,66.7 516.5,70.9 516.7,67.5 516.8,70.5 516.9,64.7 517.0,65.0 517.1,71.4 517.2,71.7 517.3,71.2 517.4,71.1 517.5,73.7 517.6,71.6 517.8,75.6 517.9,78.8 518.0,77.4 518.1,74.9 518.2,75.0 518.3,78.5 518.4,74.9 518.5,82.4 518.6,79.5 518.7,79.5 518.9,80.0 519.0,78.1 519.1,81.4 519.2,76.1 519.3,74.2 519.4,78.2 519.5,72.9 519.6,76.9 519.7,75.5 519.8,71.3 520.0,71.8 520.1,68.0 520.2,67.0 520.3,70.9 520.4,67.3 520.5,67.6 520.6,65.7 520.7,68.1 520.8,67.9 520.9,68.2 521.1,68.3 521.2,71.8 521.3,68.9 521.4,71.2 521.5,72.5 521.6,70.6 521.7,74.2 521.8,74.2 521.9,74.7 522.0,75.7 522.2,77.4 522.3,76.5 522.4,75.1 522.5,73.3 522.6,68.6 522.7,71.0 522.8,67.3 522.9,67.5 523.0,62.5 523.1,63.3 523.3,60.0 523.4,57.3 523.5,56.2 523.6,55.4 523.7,48.7 523.8,52.5 523.9,46.8 524.0,51.8 524.1,49.4 524.2,48.6 524.4,50.6 524.5,55.1 524.6,57.3 524.7,51.5 524.8,55.1 524.9,52.0 525.0,55.1 525.1,50.8 525.2,51.4 525.3,47.7 525.5,51.5 525.6,50.7 525.7,51.2 525.8,51.5 525.9,47.3 526.0,49.1 526.1,44.0 526.2,45.5 526.3,43.8 526.4,48.0 526.6,47.5 526.7,47.2 526.8,45.6 526.9,49.2 527.0,45.6 527.1,41.2 527.2,46.1 527.3,45.1 527.4,41.6 527.5,32.4 527.7,33.3 527.8,35.1 527.9,32.1 528.0,29.4 528.1,32.0 528.2,28.7 528.3,30.7 528.4,30.7 528.5,32.8 528.6,26.4 528.8,31.6 528.9,28.7 529.0,34.8 529.1,36.3 529.2,37.1 529.3,38.0 529.4,37.9 529.5,41.7 529.6,43.4 529.7,45.2 529.9,45.5 530.0,46.7 530.1,44.9 530.2,44.6 530.3,50.8 530.4,57.7 530.5,54.9 530.6,55.4 530.7,52.7 530.8,61.0 531.0,60.6 531.1,64.1 531.2,68.9 531.3,71.4 531.4,76.1 531.5,76.9 531.6,77.5 531.7,78.9 531.8,77.2 531.9,81.3 532.1,86.0 532.2,80.5 532.3,86.5 532.4,91.9 532.5,92.9 532.6,91.8 532.7,93.5 532.8,96.3 532.9,95.3 533.0,97.3 533.2,97.1 533.3,89.2 533.4,85.2 533.5,86.0 533.6,82.0 533.7,76.8 533.8,70.8 533.9,76.5 534.0,73.2 534.1,67.3 534.3,69.4 534.4,67.5 534.5,68.3 534.6,71.6 534.7,68.4 534.8,67.1 534.9,68.1 535.0,66.9 535.1,67.6 535.2,66.4 535.4,64.8 535.5,70.1 535.6,68.0 535.7,67.3 535.8,69.9 535.9,65.7 536.0,64.1 536.1,64.5 536.2,62.5 536.3,61.8 536.5,61.4 536.6,64.8 536.7,59.7 536.8,62.6 536.9,62.4 537.0,66.2 537.1,61.5 537.2,64.9 537.3,65.6 537.4,65.7 537.6,67.2 537.7,60.1 537.8,64.2 537.9,62.9 538.0,62.3 538.1,65.0 538.2,59.8 538.3,59.9 538.4,63.3 538.5,57.0 538.7,64.8 538.8,58.8 538.9,64.9 539.0,59.7 539.1,63.3 539.2,62.4 539.3,62.0 539.4,61.2 539.5,59.7 539.6,61.1 539.8,60.7 539.9,55.4 540.0,52.7 540.1,63.1 540.2,52.7 540.3,58.5 540.4,57.1 540.5,57.2 540.6,56.7 540.7,63.4 540.9,60.7 541.0,55.7 541.1,59.4 541.2,59.2 541.3,63.1 541.4,59.2 541.5,54.3 541.6,62.8 541.7,63.8 541.8,63.8 542.0,62.0 542.1,54.1 542.2,55.1 542.3,56.1 542.4,57.4 542.5,55.5 542.6,56.4 542.7,52.9 542.8,53.6 542.9,54.9 543.1,55.3 543.2,51.8 543.3,59.5 543.4,52.2 543.5,51.7 543.6,53.2 543.7,50.5 543.8,53.6 543.9,52.9 544.0,52.7 544.2,48.6 544.3,48.0 544.4,49.8 544.5,49.8 544.6,50.2" fill="none" stroke="#348ABD" stroke-width="1.15" stroke-linejoin="round"/>
<line x1="374.4" x2="376.0" y1="19.9" y2="19.9" stroke="#666" stroke-width="0.5"/>
<text class="tk" transform="translate(372.8,22.7) scale(0.82,1)" text-anchor="end">50</text>
<line x1="374.4" x2="376.0" y1="41.8" y2="41.8" stroke="#666" stroke-width="0.5"/>
<text class="tk" transform="translate(372.8,44.6) scale(0.82,1)" text-anchor="end">40</text>
<line x1="374.4" x2="376.0" y1="63.8" y2="63.8" stroke="#666" stroke-width="0.5"/>
<text class="tk" transform="translate(372.8,66.6) scale(0.82,1)" text-anchor="end">30</text>
<line x1="374.4" x2="376.0" y1="85.8" y2="85.8" stroke="#666" stroke-width="0.5"/>
<text class="tk" transform="translate(372.8,88.6) scale(0.82,1)" text-anchor="end">20</text>
<line x1="374.4" x2="376.0" y1="107.8" y2="107.8" stroke="#666" stroke-width="0.5"/>
<text class="tk" transform="translate(372.8,110.6) scale(0.82,1)" text-anchor="end">10</text>
<line x1="375.7" x2="375.7" y1="116.3" y2="117.89999999999999" stroke="#666" stroke-width="0.5"/>
<text class="tk" transform="translate(375.7,125.2) scale(0.82,1)" text-anchor="middle">0</text>
<line x1="411" x2="411" y1="116.3" y2="117.89999999999999" stroke="#666" stroke-width="0.5"/>
<text class="tk" transform="translate(411.0,125.2) scale(0.82,1)" text-anchor="middle">500</text>
<line x1="446.2" x2="446.2" y1="116.3" y2="117.89999999999999" stroke="#666" stroke-width="0.5"/>
<text class="tk" transform="translate(446.2,125.2) scale(0.82,1)" text-anchor="middle">1000</text>
<line x1="481.4" x2="481.4" y1="116.3" y2="117.89999999999999" stroke="#666" stroke-width="0.5"/>
<text class="tk" transform="translate(481.4,125.2) scale(0.82,1)" text-anchor="middle">1500</text>
<line x1="516.6" x2="516.6" y1="116.3" y2="117.89999999999999" stroke="#666" stroke-width="0.5"/>
<text class="tk" transform="translate(516.6,125.2) scale(0.82,1)" text-anchor="middle">2000</text>
<text class="tt" x="391.5" y="12.0" textLength="44.0" lengthAdjust="spacingAndGlyphs">Southbound (</text>
<text class="tt tm" x="435.7" y="12.0" textLength="90.3" lengthAdjust="spacingAndGlyphs">100%<tspan dx="4.8">−</tspan><tspan dx="2.6" class="mi">MAPE</tspan><tspan dx="0.6">:</tspan><tspan dx="1.3">84.6%)</tspan></text>
<text class="al" transform="translate(364.3,69.1) rotate(-90)" text-anchor="middle">Speed</text>
<text class="al" x="463.8" y="135.5" text-anchor="middle">Time</text></g>
<g id="plot2a"><rect x="172" y="184.9" width="171.3" height="96.6" fill="#E5E5E5"/>
<line x1="172" x2="343.3" y1="201" y2="201" stroke="#fff" stroke-width="0.5" opacity="0.7"/>
<line x1="172" x2="343.3" y1="225.7" y2="225.7" stroke="#fff" stroke-width="0.5" opacity="0.7"/>
<line x1="172" x2="343.3" y1="250.4" y2="250.4" stroke="#fff" stroke-width="0.5" opacity="0.7"/>
<line x1="172" x2="343.3" y1="275.1" y2="275.1" stroke="#fff" stroke-width="0.5" opacity="0.7"/>
<line x1="172.1" x2="172.1" y1="184.9" y2="281.5" stroke="#fff" stroke-width="0.5" opacity="0.7"/>
<line x1="204.1" x2="204.1" y1="184.9" y2="281.5" stroke="#fff" stroke-width="0.5" opacity="0.7"/>
<line x1="235.9" x2="235.9" y1="184.9" y2="281.5" stroke="#fff" stroke-width="0.5" opacity="0.7"/>
<line x1="267.7" x2="267.7" y1="184.9" y2="281.5" stroke="#fff" stroke-width="0.5" opacity="0.7"/>
<line x1="299.5" x2="299.5" y1="184.9" y2="281.5" stroke="#fff" stroke-width="0.5" opacity="0.7"/>
<line x1="331.3" x2="331.3" y1="184.9" y2="281.5" stroke="#fff" stroke-width="0.5" opacity="0.7"/>
<polyline points="172.4,213.0 172.5,213.5 172.6,213.9 172.7,212.8 172.8,211.3 173.0,215.2 173.1,216.3 173.2,218.8 173.3,218.9 173.4,215.8 173.5,216.3 173.6,219.8 173.7,222.4 173.8,221.3 173.9,231.2 174.1,227.3 174.2,227.2 174.3,234.2 174.4,229.3 174.5,233.1 174.6,239.5 174.7,231.0 174.8,233.6 174.9,238.2 175.0,237.7 175.2,238.2 175.3,237.1 175.4,238.8 175.5,247.4 175.6,246.6 175.7,242.6 175.8,243.7 175.9,246.3 176.0,244.6 176.1,240.4 176.3,246.7 176.4,249.6 176.5,250.1 176.6,245.0 176.7,252.8 176.8,251.7 176.9,251.9 177.0,246.7 177.1,248.2 177.2,242.0 177.4,239.6 177.5,242.2 177.6,240.9 177.7,244.1 177.8,239.2 177.9,237.6 178.0,240.3 178.1,236.8 178.2,233.7 178.3,240.7 178.5,234.0 178.6,235.9 178.7,233.2 178.8,231.3 178.9,233.2 179.0,235.9 179.1,227.2 179.2,229.7 179.3,222.4 179.4,225.1 179.6,222.9 179.7,231.5 179.8,222.2 179.9,222.0 180.0,223.2 180.1,217.9 180.2,223.3 180.3,222.6 180.4,220.1 180.5,221.1 180.7,221.6 180.8,222.1 180.9,215.8 181.0,218.8 181.1,221.1 181.2,219.6 181.3,221.0 181.4,223.3 181.5,226.9 181.6,230.6 181.8,227.6 181.9,225.9 182.0,227.8 182.1,229.2 182.2,226.1 182.3,229.7 182.4,220.7 182.5,219.7 182.6,222.4 182.7,221.2 182.9,221.3 183.0,215.6 183.1,220.4 183.2,218.6 183.3,221.9 183.4,213.8 183.5,215.0 183.6,220.4 183.7,218.1 183.8,218.2 184.0,220.1 184.1,218.1 184.2,216.1 184.3,209.8 184.4,212.4 184.5,217.0 184.6,211.3 184.7,218.5 184.8,216.9 184.9,214.1 185.1,209.0 185.2,216.0 185.3,219.9 185.4,211.3 185.5,205.8 185.6,208.2 185.7,210.5 185.8,208.4 185.9,204.6 186.0,200.8 186.2,204.2 186.3,199.8 186.4,207.9 186.5,200.8 186.6,206.6 186.7,204.0 186.8,207.2 186.9,203.9 187.0,211.8 187.1,207.8 187.3,201.7 187.4,199.9 187.5,207.7 187.6,201.0 187.7,203.1 187.8,194.0 187.9,191.8 188.0,188.7 188.1,191.1 188.2,196.8 188.4,203.4 188.5,204.8 188.6,207.1 188.7,207.8 188.8,207.4 188.9,206.7 189.0,204.7 189.1,209.3 189.2,204.6 189.3,206.1 189.5,207.7 189.6,213.6 189.7,208.5 189.8,207.1 189.9,221.1 190.0,207.8 190.1,211.0 190.2,204.4 190.3,212.3 190.4,211.7 190.6,207.6 190.7,214.7 190.8,214.8 190.9,213.0 191.0,212.6 191.1,213.2 191.2,218.5 191.3,219.7 191.4,219.3 191.5,217.2 191.7,217.7 191.8,213.2 191.9,215.0 192.0,219.9 192.1,224.0 192.2,220.9 192.3,220.7 192.4,217.4 192.5,218.6 192.6,225.6 192.8,228.1 192.9,222.4 193.0,223.1 193.1,226.1 193.2,225.8 193.3,223.0 193.4,216.3 193.5,225.6 193.6,223.2 193.7,218.3 193.9,225.4 194.0,226.9 194.1,220.5 194.2,222.0 194.3,223.1 194.4,216.4 194.5,221.6 194.6,223.4 194.7,220.4 194.8,223.2 195.0,217.5 195.1,216.9 195.2,218.9 195.3,221.2 195.4,224.8 195.5,219.5 195.6,223.1 195.7,214.0 195.8,214.9 195.9,219.7 196.1,220.8 196.2,222.0 196.3,222.1 196.4,220.7 196.5,216.6 196.6,223.0 196.7,224.0 196.8,226.1 196.9,220.7 197.0,220.3 197.2,221.4 197.3,221.6 197.4,215.3 197.5,224.3 197.6,221.1 197.7,221.2 197.8,215.5 197.9,221.4 198.0,214.4 198.1,219.4 198.3,218.8 198.4,222.5 198.5,224.1 198.6,225.5 198.7,216.6 198.8,221.4 198.9,222.0 199.0,217.5 199.1,219.8 199.2,219.8 199.4,224.8 199.5,221.1 199.6,212.7 199.7,218.7 199.8,219.1 199.9,220.1 200.0,220.9 200.1,219.9 200.2,212.9 200.3,212.9 200.5,218.0 200.6,215.9 200.7,221.1 200.8,213.2 200.9,212.9 201.0,215.8 201.1,211.5 201.2,214.8 201.3,212.4 201.4,210.6 201.6,206.6 201.7,213.7 201.8,213.4 201.9,208.6 202.0,206.2 202.1,204.7 202.2,207.5 202.3,207.0 202.4,206.9 202.5,203.4 202.7,207.5 202.8,203.9 202.9,206.4 203.0,203.1 203.1,209.2 203.2,203.9 203.3,204.1 203.4,206.5 203.5,207.2 203.6,211.2 203.8,212.4 203.9,204.8 204.0,213.3 204.1,210.5 204.2,214.7 204.3,217.9 204.4,218.7 204.5,218.0 204.6,224.0 204.7,222.8 204.9,218.6 205.0,230.4 205.1,233.2 205.2,235.3 205.3,238.1 205.4,235.4 205.5,237.0 205.6,242.7 205.7,247.7 205.8,239.7 206.0,244.7 206.1,245.6 206.2,247.2 206.3,249.5 206.4,255.0 206.5,255.8 206.6,252.7 206.7,251.2 206.8,258.0 206.9,260.5 207.1,264.7 207.2,264.0 207.3,259.4 207.4,261.2 207.5,259.6 207.6,265.1 207.7,271.6 207.8,274.6 207.9,271.9 208.0,264.1 208.2,262.5 208.3,255.4 208.4,246.2 208.5,241.5 208.6,240.7 208.7,242.8 208.8,246.0 208.9,245.8 209.0,236.7 209.1,231.6 209.3,237.2 209.4,231.7 209.5,232.4 209.6,229.4 209.7,228.9 209.8,226.3 209.9,223.8 210.0,222.1 210.1,225.9 210.2,231.8 210.4,231.1 210.5,227.8 210.6,227.9 210.7,225.2 210.8,229.9 210.9,229.8 211.0,235.9 211.1,230.5 211.2,227.9 211.3,229.1 211.5,227.0 211.6,228.2 211.7,225.1 211.8,225.7 211.9,228.6 212.0,231.2 212.1,223.3 212.2,222.8 212.3,215.8 212.4,223.3 212.6,225.3 212.7,221.7 212.8,229.5 212.9,224.0 213.0,218.0 213.1,217.4 213.2,219.5 213.3,220.6 213.4,220.3 213.5,216.6 213.7,218.9 213.8,218.9 213.9,217.3 214.0,214.8 214.1,213.4 214.2,211.7 214.3,221.8 214.4,221.1 214.5,217.0 214.6,225.9 214.8,221.9 214.9,223.0 215.0,226.5 215.1,219.5 215.2,220.2 215.3,222.6 215.4,216.4 215.5,221.5 215.6,217.1 215.7,223.3 215.9,219.8 216.0,216.4 216.1,219.7 216.2,219.4 216.3,218.7 216.4,216.3 216.5,226.0 216.6,222.8 216.7,217.0 216.8,216.4 217.0,216.2 217.1,212.6 217.2,217.8 217.3,217.3 217.4,220.7 217.5,213.1 217.6,214.6 217.7,215.5 217.8,207.0 217.9,208.5 218.1,211.0 218.2,204.0 218.3,211.3 218.4,202.0 218.5,201.0 218.6,203.0 218.7,200.4 218.8,200.3 218.9,202.4 219.0,202.9 219.2,204.9 219.3,202.4 219.4,205.5 219.5,203.1 219.6,203.9 219.7,208.9 219.8,210.7 219.9,205.0 220.0,212.1 220.1,209.3 220.3,208.2 220.4,211.7 220.5,219.9 220.6,218.1 220.7,229.1 220.8,225.6 220.9,226.5 221.0,236.4 221.1,232.7 221.2,232.2 221.4,236.9 221.5,247.2 221.6,238.8 221.7,247.6 221.8,242.9 221.9,240.9 222.0,248.3 222.1,251.3 222.2,256.8 222.3,251.2 222.5,259.8 222.6,255.8 222.7,260.0 222.8,263.2 222.9,266.7 223.0,269.1 223.1,266.9 223.2,262.0 223.3,258.9 223.4,256.9 223.6,249.9 223.7,243.6 223.8,244.8 223.9,239.5 224.0,243.7 224.1,244.5 224.2,241.0 224.3,235.4 224.4,235.6 224.5,236.3 224.7,230.1 224.8,231.0 224.9,231.9 225.0,227.0 225.1,226.3 225.2,230.4 225.3,231.4 225.4,230.3 225.5,229.9 225.6,222.4 225.8,224.6 225.9,229.4 226.0,226.7 226.1,229.3 226.2,229.6 226.3,227.4 226.4,228.7 226.5,225.1 226.6,231.0 226.7,230.4 226.9,234.0 227.0,228.6 227.1,229.8 227.2,229.4 227.3,232.0 227.4,231.3 227.5,229.6 227.6,229.6 227.7,224.5 227.8,232.5 228.0,226.3 228.1,229.4 228.2,227.7 228.3,223.9 228.4,224.3 228.5,226.5 228.6,227.3 228.7,224.8 228.8,221.2 228.9,218.1 229.1,229.8 229.2,227.8 229.3,231.4 229.4,226.5 229.5,231.6 229.6,229.0 229.7,231.7 229.8,222.9 229.9,223.0 230.0,222.8 230.2,222.9 230.3,229.1 230.4,221.1 230.5,219.3 230.6,219.0 230.7,216.8 230.8,221.5 230.9,227.1 231.0,225.4 231.1,227.1 231.3,229.1 231.4,224.3 231.5,227.4 231.6,225.1 231.7,225.4 231.8,223.6 231.9,223.0 232.0,227.9 232.1,223.6 232.2,222.3 232.4,218.0 232.5,221.9 232.6,214.8 232.7,216.0 232.8,217.4 232.9,215.9 233.0,215.0 233.1,212.6 233.2,217.8 233.3,219.7 233.5,208.0 233.6,205.9 233.7,208.4 233.8,211.3 233.9,213.9 234.0,214.4 234.1,207.9 234.2,202.7 234.3,204.4 234.4,199.4 234.6,205.4 234.7,205.9 234.8,213.5 234.9,205.8 235.0,213.2 235.1,205.2 235.2,207.1 235.3,206.4 235.4,207.6 235.5,200.5 235.7,203.5 235.8,206.1 235.9,208.2 236.0,212.8 236.1,212.0 236.2,206.7 236.3,213.2 236.4,216.5 236.5,217.3 236.6,217.8 236.8,221.7 236.9,226.1 237.0,221.8 237.1,223.6 237.2,227.7 237.3,233.2 237.4,239.8 237.5,240.7 237.6,239.0 237.7,240.8 237.9,246.3 238.0,246.1 238.1,242.4 238.2,249.6 238.3,250.4 238.4,251.8 238.5,258.1 238.6,255.9 238.7,257.4 238.8,256.0 239.0,258.1 239.1,263.9 239.2,267.0 239.3,269.1 239.4,267.2 239.5,261.7 239.6,255.6 239.7,253.4 239.8,243.3 239.9,245.7 240.1,247.1 240.2,248.4 240.3,245.2 240.4,246.3 240.5,245.8 240.6,240.4 240.7,243.4 240.8,241.8 240.9,240.4 241.0,237.9 241.2,236.0 241.3,233.4 241.4,223.5 241.5,230.1 241.6,231.1 241.7,231.8 241.8,234.7 241.9,224.4 242.0,230.1 242.1,229.8 242.3,224.0 242.4,229.2 242.5,231.9 242.6,227.8 242.7,228.3 242.8,230.5 242.9,232.8 243.0,222.9 243.1,220.6 243.2,225.2 243.4,225.8 243.5,228.1 243.6,225.2 243.7,225.5 243.8,223.9 243.9,224.9 244.0,221.2 244.1,227.3 244.2,222.9 244.3,219.5 244.5,229.9 244.6,228.2 244.7,219.9 244.8,224.9 244.9,226.6 245.0,227.0 245.1,229.5 245.2,222.6 245.3,227.4 245.4,215.7 245.6,224.8 245.7,219.3 245.8,226.4 245.9,231.5 246.0,218.6 246.1,221.8 246.2,225.9 246.3,221.0 246.4,221.6 246.5,221.0 246.7,222.3 246.8,219.6 246.9,218.3 247.0,221.3 247.1,220.8 247.2,228.8 247.3,226.7 247.4,219.6 247.5,224.3 247.6,223.5 247.8,219.9 247.9,215.5 248.0,216.5 248.1,221.0 248.2,220.9 248.3,224.7 248.4,219.8 248.5,212.7 248.6,218.9 248.7,215.5 248.9,216.8 249.0,223.7 249.1,211.4 249.2,217.1 249.3,217.3 249.4,217.0 249.5,215.4 249.6,217.3 249.7,220.2 249.8,214.9 250.0,217.6 250.1,211.1 250.2,209.1 250.3,211.0 250.4,212.6 250.5,207.8 250.6,209.7 250.7,208.4 250.8,212.0 250.9,211.1 251.1,209.6 251.2,218.5 251.3,209.9 251.4,209.1 251.5,213.8 251.6,212.9 251.7,206.3 251.8,209.3 251.9,207.9 252.0,212.0 252.2,215.9 252.3,212.3 252.4,212.3 252.5,216.7 252.6,214.8 252.7,222.1 252.8,218.5 252.9,221.7 253.0,224.0 253.1,226.4 253.3,231.3 253.4,229.2 253.5,230.4 253.6,229.5 253.7,239.0 253.8,239.4 253.9,241.0 254.0,241.8 254.1,247.1 254.2,250.5 254.4,248.9 254.5,252.5 254.6,253.5 254.7,254.6 254.8,254.0 254.9,259.0 255.0,256.2 255.1,260.2 255.2,258.4 255.3,257.7 255.5,266.4 255.6,270.9 255.7,274.4 255.8,276.1 255.9,275.2 256.0,275.7 256.1,273.4 256.2,266.4 256.3,259.8 256.4,249.8 256.6,244.9 256.7,241.6 256.8,248.2 256.9,237.5 257.0,232.3 257.1,236.5 257.2,230.8 257.3,234.1 257.4,231.2 257.5,227.8 257.7,232.9 257.8,229.3 257.9,233.0 258.0,226.7 258.1,223.7 258.2,226.3 258.3,229.1 258.4,232.6 258.5,224.6 258.6,231.6 258.8,237.1 258.9,235.3 259.0,226.3 259.1,225.7 259.2,226.1 259.3,225.8 259.4,217.5 259.5,233.6 259.6,222.2 259.7,220.8 259.9,226.7 260.0,229.5 260.1,225.5 260.2,225.9 260.3,222.8 260.4,230.8 260.5,228.1 260.6,229.2 260.7,232.7 260.8,224.1 261.0,231.5 261.1,224.9 261.2,226.2 261.3,228.1 261.4,227.8 261.5,225.1 261.6,226.2 261.7,221.9 261.8,223.6 261.9,225.3 262.1,222.4 262.2,231.7 262.3,224.8 262.4,228.4 262.5,222.1 262.6,221.2 262.7,228.5 262.8,223.4 262.9,227.3 263.0,221.5 263.2,226.5 263.3,214.2 263.4,221.0 263.5,224.3 263.6,223.5 263.7,216.4 263.8,220.8 263.9,222.6 264.0,216.5 264.1,214.2 264.3,219.8 264.4,216.0 264.5,217.0 264.6,212.3 264.7,218.8 264.8,216.7 264.9,218.6 265.0,215.9 265.1,213.1 265.2,218.7 265.4,215.8 265.5,213.1 265.6,219.9 265.7,212.2 265.8,206.3 265.9,216.2 266.0,210.2 266.1,208.0 266.2,209.8 266.3,209.9 266.5,207.7 266.6,209.0 266.7,212.8 266.8,207.0 266.9,211.3 267.0,207.8 267.1,216.1 267.2,215.0 267.3,216.2 267.4,214.2 267.6,216.6 267.7,215.8 267.8,214.7 267.9,216.8 268.0,217.0 268.1,218.0 268.2,213.9 268.3,219.8 268.4,221.9 268.5,222.9 268.7,228.2 268.8,228.9 268.9,233.4 269.0,231.3 269.1,236.4 269.2,241.2 269.3,240.3 269.4,245.5 269.5,240.7 269.6,252.4 269.8,251.0 269.9,249.7 270.0,253.8 270.1,252.8 270.2,255.3 270.3,254.2 270.4,260.3 270.5,260.7 270.6,261.3 270.7,263.6 270.9,267.6 271.0,269.1 271.1,267.7 271.2,266.3 271.3,260.6 271.4,258.4 271.5,252.7 271.6,246.9 271.7,257.6 271.8,254.7 272.0,245.5 272.1,244.9 272.2,251.5 272.3,242.4 272.4,244.9 272.5,246.4 272.6,237.8 272.7,234.2 272.8,238.4 272.9,236.1 273.1,236.6 273.2,235.5 273.3,230.1 273.4,227.1 273.5,234.7 273.6,228.7 273.7,231.3 273.8,234.3 273.9,230.3 274.0,230.6 274.2,234.1 274.3,229.0 274.4,231.1 274.5,224.8 274.6,231.7 274.7,229.0 274.8,227.0 274.9,228.9 275.0,229.6 275.1,228.2 275.3,224.9 275.4,231.7 275.5,226.1 275.6,223.2 275.7,227.9 275.8,226.0 275.9,231.3 276.0,225.5 276.1,232.7 276.2,233.7 276.4,238.5 276.5,236.4 276.6,237.1 276.7,236.8 276.8,232.8 276.9,236.3 277.0,233.5 277.1,234.6 277.2,232.7 277.3,230.6 277.5,224.2 277.6,231.7 277.7,225.5 277.8,228.0 277.9,220.5 278.0,225.7 278.1,222.7 278.2,218.2 278.3,221.4 278.4,218.9 278.6,216.9 278.7,220.7 278.8,220.2 278.9,220.1 279.0,218.9 279.1,223.9 279.2,227.4 279.3,220.5 279.4,221.9 279.5,219.4 279.7,220.2 279.8,224.4 279.9,214.3 280.0,224.7 280.1,215.9 280.2,216.2 280.3,217.7 280.4,217.0 280.5,219.3 280.6,217.3 280.8,214.6 280.9,210.8 281.0,209.2 281.1,212.2 281.2,210.3 281.3,213.2 281.4,207.1 281.5,217.8 281.6,218.1 281.7,214.6 281.9,215.2 282.0,217.6 282.1,210.3 282.2,211.8 282.3,211.6 282.4,210.0 282.5,202.0 282.6,204.1 282.7,202.7 282.8,197.9 283.0,195.0 283.1,194.0 283.2,190.9 283.3,194.3 283.4,199.2 283.5,205.0 283.6,210.7 283.7,219.1 283.8,218.9 283.9,217.1 284.1,223.1 284.2,224.5 284.3,220.6 284.4,220.8 284.5,224.9 284.6,223.0 284.7,222.3 284.8,228.1 284.9,223.4 285.0,230.8 285.2,225.1 285.3,227.3 285.4,229.6 285.5,234.4 285.6,235.4 285.7,236.8 285.8,241.9 285.9,242.2 286.0,235.5 286.1,244.2 286.3,240.6 286.4,244.5 286.5,249.2 286.6,240.9 286.7,251.0 286.8,256.0 286.9,259.1 287.0,263.8 287.1,267.0 287.2,264.1 287.4,259.5 287.5,257.0 287.6,249.4 287.7,245.4 287.8,247.8 287.9,250.7 288.0,248.9 288.1,250.2 288.2,247.8 288.3,246.4 288.5,245.0 288.6,243.8 288.7,242.8 288.8,237.6 288.9,240.3 289.0,244.3 289.1,235.2 289.2,243.8 289.3,243.7 289.4,240.1 289.6,235.0 289.7,236.2 289.8,234.5 289.9,235.8 290.0,236.2 290.1,232.0 290.2,238.0 290.3,237.8 290.4,236.9 290.5,240.4 290.7,230.7 290.8,233.7 290.9,235.6 291.0,230.9 291.1,231.7 291.2,224.7 291.3,231.0 291.4,227.0 291.5,228.0 291.6,223.0 291.8,228.9 291.9,223.2 292.0,224.3 292.1,228.0 292.2,223.1 292.3,220.0 292.4,226.7 292.5,219.6 292.6,221.9 292.7,226.2 292.9,224.2 293.0,222.9 293.1,223.5 293.2,225.3 293.3,218.3 293.4,221.3 293.5,220.2 293.6,219.3 293.7,220.3 293.8,215.0 294.0,216.5 294.1,217.0 294.2,213.3 294.3,214.3 294.4,220.9 294.5,218.9 294.6,220.2 294.7,223.6 294.8,215.3 294.9,221.5 295.1,216.0 295.2,221.9 295.3,225.4 295.4,216.9 295.5,213.2 295.6,216.3 295.7,215.7 295.8,213.3 295.9,211.7 296.0,213.6 296.2,212.5 296.3,213.2 296.4,217.9 296.5,212.7 296.6,215.9 296.7,211.0 296.8,221.9 296.9,211.0 297.0,202.9 297.1,210.1 297.3,214.0 297.4,214.3 297.5,217.8 297.6,215.3 297.7,209.9 297.8,208.9 297.9,205.2 298.0,210.2 298.1,207.3 298.2,213.7 298.4,196.7 298.5,208.2 298.6,196.0 298.7,201.6 298.8,199.2 298.9,194.5 299.0,194.1 299.1,195.7 299.2,198.8 299.3,200.0 299.5,207.5 299.6,204.4 299.7,211.2 299.8,206.6 299.9,212.3 300.0,205.3 300.1,209.9 300.2,213.5 300.3,211.2 300.4,215.3 300.6,214.6 300.7,212.1 300.8,206.0 300.9,215.5 301.0,212.3 301.1,208.0 301.2,210.9 301.3,205.0 301.4,205.8 301.5,205.0 301.7,209.5 301.8,215.4 301.9,215.1 302.0,213.9 302.1,218.2 302.2,215.8 302.3,212.0 302.4,221.4 302.5,212.3 302.6,220.3 302.8,217.4 302.9,222.1 303.0,221.9 303.1,221.8 303.2,221.2 303.3,227.3 303.4,219.9 303.5,223.6 303.6,219.4 303.7,227.5 303.9,225.2 304.0,218.4 304.1,221.9 304.2,214.9 304.3,219.1 304.4,219.4 304.5,224.2 304.6,221.1 304.7,216.5 304.8,216.9 305.0,220.2 305.1,221.2 305.2,223.0 305.3,220.8 305.4,222.4 305.5,223.8 305.6,221.6 305.7,224.0 305.8,227.0 305.9,222.9 306.1,219.6 306.2,227.2 306.3,218.3 306.4,226.0 306.5,221.0 306.6,221.4 306.7,227.7 306.8,225.4 306.9,228.9 307.0,232.9 307.2,222.9 307.3,223.5 307.4,227.7 307.5,232.9 307.6,232.7 307.7,231.4 307.8,234.4 307.9,234.4 308.0,231.5 308.1,236.5 308.3,244.4 308.4,246.5 308.5,252.6 308.6,255.0 308.7,250.6 308.8,247.1 308.9,241.0 309.0,236.7 309.1,227.2 309.2,236.9 309.4,240.8 309.5,230.4 309.6,229.1 309.7,230.4 309.8,228.9 309.9,226.4 310.0,226.9 310.1,231.4 310.2,232.4 310.3,229.0 310.5,227.0 310.6,225.0 310.7,226.4 310.8,227.2 310.9,220.9 311.0,221.6 311.1,220.0 311.2,217.4 311.3,218.4 311.4,221.1 311.6,219.6 311.7,215.3 311.8,215.2 311.9,214.8 312.0,222.9 312.1,218.4 312.2,220.7 312.3,221.2 312.4,219.5 312.5,217.2 312.7,217.0 312.8,217.7 312.9,217.1 313.0,218.6 313.1,220.1 313.2,216.7 313.3,218.1 313.4,214.8 313.5,215.7 313.6,216.3 313.8,221.2 313.9,210.2 314.0,217.3 314.1,211.0 314.2,210.6 314.3,206.0 314.4,204.8 314.5,200.7 314.6,196.2 314.7,194.1 314.9,197.2 315.0,200.1 315.1,205.7 315.2,205.5 315.3,215.2 315.4,209.7 315.5,209.8 315.6,209.1 315.7,221.5 315.8,215.4 316.0,216.2 316.1,215.7 316.2,221.8 316.3,218.9 316.4,223.9 316.5,223.6 316.6,223.3 316.7,231.7 316.8,230.4 316.9,235.7 317.1,229.2 317.2,238.3 317.3,241.8 317.4,241.2 317.5,242.5 317.6,249.6 317.7,241.4 317.8,249.6 317.9,253.6 318.0,253.0 318.2,256.2 318.3,264.5 318.4,263.8 318.5,269.5 318.6,272.4 318.7,270.6 318.8,265.9 318.9,263.9 319.0,260.8 319.1,248.6 319.3,259.3 319.4,246.9 319.5,247.7 319.6,252.6 319.7,249.6 319.8,248.3 319.9,243.9 320.0,237.7 320.1,234.3 320.2,243.2 320.4,230.2 320.5,231.9 320.6,235.7 320.7,227.1 320.8,227.7 320.9,230.5 321.0,226.4 321.1,223.3 321.2,225.8 321.3,226.8 321.5,228.9 321.6,227.7 321.7,226.6 321.8,233.8 321.9,230.4 322.0,227.0 322.1,229.7 322.2,228.5 322.3,225.5 322.4,230.2 322.6,224.3 322.7,226.9 322.8,223.5 322.9,222.8 323.0,222.1 323.1,219.5 323.2,222.7 323.3,221.7 323.4,218.1 323.5,224.4 323.7,225.9 323.8,234.6 323.9,228.4 324.0,219.4 324.1,225.8 324.2,219.9 324.3,219.0 324.4,221.7 324.5,222.7 324.6,223.4 324.8,224.8 324.9,224.6 325.0,225.5 325.1,220.3 325.2,221.2 325.3,224.6 325.4,220.8 325.5,220.6 325.6,213.1 325.7,217.0 325.9,212.8 326.0,221.5 326.1,221.3 326.2,216.6 326.3,216.5 326.4,217.0 326.5,218.8 326.6,215.9 326.7,225.4 326.8,211.8 327.0,215.6 327.1,219.4 327.2,218.7 327.3,215.5 327.4,212.3 327.5,217.6 327.6,211.1 327.7,212.9 327.8,215.9 327.9,210.7 328.1,211.7 328.2,215.1 328.3,210.9 328.4,216.6 328.5,211.7 328.6,210.0 328.7,221.6 328.8,213.7 328.9,214.3 329.0,212.2 329.2,216.6 329.3,213.7 329.4,212.3 329.5,217.0 329.6,216.1 329.7,215.3 329.8,214.4 329.9,216.8 330.0,209.5 330.1,208.7 330.3,201.6 330.4,201.3 330.5,196.2 330.6,194.1 330.7,196.9 330.8,201.0 330.9,208.9 331.0,207.3 331.1,216.1 331.2,212.5 331.4,219.6 331.5,213.8 331.6,213.7 331.7,217.7 331.8,213.2 331.9,215.0 332.0,226.4 332.1,225.3 332.2,219.0 332.3,230.2 332.5,225.8 332.6,229.9 332.7,233.3 332.8,234.1 332.9,236.5 333.0,237.7 333.1,235.5 333.2,248.1 333.3,241.6 333.4,243.3 333.6,245.8 333.7,245.7 333.8,252.2 333.9,255.5 334.0,260.1 334.1,264.2 334.2,267.0 334.3,264.1 334.4,261.3 334.5,260.9 334.7,254.7 334.8,248.3 334.9,240.7 335.0,242.5 335.1,239.4 335.2,247.5 335.3,241.2 335.4,241.3 335.5,239.5 335.6,232.8 335.8,240.4 335.9,237.1 336.0,245.3 336.1,226.7 336.2,229.8 336.3,228.0 336.4,232.4 336.5,225.6 336.6,228.9 336.7,222.7 336.9,226.9 337.0,227.8 337.1,224.7 337.2,227.2 337.3,225.3 337.4,228.3 337.5,226.6 337.6,224.5 337.7,224.7 337.8,219.1 338.0,223.9 338.1,226.7 338.2,229.4 338.3,229.6 338.4,219.9 338.5,226.4 338.6,223.5 338.7,225.3 338.8,229.3 338.9,219.4 339.1,226.2 339.2,226.1 339.3,227.9 339.4,235.5 339.5,232.6 339.6,223.9 339.7,228.4 339.8,225.6 339.9,233.1 340.0,222.6 340.2,227.8 340.3,227.6 340.4,223.8 340.5,224.7 340.6,220.5 340.7,227.6 340.8,226.2 340.9,229.8 341.0,233.8 341.1,227.3 341.3,219.0 341.4,225.7 341.5,229.2 341.6,223.1 341.7,229.8 341.8,217.6 341.9,225.6 342.0,224.5 342.1,226.0 342.2,221.2 342.4,222.8 342.5,224.0 342.6,222.7 342.7,220.6 342.8,221.6 342.9,224.9" fill="none" stroke="#E24A33" stroke-width="0.9" stroke-linejoin="round"/>
<polyline points="172.4,212.6 172.5,215.3 172.6,213.9 172.7,211.8 172.8,213.1 173.0,215.7 173.1,214.6 173.2,216.4 173.3,211.9 173.4,218.1 173.5,218.4 173.6,214.2 173.7,216.7 173.8,217.9 173.9,219.8 174.1,223.5 174.2,223.7 174.3,224.8 174.4,228.8 174.5,231.4 174.6,230.0 174.7,232.1 174.8,230.7 174.9,235.6 175.0,238.6 175.2,238.1 175.3,239.1 175.4,237.2 175.5,242.0 175.6,241.5 175.7,248.3 175.8,251.2 175.9,252.7 176.0,252.6 176.1,254.6 176.3,254.6 176.4,255.1 176.5,253.2 176.6,251.2 176.7,245.5 176.8,248.7 176.9,247.2 177.0,243.8 177.1,243.6 177.2,242.7 177.4,236.8 177.5,239.7 177.6,236.4 177.7,234.7 177.8,236.2 177.9,234.0 178.0,233.7 178.1,232.1 178.2,231.8 178.3,230.5 178.5,230.9 178.6,230.3 178.7,229.6 178.8,233.4 178.9,232.3 179.0,232.4 179.1,234.2 179.2,232.1 179.3,230.4 179.4,228.7 179.6,231.2 179.7,230.7 179.8,231.7 179.9,229.6 180.0,230.0 180.1,227.1 180.2,231.6 180.3,227.9 180.4,229.6 180.5,230.2 180.7,229.3 180.8,229.3 180.9,228.6 181.0,223.9 181.1,225.8 181.2,226.7 181.3,225.9 181.4,221.5 181.5,224.5 181.6,223.1 181.8,221.4 181.9,220.8 182.0,222.9 182.1,224.6 182.2,222.6 182.3,220.4 182.4,221.9 182.5,222.7 182.6,220.5 182.7,220.1 182.9,221.6 183.0,217.6 183.1,221.9 183.2,219.1 183.3,221.1 183.4,221.9 183.5,220.6 183.6,218.9 183.7,218.7 183.8,220.1 184.0,216.1 184.1,216.4 184.2,218.9 184.3,219.3 184.4,217.5 184.5,216.7 184.6,217.6 184.7,215.2 184.8,218.5 184.9,216.7 185.1,216.6 185.2,211.7 185.3,212.6 185.4,212.3 185.5,210.7 185.6,211.6 185.7,213.8 185.8,210.3 185.9,210.6 186.0,212.8 186.2,210.4 186.3,210.9 186.4,209.9 186.5,209.0 186.6,208.8 186.7,209.0 186.8,207.3 186.9,208.1 187.0,207.0 187.1,206.3 187.3,208.8 187.4,207.0 187.5,202.9 187.6,205.2 187.7,207.8 187.8,208.0 187.9,202.4 188.0,205.6 188.1,206.1 188.2,202.7 188.4,207.9 188.5,210.9 188.6,206.9 188.7,207.9 188.8,211.0 188.9,209.2 189.0,209.7 189.1,210.8 189.2,209.8 189.3,213.3 189.5,211.7 189.6,215.0 189.7,216.7 189.8,218.9 189.9,215.3 190.0,217.3 190.1,217.5 190.2,214.6 190.3,217.8 190.4,217.8 190.6,219.1 190.7,221.4 190.8,219.3 190.9,220.6 191.0,221.2 191.1,222.4 191.2,223.5 191.3,225.8 191.4,220.9 191.5,223.4 191.7,219.6 191.8,220.2 191.9,222.5 192.0,219.1 192.1,221.8 192.2,223.8 192.3,221.5 192.4,221.7 192.5,223.5 192.6,222.7 192.8,224.1 192.9,222.6 193.0,226.3 193.1,225.9 193.2,225.2 193.3,222.0 193.4,224.6 193.5,225.9 193.6,227.1 193.7,225.6 193.9,227.3 194.0,227.5 194.1,226.4 194.2,227.7 194.3,225.9 194.4,224.9 194.5,226.3 194.6,228.1 194.7,226.8 194.8,226.2 195.0,226.5 195.1,225.9 195.2,224.9 195.3,221.0 195.4,219.6 195.5,221.0 195.6,225.5 195.7,224.1 195.8,220.1 195.9,223.4 196.1,220.0 196.2,221.9 196.3,223.5 196.4,221.5 196.5,222.5 196.6,222.5 196.7,218.6 196.8,221.3 196.9,222.0 197.0,221.6 197.2,219.6 197.3,224.0 197.4,222.2 197.5,220.6 197.6,220.4 197.7,221.6 197.8,223.5 197.9,220.6 198.0,222.1 198.1,221.1 198.3,220.6 198.4,220.9 198.5,220.0 198.6,218.2 198.7,217.2 198.8,220.5 198.9,221.5 199.0,220.4 199.1,218.1 199.2,218.9 199.4,219.2 199.5,218.0 199.6,218.8 199.7,219.5 199.8,220.9 199.9,217.7 200.0,220.3 200.1,219.5 200.2,220.7 200.3,220.3 200.5,218.1 200.6,216.6 200.7,216.7 200.8,216.8 200.9,217.1 201.0,217.6 201.1,214.5 201.2,214.5 201.3,213.7 201.4,211.8 201.6,212.2 201.7,211.1 201.8,210.2 201.9,207.0 202.0,208.4 202.1,205.6 202.2,205.0 202.3,205.7 202.4,205.0 202.5,203.5 202.7,202.7 202.8,203.9 202.9,204.3 203.0,207.7 203.1,203.8 203.2,203.5 203.3,208.4 203.4,201.7 203.5,204.9 203.6,208.3 203.8,208.9 203.9,212.7 204.0,215.7 204.1,218.5 204.2,217.9 204.3,220.1 204.4,221.7 204.5,223.5 204.6,226.1 204.7,228.0 204.9,228.4 205.0,231.9 205.1,232.3 205.2,233.8 205.3,236.8 205.4,239.2 205.5,240.0 205.6,241.9 205.7,245.1 205.8,243.9 206.0,248.8 206.1,248.5 206.2,250.4 206.3,253.2 206.4,254.9 206.5,253.2 206.6,258.6 206.7,261.5 206.8,260.5 206.9,262.5 207.1,266.8 207.2,263.5 207.3,266.5 207.4,260.1 207.5,259.4 207.6,258.3 207.7,256.3 207.8,257.0 207.9,254.7 208.0,253.3 208.2,252.4 208.3,247.3 208.4,246.9 208.5,247.4 208.6,242.3 208.7,244.4 208.8,240.2 208.9,236.3 209.0,237.7 209.1,236.1 209.3,232.1 209.4,231.4 209.5,231.2 209.6,230.9 209.7,228.5 209.8,231.3 209.9,233.5 210.0,230.5 210.1,231.5 210.2,231.5 210.4,230.3 210.5,229.2 210.6,229.3 210.7,229.1 210.8,230.5 210.9,229.2 211.0,231.1 211.1,233.2 211.2,230.7 211.3,228.1 211.5,230.7 211.6,229.2 211.7,227.6 211.8,227.3 211.9,227.8 212.0,232.6 212.1,232.8 212.2,229.9 212.3,225.4 212.4,227.9 212.6,229.4 212.7,227.4 212.8,229.2 212.9,229.4 213.0,229.4 213.1,228.3 213.2,227.9 213.3,227.3 213.4,227.2 213.5,227.2 213.7,226.1 213.8,228.1 213.9,227.8 214.0,227.3 214.1,229.2 214.2,225.6 214.3,227.0 214.4,227.5 214.5,225.5 214.6,225.7 214.8,225.6 214.9,223.4 215.0,222.3 215.1,228.4 215.2,223.5 215.3,223.3 215.4,223.8 215.5,224.0 215.6,225.1 215.7,224.7 215.9,222.6 216.0,223.4 216.1,223.2 216.2,222.4 216.3,224.2 216.4,222.7 216.5,223.6 216.6,221.1 216.7,224.8 216.8,222.0 217.0,220.4 217.1,219.3 217.2,218.8 217.3,219.9 217.4,215.5 217.5,216.9 217.6,219.4 217.7,218.7 217.8,215.3 217.9,216.8 218.1,216.2 218.2,214.5 218.3,212.9 218.4,213.8 218.5,211.3 218.6,210.4 218.7,209.5 218.8,206.1 218.9,205.6 219.0,209.5 219.2,203.7 219.3,206.5 219.4,207.3 219.5,207.3 219.6,208.3 219.7,210.2 219.8,210.2 219.9,212.8 220.0,214.2 220.1,215.0 220.3,216.4 220.4,219.8 220.5,219.9 220.6,221.0 220.7,225.6 220.8,225.0 220.9,228.3 221.0,228.2 221.1,229.9 221.2,234.5 221.4,238.2 221.5,235.0 221.6,243.5 221.7,246.4 221.8,248.4 221.9,252.7 222.0,252.0 222.1,255.1 222.2,253.7 222.3,256.4 222.5,257.9 222.6,260.5 222.7,259.7 222.8,263.6 222.9,265.6 223.0,268.2 223.1,264.3 223.2,264.2 223.3,260.4 223.4,259.8 223.6,255.3 223.7,252.4 223.8,250.4 223.9,252.0 224.0,249.5 224.1,245.1 224.2,242.8 224.3,240.4 224.4,236.0 224.5,239.4 224.7,233.0 224.8,229.7 224.9,229.0 225.0,225.5 225.1,227.9 225.2,228.4 225.3,226.5 225.4,226.7 225.5,225.6 225.6,224.3 225.8,225.0 225.9,229.8 226.0,226.5 226.1,225.1 226.2,226.0 226.3,226.5 226.4,228.4 226.5,226.8 226.6,228.9 226.7,229.5 226.9,227.2 227.0,226.8 227.1,228.0 227.2,225.2 227.3,226.4 227.4,225.2 227.5,228.3 227.6,226.0 227.7,227.3 227.8,230.0 228.0,224.8 228.1,226.7 228.2,225.2 228.3,224.6 228.4,227.3 228.5,223.5 228.6,227.4 228.7,228.0 228.8,228.9 228.9,224.5 229.1,225.3 229.2,228.6 229.3,223.8 229.4,226.9 229.5,228.0 229.6,223.8 229.7,224.7 229.8,227.0 229.9,223.1 230.0,226.6 230.2,227.2 230.3,225.5 230.4,225.1 230.5,225.3 230.6,224.4 230.7,227.1 230.8,227.4 230.9,226.3 231.0,227.3 231.1,224.7 231.3,224.7 231.4,222.6 231.5,224.1 231.6,225.7 231.7,224.2 231.8,222.4 231.9,222.2 232.0,221.3 232.1,224.3 232.2,220.2 232.4,223.8 232.5,222.5 232.6,219.4 232.7,221.8 232.8,220.6 232.9,218.8 233.0,221.8 233.1,216.5 233.2,216.6 233.3,217.2 233.5,217.4 233.6,215.7 233.7,217.7 233.8,214.6 233.9,216.0 234.0,215.0 234.1,214.5 234.2,212.1 234.3,212.2 234.4,209.2 234.6,207.8 234.7,209.1 234.8,209.4 234.9,206.2 235.0,208.6 235.1,210.4 235.2,206.7 235.3,206.0 235.4,204.9 235.5,203.5 235.7,207.1 235.8,208.7 235.9,207.3 236.0,210.0 236.1,209.7 236.2,213.9 236.3,214.0 236.4,215.3 236.5,217.2 236.6,218.1 236.8,223.5 236.9,223.0 237.0,227.8 237.1,231.4 237.2,234.1 237.3,235.0 237.4,240.0 237.5,240.0 237.6,243.6 237.7,244.8 237.9,247.0 238.0,251.0 238.1,251.5 238.2,251.8 238.3,254.8 238.4,256.5 238.5,256.4 238.6,257.7 238.7,256.9 238.8,259.2 239.0,257.8 239.1,260.6 239.2,259.8 239.3,262.9 239.4,262.2 239.5,259.1 239.6,254.7 239.7,257.4 239.8,252.2 239.9,248.6 240.1,253.1 240.2,247.5 240.3,247.5 240.4,245.4 240.5,246.7 240.6,245.8 240.7,239.6 240.8,241.9 240.9,238.1 241.0,238.2 241.2,237.2 241.3,235.8 241.4,233.0 241.5,234.3 241.6,233.9 241.7,233.1 241.8,234.4 241.9,230.9 242.0,229.4 242.1,230.3 242.3,226.6 242.4,228.9 242.5,228.2 242.6,228.9 242.7,228.5 242.8,229.3 242.9,231.3 243.0,228.2 243.1,228.8 243.2,230.3 243.4,230.3 243.5,231.9 243.6,229.9 243.7,231.9 243.8,229.5 243.9,227.2 244.0,228.5 244.1,231.2 244.2,226.7 244.3,227.3 244.5,226.2 244.6,228.6 244.7,231.1 244.8,230.9 244.9,228.9 245.0,227.1 245.1,228.5 245.2,227.5 245.3,228.8 245.4,227.9 245.6,228.6 245.7,226.3 245.8,226.5 245.9,225.9 246.0,225.0 246.1,226.3 246.2,222.7 246.3,223.8 246.4,222.1 246.5,225.6 246.7,227.4 246.8,226.7 246.9,228.7 247.0,226.7 247.1,224.2 247.2,224.9 247.3,224.3 247.4,224.2 247.5,225.4 247.6,221.9 247.8,221.7 247.9,222.0 248.0,224.4 248.1,221.1 248.2,224.0 248.3,223.0 248.4,219.3 248.5,218.2 248.6,219.0 248.7,216.3 248.9,220.8 249.0,218.7 249.1,220.4 249.2,217.7 249.3,218.7 249.4,218.0 249.5,219.5 249.6,215.2 249.7,217.7 249.8,215.6 250.0,214.9 250.1,211.8 250.2,213.3 250.3,212.1 250.4,213.6 250.5,211.5 250.6,210.5 250.7,211.9 250.8,210.5 250.9,208.5 251.1,209.5 251.2,209.8 251.3,207.9 251.4,206.7 251.5,208.7 251.6,206.7 251.7,205.0 251.8,211.5 251.9,213.3 252.0,213.9 252.2,215.7 252.3,213.7 252.4,216.5 252.5,220.7 252.6,222.0 252.7,222.5 252.8,221.5 252.9,224.0 253.0,226.9 253.1,230.2 253.3,234.0 253.4,230.6 253.5,234.7 253.6,235.1 253.7,240.0 253.8,241.1 253.9,243.1 254.0,244.0 254.1,244.4 254.2,245.4 254.4,248.6 254.5,252.2 254.6,255.5 254.7,256.2 254.8,256.0 254.9,261.1 255.0,260.1 255.1,261.0 255.2,261.1 255.3,260.1 255.5,259.8 255.6,261.6 255.7,262.3 255.8,262.8 255.9,260.6 256.0,261.4 256.1,256.6 256.2,258.1 256.3,253.2 256.4,249.3 256.6,249.0 256.7,245.1 256.8,241.4 256.9,242.7 257.0,235.9 257.1,235.8 257.2,232.8 257.3,234.1 257.4,234.4 257.5,231.9 257.7,231.2 257.8,234.0 257.9,231.9 258.0,232.5 258.1,232.0 258.2,233.3 258.3,232.2 258.4,229.6 258.5,231.8 258.6,229.0 258.8,228.9 258.9,229.6 259.0,230.5 259.1,227.5 259.2,228.2 259.3,228.3 259.4,228.3 259.5,226.8 259.6,224.4 259.7,227.0 259.9,229.7 260.0,227.2 260.1,227.0 260.2,227.7 260.3,229.8 260.4,228.5 260.5,228.6 260.6,229.4 260.7,230.0 260.8,228.5 261.0,228.0 261.1,224.9 261.2,225.0 261.3,226.8 261.4,225.7 261.5,225.4 261.6,226.2 261.7,226.9 261.8,229.2 261.9,223.2 262.1,224.7 262.2,227.6 262.3,222.5 262.4,225.1 262.5,222.3 262.6,225.5 262.7,222.8 262.8,225.0 262.9,224.1 263.0,222.3 263.2,221.3 263.3,220.8 263.4,221.9 263.5,222.7 263.6,223.5 263.7,220.6 263.8,223.7 263.9,221.0 264.0,218.9 264.1,218.7 264.3,217.3 264.4,214.8 264.5,216.0 264.6,216.2 264.7,218.0 264.8,216.8 264.9,213.7 265.0,214.6 265.1,211.7 265.2,215.3 265.4,215.9 265.5,212.1 265.6,209.9 265.7,212.0 265.8,210.7 265.9,210.7 266.0,209.3 266.1,207.6 266.2,208.7 266.3,208.8 266.5,207.4 266.6,206.5 266.7,206.0 266.8,207.3 266.9,208.4 267.0,206.8 267.1,205.5 267.2,208.4 267.3,206.9 267.4,207.7 267.6,210.3 267.7,211.5 267.8,208.0 267.9,211.2 268.0,213.9 268.1,212.9 268.2,213.8 268.3,217.8 268.4,219.5 268.5,220.8 268.7,223.5 268.8,223.9 268.9,227.5 269.0,229.6 269.1,233.7 269.2,231.6 269.3,237.8 269.4,236.6 269.5,239.9 269.6,245.2 269.8,247.9 269.9,250.4 270.0,251.8 270.1,253.1 270.2,253.3 270.3,256.2 270.4,258.9 270.5,254.7 270.6,258.0 270.7,258.9 270.9,258.9 271.0,263.0 271.1,262.4 271.2,256.0 271.3,254.3 271.4,255.9 271.5,254.3 271.6,254.5 271.7,250.0 271.8,249.1 272.0,243.5 272.1,240.2 272.2,241.1 272.3,239.0 272.4,238.0 272.5,233.3 272.6,236.5 272.7,236.2 272.8,236.3 272.9,235.5 273.1,236.2 273.2,232.8 273.3,231.9 273.4,232.8 273.5,233.1 273.6,230.7 273.7,229.1 273.8,229.5 273.9,229.1 274.0,228.6 274.2,230.7 274.3,228.9 274.4,229.9 274.5,228.3 274.6,230.5 274.7,229.2 274.8,232.0 274.9,230.8 275.0,230.8 275.1,229.0 275.3,228.8 275.4,229.1 275.5,229.6 275.6,228.3 275.7,230.1 275.8,230.5 275.9,228.9 276.0,231.7 276.1,230.3 276.2,227.7 276.4,229.6 276.5,230.5 276.6,229.3 276.7,230.0 276.8,227.9 276.9,228.7 277.0,227.7 277.1,227.8 277.2,226.6 277.3,225.6 277.5,226.7 277.6,226.9 277.7,225.9 277.8,225.5 277.9,223.7 278.0,227.6 278.1,223.4 278.2,229.1 278.3,224.3 278.4,226.0 278.6,223.6 278.7,225.1 278.8,224.9 278.9,224.1 279.0,222.9 279.1,223.6 279.2,222.0 279.3,226.3 279.4,222.6 279.5,226.3 279.7,222.0 279.8,219.4 279.9,224.1 280.0,222.3 280.1,218.6 280.2,217.1 280.3,216.4 280.4,217.9 280.5,214.2 280.6,213.7 280.8,215.3 280.9,216.7 281.0,212.9 281.1,213.2 281.2,211.7 281.3,213.9 281.4,210.5 281.5,210.4 281.6,209.9 281.7,209.6 281.9,209.6 282.0,206.9 282.1,208.5 282.2,208.6 282.3,209.1 282.4,210.9 282.5,210.3 282.6,208.1 282.7,208.7 282.8,206.0 283.0,209.6 283.1,207.9 283.2,210.1 283.3,211.7 283.4,211.7 283.5,214.6 283.6,216.6 283.7,217.5 283.8,218.6 283.9,215.0 284.1,220.2 284.2,222.9 284.3,223.9 284.4,219.1 284.5,226.1 284.6,227.6 284.7,225.7 284.8,226.6 284.9,228.9 285.0,227.7 285.2,229.0 285.3,230.0 285.4,235.2 285.5,235.4 285.6,234.9 285.7,235.9 285.8,240.1 285.9,240.5 286.0,241.9 286.1,242.9 286.3,243.3 286.4,243.8 286.5,246.5 286.6,243.7 286.7,244.6 286.8,247.2 286.9,245.8 287.0,247.2 287.1,250.1 287.2,250.4 287.4,251.2 287.5,251.3 287.6,252.3 287.7,250.2 287.8,251.8 287.9,248.4 288.0,248.0 288.1,249.1 288.2,246.9 288.3,247.9 288.5,245.2 288.6,247.0 288.7,246.2 288.8,246.4 288.9,243.2 289.0,240.5 289.1,243.9 289.2,244.3 289.3,240.0 289.4,239.2 289.6,237.4 289.7,241.3 289.8,237.8 289.9,239.6 290.0,238.6 290.1,236.8 290.2,237.2 290.3,236.9 290.4,238.3 290.5,238.6 290.7,237.7 290.8,232.4 290.9,232.7 291.0,233.4 291.1,234.4 291.2,234.9 291.3,230.1 291.4,233.1 291.5,233.3 291.6,232.3 291.8,231.4 291.9,228.4 292.0,233.5 292.1,231.6 292.2,229.9 292.3,230.0 292.4,232.6 292.5,232.3 292.6,230.2 292.7,228.1 292.9,230.9 293.0,228.2 293.1,228.5 293.2,227.1 293.3,225.3 293.4,228.7 293.5,223.8 293.6,227.8 293.7,223.6 293.8,224.2 294.0,224.8 294.1,225.3 294.2,223.4 294.3,227.0 294.4,223.8 294.5,225.6 294.6,224.2 294.7,222.5 294.8,220.5 294.9,221.5 295.1,220.8 295.2,218.6 295.3,219.1 295.4,220.5 295.5,220.3 295.6,218.3 295.7,218.0 295.8,217.4 295.9,217.0 296.0,219.5 296.2,217.9 296.3,216.8 296.4,219.3 296.5,218.1 296.6,213.7 296.7,212.6 296.8,216.2 296.9,215.9 297.0,217.5 297.1,213.9 297.3,215.9 297.4,215.6 297.5,212.3 297.6,216.8 297.7,211.5 297.8,211.7 297.9,210.6 298.0,210.2 298.1,209.3 298.2,209.1 298.4,209.9 298.5,205.2 298.6,206.4 298.7,206.1 298.8,205.3 298.9,203.9 299.0,206.5 299.1,204.0 299.2,204.7 299.3,204.9 299.5,209.3 299.6,209.5 299.7,206.8 299.8,207.9 299.9,209.0 300.0,213.4 300.1,212.7 300.2,214.5 300.3,212.8 300.4,214.9 300.6,216.3 300.7,218.5 300.8,215.2 300.9,212.5 301.0,216.2 301.1,217.9 301.2,218.9 301.3,213.3 301.4,217.2 301.5,217.3 301.7,217.4 301.8,216.7 301.9,218.6 302.0,218.6 302.1,222.0 302.2,219.3 302.3,223.3 302.4,221.4 302.5,220.3 302.6,223.4 302.8,222.3 302.9,223.5 303.0,222.5 303.1,221.5 303.2,222.5 303.3,225.8 303.4,222.1 303.5,224.7 303.6,225.8 303.7,226.1 303.9,227.5 304.0,223.4 304.1,226.3 304.2,226.6 304.3,221.6 304.4,224.9 304.5,223.4 304.6,222.9 304.7,225.2 304.8,225.0 305.0,226.3 305.1,225.3 305.2,222.8 305.3,224.7 305.4,227.0 305.5,227.7 305.6,225.2 305.7,227.0 305.8,224.6 305.9,227.4 306.1,225.5 306.2,225.5 306.3,220.9 306.4,224.5 306.5,225.5 306.6,224.4 306.7,225.3 306.8,227.8 306.9,226.5 307.0,227.6 307.2,224.7 307.3,230.2 307.4,226.3 307.5,226.5 307.6,229.8 307.7,229.0 307.8,227.8 307.9,231.2 308.0,230.7 308.1,233.0 308.3,233.2 308.4,236.2 308.5,234.5 308.6,238.5 308.7,245.0 308.8,242.8 308.9,239.1 309.0,237.1 309.1,234.3 309.2,234.3 309.4,228.3 309.5,229.6 309.6,228.2 309.7,226.5 309.8,227.6 309.9,222.5 310.0,228.5 310.1,225.3 310.2,226.4 310.3,223.3 310.5,224.6 310.6,224.2 310.7,225.0 310.8,221.4 310.9,226.4 311.0,223.3 311.1,225.0 311.2,222.7 311.3,221.9 311.4,221.0 311.6,222.6 311.7,222.1 311.8,219.3 311.9,219.8 312.0,220.9 312.1,217.6 312.2,219.6 312.3,217.7 312.4,220.6 312.5,219.6 312.7,219.4 312.8,218.0 312.9,220.0 313.0,218.4 313.1,221.3 313.2,217.8 313.3,219.1 313.4,218.0 313.5,221.0 313.6,219.8 313.8,219.5 313.9,215.7 314.0,215.9 314.1,213.5 314.2,213.5 314.3,215.7 314.4,211.2 314.5,212.5 314.6,212.6 314.7,212.0 314.9,212.6 315.0,206.1 315.1,209.5 315.2,210.3 315.3,206.2 315.4,209.2 315.5,209.7 315.6,209.6 315.7,212.3 315.8,211.0 316.0,212.4 316.1,214.6 316.2,214.5 316.3,217.2 316.4,220.6 316.5,224.7 316.6,225.2 316.7,228.4 316.8,228.7 316.9,237.1 317.1,236.3 317.2,239.8 317.3,243.1 317.4,244.6 317.5,245.1 317.6,247.4 317.7,254.0 317.8,252.1 317.9,258.8 318.0,261.3 318.2,257.9 318.3,259.0 318.4,260.6 318.5,261.1 318.6,260.9 318.7,265.2 318.8,260.4 318.9,263.4 319.0,266.0 319.1,259.7 319.3,256.3 319.4,258.2 319.5,251.5 319.6,251.9 319.7,245.6 319.8,245.5 319.9,239.5 320.0,239.5 320.1,238.0 320.2,238.2 320.4,238.0 320.5,236.6 320.6,232.2 320.7,229.2 320.8,224.9 320.9,231.0 321.0,230.2 321.1,229.5 321.2,231.6 321.3,231.3 321.5,233.0 321.6,232.7 321.7,233.1 321.8,230.0 321.9,228.4 322.0,228.2 322.1,229.7 322.2,229.7 322.3,226.5 322.4,228.4 322.6,229.4 322.7,231.7 322.8,229.0 322.9,228.1 323.0,227.8 323.1,231.4 323.2,226.5 323.3,230.4 323.4,226.4 323.5,227.8 323.7,230.1 323.8,227.8 323.9,227.7 324.0,225.7 324.1,224.5 324.2,229.2 324.3,227.0 324.4,228.3 324.5,226.5 324.6,226.9 324.8,227.3 324.9,227.5 325.0,225.0 325.1,226.0 325.2,226.3 325.3,224.6 325.4,226.4 325.5,225.8 325.6,227.1 325.7,226.3 325.9,222.9 326.0,223.9 326.1,226.2 326.2,228.8 326.3,221.8 326.4,219.4 326.5,222.5 326.6,225.1 326.7,220.6 326.8,220.8 327.0,221.4 327.1,224.1 327.2,219.1 327.3,223.6 327.4,222.1 327.5,221.6 327.6,221.4 327.7,223.1 327.8,221.9 327.9,217.2 328.1,217.8 328.2,218.1 328.3,214.6 328.4,217.7 328.5,216.7 328.6,213.8 328.7,211.7 328.8,211.4 328.9,211.8 329.0,213.9 329.2,212.1 329.3,210.7 329.4,211.2 329.5,210.6 329.6,209.5 329.7,209.4 329.8,209.4 329.9,206.9 330.0,206.5 330.1,207.6 330.3,208.4 330.4,205.9 330.5,207.9 330.6,208.2 330.7,207.3 330.8,210.8 330.9,208.1 331.0,205.0 331.1,210.0 331.2,208.6 331.4,205.4 331.5,212.4 331.6,213.7 331.7,214.5 331.8,218.5 331.9,217.9 332.0,223.0 332.1,222.9 332.2,227.4 332.3,228.8 332.5,231.8 332.6,234.9 332.7,234.9 332.8,239.7 332.9,240.2 333.0,242.8 333.1,241.2 333.2,247.3 333.3,246.3 333.4,247.7 333.6,249.7 333.7,253.1 333.8,252.8 333.9,253.2 334.0,255.2 334.1,253.6 334.2,255.7 334.3,258.1 334.4,257.9 334.5,257.3 334.7,262.7 334.8,259.9 334.9,254.9 335.0,254.1 335.1,258.3 335.2,250.0 335.3,245.4 335.4,241.7 335.5,239.9 335.6,240.4 335.8,240.4 335.9,239.8 336.0,237.9 336.1,236.8 336.2,235.9 336.3,234.7 336.4,234.2 336.5,231.1 336.6,232.0 336.7,225.5 336.9,226.1 337.0,230.6 337.1,229.9 337.2,227.3 337.3,232.2 337.4,233.2 337.5,230.3 337.6,231.3 337.7,229.3 337.8,227.7 338.0,228.9 338.1,228.0 338.2,230.3 338.3,229.6 338.4,228.7 338.5,228.4 338.6,230.9 338.7,226.8 338.8,228.5 338.9,230.6 339.1,228.8 339.2,228.4 339.3,227.3 339.4,226.4 339.5,226.2 339.6,228.6 339.7,226.3 339.8,229.3 339.9,228.3 340.0,227.8 340.2,229.2 340.3,227.7 340.4,230.5 340.5,227.2 340.6,228.9 340.7,227.4 340.8,228.3 340.9,226.5 341.0,227.6 341.1,226.2 341.3,229.8 341.4,228.3 341.5,229.4 341.6,228.4 341.7,228.3 341.8,228.6 341.9,226.6 342.0,226.4 342.1,224.0 342.2,224.4 342.4,226.2 342.5,222.4 342.6,220.6 342.7,224.4 342.8,226.7 342.9,223.3" fill="none" stroke="#348ABD" stroke-width="1.15" stroke-linejoin="round"/>
<line x1="170.4" x2="172" y1="201" y2="201" stroke="#666" stroke-width="0.5"/>
<text class="tk" transform="translate(167.8,203.8) scale(0.82,1)" text-anchor="end">40</text>
<line x1="170.4" x2="172" y1="225.7" y2="225.7" stroke="#666" stroke-width="0.5"/>
<text class="tk" transform="translate(167.8,228.5) scale(0.82,1)" text-anchor="end">30</text>
<line x1="170.4" x2="172" y1="250.4" y2="250.4" stroke="#666" stroke-width="0.5"/>
<text class="tk" transform="translate(167.8,253.2) scale(0.82,1)" text-anchor="end">20</text>
<line x1="170.4" x2="172" y1="275.1" y2="275.1" stroke="#666" stroke-width="0.5"/>
<text class="tk" transform="translate(167.8,277.9) scale(0.82,1)" text-anchor="end">10</text>
<line x1="172.1" x2="172.1" y1="281.5" y2="283.1" stroke="#666" stroke-width="0.5"/>
<text class="tk" transform="translate(172.1,289.9) scale(0.82,1)" text-anchor="middle">0</text>
<line x1="204.1" x2="204.1" y1="281.5" y2="283.1" stroke="#666" stroke-width="0.5"/>
<text class="tk" transform="translate(204.1,289.9) scale(0.82,1)" text-anchor="middle">500</text>
<line x1="235.9" x2="235.9" y1="281.5" y2="283.1" stroke="#666" stroke-width="0.5"/>
<text class="tk" transform="translate(235.9,289.9) scale(0.82,1)" text-anchor="middle">1000</text>
<line x1="267.7" x2="267.7" y1="281.5" y2="283.1" stroke="#666" stroke-width="0.5"/>
<text class="tk" transform="translate(267.7,289.9) scale(0.82,1)" text-anchor="middle">1500</text>
<line x1="299.5" x2="299.5" y1="281.5" y2="283.1" stroke="#666" stroke-width="0.5"/>
<text class="tk" transform="translate(299.5,289.9) scale(0.82,1)" text-anchor="middle">2000</text>
<line x1="331.3" x2="331.3" y1="281.5" y2="283.1" stroke="#666" stroke-width="0.5"/>
<text class="tk" transform="translate(331.3,289.9) scale(0.82,1)" text-anchor="middle">2500</text>
<text class="tt" x="194.0" y="179.6" textLength="43.4" lengthAdjust="spacingAndGlyphs">Northbound (</text>
<text class="tt tm" x="237.6" y="179.6" textLength="89.2" lengthAdjust="spacingAndGlyphs">100%<tspan dx="4.8">−</tspan><tspan dx="2.6" class="mi">MAPE</tspan><tspan dx="0.6">:</tspan><tspan dx="1.3">92.4%)</tspan></text>
<text class="al" transform="translate(156.8,237.1) rotate(-90)" text-anchor="middle">Speed</text>
<text class="al" x="253.3" y="299.8" text-anchor="middle">Time</text></g>
<g id="plot2b"><rect x="370" y="184.9" width="173.5" height="97.2" fill="#E5E5E5"/>
<line x1="370" x2="543.5" y1="198.2" y2="198.2" stroke="#fff" stroke-width="0.5" opacity="0.7"/>
<line x1="370" x2="543.5" y1="216.8" y2="216.8" stroke="#fff" stroke-width="0.5" opacity="0.7"/>
<line x1="370" x2="543.5" y1="235.4" y2="235.4" stroke="#fff" stroke-width="0.5" opacity="0.7"/>
<line x1="370" x2="543.5" y1="254" y2="254" stroke="#fff" stroke-width="0.5" opacity="0.7"/>
<line x1="370" x2="543.5" y1="272.6" y2="272.6" stroke="#fff" stroke-width="0.5" opacity="0.7"/>
<line x1="369.4" x2="369.4" y1="184.9" y2="282.1" stroke="#fff" stroke-width="0.5" opacity="0.7"/>
<line x1="401.5" x2="401.5" y1="184.9" y2="282.1" stroke="#fff" stroke-width="0.5" opacity="0.7"/>
<line x1="433.7" x2="433.7" y1="184.9" y2="282.1" stroke="#fff" stroke-width="0.5" opacity="0.7"/>
<line x1="465.8" x2="465.8" y1="184.9" y2="282.1" stroke="#fff" stroke-width="0.5" opacity="0.7"/>
<line x1="498" x2="498" y1="184.9" y2="282.1" stroke="#fff" stroke-width="0.5" opacity="0.7"/>
<line x1="530.1" x2="530.1" y1="184.9" y2="282.1" stroke="#fff" stroke-width="0.5" opacity="0.7"/>
<polyline points="370.4,202.8 370.5,202.5 370.6,202.0 370.7,206.9 370.8,206.1 371.0,208.7 371.1,212.4 371.2,213.7 371.3,217.0 371.4,219.0 371.5,218.4 371.6,217.7 371.7,218.1 371.8,219.1 371.9,211.7 372.1,224.0 372.2,218.2 372.3,226.5 372.4,224.1 372.5,224.0 372.6,224.1 372.7,224.4 372.8,229.3 372.9,222.5 373.0,225.2 373.2,222.9 373.3,223.1 373.4,225.3 373.5,232.4 373.6,230.3 373.7,226.9 373.8,226.3 373.9,229.8 374.0,223.9 374.1,225.9 374.3,223.5 374.4,224.8 374.5,222.5 374.6,224.4 374.7,225.9 374.8,225.9 374.9,223.7 375.0,228.4 375.1,230.8 375.2,227.9 375.4,229.2 375.5,225.5 375.6,223.0 375.7,226.6 375.8,230.8 375.9,233.5 376.0,232.5 376.1,237.2 376.2,230.8 376.3,233.5 376.5,231.5 376.6,237.6 376.7,229.3 376.8,235.5 376.9,236.4 377.0,235.1 377.1,235.8 377.2,240.1 377.3,237.3 377.4,239.5 377.6,235.8 377.7,236.2 377.8,235.8 377.9,233.6 378.0,239.5 378.1,240.4 378.2,237.7 378.3,238.2 378.4,239.2 378.5,240.6 378.7,247.1 378.8,242.2 378.9,244.1 379.0,253.1 379.1,250.2 379.2,257.4 379.3,257.8 379.4,256.9 379.5,257.9 379.6,259.7 379.8,258.2 379.9,261.8 380.0,258.6 380.1,259.4 380.2,258.9 380.3,258.6 380.4,260.7 380.5,255.5 380.6,257.9 380.7,258.5 380.9,253.1 381.0,263.5 381.1,255.1 381.2,253.9 381.3,250.4 381.4,250.3 381.5,250.9 381.6,249.7 381.7,249.2 381.8,245.5 382.0,243.1 382.1,238.6 382.2,244.7 382.3,243.5 382.4,240.9 382.5,243.5 382.6,231.5 382.7,238.4 382.8,238.9 382.9,236.9 383.1,229.0 383.2,230.4 383.3,235.7 383.4,226.8 383.5,226.2 383.6,225.9 383.7,222.6 383.8,218.6 383.9,225.2 384.0,217.4 384.2,218.8 384.3,223.2 384.4,221.4 384.5,219.4 384.6,212.8 384.7,213.4 384.8,212.6 384.9,212.0 385.0,215.1 385.1,211.3 385.3,206.8 385.4,204.2 385.5,205.4 385.6,203.7 385.7,202.8 385.8,203.7 385.9,205.3 386.0,207.1 386.1,208.2 386.2,205.6 386.4,204.3 386.5,211.6 386.6,204.6 386.7,212.8 386.8,218.1 386.9,212.7 387.0,217.1 387.1,214.9 387.2,216.0 387.3,219.0 387.5,218.2 387.6,220.9 387.7,214.7 387.8,214.8 387.9,222.7 388.0,216.3 388.1,219.7 388.2,225.0 388.3,225.9 388.4,222.0 388.6,223.5 388.7,221.3 388.8,221.9 388.9,227.4 389.0,225.2 389.1,221.9 389.2,223.4 389.3,218.8 389.4,222.0 389.5,211.8 389.7,210.5 389.8,201.7 389.9,193.5 390.0,189.8 390.1,194.1 390.2,200.9 390.3,201.4 390.4,213.1 390.5,218.2 390.6,220.1 390.8,219.0 390.9,220.3 391.0,219.3 391.1,222.0 391.2,225.2 391.3,228.3 391.4,230.0 391.5,222.7 391.6,215.9 391.7,219.8 391.9,219.5 392.0,224.9 392.1,220.6 392.2,221.0 392.3,217.3 392.4,219.0 392.5,220.6 392.6,224.6 392.7,225.4 392.8,216.9 393.0,222.3 393.1,226.3 393.2,227.6 393.3,225.8 393.4,226.5 393.5,224.3 393.6,224.6 393.7,228.7 393.8,228.0 393.9,227.8 394.1,232.8 394.2,233.1 394.3,229.8 394.4,231.3 394.5,240.5 394.6,237.5 394.7,236.1 394.8,240.1 394.9,241.1 395.0,236.6 395.2,237.6 395.3,241.4 395.4,241.7 395.5,239.7 395.6,239.7 395.7,236.2 395.8,235.4 395.9,236.2 396.0,235.0 396.1,233.7 396.3,233.5 396.4,229.6 396.5,230.5 396.6,227.9 396.7,229.5 396.8,231.0 396.9,227.7 397.0,229.4 397.1,229.6 397.2,227.3 397.4,223.0 397.5,225.8 397.6,223.4 397.7,225.3 397.8,221.0 397.9,225.5 398.0,219.6 398.1,218.8 398.2,227.8 398.3,224.8 398.5,223.4 398.6,221.7 398.7,223.0 398.8,222.9 398.9,231.2 399.0,230.1 399.1,223.4 399.2,227.0 399.3,230.4 399.4,229.3 399.6,226.3 399.7,229.4 399.8,228.6 399.9,229.8 400.0,227.4 400.1,229.7 400.2,223.0 400.3,221.4 400.4,222.3 400.5,215.8 400.7,220.9 400.8,215.5 400.9,211.4 401.0,211.3 401.1,208.1 401.2,207.0 401.3,203.2 401.4,202.2 401.5,201.7 401.6,202.1 401.8,205.4 401.9,204.5 402.0,203.3 402.1,205.2 402.2,208.5 402.3,209.5 402.4,211.1 402.5,209.4 402.6,207.8 402.7,207.7 402.9,213.3 403.0,212.0 403.1,211.9 403.2,214.9 403.3,215.8 403.4,211.5 403.5,220.5 403.6,211.9 403.7,220.7 403.8,220.3 404.0,215.8 404.1,219.1 404.2,218.6 404.3,224.4 404.4,221.4 404.5,221.9 404.6,222.5 404.7,220.6 404.8,228.2 404.9,234.4 405.1,239.7 405.2,246.1 405.3,249.6 405.4,245.6 405.5,242.4 405.6,237.1 405.7,227.6 405.8,222.9 405.9,226.6 406.0,227.3 406.2,227.2 406.3,226.3 406.4,225.5 406.5,226.9 406.6,227.0 406.7,225.8 406.8,224.2 406.9,227.7 407.0,228.8 407.1,224.2 407.3,227.5 407.4,227.4 407.5,221.2 407.6,226.0 407.7,221.6 407.8,223.9 407.9,227.9 408.0,224.3 408.1,227.5 408.2,218.8 408.4,222.9 408.5,224.0 408.6,229.2 408.7,225.3 408.8,221.3 408.9,223.8 409.0,224.9 409.1,220.5 409.2,220.6 409.3,218.2 409.5,217.4 409.6,217.0 409.7,217.5 409.8,219.8 409.9,218.1 410.0,220.6 410.1,223.3 410.2,221.8 410.3,224.5 410.4,230.9 410.6,226.3 410.7,225.7 410.8,228.8 410.9,231.5 411.0,238.8 411.1,234.6 411.2,239.1 411.3,236.1 411.4,240.6 411.5,233.5 411.7,238.8 411.8,236.5 411.9,237.2 412.0,235.8 412.1,237.9 412.2,243.5 412.3,243.9 412.4,246.3 412.5,248.3 412.6,247.3 412.8,249.6 412.9,252.2 413.0,257.2 413.1,257.9 413.2,255.8 413.3,255.7 413.4,261.6 413.5,256.6 413.6,263.2 413.7,261.6 413.9,259.6 414.0,263.3 414.1,264.5 414.2,265.1 414.3,263.7 414.4,267.5 414.5,268.2 414.6,264.8 414.7,268.9 414.8,266.3 415.0,263.7 415.1,263.0 415.2,266.6 415.3,270.2 415.4,263.7 415.5,264.4 415.6,263.7 415.7,253.3 415.8,249.9 415.9,250.4 416.1,253.1 416.2,240.4 416.3,242.2 416.4,242.7 416.5,235.3 416.6,235.7 416.7,228.1 416.8,229.5 416.9,224.8 417.0,222.7 417.2,225.1 417.3,216.8 417.4,216.0 417.5,209.0 417.6,207.0 417.7,202.0 417.8,200.7 417.9,201.9 418.0,205.3 418.1,205.5 418.3,207.2 418.4,209.8 418.5,208.1 418.6,209.4 418.7,211.3 418.8,209.9 418.9,216.5 419.0,208.4 419.1,210.8 419.2,218.0 419.4,211.7 419.5,214.5 419.6,214.0 419.7,218.7 419.8,219.2 419.9,215.6 420.0,212.1 420.1,220.1 420.2,216.6 420.3,213.9 420.5,218.9 420.6,221.0 420.7,226.6 420.8,225.1 420.9,227.3 421.0,230.3 421.1,225.0 421.2,227.6 421.3,235.0 421.4,231.1 421.6,222.5 421.7,228.6 421.8,228.8 421.9,229.3 422.0,222.5 422.1,228.4 422.2,223.0 422.3,229.6 422.4,228.0 422.5,228.2 422.7,229.5 422.8,223.3 422.9,218.9 423.0,219.5 423.1,224.2 423.2,227.0 423.3,217.4 423.4,219.3 423.5,224.2 423.6,219.2 423.8,222.8 423.9,229.3 424.0,227.5 424.1,224.3 424.2,228.7 424.3,229.2 424.4,229.6 424.5,227.4 424.6,225.6 424.7,225.7 424.9,227.7 425.0,228.5 425.1,229.1 425.2,228.4 425.3,232.4 425.4,232.2 425.5,238.8 425.6,236.2 425.7,233.9 425.8,232.1 426.0,238.1 426.1,232.7 426.2,232.7 426.3,234.3 426.4,242.8 426.5,241.3 426.6,236.5 426.7,244.5 426.8,245.1 426.9,243.1 427.1,243.4 427.2,246.6 427.3,251.4 427.4,252.4 427.5,257.7 427.6,255.3 427.7,260.1 427.8,259.0 427.9,263.2 428.0,263.6 428.2,262.3 428.3,269.6 428.4,265.5 428.5,270.1 428.6,270.2 428.7,268.6 428.8,273.1 428.9,273.4 429.0,266.9 429.1,273.5 429.3,270.0 429.4,272.7 429.5,270.5 429.6,267.4 429.7,266.5 429.8,266.5 429.9,271.1 430.0,270.9 430.1,268.1 430.2,266.1 430.4,262.7 430.5,264.4 430.6,262.7 430.7,269.0 430.8,262.1 430.9,265.0 431.0,260.4 431.1,264.8 431.2,257.3 431.3,264.1 431.5,262.7 431.6,260.8 431.7,258.3 431.8,255.9 431.9,254.7 432.0,254.1 432.1,250.2 432.2,247.4 432.3,240.2 432.4,237.2 432.6,234.9 432.7,229.3 432.8,224.9 432.9,222.0 433.0,222.4 433.1,222.6 433.2,221.6 433.3,221.6 433.4,222.5 433.5,216.8 433.7,220.9 433.8,217.1 433.9,219.6 434.0,217.2 434.1,214.7 434.2,206.0 434.3,206.1 434.4,204.1 434.5,202.8 434.6,204.2 434.8,208.8 434.9,207.2 435.0,213.3 435.1,212.4 435.2,213.4 435.3,217.4 435.4,214.7 435.5,218.6 435.6,208.1 435.7,218.8 435.9,207.5 436.0,213.1 436.1,213.2 436.2,217.7 436.3,217.1 436.4,209.1 436.5,217.5 436.6,221.2 436.7,223.8 436.8,220.3 437.0,220.3 437.1,221.9 437.2,228.7 437.3,217.6 437.4,215.2 437.5,226.5 437.6,221.8 437.7,219.8 437.8,223.6 437.9,226.0 438.1,224.2 438.2,226.3 438.3,218.4 438.4,218.6 438.5,220.9 438.6,225.2 438.7,218.3 438.8,224.7 438.9,225.6 439.0,224.0 439.2,221.3 439.3,219.4 439.4,225.8 439.5,223.6 439.6,225.7 439.7,221.5 439.8,220.5 439.9,221.7 440.0,222.3 440.1,228.0 440.3,222.1 440.4,221.7 440.5,222.5 440.6,221.8 440.7,226.8 440.8,224.9 440.9,224.0 441.0,220.2 441.1,223.4 441.2,217.3 441.4,220.7 441.5,226.5 441.6,217.6 441.7,226.3 441.8,221.9 441.9,228.7 442.0,223.8 442.1,229.4 442.2,222.9 442.3,229.4 442.5,224.8 442.6,225.4 442.7,223.2 442.8,230.1 442.9,224.9 443.0,228.8 443.1,229.0 443.2,230.0 443.3,232.2 443.4,236.5 443.6,236.1 443.7,238.0 443.8,236.0 443.9,238.8 444.0,245.7 444.1,239.8 444.2,243.0 444.3,245.7 444.4,244.9 444.5,249.0 444.7,251.5 444.8,254.9 444.9,253.6 445.0,257.9 445.1,255.3 445.2,264.7 445.3,263.4 445.4,264.0 445.5,267.8 445.6,271.6 445.8,275.4 445.9,276.7 446.0,275.2 446.1,272.5 446.2,269.5 446.3,263.5 446.4,266.6 446.5,263.2 446.6,262.3 446.7,264.8 446.9,264.2 447.0,260.4 447.1,262.7 447.2,261.4 447.3,255.7 447.4,256.7 447.5,256.4 447.6,252.2 447.7,249.5 447.8,247.1 448.0,244.2 448.1,240.1 448.2,235.7 448.3,235.7 448.4,227.9 448.5,231.4 448.6,221.0 448.7,228.9 448.8,218.5 448.9,214.9 449.1,215.4 449.2,214.9 449.3,218.0 449.4,212.8 449.5,210.5 449.6,210.0 449.7,209.8 449.8,202.5 449.9,203.2 450.0,206.6 450.2,202.0 450.3,201.7 450.4,202.6 450.5,202.8 450.6,205.7 450.7,204.4 450.8,206.3 450.9,209.7 451.0,208.2 451.1,203.3 451.3,203.2 451.4,201.2 451.5,203.8 451.6,206.8 451.7,207.1 451.8,206.8 451.9,212.9 452.0,210.3 452.1,207.3 452.2,212.2 452.4,212.5 452.5,214.8 452.6,215.4 452.7,215.1 452.8,217.1 452.9,215.7 453.0,211.1 453.1,217.3 453.2,216.0 453.3,218.4 453.5,221.3 453.6,221.1 453.7,223.8 453.8,221.8 453.9,223.4 454.0,228.5 454.1,224.3 454.2,222.8 454.3,230.1 454.4,226.4 454.6,222.6 454.7,223.8 454.8,223.6 454.9,220.9 455.0,222.4 455.1,226.1 455.2,222.6 455.3,226.9 455.4,226.8 455.5,223.7 455.7,228.1 455.8,228.0 455.9,226.2 456.0,226.3 456.1,226.2 456.2,231.7 456.3,234.2 456.4,230.5 456.5,229.8 456.6,230.1 456.8,232.4 456.9,226.8 457.0,230.7 457.1,233.6 457.2,234.8 457.3,232.9 457.4,234.4 457.5,230.7 457.6,233.6 457.7,240.1 457.9,232.1 458.0,244.2 458.1,241.6 458.2,241.3 458.3,246.0 458.4,246.0 458.5,246.0 458.6,243.1 458.7,248.1 458.8,245.2 459.0,249.2 459.1,246.0 459.2,242.1 459.3,247.1 459.4,241.9 459.5,244.0 459.6,238.3 459.7,242.3 459.8,242.9 459.9,238.7 460.1,240.2 460.2,242.8 460.3,243.9 460.4,242.5 460.5,243.9 460.6,246.8 460.7,249.6 460.8,250.7 460.9,249.2 461.0,256.0 461.2,252.8 461.3,255.0 461.4,256.0 461.5,260.4 461.6,255.3 461.7,258.1 461.8,263.0 461.9,264.2 462.0,262.1 462.1,265.2 462.3,267.2 462.4,269.7 462.5,271.5 462.6,270.8 462.7,261.3 462.8,268.9 462.9,267.1 463.0,263.4 463.1,260.2 463.2,260.9 463.4,259.0 463.5,255.7 463.6,252.3 463.7,256.5 463.8,257.1 463.9,252.8 464.0,250.0 464.1,242.8 464.2,241.8 464.3,237.2 464.5,244.0 464.6,242.8 464.7,233.0 464.8,233.4 464.9,230.8 465.0,228.7 465.1,230.8 465.2,223.8 465.3,219.1 465.4,220.8 465.6,212.3 465.7,210.3 465.8,210.2 465.9,211.4 466.0,213.6 466.1,206.2 466.2,208.2 466.3,210.5 466.4,212.9 466.5,211.7 466.7,207.3 466.8,211.2 466.9,210.4 467.0,209.1 467.1,210.5 467.2,211.8 467.3,212.0 467.4,212.1 467.5,211.2 467.6,212.7 467.8,218.6 467.9,217.5 468.0,206.3 468.1,218.3 468.2,216.5 468.3,215.7 468.4,224.7 468.5,225.3 468.6,228.2 468.7,224.9 468.9,222.6 469.0,224.0 469.1,224.5 469.2,229.6 469.3,225.1 469.4,228.2 469.5,223.0 469.6,224.0 469.7,225.8 469.8,227.2 470.0,225.9 470.1,229.2 470.2,228.4 470.3,226.5 470.4,232.8 470.5,230.5 470.6,236.5 470.7,234.4 470.8,237.8 470.9,232.9 471.1,234.5 471.2,234.9 471.3,230.2 471.4,227.2 471.5,229.1 471.6,228.6 471.7,233.8 471.8,235.2 471.9,231.1 472.0,233.5 472.2,231.6 472.3,232.1 472.4,234.1 472.5,235.0 472.6,235.1 472.7,233.1 472.8,233.5 472.9,229.3 473.0,231.6 473.1,233.0 473.3,235.7 473.4,239.9 473.5,231.9 473.6,230.8 473.7,229.2 473.8,229.1 473.9,225.4 474.0,221.1 474.1,219.1 474.2,221.2 474.4,223.2 474.5,229.0 474.6,230.3 474.7,233.8 474.8,230.7 474.9,227.9 475.0,227.6 475.1,235.9 475.2,234.8 475.3,230.7 475.5,235.3 475.6,234.3 475.7,236.9 475.8,228.0 475.9,234.4 476.0,236.3 476.1,238.4 476.2,241.3 476.3,244.5 476.4,244.5 476.6,240.5 476.7,246.1 476.8,241.2 476.9,240.9 477.0,247.3 477.1,248.2 477.2,245.9 477.3,248.8 477.4,250.1 477.5,253.5 477.7,251.1 477.8,252.2 477.9,254.6 478.0,250.0 478.1,264.6 478.2,261.8 478.3,260.2 478.4,260.6 478.5,256.2 478.6,264.7 478.8,261.5 478.9,261.9 479.0,266.6 479.1,258.4 479.2,259.4 479.3,260.0 479.4,260.1 479.5,255.0 479.6,253.6 479.7,258.6 479.9,254.8 480.0,246.6 480.1,249.9 480.2,243.1 480.3,247.8 480.4,241.8 480.5,242.6 480.6,237.9 480.7,237.3 480.8,232.5 481.0,231.2 481.1,230.4 481.2,227.4 481.3,223.7 481.4,220.1 481.5,219.4 481.6,216.6 481.7,216.3 481.8,208.4 481.9,209.0 482.1,204.5 482.2,203.9 482.3,204.7 482.4,205.9 482.5,204.5 482.6,208.5 482.7,212.2 482.8,211.7 482.9,215.3 483.0,214.1 483.2,212.2 483.3,215.0 483.4,216.9 483.5,213.9 483.6,214.4 483.7,214.9 483.8,212.6 483.9,208.6 484.0,212.6 484.1,222.0 484.3,217.2 484.4,209.9 484.5,211.3 484.6,212.2 484.7,208.1 484.8,209.4 484.9,214.8 485.0,212.7 485.1,208.1 485.2,213.2 485.4,212.2 485.5,213.6 485.6,216.6 485.7,209.7 485.8,216.1 485.9,216.6 486.0,219.5 486.1,219.0 486.2,219.6 486.3,217.9 486.5,219.0 486.6,217.4 486.7,216.1 486.8,216.3 486.9,217.3 487.0,216.2 487.1,220.5 487.2,220.9 487.3,222.9 487.4,226.0 487.6,224.0 487.7,227.9 487.8,222.3 487.9,220.4 488.0,220.4 488.1,224.0 488.2,219.7 488.3,222.8 488.4,224.3 488.5,222.8 488.7,224.4 488.8,226.7 488.9,227.5 489.0,225.7 489.1,225.3 489.2,229.0 489.3,224.4 489.4,224.7 489.5,222.1 489.6,222.9 489.8,222.7 489.9,226.4 490.0,220.7 490.1,232.2 490.2,232.7 490.3,232.4 490.4,234.5 490.5,235.9 490.6,238.1 490.7,238.1 490.9,230.0 491.0,238.1 491.1,242.7 491.2,243.9 491.3,238.5 491.4,237.9 491.5,237.5 491.6,238.8 491.7,240.9 491.8,242.9 492.0,246.6 492.1,248.1 492.2,252.1 492.3,252.3 492.4,252.2 492.5,255.3 492.6,253.0 492.7,255.2 492.8,258.0 492.9,254.0 493.1,258.6 493.2,251.6 493.3,253.2 493.4,252.6 493.5,254.4 493.6,253.8 493.7,255.8 493.8,257.1 493.9,260.7 494.0,260.8 494.2,256.1 494.3,254.6 494.4,249.4 494.5,252.5 494.6,247.1 494.7,249.4 494.8,242.9 494.9,243.4 495.0,246.4 495.1,242.3 495.3,237.6 495.4,242.6 495.5,235.8 495.6,231.6 495.7,229.4 495.8,228.5 495.9,230.7 496.0,227.8 496.1,226.2 496.2,221.7 496.4,226.3 496.5,217.3 496.6,216.6 496.7,220.8 496.8,218.2 496.9,208.1 497.0,211.1 497.1,207.1 497.2,204.2 497.3,209.6 497.5,211.8 497.6,210.0 497.7,211.1 497.8,205.8 497.9,204.6 498.0,207.3 498.1,202.0 498.2,204.9 498.3,205.7 498.4,205.0 498.6,205.4 498.7,205.8 498.8,207.4 498.9,204.1 499.0,211.1 499.1,210.9 499.2,214.0 499.3,205.9 499.4,202.5 499.5,208.0 499.7,204.9 499.8,214.1 499.9,207.5 500.0,206.3 500.1,205.6 500.2,208.9 500.3,204.9 500.4,207.0 500.5,209.0 500.6,212.5 500.8,212.0 500.9,210.9 501.0,208.3 501.1,211.9 501.2,212.9 501.3,208.8 501.4,218.5 501.5,216.5 501.6,222.6 501.7,219.9 501.9,217.9 502.0,217.2 502.1,220.5 502.2,222.4 502.3,216.1 502.4,218.5 502.5,214.7 502.6,215.4 502.7,219.7 502.8,217.8 503.0,222.7 503.1,224.3 503.2,222.6 503.3,223.2 503.4,220.2 503.5,223.5 503.6,224.5 503.7,222.3 503.8,221.8 503.9,222.6 504.1,226.0 504.2,222.2 504.3,224.5 504.4,226.3 504.5,227.9 504.6,224.7 504.7,221.5 504.8,222.3 504.9,223.9 505.0,227.9 505.2,224.0 505.3,222.0 505.4,227.6 505.5,222.8 505.6,223.0 505.7,222.6 505.8,221.8 505.9,222.2 506.0,222.0 506.1,217.7 506.3,225.7 506.4,222.5 506.5,218.7 506.6,226.3 506.7,225.5 506.8,223.3 506.9,234.9 507.0,229.1 507.1,231.0 507.2,234.3 507.4,232.8 507.5,232.6 507.6,231.7 507.7,235.0 507.8,232.4 507.9,237.4 508.0,242.0 508.1,240.5 508.2,232.7 508.3,233.7 508.5,236.4 508.6,233.6 508.7,238.7 508.8,235.3 508.9,239.3 509.0,244.1 509.1,239.9 509.2,243.9 509.3,241.4 509.4,242.2 509.6,238.4 509.7,235.6 509.8,230.0 509.9,230.1 510.0,229.4 510.1,228.8 510.2,225.6 510.3,229.3 510.4,229.1 510.5,226.2 510.7,227.0 510.8,227.3 510.9,224.5 511.0,227.7 511.1,222.6 511.2,224.0 511.3,220.2 511.4,222.9 511.5,222.5 511.6,219.0 511.8,220.9 511.9,219.5 512.0,217.8 512.1,226.8 512.2,222.7 512.3,216.0 512.4,213.3 512.5,219.0 512.6,211.7 512.7,217.4 512.9,213.3 513.0,214.8 513.1,214.7 513.2,215.3 513.3,214.4 513.4,217.7 513.5,211.9 513.6,210.6 513.7,208.4 513.8,208.7 514.0,209.9 514.1,206.8 514.2,203.3 514.3,206.2 514.4,209.4 514.5,211.3 514.6,207.0 514.7,208.6 514.8,208.0 514.9,209.7 515.1,211.0 515.2,206.0 515.3,206.8 515.4,198.9 515.5,200.9 515.6,196.1 515.7,191.5 515.8,188.7 515.9,191.5 516.0,196.5 516.2,205.2 516.3,207.2 516.4,218.6 516.5,211.2 516.6,212.3 516.7,222.9 516.8,216.0 516.9,222.8 517.0,223.1 517.1,221.3 517.3,222.8 517.4,224.4 517.5,225.9 517.6,220.2 517.7,219.2 517.8,222.5 517.9,222.4 518.0,226.3 518.1,224.2 518.2,224.0 518.4,227.9 518.5,229.3 518.6,230.3 518.7,225.7 518.8,231.5 518.9,223.9 519.0,228.4 519.1,225.6 519.2,230.7 519.3,226.6 519.5,224.7 519.6,225.2 519.7,223.1 519.8,225.2 519.9,219.3 520.0,225.1 520.1,225.9 520.2,226.9 520.3,220.6 520.4,224.1 520.6,222.6 520.7,226.4 520.8,222.8 520.9,224.7 521.0,219.5 521.1,219.6 521.2,215.3 521.3,214.8 521.4,216.6 521.5,219.5 521.7,220.4 521.8,221.2 521.9,226.0 522.0,227.5 522.1,235.3 522.2,228.8 522.3,232.1 522.4,228.7 522.5,231.8 522.6,226.4 522.8,230.1 522.9,222.7 523.0,221.4 523.1,222.9 523.2,226.3 523.3,225.3 523.4,231.3 523.5,233.2 523.6,234.4 523.7,231.0 523.9,236.9 524.0,232.9 524.1,238.0 524.2,236.2 524.3,238.1 524.4,235.1 524.5,242.3 524.6,247.7 524.7,244.9 524.8,245.6 525.0,246.4 525.1,248.0 525.2,250.0 525.3,244.6 525.4,250.7 525.5,249.3 525.6,253.5 525.7,256.3 525.8,252.7 525.9,256.3 526.1,258.6 526.2,261.1 526.3,264.3 526.4,260.3 526.5,264.0 526.6,267.4 526.7,265.8 526.8,264.3 526.9,270.2 527.0,261.9 527.2,259.4 527.3,257.8 527.4,262.3 527.5,256.6 527.6,255.4 527.7,251.6 527.8,252.7 527.9,252.6 528.0,245.4 528.1,247.9 528.3,239.9 528.4,239.3 528.5,234.9 528.6,229.6 528.7,232.1 528.8,232.0 528.9,229.1 529.0,224.3 529.1,223.6 529.2,218.5 529.4,216.3 529.5,213.8 529.6,210.6 529.7,208.8 529.8,209.6 529.9,204.2 530.0,212.7 530.1,214.5 530.2,212.2 530.3,208.9 530.5,204.5 530.6,203.0 530.7,201.7 530.8,202.0 530.9,205.5 531.0,204.0 531.1,206.8 531.2,212.8 531.3,211.3 531.4,211.9 531.6,210.3 531.7,213.3 531.8,212.1 531.9,211.5 532.0,212.5 532.1,218.2 532.2,215.4 532.3,211.6 532.4,215.7 532.5,223.7 532.7,220.3 532.8,217.6 532.9,211.5 533.0,216.4 533.1,217.2 533.2,206.9 533.3,213.8 533.4,215.5 533.5,213.3 533.6,216.7 533.8,209.0 533.9,218.1 534.0,216.4 534.1,222.5 534.2,223.7 534.3,219.5 534.4,227.4 534.5,221.2 534.6,225.4 534.7,229.7 534.9,223.1 535.0,230.1 535.1,225.1 535.2,228.5 535.3,224.4 535.4,220.7 535.5,224.7 535.6,221.5 535.7,223.2 535.8,226.2 536.0,225.1 536.1,222.1 536.2,224.2 536.3,225.6 536.4,224.7 536.5,221.8 536.6,224.9 536.7,223.6 536.8,220.8 536.9,219.0 537.1,220.0 537.2,228.5 537.3,229.6 537.4,230.7 537.5,222.2 537.6,227.1 537.7,221.4 537.8,222.1 537.9,222.4 538.0,227.6 538.2,219.6 538.3,222.0 538.4,225.9 538.5,222.4 538.6,226.7 538.7,224.8 538.8,231.7 538.9,230.1 539.0,232.5 539.1,228.8 539.3,232.2 539.4,224.3 539.5,222.2 539.6,220.3 539.7,219.5 539.8,218.0 539.9,219.0 540.0,220.8 540.1,224.6 540.2,230.9 540.4,229.0 540.5,232.2 540.6,229.9 540.7,235.8 540.8,237.0 540.9,237.5 541.0,229.8 541.1,240.0 541.2,238.6 541.3,234.5 541.5,236.5 541.6,241.9 541.7,234.3 541.8,242.7 541.9,237.7 542.0,246.0 542.1,238.7 542.2,240.6 542.3,244.1 542.4,251.4 542.6,251.9 542.7,249.8 542.8,255.8 542.9,254.2 543.0,253.4 543.1,259.5" fill="none" stroke="#E24A33" stroke-width="0.9" stroke-linejoin="round"/>
<polyline points="370.4,209.9 370.5,205.2 370.6,209.6 370.7,206.2 370.8,211.0 371.0,206.6 371.1,209.6 371.2,210.4 371.3,208.1 371.4,214.8 371.5,210.3 371.6,211.9 371.7,214.7 371.8,219.1 371.9,216.7 372.1,223.3 372.2,221.8 372.3,223.0 372.4,226.3 372.5,227.1 372.6,227.0 372.7,229.6 372.8,232.2 372.9,234.7 373.0,231.6 373.2,231.4 373.3,225.1 373.4,228.4 373.5,229.4 373.6,232.3 373.7,232.2 373.8,228.8 373.9,229.3 374.0,229.2 374.1,228.1 374.3,229.1 374.4,227.1 374.5,228.4 374.6,228.6 374.7,227.6 374.8,230.6 374.9,225.8 375.0,228.1 375.1,229.0 375.2,225.9 375.4,231.1 375.5,231.2 375.6,232.7 375.7,230.0 375.8,231.8 375.9,231.9 376.0,228.6 376.1,232.2 376.2,228.4 376.3,231.7 376.5,234.1 376.6,232.9 376.7,228.3 376.8,235.8 376.9,233.7 377.0,235.7 377.1,234.1 377.2,235.9 377.3,241.0 377.4,237.7 377.6,238.5 377.7,239.7 377.8,242.7 377.9,238.3 378.0,240.9 378.1,240.8 378.2,249.0 378.3,246.7 378.4,245.8 378.5,246.7 378.7,247.9 378.8,250.5 378.9,253.0 379.0,258.7 379.1,255.4 379.2,257.7 379.3,260.5 379.4,265.3 379.5,265.0 379.6,263.0 379.8,266.8 379.9,268.4 380.0,268.0 380.1,271.3 380.2,274.7 380.3,272.3 380.4,274.7 380.5,270.3 380.6,267.1 380.7,265.7 380.9,261.3 381.0,259.1 381.1,260.5 381.2,256.6 381.3,251.5 381.4,252.0 381.5,255.4 381.6,251.4 381.7,252.6 381.8,253.6 382.0,249.7 382.1,247.7 382.2,246.5 382.3,247.5 382.4,242.6 382.5,239.8 382.6,241.4 382.7,243.8 382.8,239.9 382.9,241.2 383.1,238.6 383.2,232.3 383.3,233.6 383.4,232.2 383.5,230.2 383.6,231.3 383.7,230.1 383.8,226.9 383.9,226.2 384.0,220.6 384.2,221.6 384.3,216.7 384.4,216.6 384.5,213.4 384.6,217.3 384.7,213.4 384.8,215.7 384.9,211.6 385.0,214.2 385.1,214.6 385.3,213.5 385.4,212.9 385.5,211.9 385.6,211.5 385.7,210.1 385.8,208.9 385.9,212.2 386.0,210.3 386.1,210.2 386.2,211.5 386.4,209.3 386.5,209.3 386.6,209.7 386.7,216.1 386.8,212.7 386.9,216.0 387.0,211.6 387.1,214.6 387.2,216.2 387.3,216.4 387.5,221.5 387.6,220.5 387.7,223.1 387.8,227.1 387.9,230.2 388.0,230.3 388.1,231.2 388.2,233.2 388.3,237.6 388.4,234.1 388.6,232.6 388.7,231.0 388.8,233.1 388.9,229.7 389.0,224.7 389.1,224.2 389.2,223.7 389.3,221.4 389.4,220.4 389.5,219.8 389.7,221.7 389.8,222.3 389.9,223.6 390.0,222.6 390.1,222.3 390.2,224.5 390.3,225.2 390.4,222.0 390.5,226.7 390.6,224.8 390.8,224.2 390.9,228.6 391.0,227.9 391.1,228.6 391.2,226.7 391.3,231.5 391.4,228.8 391.5,226.4 391.6,232.5 391.7,226.2 391.9,231.7 392.0,228.2 392.1,228.1 392.2,227.3 392.3,226.9 392.4,227.5 392.5,228.6 392.6,228.9 392.7,226.2 392.8,230.3 393.0,226.3 393.1,230.4 393.2,228.5 393.3,229.3 393.4,232.1 393.5,225.3 393.6,232.9 393.7,234.4 393.8,230.1 393.9,229.4 394.1,227.4 394.2,230.7 394.3,228.8 394.4,229.2 394.5,230.0 394.6,235.4 394.7,235.1 394.8,231.6 394.9,235.3 395.0,234.1 395.2,238.7 395.3,235.3 395.4,238.5 395.5,241.2 395.6,241.6 395.7,240.4 395.8,243.7 395.9,243.0 396.0,249.3 396.1,249.3 396.3,241.5 396.4,240.7 396.5,245.0 396.6,240.1 396.7,235.1 396.8,236.0 396.9,233.0 397.0,231.2 397.1,225.9 397.2,227.7 397.4,224.9 397.5,220.6 397.6,223.8 397.7,222.6 397.8,224.0 397.9,223.1 398.0,223.0 398.1,220.8 398.2,221.6 398.3,220.2 398.5,224.5 398.6,218.4 398.7,219.5 398.8,221.2 398.9,222.6 399.0,227.7 399.1,230.3 399.2,232.6 399.3,237.1 399.4,234.5 399.6,238.3 399.7,239.6 399.8,242.0 399.9,237.0 400.0,232.9 400.1,233.4 400.2,225.8 400.3,227.7 400.4,225.9 400.5,218.5 400.7,217.3 400.8,213.7 400.9,213.8 401.0,214.2 401.1,211.5 401.2,210.6 401.3,210.4 401.4,205.6 401.5,207.2 401.6,208.5 401.8,204.4 401.9,209.3 402.0,204.8 402.1,208.5 402.2,210.2 402.3,213.0 402.4,209.6 402.5,211.5 402.6,213.5 402.7,213.7 402.9,215.0 403.0,213.1 403.1,213.9 403.2,210.4 403.3,214.3 403.4,216.5 403.5,216.1 403.6,218.8 403.7,220.7 403.8,219.1 404.0,222.2 404.1,223.2 404.2,223.1 404.3,225.7 404.4,226.4 404.5,222.0 404.6,229.3 404.7,221.9 404.8,226.1 404.9,225.0 405.1,225.2 405.2,227.1 405.3,226.3 405.4,226.4 405.5,226.5 405.6,225.2 405.7,227.2 405.8,223.7 405.9,227.8 406.0,225.4 406.2,228.5 406.3,227.4 406.4,231.0 406.5,226.1 406.6,230.6 406.7,228.5 406.8,225.5 406.9,230.2 407.0,229.4 407.1,230.7 407.3,227.0 407.4,229.4 407.5,230.4 407.6,226.9 407.7,232.3 407.8,225.8 407.9,228.2 408.0,224.1 408.1,224.5 408.2,225.2 408.4,225.8 408.5,227.3 408.6,228.4 408.7,223.7 408.8,228.9 408.9,228.2 409.0,225.5 409.1,227.5 409.2,229.8 409.3,228.6 409.5,224.8 409.6,226.5 409.7,226.1 409.8,230.0 409.9,226.9 410.0,226.2 410.1,228.5 410.2,224.5 410.3,229.2 410.4,231.9 410.6,230.5 410.7,225.5 410.8,234.5 410.9,231.9 411.0,230.3 411.1,230.5 411.2,234.2 411.3,234.2 411.4,235.8 411.5,239.5 411.7,238.4 411.8,243.6 411.9,242.4 412.0,247.9 412.1,250.6 412.2,250.9 412.3,253.0 412.4,252.0 412.5,251.1 412.6,256.4 412.8,255.3 412.9,254.2 413.0,256.2 413.1,257.0 413.2,262.5 413.3,264.0 413.4,267.4 413.5,264.2 413.6,267.1 413.7,267.9 413.9,264.9 414.0,269.2 414.1,271.4 414.2,268.7 414.3,267.8 414.4,274.4 414.5,268.3 414.6,275.0 414.7,273.8 414.8,275.2 415.0,273.3 415.1,271.8 415.2,274.9 415.3,273.8 415.4,264.8 415.5,265.8 415.6,260.5 415.7,260.0 415.8,256.4 415.9,252.8 416.1,247.8 416.2,244.7 416.3,246.2 416.4,242.3 416.5,236.7 416.6,231.1 416.7,227.9 416.8,224.8 416.9,222.0 417.0,217.9 417.2,210.8 417.3,211.3 417.4,207.9 417.5,214.2 417.6,211.5 417.7,210.4 417.8,209.4 417.9,209.3 418.0,211.6 418.1,213.3 418.3,209.1 418.4,211.6 418.5,210.7 418.6,207.9 418.7,210.5 418.8,212.0 418.9,213.9 419.0,218.6 419.1,220.4 419.2,216.2 419.4,216.3 419.5,214.1 419.6,218.0 419.7,214.4 419.8,214.9 419.9,217.4 420.0,219.6 420.1,219.4 420.2,215.2 420.3,221.3 420.5,220.3 420.6,222.5 420.7,225.1 420.8,219.6 420.9,223.9 421.0,225.9 421.1,221.1 421.2,227.5 421.3,227.7 421.4,227.1 421.6,225.8 421.7,228.6 421.8,230.1 421.9,228.1 422.0,229.3 422.1,228.7 422.2,230.1 422.3,230.6 422.4,231.6 422.5,231.0 422.7,229.9 422.8,231.2 422.9,229.3 423.0,233.1 423.1,229.9 423.2,229.4 423.3,231.5 423.4,226.3 423.5,230.1 423.6,231.0 423.8,229.2 423.9,229.1 424.0,228.5 424.1,227.7 424.2,226.9 424.3,224.7 424.4,228.1 424.5,229.1 424.6,232.1 424.7,227.9 424.9,229.7 425.0,230.7 425.1,230.5 425.2,231.5 425.3,232.5 425.4,233.9 425.5,237.0 425.6,230.0 425.7,231.3 425.8,233.2 426.0,237.3 426.1,239.3 426.2,237.3 426.3,241.7 426.4,240.3 426.5,247.1 426.6,246.8 426.7,249.8 426.8,246.6 426.9,252.1 427.1,252.7 427.2,252.9 427.3,251.9 427.4,258.5 427.5,260.3 427.6,259.8 427.7,263.1 427.8,264.5 427.9,265.4 428.0,263.0 428.2,266.6 428.3,265.8 428.4,264.2 428.5,267.3 428.6,267.5 428.7,272.1 428.8,270.6 428.9,272.7 429.0,275.0 429.1,277.9 429.3,276.1 429.4,271.3 429.5,275.3 429.6,270.7 429.7,271.8 429.8,268.4 429.9,265.2 430.0,261.8 430.1,263.1 430.2,263.2 430.4,261.6 430.5,263.5 430.6,262.9 430.7,264.9 430.8,267.7 430.9,269.6 431.0,268.2 431.1,270.1 431.2,267.3 431.3,270.5 431.5,266.3 431.6,260.8 431.7,258.9 431.8,258.4 431.9,259.0 432.0,253.9 432.1,254.1 432.2,249.2 432.3,243.8 432.4,241.1 432.6,242.1 432.7,234.3 432.8,230.8 432.9,228.5 433.0,225.5 433.1,226.2 433.2,222.8 433.3,215.4 433.4,216.9 433.5,214.0 433.7,210.8 433.8,207.7 433.9,209.6 434.0,209.3 434.1,212.4 434.2,210.6 434.3,213.1 434.4,215.5 434.5,209.5 434.6,210.2 434.8,214.6 434.9,214.8 435.0,206.6 435.1,210.1 435.2,209.7 435.3,214.3 435.4,214.3 435.5,213.6 435.6,217.6 435.7,221.7 435.9,214.1 436.0,218.3 436.1,221.3 436.2,224.2 436.3,227.2 436.4,227.3 436.5,230.2 436.6,227.0 436.7,225.5 436.8,224.8 437.0,222.7 437.1,226.5 437.2,227.2 437.3,223.7 437.4,227.7 437.5,222.9 437.6,226.7 437.7,224.8 437.8,228.1 437.9,225.8 438.1,226.2 438.2,224.9 438.3,222.6 438.4,223.8 438.5,222.6 438.6,222.3 438.7,228.2 438.8,227.6 438.9,226.0 439.0,226.7 439.2,223.7 439.3,221.5 439.4,228.1 439.5,227.7 439.6,228.5 439.7,229.4 439.8,229.4 439.9,225.7 440.0,227.6 440.1,227.2 440.3,229.1 440.4,227.8 440.5,226.5 440.6,226.0 440.7,223.7 440.8,224.9 440.9,228.0 441.0,222.0 441.1,223.7 441.2,227.4 441.4,223.3 441.5,221.5 441.6,225.2 441.7,225.4 441.8,224.6 441.9,223.7 442.0,220.7 442.1,228.1 442.2,221.2 442.3,221.3 442.5,226.0 442.6,226.0 442.7,226.2 442.8,228.3 442.9,230.3 443.0,230.8 443.1,230.9 443.2,234.5 443.3,236.3 443.4,237.2 443.6,236.9 443.7,236.0 443.8,239.9 443.9,241.7 444.0,241.2 444.1,239.7 444.2,244.7 444.3,249.0 444.4,248.7 444.5,247.4 444.7,251.1 444.8,252.2 444.9,253.7 445.0,257.5 445.1,258.3 445.2,257.4 445.3,263.9 445.4,264.4 445.5,260.9 445.6,264.4 445.8,265.7 445.9,260.8 446.0,265.2 446.1,270.9 446.2,269.0 446.3,271.2 446.4,272.0 446.5,273.2 446.6,270.2 446.7,268.0 446.9,264.7 447.0,264.5 447.1,265.7 447.2,263.8 447.3,261.5 447.4,256.2 447.5,253.6 447.6,255.4 447.7,253.3 447.8,249.8 448.0,247.9 448.1,243.8 448.2,244.6 448.3,236.8 448.4,235.6 448.5,234.2 448.6,229.3 448.7,229.4 448.8,224.2 448.9,218.9 449.1,215.3 449.2,208.4 449.3,212.6 449.4,207.9 449.5,209.1 449.6,205.8 449.7,206.9 449.8,210.0 449.9,208.1 450.0,209.4 450.2,212.4 450.3,211.2 450.4,210.9 450.5,209.3 450.6,206.8 450.7,209.5 450.8,207.6 450.9,211.9 451.0,208.5 451.1,204.1 451.3,207.1 451.4,207.3 451.5,212.5 451.6,210.0 451.7,209.0 451.8,211.6 451.9,215.9 452.0,216.3 452.1,216.2 452.2,217.7 452.4,215.7 452.5,217.8 452.6,217.9 452.7,217.4 452.8,219.9 452.9,218.7 453.0,222.9 453.1,219.8 453.2,220.4 453.3,221.2 453.5,223.9 453.6,226.1 453.7,226.0 453.8,225.0 453.9,228.2 454.0,225.4 454.1,228.3 454.2,229.9 454.3,229.2 454.4,227.9 454.6,228.1 454.7,229.6 454.8,229.1 454.9,226.1 455.0,227.2 455.1,228.2 455.2,229.6 455.3,228.2 455.4,231.6 455.5,226.4 455.7,231.4 455.8,228.6 455.9,229.7 456.0,228.8 456.1,230.3 456.2,227.7 456.3,233.2 456.4,230.3 456.5,231.0 456.6,226.4 456.8,230.6 456.9,229.6 457.0,233.2 457.1,232.8 457.2,231.8 457.3,230.4 457.4,236.0 457.5,234.3 457.6,238.3 457.7,239.7 457.9,241.9 458.0,237.8 458.1,238.7 458.2,241.6 458.3,243.2 458.4,247.8 458.5,248.9 458.6,250.5 458.7,250.0 458.8,251.4 459.0,253.0 459.1,250.4 459.2,248.2 459.3,249.3 459.4,244.8 459.5,241.8 459.6,239.6 459.7,242.6 459.8,238.5 459.9,238.0 460.1,234.3 460.2,236.4 460.3,238.6 460.4,239.1 460.5,238.8 460.6,243.2 460.7,246.4 460.8,245.8 460.9,248.2 461.0,250.0 461.2,257.7 461.3,260.2 461.4,259.6 461.5,262.8 461.6,266.1 461.7,266.8 461.8,266.5 461.9,264.6 462.0,265.2 462.1,267.1 462.3,269.4 462.4,269.2 462.5,268.5 462.6,268.0 462.7,273.5 462.8,269.3 462.9,272.1 463.0,272.7 463.1,274.5 463.2,278.4 463.4,270.0 463.5,265.8 463.6,269.0 463.7,266.9 463.8,263.1 463.9,259.6 464.0,254.6 464.1,250.3 464.2,251.1 464.3,243.0 464.5,243.9 464.6,238.3 464.7,236.9 464.8,231.8 464.9,229.7 465.0,225.6 465.1,220.6 465.2,218.6 465.3,212.8 465.4,214.6 465.6,210.0 465.7,211.6 465.8,215.9 465.9,214.1 466.0,211.6 466.1,214.0 466.2,213.3 466.3,214.1 466.4,211.2 466.5,214.0 466.7,212.7 466.8,211.1 466.9,209.6 467.0,211.8 467.1,211.8 467.2,214.6 467.3,215.5 467.4,214.8 467.5,220.2 467.6,221.1 467.8,217.9 467.9,224.1 468.0,220.7 468.1,219.8 468.2,222.7 468.3,226.1 468.4,227.0 468.5,223.6 468.6,225.9 468.7,225.8 468.9,228.0 469.0,227.5 469.1,227.5 469.2,228.3 469.3,228.8 469.4,228.3 469.5,228.3 469.6,227.8 469.7,231.5 469.8,229.4 470.0,230.9 470.1,229.9 470.2,232.4 470.3,231.2 470.4,233.2 470.5,233.2 470.6,237.4 470.7,231.4 470.8,238.2 470.9,236.3 471.1,233.4 471.2,236.7 471.3,235.3 471.4,236.9 471.5,235.3 471.6,236.2 471.7,235.0 471.8,234.4 471.9,234.1 472.0,236.8 472.2,237.1 472.3,236.6 472.4,235.4 472.5,235.7 472.6,237.3 472.7,237.3 472.8,236.0 472.9,236.9 473.0,234.6 473.1,236.4 473.3,231.8 473.4,234.0 473.5,231.5 473.6,230.4 473.7,233.4 473.8,229.3 473.9,231.1 474.0,231.1 474.1,232.0 474.2,228.9 474.4,229.1 474.5,230.2 474.6,231.3 474.7,231.6 474.8,232.7 474.9,232.4 475.0,230.7 475.1,230.2 475.2,231.8 475.3,232.5 475.5,232.2 475.6,232.7 475.7,238.1 475.8,237.9 475.9,236.2 476.0,240.0 476.1,236.9 476.2,238.6 476.3,241.2 476.4,241.3 476.6,241.6 476.7,241.4 476.8,243.2 476.9,243.6 477.0,248.3 477.1,251.1 477.2,249.3 477.3,253.1 477.4,256.1 477.5,254.5 477.7,259.1 477.8,261.1 477.9,261.6 478.0,261.1 478.1,264.3 478.2,266.2 478.3,264.7 478.4,262.6 478.5,270.2 478.6,263.9 478.8,269.1 478.9,265.8 479.0,271.6 479.1,271.9 479.2,274.2 479.3,275.8 479.4,274.4 479.5,267.2 479.6,267.8 479.7,263.7 479.9,256.6 480.0,255.1 480.1,249.3 480.2,247.1 480.3,241.6 480.4,242.5 480.5,241.1 480.6,234.9 480.7,233.0 480.8,233.8 481.0,232.9 481.1,223.7 481.2,222.3 481.3,216.1 481.4,214.9 481.5,219.1 481.6,215.1 481.7,215.5 481.8,215.2 481.9,217.9 482.1,212.9 482.2,213.1 482.3,213.6 482.4,212.8 482.5,214.1 482.6,215.4 482.7,211.4 482.8,212.3 482.9,213.9 483.0,211.7 483.2,209.4 483.3,211.8 483.4,212.8 483.5,215.6 483.6,213.5 483.7,216.5 483.8,217.9 483.9,212.1 484.0,215.8 484.1,221.4 484.3,216.3 484.4,220.6 484.5,217.5 484.6,215.9 484.7,214.2 484.8,217.8 484.9,217.6 485.0,223.2 485.1,216.3 485.2,222.8 485.4,221.3 485.5,223.8 485.6,218.9 485.7,222.6 485.8,221.5 485.9,225.6 486.0,227.4 486.1,225.8 486.2,225.1 486.3,227.5 486.5,226.7 486.6,224.5 486.7,220.7 486.8,224.6 486.9,221.6 487.0,225.2 487.1,231.7 487.2,229.3 487.3,226.7 487.4,228.6 487.6,231.6 487.7,228.2 487.8,224.5 487.9,224.5 488.0,231.7 488.1,232.2 488.2,231.5 488.3,230.3 488.4,229.4 488.5,229.2 488.7,228.8 488.8,229.7 488.9,230.0 489.0,227.4 489.1,233.9 489.2,231.4 489.3,231.8 489.4,228.4 489.5,230.1 489.6,230.1 489.8,229.1 489.9,230.1 490.0,236.5 490.1,234.1 490.2,235.7 490.3,236.0 490.4,235.5 490.5,235.0 490.6,237.6 490.7,236.2 490.9,239.5 491.0,236.4 491.1,239.1 491.2,240.1 491.3,243.2 491.4,240.3 491.5,244.0 491.6,245.1 491.7,246.6 491.8,246.1 492.0,247.5 492.1,248.3 492.2,247.3 492.3,252.5 492.4,251.8 492.5,254.0 492.6,257.8 492.7,257.9 492.8,257.8 492.9,257.6 493.1,258.5 493.2,259.1 493.3,264.3 493.4,269.8 493.5,269.9 493.6,269.9 493.7,274.6 493.8,268.6 493.9,266.7 494.0,267.8 494.2,264.1 494.3,263.8 494.4,257.1 494.5,257.2 494.6,255.0 494.7,252.3 494.8,250.3 494.9,244.2 495.0,246.1 495.1,241.6 495.3,241.7 495.4,238.3 495.5,239.2 495.6,236.9 495.7,234.1 495.8,233.1 495.9,230.1 496.0,231.3 496.1,227.9 496.2,224.0 496.4,222.9 496.5,221.6 496.6,221.2 496.7,218.5 496.8,215.6 496.9,213.0 497.0,212.9 497.1,216.5 497.2,211.8 497.3,213.1 497.5,213.1 497.6,208.6 497.7,207.0 497.8,206.2 497.9,208.1 498.0,205.5 498.1,208.0 498.2,211.2 498.3,208.6 498.4,209.3 498.6,208.4 498.7,207.8 498.8,204.7 498.9,208.6 499.0,208.7 499.1,205.0 499.2,208.5 499.3,211.3 499.4,211.2 499.5,211.0 499.7,209.1 499.8,210.2 499.9,213.2 500.0,215.2 500.1,211.2 500.2,216.0 500.3,211.5 500.4,213.3 500.5,216.7 500.6,212.6 500.8,217.7 500.9,218.8 501.0,220.3 501.1,219.3 501.2,218.5 501.3,216.6 501.4,219.2 501.5,218.8 501.6,216.7 501.7,217.3 501.9,220.9 502.0,219.1 502.1,219.2 502.2,221.5 502.3,217.5 502.4,221.9 502.5,223.0 502.6,224.5 502.7,221.4 502.8,224.0 503.0,221.7 503.1,220.9 503.2,222.0 503.3,224.0 503.4,223.4 503.5,225.6 503.6,224.0 503.7,223.6 503.8,227.1 503.9,223.8 504.1,226.2 504.2,229.9 504.3,227.4 504.4,228.0 504.5,226.0 504.6,225.6 504.7,228.3 504.8,226.5 504.9,226.8 505.0,227.5 505.2,224.9 505.3,225.6 505.4,219.7 505.5,229.0 505.6,228.9 505.7,223.1 505.8,227.4 505.9,226.9 506.0,223.9 506.1,225.8 506.3,224.6 506.4,224.4 506.5,225.4 506.6,227.6 506.7,224.5 506.8,225.5 506.9,226.2 507.0,225.3 507.1,228.5 507.2,232.5 507.4,231.6 507.5,229.1 507.6,233.2 507.7,231.8 507.8,236.4 507.9,232.2 508.0,238.9 508.1,234.6 508.2,240.1 508.3,242.4 508.5,241.6 508.6,245.8 508.7,242.8 508.8,248.4 508.9,245.6 509.0,246.0 509.1,246.1 509.2,248.2 509.3,240.4 509.4,238.6 509.6,241.9 509.7,237.8 509.8,235.7 509.9,235.0 510.0,234.9 510.1,231.1 510.2,229.8 510.3,231.4 510.4,229.2 510.5,227.0 510.7,227.7 510.8,230.6 510.9,226.1 511.0,225.9 511.1,229.0 511.2,227.6 511.3,229.6 511.4,226.8 511.5,226.4 511.6,225.9 511.8,221.2 511.9,221.0 512.0,224.5 512.1,224.4 512.2,224.7 512.3,224.1 512.4,222.3 512.5,219.6 512.6,223.1 512.7,222.7 512.9,218.3 513.0,222.4 513.1,220.2 513.2,219.9 513.3,216.1 513.4,215.8 513.5,221.7 513.6,214.4 513.7,214.5 513.8,216.1 514.0,209.3 514.1,214.0 514.2,214.7 514.3,215.0 514.4,213.6 514.5,208.8 514.6,211.1 514.7,210.5 514.8,204.7 514.9,210.0 515.1,208.1 515.2,208.4 515.3,208.8 515.4,209.3 515.5,210.8 515.6,211.5 515.7,213.9 515.8,213.5 515.9,211.9 516.0,218.6 516.2,216.6 516.3,213.8 516.4,218.9 516.5,219.0 516.6,220.1 516.7,221.4 516.8,219.9 516.9,218.4 517.0,222.6 517.1,220.6 517.3,222.3 517.4,225.3 517.5,224.8 517.6,225.5 517.7,230.3 517.8,227.4 517.9,228.0 518.0,227.0 518.1,227.6 518.2,226.6 518.4,228.7 518.5,228.0 518.6,226.8 518.7,226.9 518.8,233.0 518.9,228.7 519.0,224.5 519.1,223.2 519.2,227.5 519.3,226.3 519.5,226.6 519.6,228.7 519.7,227.2 519.8,233.2 519.9,231.1 520.0,229.8 520.1,228.6 520.2,235.4 520.3,230.9 520.4,230.6 520.6,231.0 520.7,228.4 520.8,227.1 520.9,227.1 521.0,229.1 521.1,228.9 521.2,226.6 521.3,227.5 521.4,230.3 521.5,229.8 521.7,226.9 521.8,229.1 521.9,228.4 522.0,229.5 522.1,232.9 522.2,227.7 522.3,229.2 522.4,228.5 522.5,229.0 522.6,227.3 522.8,225.0 522.9,225.4 523.0,223.9 523.1,226.9 523.2,229.0 523.3,231.6 523.4,232.6 523.5,232.5 523.6,233.2 523.7,233.5 523.9,233.9 524.0,238.4 524.1,242.0 524.2,242.2 524.3,240.6 524.4,241.2 524.5,248.0 524.6,246.6 524.7,245.8 524.8,250.3 525.0,249.7 525.1,247.1 525.2,253.4 525.3,254.7 525.4,257.2 525.5,255.3 525.6,260.2 525.7,261.4 525.8,262.6 525.9,263.5 526.1,264.8 526.2,266.2 526.3,268.5 526.4,270.4 526.5,269.7 526.6,270.0 526.7,271.6 526.8,273.4 526.9,273.9 527.0,275.4 527.2,272.5 527.3,273.1 527.4,272.7 527.5,266.2 527.6,259.7 527.7,254.2 527.8,253.6 527.9,250.1 528.0,247.4 528.1,242.1 528.3,240.4 528.4,239.9 528.5,236.3 528.6,236.6 528.7,229.2 528.8,225.1 528.9,226.6 529.0,221.6 529.1,218.8 529.2,220.6 529.4,215.6 529.5,216.6 529.6,213.5 529.7,214.8 529.8,215.6 529.9,216.5 530.0,215.1 530.1,212.5 530.2,211.0 530.3,212.7 530.5,212.7 530.6,211.1 530.7,205.6 530.8,205.6 530.9,208.8 531.0,207.0 531.1,208.5 531.2,209.5 531.3,208.9 531.4,210.7 531.6,214.4 531.7,209.3 531.8,211.9 531.9,211.3 532.0,212.3 532.1,212.1 532.2,213.7 532.3,211.8 532.4,215.9 532.5,215.0 532.7,210.6 532.8,215.1 532.9,214.7 533.0,214.6 533.1,218.5 533.2,221.5 533.3,214.9 533.4,216.4 533.5,217.8 533.6,221.8 533.8,220.4 533.9,224.9 534.0,219.5 534.1,221.7 534.2,226.3 534.3,228.0 534.4,222.9 534.5,222.1 534.6,224.3 534.7,223.2 534.9,224.1 535.0,224.8 535.1,231.4 535.2,228.0 535.3,225.1 535.4,224.3 535.5,225.5 535.6,226.1 535.7,228.4 535.8,228.0 536.0,226.0 536.1,225.3 536.2,228.7 536.3,228.0 536.4,224.8 536.5,223.9 536.6,227.0 536.7,226.7 536.8,227.2 536.9,225.8 537.1,225.5 537.2,231.3 537.3,227.5 537.4,226.4 537.5,226.1 537.6,229.4 537.7,226.2 537.8,231.8 537.9,225.4 538.0,226.1 538.2,224.8 538.3,228.3 538.4,223.5 538.5,224.6 538.6,228.0 538.7,228.2 538.8,225.8 538.9,230.8 539.0,230.0 539.1,224.6 539.3,230.5 539.4,231.8 539.5,230.1 539.6,228.4 539.7,228.4 539.8,226.7 539.9,229.7 540.0,232.8 540.1,231.1 540.2,232.0 540.4,235.5 540.5,232.6 540.6,236.0 540.7,232.8 540.8,234.1 540.9,236.6 541.0,237.5 541.1,237.7 541.2,237.7 541.3,236.8 541.5,238.7 541.6,239.0 541.7,237.7 541.8,236.1 541.9,241.2 542.0,247.8 542.1,245.4 542.2,246.1 542.3,246.4 542.4,249.7 542.6,250.0 542.7,254.7 542.8,255.3 542.9,252.6 543.0,256.6 543.1,259.8" fill="none" stroke="#348ABD" stroke-width="1.15" stroke-linejoin="round"/>
<line x1="368.4" x2="370" y1="198.2" y2="198.2" stroke="#666" stroke-width="0.5"/>
<text class="tk" transform="translate(365.6,201.0) scale(0.82,1)" text-anchor="end">50</text>
<line x1="368.4" x2="370" y1="216.8" y2="216.8" stroke="#666" stroke-width="0.5"/>
<text class="tk" transform="translate(365.6,219.6) scale(0.82,1)" text-anchor="end">40</text>
<line x1="368.4" x2="370" y1="235.4" y2="235.4" stroke="#666" stroke-width="0.5"/>
<text class="tk" transform="translate(365.6,238.2) scale(0.82,1)" text-anchor="end">30</text>
<line x1="368.4" x2="370" y1="254" y2="254" stroke="#666" stroke-width="0.5"/>
<text class="tk" transform="translate(365.6,256.8) scale(0.82,1)" text-anchor="end">20</text>
<line x1="368.4" x2="370" y1="272.6" y2="272.6" stroke="#666" stroke-width="0.5"/>
<text class="tk" transform="translate(365.6,275.4) scale(0.82,1)" text-anchor="end">10</text>
<line x1="369.4" x2="369.4" y1="282.1" y2="283.70000000000005" stroke="#666" stroke-width="0.5"/>
<text class="tk" transform="translate(369.4,290.0) scale(0.82,1)" text-anchor="middle">0</text>
<line x1="401.5" x2="401.5" y1="282.1" y2="283.70000000000005" stroke="#666" stroke-width="0.5"/>
<text class="tk" transform="translate(401.5,290.0) scale(0.82,1)" text-anchor="middle">500</text>
<line x1="433.7" x2="433.7" y1="282.1" y2="283.70000000000005" stroke="#666" stroke-width="0.5"/>
<text class="tk" transform="translate(433.7,290.0) scale(0.82,1)" text-anchor="middle">1000</text>
<line x1="465.8" x2="465.8" y1="282.1" y2="283.70000000000005" stroke="#666" stroke-width="0.5"/>
<text class="tk" transform="translate(465.8,290.0) scale(0.82,1)" text-anchor="middle">1500</text>
<line x1="498" x2="498" y1="282.1" y2="283.70000000000005" stroke="#666" stroke-width="0.5"/>
<text class="tk" transform="translate(498.0,290.0) scale(0.82,1)" text-anchor="middle">2000</text>
<line x1="530.1" x2="530.1" y1="282.1" y2="283.70000000000005" stroke="#666" stroke-width="0.5"/>
<text class="tk" transform="translate(530.1,290.0) scale(0.82,1)" text-anchor="middle">2500</text>
<text class="tt" x="389.6" y="179.2" textLength="43.5" lengthAdjust="spacingAndGlyphs">Southbound (</text>
<text class="tt tm" x="433.3" y="179.2" textLength="89.2" lengthAdjust="spacingAndGlyphs">100%<tspan dx="4.8">−</tspan><tspan dx="2.6" class="mi">MAPE</tspan><tspan dx="0.6">:</tspan><tspan dx="1.3">90.9%)</tspan></text>
<text class="al" transform="translate(355.3,237.1) rotate(-90)" text-anchor="middle">Speed</text>
<text class="al" x="455.5" y="298.5" text-anchor="middle">Time</text></g>
<g id="plot3a"><rect x="171.3" y="348.8" width="183.9" height="99.5" fill="#E5E5E5"/>
<line x1="171.3" x2="355.2" y1="348.9" y2="348.9" stroke="#fff" stroke-width="0.5" opacity="0.7"/>
<line x1="171.3" x2="355.2" y1="366.3" y2="366.3" stroke="#fff" stroke-width="0.5" opacity="0.7"/>
<line x1="171.3" x2="355.2" y1="383.7" y2="383.7" stroke="#fff" stroke-width="0.5" opacity="0.7"/>
<line x1="171.3" x2="355.2" y1="401.1" y2="401.1" stroke="#fff" stroke-width="0.5" opacity="0.7"/>
<line x1="171.3" x2="355.2" y1="418.5" y2="418.5" stroke="#fff" stroke-width="0.5" opacity="0.7"/>
<line x1="171.3" x2="355.2" y1="435.9" y2="435.9" stroke="#fff" stroke-width="0.5" opacity="0.7"/>
<line x1="171.3" x2="171.3" y1="348.8" y2="448.3" stroke="#fff" stroke-width="0.5" opacity="0.7"/>
<line x1="206.4" x2="206.4" y1="348.8" y2="448.3" stroke="#fff" stroke-width="0.5" opacity="0.7"/>
<line x1="241.5" x2="241.5" y1="348.8" y2="448.3" stroke="#fff" stroke-width="0.5" opacity="0.7"/>
<line x1="276.6" x2="276.6" y1="348.8" y2="448.3" stroke="#fff" stroke-width="0.5" opacity="0.7"/>
<line x1="311.7" x2="311.7" y1="348.8" y2="448.3" stroke="#fff" stroke-width="0.5" opacity="0.7"/>
<line x1="346.8" x2="346.8" y1="348.8" y2="448.3" stroke="#fff" stroke-width="0.5" opacity="0.7"/>
<polyline points="171.7,403.3 171.8,405.3 171.9,407.1 172.0,405.9 172.1,404.2 172.3,402.2 172.4,403.1 172.5,409.4 172.6,399.8 172.7,401.2 172.8,403.7 172.9,408.9 173.0,406.9 173.1,401.0 173.2,399.4 173.4,400.6 173.5,401.0 173.6,405.6 173.7,396.3 173.8,404.5 173.9,399.8 174.0,406.3 174.1,401.8 174.2,401.3 174.3,410.1 174.5,403.7 174.6,405.6 174.7,408.7 174.8,410.1 174.9,412.8 175.0,412.2 175.1,403.9 175.2,403.4 175.3,400.9 175.4,398.1 175.6,397.8 175.7,399.0 175.8,399.9 175.9,402.2 176.0,402.7 176.1,393.6 176.2,403.3 176.3,408.4 176.4,394.9 176.5,407.6 176.7,409.3 176.8,414.4 176.9,404.3 177.0,419.1 177.1,418.1 177.2,417.5 177.3,415.3 177.4,423.6 177.5,416.0 177.6,432.3 177.8,423.7 177.9,435.8 178.0,433.3 178.1,437.9 178.2,441.7 178.3,444.4 178.4,443.5 178.5,438.8 178.6,434.7 178.7,434.3 178.9,422.5 179.0,440.6 179.1,420.4 179.2,425.3 179.3,423.1 179.4,427.4 179.5,418.2 179.6,417.3 179.7,411.0 179.8,409.2 180.0,413.6 180.1,408.8 180.2,413.9 180.3,409.6 180.4,411.7 180.5,404.9 180.6,403.3 180.7,405.3 180.8,400.0 180.9,399.3 181.1,402.1 181.2,405.7 181.3,397.2 181.4,398.7 181.5,399.6 181.6,401.0 181.7,395.2 181.8,401.5 181.9,400.6 182.0,395.8 182.2,400.5 182.3,397.3 182.4,397.4 182.5,397.0 182.6,396.7 182.7,402.2 182.8,394.3 182.9,388.7 183.0,397.2 183.1,389.6 183.3,382.9 183.4,390.9 183.5,382.0 183.6,376.5 183.7,388.0 183.8,387.0 183.9,381.5 184.0,395.3 184.1,378.4 184.2,378.5 184.4,372.9 184.5,367.2 184.6,365.3 184.7,368.1 184.8,369.3 184.9,382.3 185.0,378.4 185.1,388.3 185.2,388.1 185.3,389.4 185.5,394.6 185.6,391.4 185.7,383.3 185.8,382.7 185.9,392.9 186.0,387.0 186.1,380.0 186.2,387.9 186.3,384.9 186.4,386.0 186.6,398.6 186.7,389.0 186.8,392.3 186.9,392.2 187.0,370.5 187.1,390.8 187.2,389.4 187.3,388.5 187.4,383.5 187.5,387.8 187.7,385.0 187.8,383.3 187.9,391.4 188.0,390.8 188.1,397.7 188.2,391.7 188.3,395.5 188.4,399.9 188.5,404.0 188.6,403.6 188.8,407.2 188.9,391.6 189.0,402.4 189.1,403.2 189.2,404.6 189.3,410.3 189.4,404.2 189.5,400.6 189.6,403.3 189.7,400.3 189.9,405.5 190.0,397.5 190.1,409.4 190.2,404.8 190.3,407.6 190.4,402.0 190.5,410.2 190.6,406.7 190.7,407.8 190.8,405.6 191.0,419.4 191.1,410.8 191.2,419.3 191.3,416.3 191.4,418.9 191.5,417.7 191.6,421.2 191.7,415.3 191.8,419.6 191.9,419.1 192.1,422.6 192.2,427.8 192.3,428.6 192.4,425.2 192.5,421.8 192.6,417.0 192.7,417.6 192.8,413.7 192.9,406.8 193.0,410.0 193.2,403.7 193.3,409.1 193.4,408.2 193.5,408.1 193.6,400.2 193.7,401.1 193.8,399.4 193.9,404.5 194.0,409.5 194.1,397.7 194.3,395.0 194.4,400.7 194.5,403.7 194.6,394.6 194.7,401.8 194.8,404.0 194.9,395.3 195.0,400.4 195.1,397.7 195.2,400.2 195.4,394.6 195.5,390.4 195.6,398.9 195.7,393.1 195.8,388.7 195.9,392.0 196.0,392.1 196.1,398.6 196.2,401.6 196.3,400.5 196.5,399.1 196.6,405.5 196.7,408.5 196.8,405.1 196.9,406.8 197.0,402.2 197.1,403.0 197.2,407.2 197.3,392.1 197.4,395.4 197.6,394.6 197.7,400.5 197.8,395.9 197.9,392.0 198.0,395.6 198.1,403.0 198.2,392.6 198.3,384.5 198.4,390.2 198.5,379.3 198.7,390.5 198.8,390.4 198.9,393.4 199.0,388.1 199.1,398.2 199.2,384.8 199.3,396.3 199.4,389.0 199.5,390.5 199.6,403.9 199.8,396.4 199.9,392.0 200.0,394.0 200.1,391.4 200.2,389.7 200.3,400.5 200.4,388.7 200.5,389.2 200.6,381.1 200.7,379.4 200.9,378.5 201.0,375.0 201.1,376.2 201.2,377.8 201.3,376.3 201.4,369.5 201.5,368.2 201.6,370.7 201.7,377.2 201.8,377.1 202.0,367.9 202.1,379.1 202.2,368.2 202.3,372.9 202.4,381.3 202.5,381.6 202.6,387.1 202.7,384.6 202.8,389.7 202.9,379.6 203.1,381.4 203.2,382.7 203.3,392.4 203.4,384.9 203.5,376.5 203.6,381.8 203.7,381.4 203.8,381.0 203.9,386.1 204.0,384.5 204.2,379.1 204.3,394.7 204.4,394.4 204.5,389.6 204.6,385.2 204.7,399.3 204.8,392.1 204.9,400.6 205.0,404.8 205.1,396.4 205.3,400.1 205.4,397.1 205.5,400.7 205.6,393.0 205.7,395.3 205.8,395.1 205.9,402.5 206.0,391.2 206.1,396.7 206.2,400.1 206.4,409.9 206.5,397.5 206.6,400.2 206.7,400.9 206.8,405.5 206.9,402.7 207.0,405.5 207.1,413.7 207.2,415.3 207.3,405.3 207.5,406.4 207.6,405.0 207.7,404.0 207.8,403.7 207.9,406.4 208.0,402.4 208.1,403.6 208.2,394.4 208.3,398.7 208.4,400.9 208.6,395.8 208.7,403.0 208.8,401.5 208.9,403.2 209.0,398.7 209.1,406.8 209.2,400.8 209.3,401.0 209.4,406.1 209.5,398.8 209.7,400.1 209.8,394.7 209.9,394.3 210.0,402.9 210.1,399.2 210.2,404.2 210.3,395.0 210.4,399.8 210.5,397.9 210.6,403.5 210.8,399.4 210.9,396.7 211.0,406.3 211.1,398.5 211.2,410.3 211.3,401.3 211.4,397.8 211.5,403.9 211.6,400.9 211.7,407.0 211.9,404.2 212.0,394.2 212.1,402.4 212.2,399.8 212.3,394.6 212.4,398.1 212.5,399.4 212.6,401.0 212.7,395.7 212.8,404.0 213.0,400.8 213.1,397.8 213.2,392.2 213.3,399.6 213.4,397.3 213.5,392.7 213.6,393.7 213.7,398.5 213.8,397.2 213.9,405.9 214.1,390.8 214.2,397.2 214.3,394.4 214.4,393.5 214.5,389.6 214.6,391.5 214.7,390.6 214.8,383.0 214.9,395.7 215.0,393.8 215.2,405.6 215.3,384.1 215.4,389.4 215.5,402.4 215.6,397.8 215.7,394.3 215.8,400.9 215.9,397.3 216.0,389.4 216.1,394.8 216.3,396.3 216.4,404.5 216.5,393.5 216.6,399.9 216.7,389.7 216.8,387.4 216.9,383.7 217.0,396.1 217.1,384.1 217.2,395.6 217.4,387.1 217.5,383.1 217.6,382.0 217.7,386.6 217.8,382.7 217.9,382.7 218.0,376.6 218.1,374.5 218.2,372.9 218.3,382.8 218.5,375.3 218.6,371.5 218.7,366.2 218.8,366.5 218.9,361.8 219.0,360.8 219.1,362.9 219.2,364.8 219.3,371.2 219.4,375.1 219.6,372.2 219.7,367.6 219.8,363.7 219.9,360.8 220.0,364.1 220.1,369.1 220.2,374.5 220.3,377.7 220.4,386.4 220.5,382.5 220.7,382.8 220.8,390.5 220.9,391.4 221.0,393.9 221.1,398.8 221.2,395.8 221.3,395.3 221.4,392.2 221.5,403.1 221.6,396.1 221.8,397.9 221.9,398.4 222.0,403.0 222.1,407.3 222.2,405.1 222.3,408.7 222.4,409.8 222.5,408.4 222.6,408.0 222.7,402.1 222.9,407.5 223.0,398.8 223.1,403.6 223.2,408.5 223.3,406.2 223.4,401.0 223.5,402.4 223.6,402.4 223.7,401.5 223.8,402.4 224.0,400.3 224.1,401.4 224.2,397.1 224.3,409.1 224.4,405.2 224.5,408.2 224.6,412.7 224.7,410.4 224.8,407.6 224.9,397.6 225.1,408.4 225.2,409.7 225.3,406.5 225.4,402.5 225.5,407.4 225.6,398.9 225.7,399.6 225.8,400.6 225.9,399.6 226.0,398.6 226.2,406.5 226.3,402.1 226.4,405.8 226.5,403.1 226.6,413.6 226.7,413.6 226.8,403.7 226.9,404.8 227.0,410.7 227.1,404.7 227.3,413.3 227.4,403.0 227.5,403.6 227.6,407.7 227.7,409.9 227.8,409.1 227.9,422.2 228.0,401.1 228.1,407.7 228.2,415.0 228.4,417.3 228.5,419.5 228.6,417.2 228.7,409.7 228.8,413.5 228.9,404.8 229.0,407.2 229.1,404.6 229.2,401.0 229.3,402.5 229.5,398.0 229.6,402.2 229.7,390.2 229.8,401.5 229.9,394.0 230.0,412.5 230.1,405.0 230.2,398.1 230.3,408.6 230.4,402.3 230.6,404.2 230.7,399.0 230.8,405.7 230.9,408.4 231.0,395.6 231.1,412.0 231.2,404.4 231.3,400.6 231.4,407.1 231.5,411.7 231.7,401.6 231.8,402.3 231.9,397.2 232.0,392.4 232.1,387.4 232.2,392.0 232.3,389.0 232.4,393.8 232.5,390.7 232.6,395.1 232.8,396.3 232.9,400.0 233.0,399.7 233.1,400.7 233.2,398.9 233.3,393.4 233.4,394.0 233.5,399.6 233.6,395.0 233.7,399.8 233.9,401.4 234.0,399.8 234.1,399.5 234.2,395.7 234.3,399.3 234.4,396.3 234.5,388.5 234.6,393.2 234.7,388.1 234.8,400.7 235.0,389.3 235.1,396.7 235.2,389.9 235.3,387.8 235.4,384.3 235.5,389.7 235.6,391.4 235.7,377.5 235.8,394.2 235.9,380.1 236.1,378.0 236.2,373.1 236.3,378.1 236.4,374.9 236.5,370.9 236.6,368.7 236.7,369.8 236.8,374.3 236.9,379.1 237.0,378.2 237.2,386.0 237.3,368.1 237.4,375.2 237.5,388.7 237.6,375.5 237.7,379.7 237.8,382.7 237.9,385.0 238.0,385.3 238.1,382.8 238.3,386.7 238.4,384.9 238.5,400.5 238.6,396.2 238.7,390.9 238.8,394.8 238.9,396.2 239.0,392.2 239.1,393.6 239.2,395.1 239.4,389.5 239.5,395.7 239.6,386.5 239.7,389.0 239.8,393.1 239.9,403.2 240.0,399.3 240.1,399.2 240.2,403.3 240.3,399.4 240.5,399.7 240.6,400.4 240.7,402.5 240.8,406.1 240.9,400.3 241.0,396.9 241.1,400.5 241.2,396.7 241.3,409.3 241.4,402.4 241.6,397.5 241.7,400.7 241.8,411.2 241.9,406.1 242.0,397.0 242.1,404.7 242.2,402.3 242.3,404.5 242.4,398.3 242.5,406.2 242.7,397.0 242.8,400.7 242.9,408.0 243.0,399.3 243.1,398.8 243.2,400.5 243.3,411.0 243.4,399.2 243.5,399.2 243.6,396.9 243.8,400.6 243.9,405.8 244.0,389.5 244.1,392.8 244.2,398.4 244.3,404.4 244.4,402.6 244.5,399.1 244.6,402.7 244.7,395.0 244.9,404.1 245.0,403.5 245.1,412.8 245.2,411.0 245.3,407.5 245.4,404.1 245.5,405.5 245.6,403.0 245.7,407.0 245.8,405.2 246.0,415.0 246.1,412.1 246.2,417.0 246.3,410.6 246.4,418.0 246.5,412.5 246.6,412.5 246.7,419.7 246.8,408.6 246.9,418.6 247.1,420.8 247.2,421.2 247.3,422.3 247.4,420.1 247.5,422.4 247.6,427.9 247.7,430.0 247.8,434.1 247.9,430.6 248.0,429.0 248.2,426.0 248.3,435.1 248.4,423.8 248.5,430.1 248.6,431.5 248.7,424.8 248.8,430.0 248.9,427.9 249.0,413.2 249.1,421.2 249.3,417.0 249.4,411.4 249.5,402.6 249.6,401.5 249.7,403.3 249.8,404.7 249.9,415.8 250.0,402.2 250.1,404.4 250.2,406.5 250.4,405.6 250.5,399.0 250.6,406.8 250.7,411.0 250.8,401.9 250.9,400.1 251.0,413.1 251.1,402.0 251.2,397.7 251.3,403.7 251.5,394.9 251.6,405.1 251.7,399.7 251.8,396.6 251.9,393.1 252.0,391.4 252.1,395.1 252.2,390.2 252.3,399.1 252.4,398.7 252.6,397.3 252.7,381.9 252.8,391.8 252.9,387.0 253.0,382.2 253.1,375.8 253.2,383.7 253.3,382.0 253.4,390.5 253.5,384.6 253.7,384.6 253.8,379.3 253.9,381.0 254.0,378.9 254.1,379.3 254.2,380.6 254.3,382.3 254.4,386.7 254.5,380.8 254.6,376.9 254.8,381.9 254.9,376.9 255.0,373.3 255.1,381.5 255.2,384.9 255.3,376.3 255.4,376.3 255.5,382.4 255.6,384.8 255.7,376.6 255.9,388.6 256.0,388.5 256.1,396.6 256.2,381.4 256.3,398.6 256.4,397.3 256.5,394.6 256.6,395.8 256.7,398.1 256.8,399.1 257.0,398.1 257.1,402.8 257.2,410.4 257.3,405.8 257.4,408.4 257.5,411.7 257.6,406.5 257.7,402.9 257.8,400.3 257.9,402.0 258.1,398.7 258.2,404.7 258.3,400.5 258.4,404.7 258.5,391.4 258.6,403.5 258.7,406.1 258.8,403.1 258.9,393.9 259.0,406.5 259.2,404.5 259.3,404.8 259.4,406.1 259.5,409.5 259.6,411.5 259.7,417.2 259.8,420.4 259.9,423.5 260.0,426.3 260.1,423.4 260.3,418.9 260.4,419.2 260.5,404.7 260.6,409.3 260.7,410.8 260.8,410.4 260.9,406.0 261.0,411.7 261.1,409.9 261.2,404.2 261.4,400.5 261.5,405.8 261.6,408.8 261.7,398.2 261.8,398.8 261.9,405.4 262.0,397.1 262.1,393.3 262.2,396.9 262.3,389.4 262.5,396.2 262.6,400.8 262.7,393.1 262.8,404.0 262.9,399.5 263.0,406.1 263.1,405.5 263.2,404.7 263.3,400.1 263.4,410.7 263.6,408.1 263.7,408.3 263.8,415.7 263.9,407.0 264.0,416.2 264.1,405.0 264.2,417.1 264.3,402.8 264.4,403.0 264.5,412.9 264.7,411.0 264.8,412.9 264.9,404.3 265.0,411.4 265.1,404.6 265.2,415.0 265.3,414.9 265.4,412.8 265.5,413.8 265.6,417.1 265.8,422.6 265.9,422.5 266.0,416.2 266.1,413.6 266.2,409.8 266.3,421.0 266.4,413.5 266.5,418.8 266.6,409.3 266.7,417.2 266.9,408.4 267.0,416.9 267.1,423.0 267.2,414.8 267.3,412.6 267.4,412.5 267.5,402.0 267.6,404.5 267.7,401.3 267.8,399.8 268.0,405.8 268.1,396.6 268.2,404.1 268.3,392.7 268.4,393.6 268.5,400.2 268.6,403.4 268.7,405.8 268.8,400.0 268.9,409.5 269.1,397.9 269.2,399.3 269.3,394.3 269.4,405.9 269.5,397.1 269.6,404.5 269.7,403.3 269.8,393.7 269.9,395.1 270.0,383.1 270.2,382.4 270.3,381.5 270.4,390.2 270.5,382.0 270.6,387.8 270.7,388.9 270.8,394.5 270.9,386.1 271.0,391.9 271.1,386.0 271.3,377.2 271.4,379.2 271.5,379.7 271.6,380.3 271.7,380.6 271.8,378.9 271.9,379.7 272.0,379.4 272.1,387.3 272.2,376.1 272.4,378.0 272.5,387.0 272.6,383.0 272.7,386.2 272.8,385.3 272.9,395.6 273.0,381.7 273.1,394.2 273.2,380.6 273.3,390.7 273.5,382.6 273.6,388.3 273.7,384.8 273.8,389.4 273.9,392.6 274.0,391.4 274.1,398.2 274.2,385.5 274.3,398.9 274.4,396.4 274.6,400.2 274.7,394.6 274.8,388.9 274.9,385.8 275.0,390.9 275.1,397.2 275.2,394.8 275.3,407.3 275.4,395.5 275.5,396.0 275.7,391.0 275.8,390.1 275.9,407.2 276.0,400.8 276.1,394.6 276.2,400.7 276.3,395.0 276.4,407.4 276.5,405.1 276.6,406.7 276.8,407.1 276.9,411.8 277.0,401.8 277.1,408.8 277.2,402.8 277.3,401.5 277.4,410.7 277.5,406.2 277.6,396.3 277.7,408.8 277.9,401.7 278.0,398.7 278.1,399.8 278.2,397.1 278.3,399.7 278.4,400.2 278.5,401.7 278.6,407.3 278.7,401.5 278.8,410.4 279.0,407.7 279.1,404.8 279.2,414.6 279.3,417.5 279.4,420.6 279.5,411.4 279.6,412.3 279.7,417.6 279.8,403.1 279.9,413.8 280.1,422.7 280.2,415.0 280.3,408.3 280.4,409.2 280.5,415.0 280.6,414.8 280.7,416.2 280.8,421.9 280.9,425.6 281.0,421.4 281.2,424.2 281.3,423.0 281.4,421.4 281.5,431.8 281.6,421.9 281.7,424.4 281.8,421.7 281.9,424.6 282.0,424.8 282.1,429.1 282.3,413.6 282.4,425.1 282.5,424.2 282.6,428.1 282.7,425.1 282.8,428.9 282.9,424.1 283.0,426.4 283.1,421.1 283.2,426.3 283.4,431.5 283.5,426.6 283.6,428.5 283.7,424.1 283.8,416.5 283.9,424.3 284.0,413.0 284.1,416.8 284.2,414.8 284.3,412.6 284.5,408.8 284.6,418.7 284.7,410.4 284.8,419.4 284.9,413.7 285.0,404.9 285.1,406.3 285.2,404.8 285.3,410.5 285.4,412.2 285.6,402.7 285.7,401.1 285.8,398.4 285.9,399.4 286.0,396.4 286.1,388.6 286.2,395.2 286.3,393.7 286.4,388.1 286.5,393.9 286.7,397.8 286.8,395.3 286.9,403.3 287.0,401.7 287.1,390.0 287.2,388.9 287.3,392.2 287.4,396.9 287.5,395.4 287.6,389.6 287.8,394.1 287.9,388.2 288.0,387.3 288.1,390.3 288.2,388.5 288.3,387.3 288.4,382.5 288.5,385.0 288.6,379.7 288.7,380.8 288.9,384.4 289.0,383.7 289.1,378.9 289.2,376.6 289.3,375.5 289.4,377.2 289.5,379.3 289.6,387.0 289.7,385.7 289.8,390.2 290.0,393.6 290.1,387.9 290.2,394.2 290.3,397.4 290.4,400.0 290.5,396.9 290.6,395.3 290.7,392.3 290.8,395.7 290.9,396.6 291.1,395.7 291.2,391.0 291.3,397.5 291.4,397.7 291.5,403.1 291.6,397.9 291.7,390.5 291.8,399.9 291.9,404.7 292.0,387.3 292.2,398.1 292.3,391.4 292.4,398.1 292.5,397.2 292.6,393.7 292.7,403.0 292.8,402.0 292.9,400.2 293.0,395.1 293.1,400.8 293.3,396.1 293.4,416.0 293.5,405.0 293.6,407.0 293.7,404.8 293.8,403.1 293.9,400.9 294.0,403.1 294.1,402.2 294.2,404.4 294.4,408.4 294.5,405.7 294.6,404.2 294.7,407.4 294.8,389.9 294.9,412.8 295.0,409.8 295.1,406.1 295.2,409.6 295.3,415.0 295.5,402.2 295.6,408.7 295.7,410.5 295.8,404.7 295.9,404.8 296.0,400.1 296.1,404.2 296.2,407.9 296.3,407.1 296.4,411.9 296.6,424.1 296.7,408.2 296.8,413.7 296.9,422.4 297.0,421.9 297.1,420.7 297.2,428.9 297.3,419.3 297.4,420.9 297.5,414.6 297.7,413.5 297.8,422.9 297.9,412.2 298.0,412.9 298.1,413.2 298.2,413.2 298.3,416.4 298.4,408.3 298.5,410.9 298.6,413.6 298.8,411.3 298.9,416.9 299.0,416.6 299.1,416.7 299.2,412.0 299.3,419.3 299.4,423.2 299.5,424.7 299.6,421.9 299.7,423.7 299.9,426.4 300.0,423.0 300.1,416.2 300.2,423.3 300.3,420.6 300.4,424.1 300.5,426.4 300.6,424.1 300.7,412.1 300.8,415.2 301.0,417.1 301.1,414.0 301.2,417.4 301.3,404.5 301.4,412.8 301.5,399.8 301.6,406.8 301.7,404.5 301.8,401.7 301.9,411.8 302.1,407.9 302.2,398.4 302.3,393.9 302.4,392.7 302.5,408.2 302.6,394.2 302.7,403.7 302.8,400.5 302.9,396.4 303.0,392.2 303.2,399.0 303.3,400.3 303.4,396.7 303.5,388.4 303.6,400.3 303.7,394.2 303.8,391.3 303.9,394.0 304.0,396.8 304.1,390.2 304.3,395.7 304.4,387.7 304.5,386.5 304.6,390.7 304.7,390.8 304.8,388.7 304.9,394.1 305.0,388.5 305.1,386.0 305.2,381.3 305.4,375.5 305.5,373.6 305.6,377.8 305.7,371.2 305.8,370.9 305.9,365.3 306.0,362.0 306.1,356.9 306.2,352.9 306.3,356.3 306.5,364.7 306.6,364.1 306.7,366.9 306.8,378.5 306.9,370.1 307.0,370.0 307.1,378.3 307.2,366.7 307.3,379.8 307.4,381.4 307.6,373.9 307.7,374.7 307.8,389.4 307.9,387.9 308.0,385.8 308.1,388.1 308.2,389.4 308.3,384.2 308.4,390.6 308.5,389.5 308.7,391.8 308.8,390.8 308.9,388.4 309.0,388.9 309.1,382.6 309.2,374.1 309.3,389.9 309.4,386.3 309.5,383.2 309.6,390.8 309.8,390.2 309.9,389.2 310.0,395.2 310.1,388.3 310.2,400.9 310.3,396.2 310.4,407.3 310.5,398.4 310.6,390.5 310.7,399.4 310.9,395.3 311.0,387.2 311.1,390.7 311.2,391.3 311.3,394.2 311.4,397.7 311.5,400.0 311.6,398.8 311.7,391.7 311.8,400.5 312.0,389.1 312.1,397.1 312.2,397.9 312.3,393.3 312.4,395.2 312.5,407.2 312.6,399.1 312.7,406.2 312.8,393.3 312.9,404.2 313.1,401.3 313.2,407.6 313.3,409.7 313.4,395.7 313.5,402.4 313.6,405.9 313.7,406.0 313.8,402.3 313.9,404.5 314.0,409.9 314.2,413.1 314.3,405.7 314.4,403.5 314.5,410.4 314.6,423.1 314.7,405.5 314.8,407.1 314.9,404.3 315.0,406.7 315.1,401.4 315.3,409.8 315.4,403.6 315.5,407.6 315.6,405.2 315.7,399.6 315.8,404.6 315.9,398.4 316.0,393.9 316.1,398.1 316.2,404.6 316.4,401.5 316.5,393.5 316.6,400.8 316.7,395.8 316.8,396.4 316.9,389.8 317.0,393.7 317.1,385.9 317.2,391.3 317.3,394.5 317.5,400.5 317.6,393.6 317.7,394.7 317.8,400.6 317.9,390.5 318.0,391.6 318.1,403.6 318.2,399.8 318.3,401.3 318.4,397.3 318.6,391.9 318.7,393.4 318.8,393.4 318.9,390.7 319.0,390.3 319.1,392.5 319.2,389.2 319.3,394.3 319.4,398.5 319.5,398.6 319.7,379.8 319.8,386.3 319.9,392.5 320.0,388.9 320.1,394.8 320.2,385.2 320.3,392.2 320.4,389.0 320.5,391.3 320.6,395.7 320.8,394.0 320.9,387.8 321.0,390.9 321.1,389.8 321.2,382.4 321.3,393.6 321.4,389.1 321.5,387.6 321.6,381.7 321.7,382.0 321.9,378.8 322.0,384.5 322.1,379.1 322.2,383.6 322.3,378.1 322.4,378.1 322.5,375.3 322.6,387.9 322.7,375.5 322.8,380.4 323.0,379.5 323.1,373.8 323.2,373.3 323.3,365.7 323.4,362.1 323.5,355.7 323.6,352.9 323.7,356.9 323.8,359.8 323.9,366.3 324.1,377.3 324.2,373.0 324.3,367.2 324.4,379.0 324.5,381.9 324.6,383.1 324.7,375.5 324.8,371.9 324.9,373.8 325.0,376.0 325.2,373.9 325.3,378.9 325.4,380.2 325.5,385.3 325.6,388.0 325.7,384.4 325.8,384.5 325.9,400.5 326.0,389.6 326.1,384.2 326.3,401.2 326.4,388.0 326.5,401.5 326.6,398.6 326.7,402.6 326.8,389.8 326.9,390.7 327.0,388.7 327.1,404.3 327.2,397.6 327.4,389.0 327.5,399.8 327.6,408.6 327.7,398.6 327.8,404.1 327.9,407.3 328.0,398.4 328.1,403.5 328.2,395.6 328.3,399.4 328.5,405.1 328.6,410.0 328.7,393.5 328.8,407.9 328.9,394.6 329.0,402.6 329.1,395.0 329.2,404.2 329.3,399.3 329.4,403.0 329.6,407.9 329.7,408.3 329.8,409.0 329.9,410.5 330.0,407.2 330.1,406.1 330.2,407.4 330.3,410.7 330.4,401.8 330.5,404.3 330.7,402.2 330.8,400.1 330.9,404.0 331.0,402.3 331.1,399.2 331.2,401.3 331.3,414.7 331.4,395.8 331.5,400.7 331.6,403.5 331.8,406.9 331.9,408.7 332.0,400.9 332.1,406.0 332.2,392.0 332.3,400.1 332.4,403.8 332.5,405.6 332.6,405.8 332.7,401.7 332.9,413.9 333.0,406.0 333.1,398.9 333.2,396.7 333.3,407.3 333.4,396.9 333.5,401.2 333.6,402.7 333.7,398.7 333.8,406.2 334.0,403.7 334.1,403.3 334.2,402.6 334.3,405.9 334.4,395.8 334.5,395.3 334.6,406.3 334.7,402.5 334.8,401.7 334.9,399.9 335.1,399.2 335.2,406.3 335.3,400.4 335.4,399.6 335.5,398.2 335.6,402.4 335.7,398.9 335.8,398.6 335.9,409.0 336.0,397.9 336.2,402.2 336.3,409.8 336.4,400.0 336.5,402.2 336.6,401.4 336.7,404.5 336.8,402.8 336.9,395.0 337.0,395.8 337.1,387.9 337.3,399.9 337.4,397.2 337.5,395.3 337.6,398.2 337.7,390.4 337.8,408.3 337.9,398.0 338.0,401.0 338.1,394.8 338.2,395.5 338.4,404.8 338.5,400.8 338.6,403.7 338.7,408.1 338.8,403.0 338.9,402.9 339.0,404.0 339.1,404.7 339.2,400.8 339.3,401.8 339.5,397.7 339.6,394.9 339.7,389.6 339.8,400.7 339.9,387.0 340.0,394.0 340.1,391.0 340.2,393.6 340.3,384.2 340.4,394.7 340.6,387.0 340.7,385.1 340.8,385.0 340.9,390.8 341.0,389.4 341.1,389.4 341.2,375.9 341.3,376.5 341.4,371.2 341.5,364.4 341.7,360.8 341.8,363.5 341.9,371.2 342.0,373.4 342.1,381.7 342.2,380.4 342.3,387.1 342.4,380.6 342.5,386.2 342.6,386.3 342.8,387.1 342.9,380.1 343.0,387.7 343.1,384.3 343.2,390.3 343.3,391.7 343.4,388.8 343.5,386.8 343.6,382.0 343.7,397.4 343.9,401.0 344.0,394.2 344.1,402.3 344.2,399.5 344.3,392.9 344.4,394.3 344.5,400.4 344.6,390.1 344.7,402.0 344.8,398.7 345.0,404.8 345.1,400.1 345.2,405.9 345.3,393.0 345.4,394.4 345.5,410.8 345.6,399.7 345.7,405.0 345.8,396.7 345.9,406.4 346.1,400.2 346.2,403.2 346.3,397.8 346.4,404.1 346.5,401.7 346.6,409.6 346.7,402.6 346.8,402.1 346.9,408.7 347.0,394.8 347.2,406.3 347.3,401.6 347.4,398.7 347.5,401.5 347.6,406.0 347.7,406.2 347.8,403.7 347.9,406.6 348.0,399.7 348.1,402.7 348.3,404.3 348.4,400.4 348.5,398.9 348.6,401.7 348.7,398.4 348.8,401.1 348.9,404.1 349.0,408.2 349.1,401.4 349.2,409.1 349.4,398.8 349.5,396.4 349.6,404.1 349.7,403.0 349.8,405.6 349.9,397.8 350.0,406.4 350.1,405.2 350.2,407.2 350.3,413.3 350.5,414.0 350.6,408.1 350.7,409.4 350.8,410.5 350.9,419.8 351.0,414.1 351.1,413.7 351.2,417.3 351.3,416.6 351.4,417.8 351.6,419.6 351.7,422.0 351.8,416.3 351.9,420.0 352.0,420.4 352.1,421.8 352.2,423.4 352.3,429.0 352.4,425.1 352.5,424.4 352.7,426.0 352.8,426.2 352.9,427.1 353.0,432.6 353.1,429.7 353.2,423.2 353.3,419.2 353.4,437.6 353.5,435.3 353.6,435.6 353.8,431.6 353.9,424.3 354.0,437.0 354.1,428.1 354.2,436.5 354.3,437.7 354.4,434.1 354.5,436.4 354.6,423.7 354.7,422.7" fill="none" stroke="#E24A33" stroke-width="0.9" stroke-linejoin="round"/>
<polyline points="171.7,406.5 171.8,406.8 171.9,404.7 172.0,405.7 172.1,405.1 172.3,404.4 172.4,408.6 172.5,404.7 172.6,404.3 172.7,403.3 172.8,405.5 172.9,402.4 173.0,403.8 173.1,405.2 173.2,404.2 173.4,400.6 173.5,405.4 173.6,402.6 173.7,404.1 173.8,403.2 173.9,405.1 174.0,401.9 174.1,401.1 174.2,403.1 174.3,405.5 174.5,403.8 174.6,404.6 174.7,405.9 174.8,400.2 174.9,405.7 175.0,405.5 175.1,403.4 175.2,403.4 175.3,402.1 175.4,405.6 175.6,403.6 175.7,406.6 175.8,408.1 175.9,404.4 176.0,408.6 176.1,409.0 176.2,409.6 176.3,411.4 176.4,410.9 176.5,409.2 176.7,412.9 176.8,414.4 176.9,414.6 177.0,414.9 177.1,423.1 177.2,422.5 177.3,423.9 177.4,423.4 177.5,420.1 177.6,423.7 177.8,425.8 177.9,424.8 178.0,426.0 178.1,429.4 178.2,433.3 178.3,429.9 178.4,431.2 178.5,432.0 178.6,437.1 178.7,436.2 178.9,433.5 179.0,430.4 179.1,428.2 179.2,428.0 179.3,428.6 179.4,422.0 179.5,421.2 179.6,416.6 179.7,415.7 179.8,411.1 180.0,414.2 180.1,409.7 180.2,412.3 180.3,411.9 180.4,413.9 180.5,412.5 180.6,412.2 180.7,407.3 180.8,407.3 180.9,406.7 181.1,405.3 181.2,404.2 181.3,406.3 181.4,403.5 181.5,403.3 181.6,401.0 181.7,401.7 181.8,400.2 181.9,403.9 182.0,401.7 182.2,402.2 182.3,401.1 182.4,397.8 182.5,398.9 182.6,393.3 182.7,397.1 182.8,394.7 182.9,393.8 183.0,392.9 183.1,392.8 183.3,390.2 183.4,389.4 183.5,387.1 183.6,388.1 183.7,388.1 183.8,388.6 183.9,385.4 184.0,383.1 184.1,382.2 184.2,385.5 184.4,384.1 184.5,385.3 184.6,387.2 184.7,382.0 184.8,385.4 184.9,384.5 185.0,379.5 185.1,380.7 185.2,383.4 185.3,381.0 185.5,381.4 185.6,384.9 185.7,382.8 185.8,382.9 185.9,386.1 186.0,385.1 186.1,385.4 186.2,388.9 186.3,388.2 186.4,383.5 186.6,389.5 186.7,388.2 186.8,389.4 186.9,390.1 187.0,393.3 187.1,391.4 187.2,391.4 187.3,393.4 187.4,389.7 187.5,394.4 187.7,394.9 187.8,393.7 187.9,393.1 188.0,394.3 188.1,395.3 188.2,398.1 188.3,399.1 188.4,399.2 188.5,400.4 188.6,403.1 188.8,400.6 188.9,400.0 189.0,405.3 189.1,400.4 189.2,402.4 189.3,403.3 189.4,403.1 189.5,402.6 189.6,406.1 189.7,405.0 189.9,406.2 190.0,405.4 190.1,408.8 190.2,404.1 190.3,402.8 190.4,404.1 190.5,404.8 190.6,404.1 190.7,404.6 190.8,405.1 191.0,407.5 191.1,404.8 191.2,406.4 191.3,409.1 191.4,410.1 191.5,411.5 191.6,413.8 191.7,413.5 191.8,416.1 191.9,418.0 192.1,419.4 192.2,418.5 192.3,418.4 192.4,416.4 192.5,415.6 192.6,414.5 192.7,417.1 192.8,418.1 192.9,414.2 193.0,412.9 193.2,406.4 193.3,408.5 193.4,405.7 193.5,405.1 193.6,401.3 193.7,400.3 193.8,399.7 193.9,400.3 194.0,405.6 194.1,403.1 194.3,399.8 194.4,402.0 194.5,402.9 194.6,407.9 194.7,400.5 194.8,404.6 194.9,404.3 195.0,406.4 195.1,404.9 195.2,400.6 195.4,398.6 195.5,399.6 195.6,402.0 195.7,403.0 195.8,401.4 195.9,401.4 196.0,404.4 196.1,404.5 196.2,403.5 196.3,402.5 196.5,400.7 196.6,399.6 196.7,406.4 196.8,401.5 196.9,401.5 197.0,405.1 197.1,400.6 197.2,402.4 197.3,399.6 197.4,400.9 197.6,398.2 197.7,400.8 197.8,402.4 197.9,399.2 198.0,400.2 198.1,401.8 198.2,401.4 198.3,397.5 198.4,397.4 198.5,398.8 198.7,402.4 198.8,396.6 198.9,396.4 199.0,396.7 199.1,396.9 199.2,396.4 199.3,394.9 199.4,397.0 199.5,392.7 199.6,397.0 199.8,392.9 199.9,393.0 200.0,388.8 200.1,391.1 200.2,387.6 200.3,385.4 200.4,388.0 200.5,386.8 200.6,384.0 200.7,381.3 200.9,385.8 201.0,382.9 201.1,383.0 201.2,383.1 201.3,382.3 201.4,374.7 201.5,372.0 201.6,379.2 201.7,373.0 201.8,378.1 202.0,375.7 202.1,374.1 202.2,374.8 202.3,373.0 202.4,375.8 202.5,375.3 202.6,377.2 202.7,381.3 202.8,378.6 202.9,382.4 203.1,384.9 203.2,380.8 203.3,382.0 203.4,383.1 203.5,383.3 203.6,382.2 203.7,386.3 203.8,388.2 203.9,387.2 204.0,386.1 204.2,387.5 204.3,389.0 204.4,387.7 204.5,390.5 204.6,390.6 204.7,393.6 204.8,393.4 204.9,392.7 205.0,390.9 205.1,394.0 205.3,398.0 205.4,399.5 205.5,395.3 205.6,401.1 205.7,395.7 205.8,396.5 205.9,397.6 206.0,395.4 206.1,396.0 206.2,396.7 206.4,396.8 206.5,397.7 206.6,400.1 206.7,401.0 206.8,403.1 206.9,399.8 207.0,396.8 207.1,399.4 207.2,396.8 207.3,400.1 207.5,398.0 207.6,400.1 207.7,399.5 207.8,399.8 207.9,399.2 208.0,402.5 208.1,395.6 208.2,400.8 208.3,401.6 208.4,400.6 208.6,400.5 208.7,401.1 208.8,400.3 208.9,398.9 209.0,402.7 209.1,403.1 209.2,402.6 209.3,400.8 209.4,403.2 209.5,402.1 209.7,403.9 209.8,400.4 209.9,397.2 210.0,399.2 210.1,402.2 210.2,399.0 210.3,402.7 210.4,399.2 210.5,401.3 210.6,401.4 210.8,399.3 210.9,400.7 211.0,401.7 211.1,398.1 211.2,398.2 211.3,398.9 211.4,400.8 211.5,401.4 211.6,398.0 211.7,399.3 211.9,401.4 212.0,401.1 212.1,404.0 212.2,399.6 212.3,398.3 212.4,396.7 212.5,397.4 212.6,395.2 212.7,399.1 212.8,401.4 213.0,395.4 213.1,395.6 213.2,396.1 213.3,398.0 213.4,397.1 213.5,400.5 213.6,400.2 213.7,396.9 213.8,398.2 213.9,396.9 214.1,400.4 214.2,403.5 214.3,398.5 214.4,400.3 214.5,399.1 214.6,401.3 214.7,400.7 214.8,399.3 214.9,399.7 215.0,403.8 215.2,402.2 215.3,394.7 215.4,396.7 215.5,396.5 215.6,397.8 215.7,394.3 215.8,396.7 215.9,396.9 216.0,396.9 216.1,392.7 216.3,398.5 216.4,393.0 216.5,392.4 216.6,397.4 216.7,397.1 216.8,395.0 216.9,396.8 217.0,395.3 217.1,394.0 217.2,389.9 217.4,389.7 217.5,388.6 217.6,389.0 217.7,388.7 217.8,384.3 217.9,381.5 218.0,379.4 218.1,380.7 218.2,376.4 218.3,379.3 218.5,374.6 218.6,373.9 218.7,375.0 218.8,373.6 218.9,372.4 219.0,374.3 219.1,374.3 219.2,372.4 219.3,372.3 219.4,371.7 219.6,370.1 219.7,374.2 219.8,377.0 219.9,376.4 220.0,381.4 220.1,382.9 220.2,378.7 220.3,384.2 220.4,388.4 220.5,388.0 220.7,391.0 220.8,392.0 220.9,389.5 221.0,394.2 221.1,394.3 221.2,393.5 221.3,399.3 221.4,398.8 221.5,400.3 221.6,404.4 221.8,405.4 221.9,403.3 222.0,402.0 222.1,402.8 222.2,406.3 222.3,402.8 222.4,407.0 222.5,406.3 222.6,402.7 222.7,407.3 222.9,402.4 223.0,403.5 223.1,403.8 223.2,401.2 223.3,403.3 223.4,404.5 223.5,406.5 223.6,404.9 223.7,401.8 223.8,403.7 224.0,404.5 224.1,403.4 224.2,402.7 224.3,403.5 224.4,401.3 224.5,402.8 224.6,401.6 224.7,403.7 224.8,400.9 224.9,398.5 225.1,401.7 225.2,400.5 225.3,400.9 225.4,403.4 225.5,401.5 225.6,400.1 225.7,401.3 225.8,406.2 225.9,407.0 226.0,403.5 226.2,405.2 226.3,401.3 226.4,406.5 226.5,404.1 226.6,405.8 226.7,403.9 226.8,404.6 226.9,401.4 227.0,405.3 227.1,404.2 227.3,405.3 227.4,408.3 227.5,400.1 227.6,406.0 227.7,404.5 227.8,404.5 227.9,404.2 228.0,401.4 228.1,398.8 228.2,401.6 228.4,402.8 228.5,399.1 228.6,403.7 228.7,403.9 228.8,401.2 228.9,404.4 229.0,404.2 229.1,404.8 229.2,404.3 229.3,406.7 229.5,405.9 229.6,409.8 229.7,406.7 229.8,408.5 229.9,409.4 230.0,402.9 230.1,406.3 230.2,406.5 230.3,406.7 230.4,406.3 230.6,407.7 230.7,407.2 230.8,405.4 230.9,409.1 231.0,406.2 231.1,407.4 231.2,405.3 231.3,404.1 231.4,404.5 231.5,409.2 231.7,408.0 231.8,405.2 231.9,407.6 232.0,404.1 232.1,404.2 232.2,401.5 232.3,403.5 232.4,404.7 232.5,407.6 232.6,401.5 232.8,402.9 232.9,403.4 233.0,405.3 233.1,402.3 233.2,401.6 233.3,405.6 233.4,402.1 233.5,405.2 233.6,403.0 233.7,402.1 233.9,401.9 234.0,396.9 234.1,403.4 234.2,395.7 234.3,393.9 234.4,397.0 234.5,389.7 234.6,394.4 234.7,394.6 234.8,392.7 235.0,392.0 235.1,390.9 235.2,390.7 235.3,390.3 235.4,393.1 235.5,389.4 235.6,386.6 235.7,387.3 235.8,388.7 235.9,388.6 236.1,383.4 236.2,385.2 236.3,380.3 236.4,382.9 236.5,386.1 236.6,383.3 236.7,381.2 236.8,379.0 236.9,379.6 237.0,379.2 237.2,380.4 237.3,381.3 237.4,381.7 237.5,379.1 237.6,381.4 237.7,382.4 237.8,383.1 237.9,388.6 238.0,384.7 238.1,389.2 238.3,390.2 238.4,391.0 238.5,391.5 238.6,390.7 238.7,392.7 238.8,394.9 238.9,392.4 239.0,398.2 239.1,394.9 239.2,398.1 239.4,397.6 239.5,401.6 239.6,402.8 239.7,404.1 239.8,406.2 239.9,401.4 240.0,395.7 240.1,399.1 240.2,399.1 240.3,404.2 240.5,403.7 240.6,399.1 240.7,402.3 240.8,400.5 240.9,400.7 241.0,402.7 241.1,399.7 241.2,402.8 241.3,402.7 241.4,405.7 241.6,404.2 241.7,403.1 241.8,404.9 241.9,401.8 242.0,403.1 242.1,400.5 242.2,402.0 242.3,403.3 242.4,405.5 242.5,407.8 242.7,408.5 242.8,405.1 242.9,404.6 243.0,403.8 243.1,402.6 243.2,407.0 243.3,401.9 243.4,405.7 243.5,403.4 243.6,404.0 243.8,407.3 243.9,403.0 244.0,405.2 244.1,402.6 244.2,404.0 244.3,403.3 244.4,403.3 244.5,400.9 244.6,403.1 244.7,405.1 244.9,403.4 245.0,406.1 245.1,407.2 245.2,407.2 245.3,407.0 245.4,407.8 245.5,405.6 245.6,407.2 245.7,406.9 245.8,409.1 246.0,406.9 246.1,405.3 246.2,408.8 246.3,408.6 246.4,413.4 246.5,409.6 246.6,412.1 246.7,413.8 246.8,414.1 246.9,416.5 247.1,421.8 247.2,418.4 247.3,422.1 247.4,420.5 247.5,421.7 247.6,425.0 247.7,429.6 247.8,428.3 247.9,429.1 248.0,427.8 248.2,430.4 248.3,435.5 248.4,428.3 248.5,423.9 248.6,425.4 248.7,421.1 248.8,419.0 248.9,415.7 249.0,418.1 249.1,415.0 249.3,411.9 249.4,411.6 249.5,408.9 249.6,407.0 249.7,408.2 249.8,403.5 249.9,405.6 250.0,402.8 250.1,404.2 250.2,407.1 250.4,404.5 250.5,408.2 250.6,406.3 250.7,404.8 250.8,401.7 250.9,403.8 251.0,404.4 251.1,404.2 251.2,402.8 251.3,400.1 251.5,404.4 251.6,399.7 251.7,400.6 251.8,395.9 251.9,398.1 252.0,398.9 252.1,398.2 252.2,393.4 252.3,395.6 252.4,393.4 252.6,392.7 252.7,393.7 252.8,392.7 252.9,394.1 253.0,387.1 253.1,389.1 253.2,388.1 253.3,385.2 253.4,387.9 253.5,386.7 253.7,383.9 253.8,385.7 253.9,384.1 254.0,386.1 254.1,381.7 254.2,384.7 254.3,383.7 254.4,384.1 254.5,386.3 254.6,389.9 254.8,386.9 254.9,388.0 255.0,388.9 255.1,390.6 255.2,386.7 255.3,393.9 255.4,395.0 255.5,394.3 255.6,392.7 255.7,389.9 255.9,392.1 256.0,394.8 256.1,394.1 256.2,392.8 256.3,395.2 256.4,393.9 256.5,394.0 256.6,398.3 256.7,396.8 256.8,396.7 257.0,399.1 257.1,399.3 257.2,403.2 257.3,405.1 257.4,406.2 257.5,403.6 257.6,403.8 257.7,407.6 257.8,404.1 257.9,403.3 258.1,405.1 258.2,401.6 258.3,406.7 258.4,406.9 258.5,405.2 258.6,398.3 258.7,404.4 258.8,405.6 258.9,405.5 259.0,409.6 259.2,403.1 259.3,403.8 259.4,406.5 259.5,405.0 259.6,407.6 259.7,405.5 259.8,405.4 259.9,405.6 260.0,408.4 260.1,409.0 260.3,412.7 260.4,412.6 260.5,408.9 260.6,414.1 260.7,409.1 260.8,405.9 260.9,410.4 261.0,405.0 261.1,405.8 261.2,407.2 261.4,403.7 261.5,406.7 261.6,406.6 261.7,404.2 261.8,405.2 261.9,406.1 262.0,404.7 262.1,400.5 262.2,403.9 262.3,405.1 262.5,407.8 262.6,407.0 262.7,407.0 262.8,404.2 262.9,407.7 263.0,411.4 263.1,407.1 263.2,406.0 263.3,406.4 263.4,407.1 263.6,405.3 263.7,406.4 263.8,403.5 263.9,405.7 264.0,406.1 264.1,405.5 264.2,406.0 264.3,411.2 264.4,408.6 264.5,410.3 264.7,407.5 264.8,410.6 264.9,410.9 265.0,416.0 265.1,413.6 265.2,412.6 265.3,414.9 265.4,414.8 265.5,414.6 265.6,411.6 265.8,413.1 265.9,419.0 266.0,420.8 266.1,421.9 266.2,425.8 266.3,423.5 266.4,426.5 266.5,423.7 266.6,418.4 266.7,416.5 266.9,414.5 267.0,413.8 267.1,414.6 267.2,410.6 267.3,407.0 267.4,402.5 267.5,406.0 267.6,403.5 267.7,399.2 267.8,403.7 268.0,403.2 268.1,403.4 268.2,403.1 268.3,401.1 268.4,402.8 268.5,401.0 268.6,401.3 268.7,402.2 268.8,402.2 268.9,398.9 269.1,402.8 269.2,398.6 269.3,395.5 269.4,401.4 269.5,401.6 269.6,401.5 269.7,397.3 269.8,396.0 269.9,394.4 270.0,397.0 270.2,395.8 270.3,395.2 270.4,393.6 270.5,390.5 270.6,391.3 270.7,391.1 270.8,389.0 270.9,391.2 271.0,382.1 271.1,386.7 271.3,385.7 271.4,385.7 271.5,385.4 271.6,384.6 271.7,384.5 271.8,383.4 271.9,381.6 272.0,384.7 272.1,384.9 272.2,380.6 272.4,384.4 272.5,385.0 272.6,387.2 272.7,387.5 272.8,386.4 272.9,390.0 273.0,386.8 273.1,393.4 273.2,389.9 273.3,390.5 273.5,393.9 273.6,393.5 273.7,396.3 273.8,398.5 273.9,395.8 274.0,395.5 274.1,394.1 274.2,397.0 274.3,395.5 274.4,398.6 274.6,393.2 274.7,397.3 274.8,399.4 274.9,398.6 275.0,402.8 275.1,403.5 275.2,398.6 275.3,403.8 275.4,402.1 275.5,404.1 275.7,404.8 275.8,403.4 275.9,403.9 276.0,404.9 276.1,403.1 276.2,406.2 276.3,407.4 276.4,405.4 276.5,404.7 276.6,405.1 276.8,405.2 276.9,406.0 277.0,403.8 277.1,405.9 277.2,404.5 277.3,406.8 277.4,409.9 277.5,407.7 277.6,404.9 277.7,406.6 277.9,405.8 278.0,405.3 278.1,408.6 278.2,410.1 278.3,409.1 278.4,409.4 278.5,409.1 278.6,410.7 278.7,412.8 278.8,412.6 279.0,413.7 279.1,412.7 279.2,409.9 279.3,416.9 279.4,415.7 279.5,417.0 279.6,417.4 279.7,417.6 279.8,415.8 279.9,413.9 280.1,415.7 280.2,415.2 280.3,415.2 280.4,419.4 280.5,423.8 280.6,420.0 280.7,422.0 280.8,424.3 280.9,422.2 281.0,424.5 281.2,425.6 281.3,423.9 281.4,428.7 281.5,431.4 281.6,433.1 281.7,433.0 281.8,433.5 281.9,437.7 282.0,431.5 282.1,436.1 282.3,435.8 282.4,433.2 282.5,437.1 282.6,438.0 282.7,433.9 282.8,433.0 282.9,433.7 283.0,432.8 283.1,437.0 283.2,429.9 283.4,428.8 283.5,428.7 283.6,425.1 283.7,423.6 283.8,421.8 283.9,420.7 284.0,420.4 284.1,414.6 284.2,416.4 284.3,411.0 284.5,409.1 284.6,412.0 284.7,410.9 284.8,409.8 284.9,409.6 285.0,406.8 285.1,405.5 285.2,407.7 285.3,404.5 285.4,405.6 285.6,407.9 285.7,402.1 285.8,402.1 285.9,404.7 286.0,404.2 286.1,401.2 286.2,401.9 286.3,399.8 286.4,399.2 286.5,398.7 286.7,397.9 286.8,393.0 286.9,391.4 287.0,393.4 287.1,389.7 287.2,391.7 287.3,388.7 287.4,386.8 287.5,387.3 287.6,391.9 287.8,385.5 287.9,384.3 288.0,383.7 288.1,386.6 288.2,389.0 288.3,385.8 288.4,385.0 288.5,383.6 288.6,384.7 288.7,384.1 288.9,384.2 289.0,383.8 289.1,382.8 289.2,387.0 289.3,382.5 289.4,383.2 289.5,382.7 289.6,384.8 289.7,386.2 289.8,390.9 290.0,388.6 290.1,388.7 290.2,390.6 290.3,390.2 290.4,392.2 290.5,388.6 290.6,395.4 290.7,396.2 290.8,397.2 290.9,399.9 291.1,397.8 291.2,399.3 291.3,398.8 291.4,398.2 291.5,398.2 291.6,399.0 291.7,398.9 291.8,395.2 291.9,396.7 292.0,397.5 292.2,397.5 292.3,399.3 292.4,400.0 292.5,399.8 292.6,403.2 292.7,405.6 292.8,405.4 292.9,406.4 293.0,405.3 293.1,398.9 293.3,406.3 293.4,404.0 293.5,400.4 293.6,402.9 293.7,403.5 293.8,402.8 293.9,407.1 294.0,404.5 294.1,408.8 294.2,407.6 294.4,401.3 294.5,403.3 294.6,406.1 294.7,405.1 294.8,403.9 294.9,404.9 295.0,404.6 295.1,405.2 295.2,408.4 295.3,407.8 295.5,408.3 295.6,407.9 295.7,412.6 295.8,412.1 295.9,408.9 296.0,414.1 296.1,413.0 296.2,416.2 296.3,416.2 296.4,419.8 296.6,416.4 296.7,422.9 296.8,421.5 296.9,426.7 297.0,424.5 297.1,424.7 297.2,422.6 297.3,426.5 297.4,425.1 297.5,421.8 297.7,419.2 297.8,417.2 297.9,416.6 298.0,417.1 298.1,414.2 298.2,413.2 298.3,414.1 298.4,411.5 298.5,410.7 298.6,415.0 298.8,417.4 298.9,416.6 299.0,417.5 299.1,418.9 299.2,419.1 299.3,421.2 299.4,423.0 299.5,421.8 299.6,421.4 299.7,423.2 299.9,424.4 300.0,425.7 300.1,425.3 300.2,421.4 300.3,417.8 300.4,416.4 300.5,414.7 300.6,416.4 300.7,415.6 300.8,412.0 301.0,410.8 301.1,410.8 301.2,408.8 301.3,409.8 301.4,407.0 301.5,406.8 301.6,406.6 301.7,408.8 301.8,406.5 301.9,408.3 302.1,406.3 302.2,407.6 302.3,405.8 302.4,403.3 302.5,402.7 302.6,405.6 302.7,401.5 302.8,402.3 302.9,398.8 303.0,401.4 303.2,398.5 303.3,402.6 303.4,396.8 303.5,398.6 303.6,401.0 303.7,398.4 303.8,397.0 303.9,392.4 304.0,395.8 304.1,395.5 304.3,390.7 304.4,390.7 304.5,389.5 304.6,386.5 304.7,387.0 304.8,386.0 304.9,384.6 305.0,385.1 305.1,382.6 305.2,380.5 305.4,379.3 305.5,373.5 305.6,373.4 305.7,372.5 305.8,372.8 305.9,369.4 306.0,373.4 306.1,368.5 306.2,369.9 306.3,373.4 306.5,367.0 306.6,370.5 306.7,373.6 306.8,372.2 306.9,370.8 307.0,370.9 307.1,372.6 307.2,370.9 307.3,377.7 307.4,375.1 307.6,376.2 307.7,380.2 307.8,381.4 307.9,381.3 308.0,382.9 308.1,383.1 308.2,381.8 308.3,381.7 308.4,388.1 308.5,388.4 308.7,387.5 308.8,391.3 308.9,387.5 309.0,387.8 309.1,391.4 309.2,388.7 309.3,388.8 309.4,390.4 309.5,389.2 309.6,392.7 309.8,394.8 309.9,393.5 310.0,394.9 310.1,397.4 310.2,396.3 310.3,398.5 310.4,401.5 310.5,397.2 310.6,400.7 310.7,403.8 310.9,399.6 311.0,397.3 311.1,399.9 311.2,401.3 311.3,403.8 311.4,402.9 311.5,401.2 311.6,398.2 311.7,402.1 311.8,406.3 312.0,399.7 312.1,402.2 312.2,402.6 312.3,404.4 312.4,404.0 312.5,405.2 312.6,405.1 312.7,405.0 312.8,405.6 312.9,404.5 313.1,405.9 313.2,403.7 313.3,408.0 313.4,400.8 313.5,408.9 313.6,403.9 313.7,406.8 313.8,405.6 313.9,412.1 314.0,408.0 314.2,407.5 314.3,411.9 314.4,411.0 314.5,408.9 314.6,411.5 314.7,415.1 314.8,407.5 314.9,408.6 315.0,409.2 315.1,411.0 315.3,404.7 315.4,405.6 315.5,404.7 315.6,406.5 315.7,404.2 315.8,402.1 315.9,399.2 316.0,396.5 316.1,400.4 316.2,401.4 316.4,397.0 316.5,396.0 316.6,400.5 316.7,395.9 316.8,394.4 316.9,399.5 317.0,399.2 317.1,400.3 317.2,396.5 317.3,397.5 317.5,396.9 317.6,397.7 317.7,397.2 317.8,397.8 317.9,397.5 318.0,397.6 318.1,395.9 318.2,398.4 318.3,398.0 318.4,398.4 318.6,395.9 318.7,397.0 318.8,397.0 318.9,391.6 319.0,397.6 319.1,394.9 319.2,393.2 319.3,398.4 319.4,394.1 319.5,395.7 319.7,395.4 319.8,392.7 319.9,393.9 320.0,399.5 320.1,398.2 320.2,392.9 320.3,395.8 320.4,393.3 320.5,394.7 320.6,389.9 320.8,390.8 320.9,392.2 321.0,391.2 321.1,393.6 321.2,392.7 321.3,391.8 321.4,390.3 321.5,391.9 321.6,388.9 321.7,386.1 321.9,389.1 322.0,383.0 322.1,383.4 322.2,384.4 322.3,383.7 322.4,381.5 322.5,379.2 322.6,382.9 322.7,376.2 322.8,380.0 323.0,372.7 323.1,374.0 323.2,374.9 323.3,373.6 323.4,371.6 323.5,373.4 323.6,373.1 323.7,370.0 323.8,374.3 323.9,371.5 324.1,371.4 324.2,369.4 324.3,372.1 324.4,375.1 324.5,374.6 324.6,375.8 324.7,378.5 324.8,378.5 324.9,381.2 325.0,380.9 325.2,385.4 325.3,386.5 325.4,387.7 325.5,389.1 325.6,389.7 325.7,387.7 325.8,388.2 325.9,390.1 326.0,388.9 326.1,390.2 326.3,391.1 326.4,394.7 326.5,395.1 326.6,397.0 326.7,398.8 326.8,397.5 326.9,396.8 327.0,399.3 327.1,401.1 327.2,402.6 327.4,401.3 327.5,402.9 327.6,401.1 327.7,401.8 327.8,402.1 327.9,403.7 328.0,401.0 328.1,402.6 328.2,403.1 328.3,401.3 328.5,400.8 328.6,404.9 328.7,403.1 328.8,404.8 328.9,403.1 329.0,405.3 329.1,405.4 329.2,402.9 329.3,405.2 329.4,405.8 329.6,403.5 329.7,404.2 329.8,406.5 329.9,402.4 330.0,405.1 330.1,402.8 330.2,407.2 330.3,406.7 330.4,402.8 330.5,403.4 330.7,404.7 330.8,405.3 330.9,404.4 331.0,406.2 331.1,404.9 331.2,402.9 331.3,406.3 331.4,404.0 331.5,404.9 331.6,406.4 331.8,402.9 331.9,404.7 332.0,402.8 332.1,403.3 332.2,405.7 332.3,406.6 332.4,400.6 332.5,407.2 332.6,406.4 332.7,403.9 332.9,408.2 333.0,405.8 333.1,407.1 333.2,402.6 333.3,408.5 333.4,403.6 333.5,403.8 333.6,408.0 333.7,409.8 333.8,408.5 334.0,411.4 334.1,413.1 334.2,411.0 334.3,413.5 334.4,414.2 334.5,412.1 334.6,411.3 334.7,412.5 334.8,412.6 334.9,414.6 335.1,415.0 335.2,408.6 335.3,415.2 335.4,406.0 335.5,406.9 335.6,406.0 335.7,409.2 335.8,405.1 335.9,407.1 336.0,405.6 336.2,403.8 336.3,404.0 336.4,401.9 336.5,403.0 336.6,403.2 336.7,408.5 336.8,399.8 336.9,402.8 337.0,401.1 337.1,405.3 337.3,403.7 337.4,401.9 337.5,402.8 337.6,399.0 337.7,399.6 337.8,401.3 337.9,396.5 338.0,400.0 338.1,399.9 338.2,399.2 338.4,398.6 338.5,397.7 338.6,395.4 338.7,399.0 338.8,395.0 338.9,395.9 339.0,398.7 339.1,398.6 339.2,393.3 339.3,396.2 339.5,393.3 339.6,391.1 339.7,392.7 339.8,392.2 339.9,389.8 340.0,390.3 340.1,393.3 340.2,387.8 340.3,386.5 340.4,386.4 340.6,387.6 340.7,386.5 340.8,387.6 340.9,384.8 341.0,384.7 341.1,380.8 341.2,382.9 341.3,378.5 341.4,383.3 341.5,377.0 341.7,377.3 341.8,380.1 341.9,383.7 342.0,380.5 342.1,385.0 342.2,383.6 342.3,382.4 342.4,386.6 342.5,385.1 342.6,385.5 342.8,389.3 342.9,388.8 343.0,388.8 343.1,388.7 343.2,394.2 343.3,388.0 343.4,391.0 343.5,390.7 343.6,391.3 343.7,390.5 343.9,394.0 344.0,396.1 344.1,394.1 344.2,394.1 344.3,393.8 344.4,398.1 344.5,397.8 344.6,400.9 344.7,401.0 344.8,404.5 345.0,402.7 345.1,405.2 345.2,403.6 345.3,404.5 345.4,403.9 345.5,403.4 345.6,399.7 345.7,401.9 345.8,399.4 345.9,402.1 346.1,400.5 346.2,402.1 346.3,400.0 346.4,403.8 346.5,406.3 346.6,405.3 346.7,405.8 346.8,407.3 346.9,406.6 347.0,407.4 347.2,403.1 347.3,402.8 347.4,401.8 347.5,405.4 347.6,408.0 347.7,407.0 347.8,405.5 347.9,402.5 348.0,403.4 348.1,400.1 348.3,402.1 348.4,403.3 348.5,403.1 348.6,404.8 348.7,407.5 348.8,405.0 348.9,405.1 349.0,404.8 349.1,411.3 349.2,409.0 349.4,408.3 349.5,410.3 349.6,409.8 349.7,408.8 349.8,408.4 349.9,410.5 350.0,410.2 350.1,410.4 350.2,409.2 350.3,408.3 350.5,407.8 350.6,410.0 350.7,413.3 350.8,413.8 350.9,413.9 351.0,414.4 351.1,416.9 351.2,417.8 351.3,417.2 351.4,414.4 351.6,416.4 351.7,420.1 351.8,417.2 351.9,420.4 352.0,417.8 352.1,418.3 352.2,424.3 352.3,421.8 352.4,423.8 352.5,421.4 352.7,423.3 352.8,427.2 352.9,425.8 353.0,424.3 353.1,425.5 353.2,423.6 353.3,429.1 353.4,431.7 353.5,434.7 353.6,428.1 353.8,427.4 353.9,427.8 354.0,427.2 354.1,424.2 354.2,424.2 354.3,424.9 354.4,421.2 354.5,425.2 354.6,417.8 354.7,417.9" fill="none" stroke="#348ABD" stroke-width="1.15" stroke-linejoin="round"/>
<line x1="169.70000000000002" x2="171.3" y1="348.9" y2="348.9" stroke="#666" stroke-width="0.5"/>
<text class="tk" transform="translate(167.3,351.7) scale(0.82,1)" text-anchor="end">60</text>
<line x1="169.70000000000002" x2="171.3" y1="366.3" y2="366.3" stroke="#666" stroke-width="0.5"/>
<text class="tk" transform="translate(167.3,369.1) scale(0.82,1)" text-anchor="end">50</text>
<line x1="169.70000000000002" x2="171.3" y1="383.7" y2="383.7" stroke="#666" stroke-width="0.5"/>
<text class="tk" transform="translate(167.3,386.5) scale(0.82,1)" text-anchor="end">40</text>
<line x1="169.70000000000002" x2="171.3" y1="401.1" y2="401.1" stroke="#666" stroke-width="0.5"/>
<text class="tk" transform="translate(167.3,403.9) scale(0.82,1)" text-anchor="end">30</text>
<line x1="169.70000000000002" x2="171.3" y1="418.5" y2="418.5" stroke="#666" stroke-width="0.5"/>
<text class="tk" transform="translate(167.3,421.3) scale(0.82,1)" text-anchor="end">20</text>
<line x1="169.70000000000002" x2="171.3" y1="435.9" y2="435.9" stroke="#666" stroke-width="0.5"/>
<text class="tk" transform="translate(167.3,438.7) scale(0.82,1)" text-anchor="end">10</text>
<line x1="171.3" x2="171.3" y1="448.3" y2="449.90000000000003" stroke="#666" stroke-width="0.5"/>
<text class="tk" transform="translate(171.3,457.7) scale(0.82,1)" text-anchor="middle">0</text>
<line x1="206.4" x2="206.4" y1="448.3" y2="449.90000000000003" stroke="#666" stroke-width="0.5"/>
<text class="tk" transform="translate(206.4,457.7) scale(0.82,1)" text-anchor="middle">500</text>
<line x1="241.5" x2="241.5" y1="448.3" y2="449.90000000000003" stroke="#666" stroke-width="0.5"/>
<text class="tk" transform="translate(241.5,457.7) scale(0.82,1)" text-anchor="middle">1000</text>
<line x1="276.6" x2="276.6" y1="448.3" y2="449.90000000000003" stroke="#666" stroke-width="0.5"/>
<text class="tk" transform="translate(276.6,457.7) scale(0.82,1)" text-anchor="middle">1500</text>
<line x1="311.7" x2="311.7" y1="448.3" y2="449.90000000000003" stroke="#666" stroke-width="0.5"/>
<text class="tk" transform="translate(311.7,457.7) scale(0.82,1)" text-anchor="middle">2000</text>
<line x1="346.8" x2="346.8" y1="448.3" y2="449.90000000000003" stroke="#666" stroke-width="0.5"/>
<text class="tk" transform="translate(346.8,457.7) scale(0.82,1)" text-anchor="middle">2500</text>
<text class="tt" x="198.0" y="344.2" textLength="44.7" lengthAdjust="spacingAndGlyphs">Northbound (</text>
<text class="tt tm" x="242.9" y="344.2" textLength="91.9" lengthAdjust="spacingAndGlyphs">100%<tspan dx="4.8">−</tspan><tspan dx="2.6" class="mi">MAPE</tspan><tspan dx="0.6">:</tspan><tspan dx="1.3">90.5%)</tspan></text>
<text class="al" transform="translate(158.6,397.7) rotate(-90)" text-anchor="middle">Speed</text>
<text class="al" x="261.2" y="467.5" text-anchor="middle">Time</text></g>
<g id="plot3b"><rect x="378.9" y="349" width="166.5" height="99.3" fill="#E5E5E5"/>
<line x1="378.9" x2="545.4" y1="354.1" y2="354.1" stroke="#fff" stroke-width="0.5" opacity="0.7"/>
<line x1="378.9" x2="545.4" y1="368.3" y2="368.3" stroke="#fff" stroke-width="0.5" opacity="0.7"/>
<line x1="378.9" x2="545.4" y1="382.6" y2="382.6" stroke="#fff" stroke-width="0.5" opacity="0.7"/>
<line x1="378.9" x2="545.4" y1="396.8" y2="396.8" stroke="#fff" stroke-width="0.5" opacity="0.7"/>
<line x1="378.9" x2="545.4" y1="411" y2="411" stroke="#fff" stroke-width="0.5" opacity="0.7"/>
<line x1="378.9" x2="545.4" y1="425.3" y2="425.3" stroke="#fff" stroke-width="0.5" opacity="0.7"/>
<line x1="378.9" x2="545.4" y1="439.5" y2="439.5" stroke="#fff" stroke-width="0.5" opacity="0.7"/>
<line x1="409.7" x2="409.7" y1="349" y2="448.3" stroke="#fff" stroke-width="0.5" opacity="0.7"/>
<line x1="441.2" x2="441.2" y1="349" y2="448.3" stroke="#fff" stroke-width="0.5" opacity="0.7"/>
<line x1="474.5" x2="474.5" y1="349" y2="448.3" stroke="#fff" stroke-width="0.5" opacity="0.7"/>
<line x1="505.6" x2="505.6" y1="349" y2="448.3" stroke="#fff" stroke-width="0.5" opacity="0.7"/>
<line x1="538" x2="538" y1="349" y2="448.3" stroke="#fff" stroke-width="0.5" opacity="0.7"/>
<polyline points="379.3,423.0 379.4,428.6 379.5,431.1 379.6,429.5 379.7,429.4 379.9,432.0 380.0,429.4 380.1,428.9 380.2,433.5 380.3,430.4 380.4,432.5 380.5,432.7 380.6,434.5 380.7,435.0 380.8,436.4 381.0,429.0 381.1,427.8 381.2,433.7 381.3,435.4 381.4,432.1 381.5,433.0 381.6,426.8 381.7,431.2 381.8,429.2 381.9,429.0 382.1,430.2 382.2,432.1 382.3,431.0 382.4,439.1 382.5,433.8 382.6,432.1 382.7,428.6 382.8,434.1 382.9,433.3 383.0,434.0 383.2,434.7 383.3,428.4 383.4,430.4 383.5,431.6 383.6,431.1 383.7,429.2 383.8,432.0 383.9,432.8 384.0,435.0 384.1,427.7 384.3,429.1 384.4,430.2 384.5,432.3 384.6,431.6 384.7,424.8 384.8,420.9 384.9,423.7 385.0,426.5 385.1,425.8 385.2,421.6 385.4,423.6 385.5,419.1 385.6,422.3 385.7,423.3 385.8,414.5 385.9,425.1 386.0,416.4 386.1,409.8 386.2,415.4 386.3,410.6 386.5,403.4 386.6,414.2 386.7,411.7 386.8,409.5 386.9,401.8 387.0,399.7 387.1,402.6 387.2,400.2 387.3,389.3 387.4,383.5 387.6,375.6 387.7,368.7 387.8,363.1 387.9,369.2 388.0,381.1 388.1,386.8 388.2,398.8 388.3,399.7 388.4,408.0 388.5,403.7 388.7,403.6 388.8,404.9 388.9,400.6 389.0,398.0 389.1,405.2 389.2,401.7 389.3,402.5 389.4,400.7 389.5,404.4 389.6,400.3 389.8,406.7 389.9,405.0 390.0,404.5 390.1,409.4 390.2,407.3 390.3,414.5 390.4,404.6 390.5,410.4 390.6,410.5 390.7,409.4 390.9,409.7 391.0,407.8 391.1,412.3 391.2,413.1 391.3,418.2 391.4,410.8 391.5,413.0 391.6,414.7 391.7,420.3 391.8,420.7 392.0,419.5 392.1,420.0 392.2,421.1 392.3,426.5 392.4,426.1 392.5,425.4 392.6,428.6 392.7,425.9 392.8,423.0 392.9,426.8 393.1,422.5 393.2,429.7 393.3,421.8 393.4,421.7 393.5,426.3 393.6,430.0 393.7,428.8 393.8,421.3 393.9,433.0 394.0,426.7 394.2,427.3 394.3,429.1 394.4,427.2 394.5,431.8 394.6,431.9 394.7,431.7 394.8,431.4 394.9,428.1 395.0,431.7 395.1,428.0 395.3,429.8 395.4,430.7 395.5,429.5 395.6,429.4 395.7,428.4 395.8,432.1 395.9,429.1 396.0,428.1 396.1,431.5 396.2,428.2 396.4,429.6 396.5,426.6 396.6,435.4 396.7,433.7 396.8,431.1 396.9,428.3 397.0,435.1 397.1,431.6 397.2,431.8 397.3,434.8 397.5,433.9 397.6,436.8 397.7,435.5 397.8,437.0 397.9,434.6 398.0,437.4 398.1,436.8 398.2,435.9 398.3,434.5 398.4,439.5 398.6,434.2 398.7,437.5 398.8,433.2 398.9,434.1 399.0,430.9 399.1,435.0 399.2,434.1 399.3,430.1 399.4,436.7 399.5,435.3 399.7,432.9 399.8,428.5 399.9,426.7 400.0,425.8 400.1,428.2 400.2,427.3 400.3,430.5 400.4,427.6 400.5,425.7 400.6,424.5 400.8,425.4 400.9,428.2 401.0,420.7 401.1,423.2 401.2,420.1 401.3,421.0 401.4,422.7 401.5,415.1 401.6,420.8 401.7,422.6 401.9,418.5 402.0,417.2 402.1,415.7 402.2,415.3 402.3,418.2 402.4,418.6 402.5,413.1 402.6,417.8 402.7,416.0 402.8,412.5 403.0,415.9 403.1,408.8 403.2,411.7 403.3,413.8 403.4,407.9 403.5,406.8 403.6,399.0 403.7,394.4 403.8,390.8 403.9,384.5 404.1,381.1 404.2,383.5 404.3,387.7 404.4,394.7 404.5,394.3 404.6,401.3 404.7,396.0 404.8,397.9 404.9,396.7 405.0,392.0 405.2,394.6 405.3,391.0 405.4,392.3 405.5,390.5 405.6,387.2 405.7,391.9 405.8,392.3 405.9,393.2 406.0,391.6 406.1,390.3 406.3,387.6 406.4,392.8 406.5,390.5 406.6,394.3 406.7,393.0 406.8,396.1 406.9,396.3 407.0,390.8 407.1,392.6 407.2,398.8 407.4,401.7 407.5,398.2 407.6,403.0 407.7,404.8 407.8,404.8 407.9,407.3 408.0,409.2 408.1,414.7 408.2,414.2 408.3,410.5 408.5,414.8 408.6,414.3 408.7,413.8 408.8,411.6 408.9,411.1 409.0,414.5 409.1,408.9 409.2,410.8 409.3,412.4 409.4,414.9 409.6,416.7 409.7,414.0 409.8,416.9 409.9,412.7 410.0,418.5 410.1,410.4 410.2,423.2 410.3,416.1 410.4,418.1 410.5,419.1 410.7,422.8 410.8,419.0 410.9,411.7 411.0,426.8 411.1,421.7 411.2,425.5 411.3,418.1 411.4,423.2 411.5,422.9 411.6,421.8 411.8,426.0 411.9,422.6 412.0,424.7 412.1,426.0 412.2,423.9 412.3,421.7 412.4,425.7 412.5,422.6 412.6,429.9 412.7,423.7 412.9,418.7 413.0,419.1 413.1,419.2 413.2,424.0 413.3,425.7 413.4,421.6 413.5,424.9 413.6,424.6 413.7,423.4 413.8,427.7 414.0,426.3 414.1,428.0 414.2,425.1 414.3,432.1 414.4,433.5 414.5,429.0 414.6,429.0 414.7,432.9 414.8,428.5 414.9,433.0 415.1,429.1 415.2,425.5 415.3,432.8 415.4,422.5 415.5,427.9 415.6,419.1 415.7,422.7 415.8,415.4 415.9,419.7 416.0,420.4 416.2,420.6 416.3,418.8 416.4,416.7 416.5,421.7 416.6,423.3 416.7,412.9 416.8,419.3 416.9,420.7 417.0,416.2 417.1,412.3 417.3,412.4 417.4,412.0 417.5,412.3 417.6,413.9 417.7,412.9 417.8,413.4 417.9,409.7 418.0,411.4 418.1,406.9 418.2,407.8 418.4,412.4 418.5,408.0 418.6,402.6 418.7,399.8 418.8,395.6 418.9,402.2 419.0,398.3 419.1,396.6 419.2,397.9 419.3,393.0 419.5,391.2 419.6,393.6 419.7,391.7 419.8,389.1 419.9,391.5 420.0,390.3 420.1,389.9 420.2,386.2 420.3,389.9 420.4,392.7 420.6,397.0 420.7,398.7 420.8,397.2 420.9,398.4 421.0,402.0 421.1,397.1 421.2,397.0 421.3,400.8 421.4,401.2 421.5,402.4 421.7,400.5 421.8,399.2 421.9,400.7 422.0,399.1 422.1,405.3 422.2,405.8 422.3,404.4 422.4,410.1 422.5,413.5 422.6,411.1 422.8,414.0 422.9,415.6 423.0,405.3 423.1,411.4 423.2,410.6 423.3,409.3 423.4,416.6 423.5,418.5 423.6,417.0 423.7,413.1 423.9,415.1 424.0,414.8 424.1,418.1 424.2,415.2 424.3,415.9 424.4,413.1 424.5,415.3 424.6,412.7 424.7,418.9 424.8,415.1 425.0,419.0 425.1,421.6 425.2,419.9 425.3,425.5 425.4,417.9 425.5,417.4 425.6,420.1 425.7,421.0 425.8,422.9 425.9,425.6 426.1,422.6 426.2,422.2 426.3,430.5 426.4,424.8 426.5,424.7 426.6,430.0 426.7,422.8 426.8,431.5 426.9,426.4 427.0,430.0 427.2,428.9 427.3,427.4 427.4,427.3 427.5,429.2 427.6,428.5 427.7,427.3 427.8,426.6 427.9,432.2 428.0,428.8 428.1,435.3 428.3,426.0 428.4,433.8 428.5,433.0 428.6,432.3 428.7,429.5 428.8,429.9 428.9,426.5 429.0,429.6 429.1,433.4 429.2,435.2 429.4,429.7 429.5,437.7 429.6,432.5 429.7,430.5 429.8,429.8 429.9,432.7 430.0,426.5 430.1,433.4 430.2,431.7 430.3,429.9 430.5,434.6 430.6,433.4 430.7,435.0 430.8,435.5 430.9,436.3 431.0,434.4 431.1,433.7 431.2,434.1 431.3,431.0 431.4,437.5 431.6,432.9 431.7,432.6 431.8,432.2 431.9,432.6 432.0,430.4 432.1,430.3 432.2,427.7 432.3,426.9 432.4,427.7 432.5,428.9 432.7,426.8 432.8,430.7 432.9,429.0 433.0,423.9 433.1,421.8 433.2,422.1 433.3,423.7 433.4,420.9 433.5,422.5 433.6,421.9 433.8,416.6 433.9,418.6 434.0,417.4 434.1,413.6 434.2,417.8 434.3,415.6 434.4,412.6 434.5,410.3 434.6,403.6 434.7,408.5 434.9,409.6 435.0,407.5 435.1,402.4 435.2,405.3 435.3,397.1 435.4,399.9 435.5,399.8 435.6,402.5 435.7,399.3 435.8,399.7 436.0,396.9 436.1,392.4 436.2,390.8 436.3,394.5 436.4,387.6 436.5,374.0 436.6,366.5 436.7,358.8 436.8,352.9 436.9,358.3 437.1,369.4 437.2,377.3 437.3,382.3 437.4,390.1 437.5,390.0 437.6,401.0 437.7,399.6 437.8,397.4 437.9,396.4 438.0,397.6 438.2,403.5 438.3,411.1 438.4,407.0 438.5,403.4 438.6,408.0 438.7,406.8 438.8,409.4 438.9,413.3 439.0,410.1 439.1,416.2 439.3,416.6 439.4,409.1 439.5,421.5 439.6,416.2 439.7,428.2 439.8,422.8 439.9,422.8 440.0,423.5 440.1,419.1 440.2,425.3 440.4,422.8 440.5,417.7 440.6,424.7 440.7,419.1 440.8,420.3 440.9,428.3 441.0,430.1 441.1,425.3 441.2,426.0 441.3,428.6 441.5,432.8 441.6,425.7 441.7,427.7 441.8,431.7 441.9,430.3 442.0,428.6 442.1,430.7 442.2,428.5 442.3,429.0 442.4,427.2 442.6,432.9 442.7,429.3 442.8,431.3 442.9,425.6 443.0,426.1 443.1,426.8 443.2,425.8 443.3,424.6 443.4,425.5 443.5,425.1 443.7,425.4 443.8,424.8 443.9,425.4 444.0,424.9 444.1,428.8 444.2,426.3 444.3,429.5 444.4,432.2 444.5,426.3 444.6,427.1 444.8,430.1 444.9,432.1 445.0,435.3 445.1,434.3 445.2,428.5 445.3,432.0 445.4,433.5 445.5,429.0 445.6,424.8 445.7,424.8 445.9,429.4 446.0,425.7 446.1,429.7 446.2,425.6 446.3,426.9 446.4,431.8 446.5,428.2 446.6,431.4 446.7,431.6 446.8,427.2 447.0,431.0 447.1,433.1 447.2,426.7 447.3,434.1 447.4,429.2 447.5,430.3 447.6,432.7 447.7,428.7 447.8,424.7 447.9,430.5 448.1,422.0 448.2,427.0 448.3,428.3 448.4,425.3 448.5,432.4 448.6,426.9 448.7,424.7 448.8,425.2 448.9,426.0 449.0,424.4 449.2,424.2 449.3,425.9 449.4,422.7 449.5,418.0 449.6,420.2 449.7,415.7 449.8,415.1 449.9,412.1 450.0,410.9 450.1,409.8 450.3,409.3 450.4,404.3 450.5,400.5 450.6,403.9 450.7,404.1 450.8,394.5 450.9,398.7 451.0,398.9 451.1,401.1 451.2,397.8 451.4,399.3 451.5,401.7 451.6,402.0 451.7,403.8 451.8,400.5 451.9,399.3 452.0,402.8 452.1,402.9 452.2,400.3 452.3,402.1 452.5,405.7 452.6,401.3 452.7,402.2 452.8,402.7 452.9,393.9 453.0,386.2 453.1,376.7 453.2,365.2 453.3,358.6 453.4,365.9 453.6,390.4 453.7,410.4 453.8,425.5 453.9,439.5 454.0,444.4 454.1,440.1 454.2,432.9 454.3,427.8 454.4,418.8 454.5,413.7 454.7,414.4 454.8,417.8 454.9,413.5 455.0,417.9 455.1,417.0 455.2,416.5 455.3,420.8 455.4,420.0 455.5,419.2 455.6,421.7 455.8,424.2 455.9,421.2 456.0,428.3 456.1,416.6 456.2,421.5 456.3,424.4 456.4,427.5 456.5,421.7 456.6,423.4 456.7,417.4 456.9,429.1 457.0,422.0 457.1,421.4 457.2,428.7 457.3,426.0 457.4,430.1 457.5,431.3 457.6,435.5 457.7,426.9 457.8,429.0 458.0,435.2 458.1,430.1 458.2,427.8 458.3,430.6 458.4,433.2 458.5,430.5 458.6,430.2 458.7,428.1 458.8,423.2 458.9,432.5 459.1,429.0 459.2,425.6 459.3,433.9 459.4,433.4 459.5,433.9 459.6,432.4 459.7,428.5 459.8,430.1 459.9,427.5 460.0,424.8 460.2,427.8 460.3,426.7 460.4,430.6 460.5,430.6 460.6,434.4 460.7,433.9 460.8,433.7 460.9,435.3 461.0,434.7 461.1,433.3 461.3,433.3 461.4,433.1 461.5,431.3 461.6,435.0 461.7,431.4 461.8,429.9 461.9,430.0 462.0,428.8 462.1,430.5 462.2,426.0 462.4,431.6 462.5,432.3 462.6,426.9 462.7,429.1 462.8,433.9 462.9,432.7 463.0,428.9 463.1,429.4 463.2,436.4 463.3,429.6 463.5,429.2 463.6,433.1 463.7,432.2 463.8,428.6 463.9,428.3 464.0,424.9 464.1,428.2 464.2,429.8 464.3,428.1 464.4,422.9 464.6,424.8 464.7,423.6 464.8,425.9 464.9,423.2 465.0,423.3 465.1,428.6 465.2,421.0 465.3,423.1 465.4,424.6 465.5,431.0 465.7,428.0 465.8,424.5 465.9,428.8 466.0,423.2 466.1,420.1 466.2,418.7 466.3,422.1 466.4,418.3 466.5,418.5 466.6,408.4 466.8,413.8 466.9,412.8 467.0,407.5 467.1,402.9 467.2,405.1 467.3,405.4 467.4,404.0 467.5,405.7 467.6,405.7 467.7,401.2 467.9,398.7 468.0,394.3 468.1,392.1 468.2,390.2 468.3,392.1 468.4,394.4 468.5,393.2 468.6,400.3 468.7,396.5 468.8,410.8 469.0,413.2 469.1,424.5 469.2,433.0 469.3,437.6 469.4,432.5 469.5,422.4 469.6,416.1 469.7,413.3 469.8,405.3 469.9,410.4 470.1,409.4 470.2,410.8 470.3,413.2 470.4,411.6 470.5,416.7 470.6,414.7 470.7,415.9 470.8,421.4 470.9,424.6 471.0,421.9 471.2,412.5 471.3,422.8 471.4,420.7 471.5,417.2 471.6,421.8 471.7,424.1 471.8,422.5 471.9,425.4 472.0,422.4 472.1,427.2 472.3,424.6 472.4,419.7 472.5,429.6 472.6,424.3 472.7,425.5 472.8,427.6 472.9,430.1 473.0,428.7 473.1,428.8 473.2,430.0 473.4,431.5 473.5,435.7 473.6,429.2 473.7,437.1 473.8,432.4 473.9,431.6 474.0,431.1 474.1,427.1 474.2,430.2 474.3,433.4 474.5,427.9 474.6,426.7 474.7,433.0 474.8,434.8 474.9,428.1 475.0,434.7 475.1,427.3 475.2,428.7 475.3,426.5 475.4,430.3 475.6,427.2 475.7,431.0 475.8,434.7 475.9,432.5 476.0,428.4 476.1,431.2 476.2,433.1 476.3,432.8 476.4,436.0 476.5,436.5 476.7,432.4 476.8,433.0 476.9,436.8 477.0,434.1 477.1,432.5 477.2,429.6 477.3,427.6 477.4,435.3 477.5,428.3 477.6,437.4 477.8,427.9 477.9,433.5 478.0,427.0 478.1,431.8 478.2,426.6 478.3,429.0 478.4,428.2 478.5,433.4 478.6,430.9 478.7,434.8 478.9,430.7 479.0,436.4 479.1,428.7 479.2,430.6 479.3,432.8 479.4,432.4 479.5,428.0 479.6,433.7 479.7,433.4 479.8,433.3 480.0,428.9 480.1,431.4 480.2,430.6 480.3,430.7 480.4,432.0 480.5,430.4 480.6,431.1 480.7,427.5 480.8,425.6 480.9,427.1 481.1,425.3 481.2,427.0 481.3,426.7 481.4,420.1 481.5,425.2 481.6,417.5 481.7,418.1 481.8,415.4 481.9,418.8 482.0,415.7 482.2,413.1 482.3,412.1 482.4,413.5 482.5,409.4 482.6,404.6 482.7,403.6 482.8,410.7 482.9,407.5 483.0,398.9 483.1,405.0 483.3,399.3 483.4,401.5 483.5,399.7 483.6,395.9 483.7,395.2 483.8,395.8 483.9,392.8 484.0,399.6 484.1,394.4 484.2,392.5 484.4,389.9 484.5,393.5 484.6,388.1 484.7,391.2 484.8,397.6 484.9,393.3 485.0,390.4 485.1,395.8 485.2,397.2 485.3,397.2 485.5,398.8 485.6,401.2 485.7,401.0 485.8,400.5 485.9,400.0 486.0,407.6 486.1,401.4 486.2,408.9 486.3,410.7 486.4,406.5 486.6,413.4 486.7,416.4 486.8,414.3 486.9,413.2 487.0,414.5 487.1,414.9 487.2,416.9 487.3,417.1 487.4,417.4 487.5,418.9 487.7,421.3 487.8,420.7 487.9,420.2 488.0,419.5 488.1,420.5 488.2,422.7 488.3,418.1 488.4,415.2 488.5,420.0 488.6,418.3 488.8,417.4 488.9,421.1 489.0,423.3 489.1,420.5 489.2,421.3 489.3,427.1 489.4,420.5 489.5,424.3 489.6,418.0 489.7,425.0 489.9,421.1 490.0,423.1 490.1,420.0 490.2,429.9 490.3,426.8 490.4,430.1 490.5,426.4 490.6,429.2 490.7,429.5 490.8,425.4 491.0,425.9 491.1,428.7 491.2,428.4 491.3,426.1 491.4,429.4 491.5,425.8 491.6,429.7 491.7,426.2 491.8,432.0 491.9,432.3 492.1,434.4 492.2,432.5 492.3,428.5 492.4,433.5 492.5,426.3 492.6,433.8 492.7,431.9 492.8,429.6 492.9,427.3 493.0,428.8 493.2,429.2 493.3,429.9 493.4,429.6 493.5,430.7 493.6,424.3 493.7,428.8 493.8,432.0 493.9,429.1 494.0,436.0 494.1,430.6 494.3,427.1 494.4,426.5 494.5,425.9 494.6,427.0 494.7,431.1 494.8,432.4 494.9,429.8 495.0,434.2 495.1,430.2 495.2,430.7 495.4,429.3 495.5,427.7 495.6,430.3 495.7,429.2 495.8,427.0 495.9,424.0 496.0,429.9 496.1,426.9 496.2,425.4 496.3,426.9 496.5,428.9 496.6,422.5 496.7,428.3 496.8,426.6 496.9,425.8 497.0,427.7 497.1,424.9 497.2,418.8 497.3,418.6 497.4,418.9 497.6,417.9 497.7,416.4 497.8,415.1 497.9,422.1 498.0,415.6 498.1,413.9 498.2,416.4 498.3,409.4 498.4,410.5 498.5,405.9 498.7,410.6 498.8,404.0 498.9,408.5 499.0,401.2 499.1,403.6 499.2,399.7 499.3,398.2 499.4,400.3 499.5,401.7 499.6,395.8 499.8,397.3 499.9,395.1 500.0,396.1 500.1,396.2 500.2,393.1 500.3,392.8 500.4,390.6 500.5,387.0 500.6,383.5 500.7,376.6 500.9,367.7 501.0,363.1 501.1,368.2 501.2,374.2 501.3,384.0 501.4,390.6 501.5,391.0 501.6,398.3 501.7,392.4 501.8,395.3 502.0,399.2 502.1,401.5 502.2,403.9 502.3,401.2 502.4,402.0 502.5,399.5 502.6,402.9 502.7,402.2 502.8,396.6 502.9,398.6 503.1,408.6 503.2,406.2 503.3,408.3 503.4,405.6 503.5,406.7 503.6,404.4 503.7,406.3 503.8,411.5 503.9,414.2 504.0,413.2 504.2,402.8 504.3,408.8 504.4,413.3 504.5,412.3 504.6,413.8 504.7,407.4 504.8,409.8 504.9,412.1 505.0,417.4 505.1,413.0 505.3,415.0 505.4,412.7 505.5,413.2 505.6,413.7 505.7,416.6 505.8,415.2 505.9,421.9 506.0,419.6 506.1,416.5 506.2,419.0 506.4,415.8 506.5,417.7 506.6,421.1 506.7,413.5 506.8,420.6 506.9,421.1 507.0,423.3 507.1,414.8 507.2,416.1 507.3,425.0 507.5,425.6 507.6,427.2 507.7,424.7 507.8,425.3 507.9,421.5 508.0,425.3 508.1,425.9 508.2,420.9 508.3,428.2 508.4,430.3 508.6,428.4 508.7,427.3 508.8,429.1 508.9,429.2 509.0,430.9 509.1,426.4 509.2,432.0 509.3,430.0 509.4,431.0 509.5,430.4 509.7,435.7 509.8,432.5 509.9,430.4 510.0,432.3 510.1,433.6 510.2,432.8 510.3,431.2 510.4,434.1 510.5,434.2 510.6,427.7 510.8,430.4 510.9,429.6 511.0,429.9 511.1,429.9 511.2,432.8 511.3,432.5 511.4,428.7 511.5,433.1 511.6,429.6 511.7,436.0 511.9,429.8 512.0,441.2 512.1,435.4 512.2,433.5 512.3,431.0 512.4,431.1 512.5,427.0 512.6,425.1 512.7,422.1 512.8,424.9 513.0,423.9 513.1,423.6 513.2,413.8 513.3,422.8 513.4,422.7 513.5,420.3 513.6,417.0 513.7,417.6 513.8,421.1 513.9,419.3 514.1,418.7 514.2,410.2 514.3,411.0 514.4,409.8 514.5,406.4 514.6,412.7 514.7,405.5 514.8,408.9 514.9,406.1 515.0,405.7 515.2,404.1 515.3,408.2 515.4,399.4 515.5,400.1 515.6,400.8 515.7,404.3 515.8,397.7 515.9,399.9 516.0,397.2 516.1,398.0 516.3,387.3 516.4,386.9 516.5,380.6 516.6,373.8 516.7,371.0 516.8,374.2 516.9,377.8 517.0,383.0 517.1,388.3 517.2,389.3 517.4,390.0 517.5,387.6 517.6,385.3 517.7,393.2 517.8,398.5 517.9,396.3 518.0,395.8 518.1,397.3 518.2,398.1 518.3,404.2 518.5,401.4 518.6,406.5 518.7,407.6 518.8,414.8 518.9,417.3 519.0,416.8 519.1,417.2 519.2,414.2 519.3,417.5 519.4,419.9 519.6,416.1 519.7,410.7 519.8,417.7 519.9,414.9 520.0,413.5 520.1,414.7 520.2,413.5 520.3,419.6 520.4,416.2 520.5,412.0 520.7,415.8 520.8,421.6 520.9,419.9 521.0,425.4 521.1,422.5 521.2,422.2 521.3,422.0 521.4,427.3 521.5,419.5 521.6,424.1 521.8,423.4 521.9,426.3 522.0,425.6 522.1,419.2 522.2,421.1 522.3,424.2 522.4,429.4 522.5,424.7 522.6,430.9 522.7,426.7 522.9,426.6 523.0,424.2 523.1,423.7 523.2,424.1 523.3,423.3 523.4,424.3 523.5,424.1 523.6,423.7 523.7,424.6 523.8,425.5 524.0,425.7 524.1,426.0 524.2,432.5 524.3,426.8 524.4,430.9 524.5,430.7 524.6,433.4 524.7,436.3 524.8,432.7 524.9,436.4 525.1,430.3 525.2,434.2 525.3,431.0 525.4,429.5 525.5,433.7 525.6,435.7 525.7,428.8 525.8,427.4 525.9,429.9 526.0,424.0 526.2,430.8 526.3,435.0 526.4,429.1 526.5,428.0 526.6,429.5 526.7,427.8 526.8,427.0 526.9,430.6 527.0,431.0 527.1,430.6 527.3,428.6 527.4,427.2 527.5,424.3 527.6,424.3 527.7,427.7 527.8,422.0 527.9,425.4 528.0,423.7 528.1,421.3 528.2,420.5 528.4,422.2 528.5,419.5 528.6,422.6 528.7,414.6 528.8,414.8 528.9,419.7 529.0,420.1 529.1,414.7 529.2,415.5 529.3,416.4 529.5,411.8 529.6,417.7 529.7,413.6 529.8,413.9 529.9,416.7 530.0,412.4 530.1,417.6 530.2,416.3 530.3,412.3 530.4,409.7 530.6,411.2 530.7,407.0 530.8,409.1 530.9,405.5 531.0,405.3 531.1,406.4 531.2,400.2 531.3,404.5 531.4,404.1 531.5,403.8 531.7,403.5 531.8,397.5 531.9,401.7 532.0,396.1 532.1,397.7 532.2,397.4 532.3,395.3 532.4,396.8 532.5,393.7 532.6,392.5 532.8,385.4 532.9,382.8 533.0,371.5 533.1,363.3 533.2,358.6 533.3,363.3 533.4,371.8 533.5,380.0 533.6,384.0 533.7,396.2 533.9,393.4 534.0,397.0 534.1,398.7 534.2,402.5 534.3,404.1 534.4,401.6 534.5,398.0 534.6,402.4 534.7,402.4 534.8,403.6 535.0,405.5 535.1,407.8 535.2,407.9 535.3,410.5 535.4,411.6 535.5,411.2 535.6,414.3 535.7,413.4 535.8,414.1 535.9,414.6 536.1,422.2 536.2,422.9 536.3,414.8 536.4,416.1 536.5,418.0 536.6,417.9 536.7,425.1 536.8,419.3 536.9,421.2 537.0,424.5 537.2,425.6 537.3,422.6 537.4,422.5 537.5,425.6 537.6,427.1 537.7,423.4 537.8,427.3 537.9,423.6 538.0,418.8 538.1,428.8 538.3,428.8 538.4,429.9 538.5,433.7 538.6,432.6 538.7,428.5 538.8,429.4 538.9,432.9 539.0,431.0 539.1,429.9 539.2,429.0 539.4,429.0 539.5,432.5 539.6,429.6 539.7,426.5 539.8,427.3 539.9,431.1 540.0,427.1 540.1,432.1 540.2,429.9 540.3,433.8 540.5,431.2 540.6,436.5 540.7,436.7 540.8,434.6 540.9,435.3 541.0,437.7 541.1,435.7 541.2,433.8 541.3,437.4 541.4,433.0 541.6,436.5 541.7,432.2 541.8,433.1 541.9,428.4 542.0,437.8 542.1,428.1 542.2,434.0 542.3,432.5 542.4,433.7 542.5,428.8 542.7,433.4 542.8,432.1 542.9,430.8 543.0,430.0 543.1,430.2 543.2,434.9 543.3,434.3 543.4,437.9 543.5,433.7 543.6,440.6 543.8,429.7 543.9,429.4 544.0,438.1 544.1,439.1 544.2,437.3 544.3,432.6 544.4,431.4 544.5,428.9 544.6,433.2 544.7,430.1 544.9,435.8 545.0,428.3" fill="none" stroke="#E24A33" stroke-width="0.9" stroke-linejoin="round"/>
<polyline points="379.3,432.4 379.4,434.4 379.5,435.1 379.6,432.3 379.7,431.8 379.9,434.1 380.0,431.8 380.1,432.7 380.2,433.2 380.3,431.6 380.4,432.5 380.5,427.7 380.6,432.9 380.7,431.9 380.8,431.6 381.0,433.5 381.1,432.4 381.2,432.6 381.3,431.6 381.4,434.1 381.5,433.1 381.6,433.5 381.7,435.9 381.8,434.6 381.9,432.4 382.1,434.6 382.2,435.6 382.3,433.4 382.4,433.8 382.5,433.5 382.6,432.4 382.7,435.0 382.8,434.5 382.9,434.5 383.0,434.1 383.2,433.7 383.3,435.9 383.4,433.1 383.5,430.3 383.6,432.4 383.7,433.3 383.8,432.4 383.9,430.8 384.0,429.4 384.1,433.9 384.3,429.9 384.4,431.5 384.5,430.4 384.6,428.9 384.7,428.3 384.8,426.6 384.9,425.0 385.0,425.1 385.1,424.9 385.2,427.7 385.4,422.7 385.5,425.0 385.6,422.0 385.7,420.7 385.8,419.3 385.9,420.4 386.0,417.8 386.1,417.9 386.2,416.3 386.3,412.3 386.5,415.4 386.6,411.9 386.7,410.5 386.8,409.2 386.9,406.8 387.0,407.8 387.1,407.7 387.2,404.4 387.3,403.7 387.4,404.0 387.6,402.0 387.7,399.7 387.8,401.7 387.9,399.7 388.0,398.7 388.1,396.2 388.2,397.9 388.3,396.4 388.4,398.2 388.5,395.5 388.7,397.1 388.8,401.4 388.9,402.4 389.0,401.3 389.1,401.3 389.2,398.9 389.3,403.5 389.4,403.4 389.5,402.2 389.6,404.1 389.8,404.9 389.9,408.3 390.0,408.2 390.1,412.0 390.2,411.5 390.3,409.8 390.4,410.6 390.5,409.1 390.6,412.3 390.7,410.9 390.9,412.7 391.0,413.6 391.1,413.9 391.2,413.9 391.3,416.5 391.4,417.0 391.5,413.3 391.6,416.8 391.7,418.5 391.8,419.3 392.0,420.5 392.1,422.1 392.2,422.3 392.3,422.7 392.4,425.4 392.5,425.2 392.6,424.5 392.7,427.0 392.8,426.5 392.9,424.1 393.1,427.4 393.2,424.5 393.3,425.7 393.4,423.2 393.5,428.0 393.6,425.1 393.7,428.6 393.8,431.0 393.9,428.7 394.0,428.9 394.2,428.7 394.3,429.9 394.4,432.0 394.5,428.1 394.6,430.2 394.7,433.4 394.8,431.1 394.9,433.2 395.0,432.5 395.1,430.7 395.3,431.5 395.4,433.4 395.5,431.0 395.6,431.5 395.7,432.3 395.8,431.2 395.9,430.9 396.0,431.7 396.1,430.8 396.2,431.4 396.4,432.4 396.5,434.8 396.6,432.7 396.7,431.9 396.8,437.6 396.9,434.8 397.0,431.1 397.1,433.1 397.2,431.5 397.3,435.0 397.5,431.9 397.6,432.1 397.7,435.1 397.8,431.5 397.9,431.4 398.0,431.9 398.1,432.5 398.2,432.4 398.3,432.9 398.4,430.6 398.6,432.5 398.7,429.3 398.8,432.7 398.9,432.3 399.0,435.3 399.1,432.8 399.2,431.5 399.3,430.3 399.4,428.9 399.5,429.1 399.7,428.0 399.8,429.1 399.9,427.9 400.0,428.6 400.1,430.6 400.2,427.8 400.3,428.0 400.4,427.1 400.5,431.9 400.6,431.0 400.8,429.6 400.9,428.7 401.0,426.0 401.1,428.0 401.2,425.7 401.3,425.9 401.4,424.7 401.5,419.6 401.6,419.6 401.7,420.4 401.9,421.8 402.0,418.7 402.1,419.9 402.2,418.4 402.3,416.5 402.4,418.4 402.5,414.5 402.6,413.3 402.7,415.9 402.8,415.1 403.0,412.7 403.1,413.3 403.2,410.0 403.3,409.3 403.4,410.0 403.5,409.4 403.6,408.5 403.7,404.9 403.8,406.9 403.9,402.7 404.1,402.9 404.2,406.0 404.3,402.1 404.4,398.6 404.5,398.8 404.6,396.3 404.7,395.2 404.8,393.6 404.9,392.9 405.0,391.7 405.2,391.0 405.3,392.0 405.4,388.1 405.5,386.7 405.6,384.1 405.7,388.3 405.8,386.5 405.9,388.4 406.0,386.9 406.1,389.1 406.3,386.1 406.4,386.7 406.5,389.4 406.6,391.5 406.7,394.6 406.8,396.8 406.9,396.2 407.0,399.0 407.1,401.4 407.2,405.3 407.4,404.5 407.5,405.8 407.6,406.2 407.7,406.1 407.8,403.5 407.9,409.7 408.0,408.1 408.1,407.2 408.2,408.8 408.3,408.7 408.5,410.1 408.6,409.3 408.7,413.9 408.8,411.7 408.9,413.6 409.0,413.1 409.1,415.9 409.2,417.3 409.3,416.1 409.4,415.4 409.6,417.2 409.7,417.0 409.8,418.6 409.9,418.4 410.0,419.4 410.1,418.9 410.2,419.4 410.3,419.4 410.4,422.0 410.5,420.4 410.7,421.1 410.8,420.0 410.9,420.2 411.0,418.9 411.1,419.7 411.2,420.8 411.3,418.9 411.4,421.0 411.5,420.4 411.6,422.1 411.8,422.5 411.9,425.6 412.0,425.0 412.1,423.5 412.2,424.4 412.3,424.9 412.4,425.4 412.5,428.1 412.6,427.2 412.7,428.1 412.9,429.0 413.0,427.0 413.1,427.5 413.2,429.4 413.3,428.3 413.4,426.8 413.5,428.2 413.6,427.8 413.7,427.0 413.8,429.2 414.0,426.9 414.1,427.6 414.2,428.0 414.3,429.6 414.4,428.9 414.5,426.9 414.6,427.2 414.7,426.7 414.8,427.6 414.9,426.6 415.1,424.8 415.2,426.6 415.3,422.9 415.4,423.4 415.5,421.1 415.6,424.4 415.7,422.8 415.8,422.6 415.9,425.0 416.0,420.6 416.2,420.3 416.3,419.0 416.4,419.9 416.5,418.2 416.6,419.2 416.7,418.8 416.8,417.9 416.9,417.2 417.0,416.8 417.1,416.3 417.3,415.0 417.4,415.8 417.5,413.2 417.6,412.9 417.7,413.8 417.8,415.2 417.9,412.7 418.0,411.6 418.1,411.2 418.2,412.9 418.4,409.4 418.5,408.5 418.6,406.4 418.7,404.0 418.8,402.8 418.9,402.2 419.0,399.8 419.1,395.9 419.2,397.3 419.3,395.8 419.5,393.5 419.6,395.2 419.7,392.0 419.8,390.7 419.9,387.6 420.0,392.3 420.1,391.2 420.2,390.1 420.3,389.8 420.4,385.9 420.6,385.6 420.7,387.7 420.8,388.4 420.9,389.1 421.0,393.5 421.1,396.3 421.2,396.3 421.3,400.4 421.4,400.4 421.5,402.2 421.7,402.8 421.8,403.2 421.9,406.7 422.0,403.9 422.1,407.7 422.2,407.9 422.3,406.2 422.4,409.0 422.5,409.4 422.6,412.2 422.8,410.7 422.9,410.5 423.0,412.1 423.1,413.9 423.2,411.8 423.3,412.4 423.4,415.1 423.5,417.6 423.6,413.1 423.7,418.7 423.9,417.7 424.0,419.2 424.1,419.6 424.2,419.3 424.3,419.5 424.4,424.0 424.5,419.9 424.6,421.7 424.7,424.4 424.8,422.9 425.0,424.3 425.1,423.3 425.2,422.7 425.3,425.4 425.4,425.1 425.5,425.7 425.6,427.9 425.7,427.1 425.8,428.1 425.9,427.5 426.1,430.9 426.2,429.9 426.3,429.6 426.4,428.3 426.5,428.6 426.6,428.7 426.7,428.5 426.8,432.1 426.9,428.8 427.0,431.3 427.2,431.6 427.3,430.4 427.4,430.3 427.5,429.2 427.6,430.7 427.7,430.1 427.8,432.9 427.9,430.9 428.0,431.4 428.1,433.2 428.3,430.6 428.4,432.2 428.5,435.2 428.6,432.8 428.7,434.1 428.8,429.3 428.9,432.4 429.0,432.8 429.1,431.6 429.2,434.4 429.4,431.3 429.5,433.0 429.6,434.6 429.7,434.7 429.8,434.6 429.9,433.7 430.0,434.7 430.1,433.8 430.2,436.8 430.3,434.7 430.5,433.9 430.6,436.3 430.7,437.0 430.8,435.4 430.9,434.6 431.0,433.6 431.1,435.0 431.2,436.9 431.3,435.9 431.4,432.7 431.6,435.3 431.7,431.9 431.8,434.6 431.9,435.4 432.0,431.9 432.1,433.7 432.2,431.9 432.3,432.3 432.4,433.2 432.5,433.5 432.7,431.4 432.8,433.3 432.9,430.7 433.0,425.9 433.1,429.5 433.2,428.2 433.3,422.3 433.4,424.3 433.5,424.7 433.6,422.6 433.8,420.8 433.9,420.0 434.0,419.8 434.1,418.8 434.2,418.8 434.3,418.1 434.4,418.7 434.5,415.2 434.6,415.6 434.7,414.5 434.9,412.8 435.0,411.9 435.1,407.5 435.2,407.4 435.3,408.3 435.4,405.0 435.5,403.0 435.6,402.6 435.7,399.2 435.8,395.8 436.0,395.5 436.1,394.0 436.2,391.0 436.3,392.8 436.4,390.1 436.5,388.3 436.6,386.8 436.7,389.3 436.8,389.6 436.9,384.5 437.1,385.2 437.2,385.6 437.3,390.2 437.4,390.9 437.5,394.4 437.6,395.6 437.7,396.3 437.8,401.8 437.9,402.6 438.0,403.9 438.2,404.8 438.3,407.8 438.4,409.6 438.5,408.8 438.6,413.0 438.7,413.2 438.8,412.5 438.9,414.7 439.0,413.8 439.1,416.1 439.3,415.6 439.4,416.6 439.5,422.2 439.6,420.6 439.7,422.1 439.8,420.0 439.9,421.9 440.0,422.0 440.1,419.5 440.2,422.4 440.4,422.9 440.5,422.6 440.6,424.7 440.7,424.8 440.8,423.5 440.9,424.8 441.0,426.0 441.1,427.1 441.2,427.5 441.3,426.5 441.5,428.7 441.6,428.4 441.7,425.6 441.8,426.3 441.9,427.1 442.0,427.8 442.1,427.8 442.2,428.8 442.3,428.8 442.4,429.4 442.6,431.1 442.7,430.8 442.8,428.5 442.9,432.7 443.0,433.6 443.1,430.9 443.2,434.1 443.3,432.2 443.4,430.4 443.5,434.3 443.7,432.4 443.8,432.4 443.9,435.7 444.0,435.1 444.1,433.5 444.2,433.1 444.3,434.0 444.4,434.1 444.5,434.7 444.6,429.4 444.8,433.3 444.9,433.4 445.0,432.4 445.1,432.6 445.2,433.5 445.3,430.5 445.4,430.8 445.5,432.1 445.6,432.1 445.7,431.9 445.9,432.7 446.0,435.5 446.1,432.3 446.2,433.4 446.3,433.8 446.4,431.8 446.5,431.1 446.6,432.6 446.7,432.3 446.8,430.6 447.0,432.3 447.1,431.8 447.2,431.7 447.3,433.2 447.4,429.6 447.5,432.5 447.6,431.1 447.7,431.0 447.8,430.8 447.9,429.7 448.1,431.7 448.2,433.6 448.3,431.6 448.4,432.7 448.5,429.1 448.6,428.6 448.7,428.3 448.8,426.4 448.9,425.0 449.0,426.3 449.2,425.0 449.3,424.1 449.4,422.5 449.5,421.0 449.6,419.5 449.7,421.1 449.8,418.9 449.9,419.2 450.0,417.1 450.1,417.5 450.3,412.6 450.4,413.6 450.5,409.9 450.6,411.6 450.7,409.2 450.8,408.7 450.9,404.1 451.0,408.1 451.1,403.9 451.2,402.8 451.4,399.4 451.5,400.0 451.6,401.9 451.7,402.5 451.8,399.9 451.9,398.0 452.0,399.2 452.1,396.0 452.2,397.0 452.3,395.6 452.5,397.7 452.6,395.2 452.7,398.5 452.8,400.6 452.9,402.9 453.0,400.6 453.1,403.0 453.2,401.5 453.3,407.0 453.4,406.2 453.6,407.2 453.7,408.3 453.8,412.2 453.9,411.4 454.0,410.5 454.1,414.5 454.2,414.9 454.3,414.3 454.4,413.5 454.5,415.7 454.7,417.4 454.8,417.3 454.9,419.1 455.0,421.6 455.1,420.0 455.2,423.1 455.3,423.1 455.4,422.4 455.5,425.7 455.6,425.6 455.8,423.6 455.9,423.6 456.0,426.6 456.1,425.4 456.2,422.8 456.3,424.4 456.4,426.8 456.5,425.9 456.6,428.6 456.7,428.1 456.9,430.1 457.0,430.6 457.1,431.5 457.2,431.5 457.3,431.3 457.4,429.6 457.5,432.0 457.6,429.6 457.7,428.5 457.8,431.7 458.0,429.4 458.1,433.0 458.2,427.7 458.3,431.0 458.4,431.6 458.5,430.8 458.6,433.1 458.7,431.0 458.8,432.1 458.9,430.6 459.1,432.8 459.2,430.5 459.3,432.2 459.4,432.2 459.5,429.3 459.6,435.9 459.7,432.8 459.8,433.9 459.9,434.7 460.0,433.2 460.2,432.9 460.3,430.4 460.4,433.2 460.5,434.1 460.6,434.3 460.7,433.6 460.8,433.5 460.9,433.2 461.0,433.6 461.1,434.5 461.3,434.5 461.4,435.0 461.5,431.1 461.6,431.8 461.7,433.8 461.8,432.9 461.9,432.3 462.0,432.5 462.1,432.7 462.2,433.3 462.4,436.4 462.5,435.9 462.6,433.5 462.7,434.1 462.8,436.0 462.9,432.9 463.0,434.3 463.1,433.0 463.2,432.0 463.3,433.4 463.5,433.0 463.6,434.6 463.7,431.4 463.8,434.3 463.9,431.9 464.0,431.3 464.1,429.3 464.2,427.4 464.3,430.3 464.4,427.8 464.6,428.1 464.7,427.3 464.8,424.2 464.9,426.0 465.0,426.1 465.1,425.4 465.2,425.0 465.3,424.6 465.4,422.8 465.5,423.3 465.7,422.3 465.8,421.7 465.9,421.0 466.0,420.4 466.1,422.3 466.2,417.5 466.3,415.9 466.4,417.2 466.5,414.6 466.6,414.9 466.8,413.5 466.9,412.4 467.0,410.0 467.1,408.5 467.2,409.5 467.3,407.9 467.4,403.2 467.5,402.5 467.6,403.1 467.7,401.1 467.9,398.5 468.0,399.1 468.1,399.2 468.2,396.8 468.3,397.1 468.4,394.5 468.5,396.7 468.6,396.4 468.7,395.1 468.8,395.9 469.0,399.4 469.1,400.4 469.2,401.6 469.3,402.1 469.4,403.4 469.5,404.8 469.6,406.4 469.7,408.0 469.8,408.2 469.9,412.0 470.1,409.5 470.2,410.5 470.3,411.8 470.4,414.2 470.5,415.0 470.6,413.2 470.7,413.1 470.8,414.3 470.9,416.6 471.0,417.3 471.2,420.6 471.3,420.9 471.4,418.9 471.5,416.9 471.6,419.6 471.7,420.4 471.8,422.0 471.9,423.4 472.0,421.4 472.1,424.5 472.3,425.1 472.4,421.8 472.5,423.8 472.6,428.4 472.7,426.4 472.8,427.3 472.9,433.0 473.0,428.4 473.1,428.2 473.2,425.6 473.4,428.1 473.5,428.6 473.6,426.3 473.7,429.8 473.8,427.0 473.9,431.0 474.0,430.2 474.1,429.1 474.2,431.7 474.3,433.1 474.5,432.6 474.6,430.6 474.7,433.3 474.8,431.6 474.9,433.6 475.0,433.7 475.1,432.4 475.2,434.2 475.3,432.5 475.4,434.4 475.6,432.8 475.7,434.4 475.8,433.7 475.9,432.6 476.0,435.2 476.1,430.7 476.2,433.5 476.3,432.3 476.4,432.8 476.5,433.4 476.7,432.9 476.8,434.5 476.9,432.8 477.0,431.4 477.1,435.6 477.2,433.0 477.3,435.8 477.4,434.6 477.5,433.9 477.6,432.3 477.8,435.2 477.9,432.5 478.0,431.6 478.1,431.8 478.2,433.2 478.3,435.7 478.4,435.7 478.5,435.0 478.6,433.8 478.7,434.7 478.9,436.2 479.0,435.1 479.1,434.5 479.2,436.5 479.3,433.7 479.4,434.8 479.5,432.2 479.6,432.7 479.7,433.5 479.8,433.1 480.0,433.8 480.1,431.7 480.2,433.0 480.3,433.1 480.4,431.0 480.5,431.7 480.6,431.4 480.7,428.7 480.8,432.0 480.9,429.3 481.1,429.3 481.2,425.1 481.3,426.3 481.4,424.9 481.5,422.6 481.6,419.9 481.7,420.0 481.8,416.3 481.9,418.2 482.0,417.5 482.2,416.4 482.3,415.4 482.4,413.0 482.5,412.0 482.6,410.3 482.7,407.4 482.8,403.5 482.9,402.3 483.0,400.1 483.1,399.7 483.3,398.0 483.4,396.0 483.5,393.8 483.6,393.4 483.7,391.7 483.8,393.9 483.9,392.8 484.0,395.6 484.1,391.5 484.2,388.2 484.4,393.1 484.5,389.9 484.6,392.2 484.7,393.0 484.8,394.1 484.9,397.8 485.0,398.2 485.1,399.6 485.2,400.1 485.3,401.7 485.5,403.5 485.6,405.4 485.7,406.2 485.8,404.4 485.9,408.2 486.0,408.4 486.1,408.1 486.2,411.2 486.3,413.0 486.4,411.9 486.6,415.7 486.7,412.0 486.8,413.8 486.9,414.8 487.0,415.2 487.1,416.7 487.2,414.3 487.3,415.1 487.4,419.3 487.5,417.3 487.7,418.1 487.8,419.0 487.9,420.0 488.0,419.8 488.1,419.2 488.2,420.4 488.3,421.3 488.4,422.3 488.5,424.1 488.6,421.0 488.8,423.4 488.9,424.0 489.0,423.6 489.1,421.0 489.2,423.2 489.3,424.6 489.4,424.8 489.5,425.6 489.6,426.0 489.7,427.6 489.9,425.4 490.0,425.7 490.1,426.4 490.2,430.1 490.3,428.3 490.4,431.2 490.5,430.7 490.6,429.2 490.7,428.3 490.8,429.4 491.0,429.0 491.1,428.8 491.2,427.1 491.3,428.4 491.4,428.5 491.5,429.4 491.6,430.0 491.7,429.5 491.8,429.8 491.9,433.1 492.1,431.8 492.2,433.9 492.3,432.7 492.4,431.6 492.5,433.1 492.6,433.4 492.7,432.8 492.8,433.1 492.9,433.0 493.0,433.6 493.2,434.7 493.3,430.7 493.4,433.9 493.5,433.6 493.6,432.8 493.7,435.8 493.8,434.2 493.9,436.4 494.0,436.0 494.1,436.1 494.3,433.8 494.4,433.9 494.5,433.6 494.6,431.8 494.7,432.5 494.8,434.0 494.9,431.1 495.0,433.7 495.1,431.5 495.2,431.0 495.4,433.2 495.5,431.3 495.6,433.3 495.7,432.3 495.8,430.5 495.9,428.4 496.0,428.6 496.1,431.1 496.2,431.0 496.3,427.4 496.5,425.5 496.6,427.8 496.7,428.5 496.8,428.7 496.9,428.2 497.0,424.3 497.1,422.6 497.2,421.9 497.3,423.1 497.4,420.9 497.6,421.4 497.7,420.6 497.8,420.1 497.9,418.0 498.0,418.5 498.1,415.8 498.2,416.5 498.3,415.5 498.4,414.5 498.5,413.6 498.7,413.4 498.8,411.8 498.9,410.7 499.0,408.9 499.1,405.3 499.2,407.3 499.3,406.8 499.4,401.5 499.5,404.2 499.6,401.7 499.8,399.3 499.9,397.9 500.0,396.9 500.1,395.0 500.2,394.3 500.3,394.2 500.4,394.7 500.5,391.2 500.6,391.4 500.7,390.0 500.9,389.8 501.0,388.6 501.1,390.2 501.2,391.6 501.3,391.1 501.4,394.5 501.5,395.1 501.6,394.7 501.7,397.5 501.8,395.9 502.0,397.7 502.1,397.5 502.2,397.8 502.3,402.5 502.4,400.2 502.5,399.9 502.6,401.4 502.7,402.5 502.8,400.9 502.9,403.1 503.1,406.4 503.2,406.5 503.3,405.9 503.4,404.6 503.5,410.0 503.6,410.1 503.7,408.9 503.8,409.1 503.9,410.8 504.0,412.3 504.2,412.6 504.3,412.3 504.4,412.1 504.5,413.2 504.6,413.1 504.7,415.0 504.8,417.3 504.9,415.2 505.0,415.9 505.1,416.7 505.3,417.9 505.4,415.8 505.5,418.2 505.6,417.8 505.7,417.5 505.8,420.7 505.9,418.6 506.0,418.5 506.1,419.3 506.2,419.6 506.4,419.8 506.5,421.0 506.6,419.8 506.7,422.9 506.8,421.8 506.9,422.6 507.0,422.1 507.1,422.6 507.2,425.3 507.3,424.9 507.5,424.1 507.6,424.8 507.7,423.5 507.8,426.4 507.9,427.3 508.0,425.5 508.1,426.2 508.2,425.8 508.3,428.0 508.4,426.9 508.6,427.2 508.7,428.4 508.8,428.6 508.9,429.6 509.0,430.2 509.1,428.4 509.2,430.3 509.3,430.1 509.4,430.7 509.5,428.9 509.7,428.9 509.8,431.1 509.9,430.0 510.0,431.6 510.1,433.7 510.2,432.4 510.3,430.8 510.4,434.0 510.5,430.1 510.6,428.9 510.8,434.5 510.9,430.5 511.0,431.7 511.1,429.5 511.2,431.5 511.3,431.1 511.4,434.3 511.5,430.3 511.6,432.5 511.7,431.8 511.9,432.6 512.0,431.6 512.1,431.7 512.2,428.6 512.3,430.6 512.4,427.3 512.5,429.3 512.6,429.2 512.7,427.3 512.8,428.2 513.0,428.4 513.1,427.9 513.2,426.4 513.3,425.6 513.4,426.3 513.5,424.3 513.6,422.3 513.7,419.9 513.8,419.7 513.9,419.1 514.1,417.2 514.2,417.0 514.3,415.8 514.4,413.0 514.5,412.4 514.6,413.6 514.7,413.4 514.8,412.6 514.9,410.6 515.0,409.4 515.2,407.1 515.3,407.1 515.4,403.4 515.5,401.9 515.6,403.2 515.7,401.7 515.8,403.0 515.9,398.9 516.0,397.3 516.1,396.4 516.3,395.3 516.4,395.7 516.5,394.2 516.6,394.0 516.7,391.0 516.8,391.5 516.9,392.6 517.0,390.5 517.1,388.4 517.2,388.1 517.4,392.6 517.5,393.1 517.6,391.4 517.7,394.5 517.8,397.6 517.9,398.8 518.0,397.0 518.1,400.5 518.2,402.2 518.3,404.1 518.5,405.1 518.6,403.7 518.7,409.2 518.8,409.0 518.9,409.1 519.0,409.9 519.1,410.7 519.2,412.7 519.3,413.8 519.4,411.6 519.6,414.1 519.7,414.3 519.8,416.2 519.9,415.5 520.0,417.0 520.1,415.4 520.2,417.4 520.3,417.5 520.4,419.9 520.5,420.9 520.7,422.1 520.8,419.7 520.9,421.2 521.0,422.2 521.1,424.2 521.2,423.9 521.3,425.3 521.4,423.8 521.5,426.5 521.6,425.7 521.8,425.2 521.9,426.6 522.0,427.2 522.1,427.4 522.2,424.7 522.3,427.0 522.4,426.3 522.5,426.6 522.6,426.4 522.7,430.9 522.9,428.6 523.0,427.5 523.1,428.0 523.2,428.7 523.3,427.3 523.4,428.3 523.5,428.7 523.6,428.6 523.7,428.5 523.8,428.0 524.0,432.1 524.1,429.0 524.2,429.4 524.3,428.7 524.4,432.6 524.5,429.8 524.6,431.6 524.7,428.8 524.8,431.3 524.9,433.7 525.1,432.4 525.2,431.7 525.3,432.2 525.4,433.9 525.5,434.0 525.6,432.3 525.7,430.6 525.8,431.8 525.9,431.5 526.0,431.6 526.2,433.0 526.3,431.1 526.4,429.2 526.5,434.4 526.6,429.1 526.7,431.0 526.8,431.0 526.9,428.8 527.0,433.1 527.1,431.6 527.3,429.1 527.4,427.8 527.5,429.9 527.6,431.4 527.7,429.0 527.8,426.0 527.9,426.8 528.0,425.5 528.1,425.0 528.2,425.1 528.4,422.4 528.5,421.0 528.6,422.7 528.7,420.6 528.8,420.4 528.9,419.4 529.0,418.1 529.1,419.6 529.2,417.5 529.3,415.6 529.5,416.8 529.6,413.7 529.7,416.3 529.8,412.2 529.9,413.7 530.0,411.9 530.1,413.6 530.2,412.3 530.3,411.5 530.4,412.8 530.6,408.8 530.7,410.5 530.8,408.2 530.9,410.8 531.0,408.8 531.1,409.1 531.2,407.5 531.3,405.6 531.4,402.6 531.5,400.3 531.7,402.2 531.8,400.3 531.9,397.6 532.0,399.5 532.1,397.4 532.2,397.1 532.3,397.0 532.4,393.8 532.5,395.2 532.6,394.3 532.8,391.9 532.9,391.2 533.0,391.7 533.1,392.0 533.2,394.0 533.3,390.3 533.4,393.0 533.5,393.4 533.6,395.5 533.7,394.7 533.9,398.1 534.0,401.3 534.1,401.3 534.2,400.9 534.3,404.4 534.4,404.8 534.5,406.5 534.6,408.9 534.7,408.7 534.8,410.5 535.0,413.7 535.1,413.3 535.2,412.0 535.3,410.2 535.4,413.5 535.5,413.7 535.6,414.0 535.7,416.6 535.8,416.1 535.9,419.2 536.1,417.2 536.2,419.0 536.3,422.2 536.4,419.7 536.5,419.3 536.6,418.5 536.7,422.0 536.8,421.8 536.9,424.8 537.0,421.3 537.2,422.9 537.3,424.4 537.4,425.6 537.5,424.5 537.6,423.8 537.7,428.2 537.8,423.9 537.9,425.7 538.0,424.3 538.1,428.8 538.3,426.0 538.4,430.5 538.5,430.9 538.6,427.9 538.7,433.0 538.8,432.1 538.9,430.4 539.0,435.6 539.1,433.1 539.2,433.8 539.4,434.0 539.5,433.4 539.6,433.6 539.7,433.6 539.8,432.6 539.9,431.4 540.0,433.8 540.1,433.0 540.2,431.7 540.3,432.5 540.5,432.5 540.6,434.8 540.7,433.9 540.8,430.9 540.9,433.1 541.0,431.9 541.1,432.2 541.2,433.9 541.3,432.4 541.4,431.5 541.6,433.3 541.7,432.5 541.8,433.9 541.9,432.5 542.0,436.2 542.1,435.2 542.2,433.1 542.3,435.3 542.4,433.6 542.5,433.7 542.7,436.4 542.8,433.2 542.9,435.3 543.0,434.7 543.1,436.8 543.2,435.5 543.3,433.3 543.4,436.2 543.5,435.6 543.6,435.8 543.8,435.9 543.9,436.3 544.0,433.8 544.1,432.4 544.2,433.0 544.3,431.9 544.4,432.2 544.5,436.0 544.6,433.3 544.7,433.4 544.9,434.0 545.0,433.1" fill="none" stroke="#348ABD" stroke-width="1.15" stroke-linejoin="round"/>
<line x1="377.29999999999995" x2="378.9" y1="354.1" y2="354.1" stroke="#666" stroke-width="0.5"/>
<text class="tk" transform="translate(373.5,356.9) scale(0.82,1)" text-anchor="end">70</text>
<line x1="377.29999999999995" x2="378.9" y1="368.3" y2="368.3" stroke="#666" stroke-width="0.5"/>
<text class="tk" transform="translate(373.5,371.1) scale(0.82,1)" text-anchor="end">60</text>
<line x1="377.29999999999995" x2="378.9" y1="382.6" y2="382.6" stroke="#666" stroke-width="0.5"/>
<text class="tk" transform="translate(373.5,385.4) scale(0.82,1)" text-anchor="end">50</text>
<line x1="377.29999999999995" x2="378.9" y1="396.8" y2="396.8" stroke="#666" stroke-width="0.5"/>
<text class="tk" transform="translate(373.5,399.6) scale(0.82,1)" text-anchor="end">40</text>
<line x1="377.29999999999995" x2="378.9" y1="411" y2="411" stroke="#666" stroke-width="0.5"/>
<text class="tk" transform="translate(373.5,413.8) scale(0.82,1)" text-anchor="end">30</text>
<line x1="377.29999999999995" x2="378.9" y1="425.3" y2="425.3" stroke="#666" stroke-width="0.5"/>
<text class="tk" transform="translate(373.5,428.1) scale(0.82,1)" text-anchor="end">20</text>
<line x1="377.29999999999995" x2="378.9" y1="439.5" y2="439.5" stroke="#666" stroke-width="0.5"/>
<text class="tk" transform="translate(373.5,442.3) scale(0.82,1)" text-anchor="end">10</text>
<text class="tk" transform="translate(375.8,457.6) scale(0.82,1)" text-anchor="middle">0</text>
<line x1="409.7" x2="409.7" y1="448.3" y2="449.90000000000003" stroke="#666" stroke-width="0.5"/>
<text class="tk" transform="translate(409.7,457.6) scale(0.82,1)" text-anchor="middle">500</text>
<line x1="441.2" x2="441.2" y1="448.3" y2="449.90000000000003" stroke="#666" stroke-width="0.5"/>
<text class="tk" transform="translate(441.2,457.6) scale(0.82,1)" text-anchor="middle">1000</text>
<line x1="474.5" x2="474.5" y1="448.3" y2="449.90000000000003" stroke="#666" stroke-width="0.5"/>
<text class="tk" transform="translate(474.5,457.6) scale(0.82,1)" text-anchor="middle">1500</text>
<line x1="505.6" x2="505.6" y1="448.3" y2="449.90000000000003" stroke="#666" stroke-width="0.5"/>
<text class="tk" transform="translate(505.6,457.6) scale(0.82,1)" text-anchor="middle">2000</text>
<line x1="538" x2="538" y1="448.3" y2="449.90000000000003" stroke="#666" stroke-width="0.5"/>
<text class="tk" transform="translate(538.0,457.6) scale(0.82,1)" text-anchor="middle">2500</text>
<text class="tt" x="395.5" y="343.8" textLength="44.2" lengthAdjust="spacingAndGlyphs">Southbound (</text>
<text class="tt tm" x="439.9" y="343.8" textLength="90.8" lengthAdjust="spacingAndGlyphs">100%<tspan dx="4.8">−</tspan><tspan dx="2.6" class="mi">MAPE</tspan><tspan dx="0.6">:</tspan><tspan dx="1.3">88.6%)</tspan></text>
<text class="al" transform="translate(365.3,400.1) rotate(-90)" text-anchor="middle">Speed</text>
<text class="al" x="459.1" y="467.4" text-anchor="middle">Time</text></g>
<text class="cap" x="267.2" y="148.1" text-anchor="middle">(a)</text>
<text class="cap" x="264.1" y="313.1" text-anchor="middle">(b)</text>
<text class="cap" x="269" y="480.8" text-anchor="middle">(c)</text>
</svg>
</body></html>
